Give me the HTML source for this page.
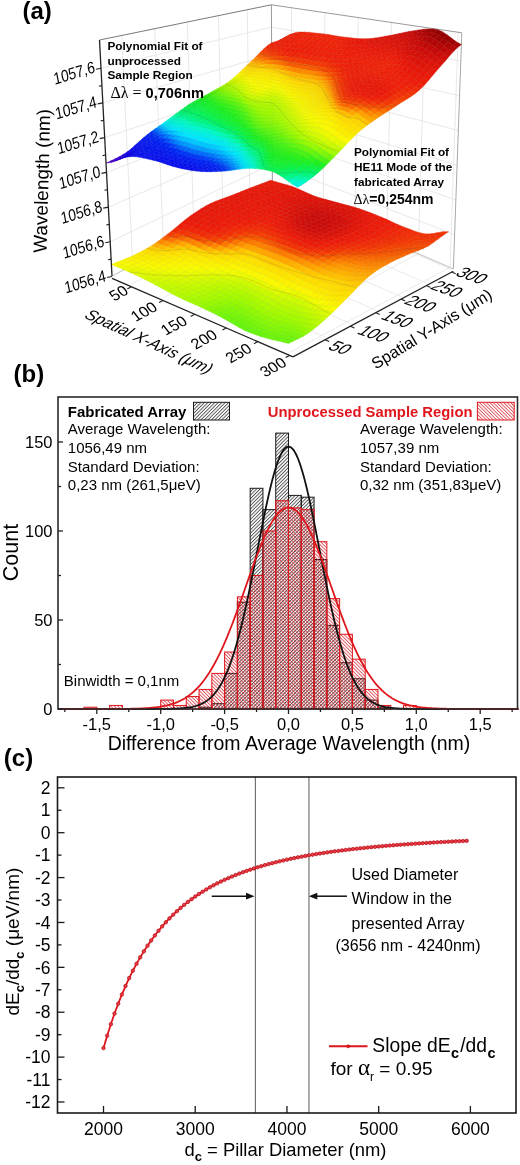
<!DOCTYPE html>
<html><head><meta charset="utf-8"><title>Figure</title>
<style>html,body{margin:0;padding:0;background:#fff;}svg{display:block;}</style></head>
<body><svg width="520" height="1165" viewBox="0 0 520 1165" font-family='"Liberation Sans", Arial, sans-serif' fill="#000">
<defs>
<pattern id="hk" patternUnits="userSpaceOnUse" width="2.45" height="2.45" patternTransform="rotate(45)">
<line x1="0.5" y1="0" x2="0.5" y2="2.45" stroke="#262626" stroke-width="0.75"/></pattern>
<pattern id="hr" patternUnits="userSpaceOnUse" width="2.45" height="2.45" patternTransform="rotate(-45)">
<line x1="0.5" y1="0" x2="0.5" y2="2.45" stroke="#d82832" stroke-width="0.75"/></pattern>
</defs>
<text x="22.5" y="18.8" font-size="24" font-weight="bold">(a)</text>
<text x="13.5" y="382.1" font-size="24" font-weight="bold">(b)</text>
<text x="3.8" y="765.6" font-size="24" font-weight="bold">(c)</text>
<g id="pa"><line x1="112.0" y1="276.5" x2="272.4" y2="191.2" stroke="#e0e0e0" stroke-width="0.75"/><line x1="272.4" y1="191.2" x2="453.4" y2="269.3" stroke="#e0e0e0" stroke-width="0.75"/><line x1="110.2" y1="241.8" x2="272.3" y2="163.8" stroke="#e0e0e0" stroke-width="0.75"/><line x1="272.3" y1="163.8" x2="454.6" y2="234.6" stroke="#e0e0e0" stroke-width="0.75"/><line x1="108.3" y1="207.1" x2="272.1" y2="136.5" stroke="#e0e0e0" stroke-width="0.75"/><line x1="272.1" y1="136.5" x2="455.9" y2="199.9" stroke="#e0e0e0" stroke-width="0.75"/><line x1="106.5" y1="172.4" x2="272.0" y2="109.1" stroke="#e0e0e0" stroke-width="0.75"/><line x1="272.0" y1="109.1" x2="457.1" y2="165.2" stroke="#e0e0e0" stroke-width="0.75"/><line x1="104.7" y1="137.6" x2="271.8" y2="81.8" stroke="#e0e0e0" stroke-width="0.75"/><line x1="271.8" y1="81.8" x2="458.3" y2="130.4" stroke="#e0e0e0" stroke-width="0.75"/><line x1="102.8" y1="102.9" x2="271.7" y2="54.4" stroke="#e0e0e0" stroke-width="0.75"/><line x1="271.7" y1="54.4" x2="459.6" y2="95.7" stroke="#e0e0e0" stroke-width="0.75"/><line x1="101.0" y1="68.2" x2="271.5" y2="27.1" stroke="#e0e0e0" stroke-width="0.75"/><line x1="271.5" y1="27.1" x2="460.8" y2="61.0" stroke="#e0e0e0" stroke-width="0.75"/><line x1="132.7" y1="265.0" x2="121.7" y2="35.5" stroke="#e0e0e0" stroke-width="0.75"/><line x1="163.5" y1="248.7" x2="154.7" y2="28.7" stroke="#e0e0e0" stroke-width="0.75"/><line x1="194.0" y1="232.5" x2="187.3" y2="22.0" stroke="#e0e0e0" stroke-width="0.75"/><line x1="223.0" y1="217.0" x2="218.5" y2="15.6" stroke="#e0e0e0" stroke-width="0.75"/><line x1="249.9" y1="202.7" x2="247.3" y2="9.7" stroke="#e0e0e0" stroke-width="0.75"/><line x1="291.6" y1="199.1" x2="291.6" y2="7.8" stroke="#e0e0e0" stroke-width="0.75"/><line x1="144.1" y1="259.0" x2="325.1" y2="337.0" stroke="#e4e4e4" stroke-width="0.8"/><line x1="131.2" y1="284.3" x2="291.6" y2="199.1" stroke="#e4e4e4" stroke-width="0.8"/><line x1="323.3" y1="212.7" x2="324.9" y2="12.7" stroke="#e0e0e0" stroke-width="0.75"/><line x1="169.4" y1="245.5" x2="350.4" y2="323.5" stroke="#e4e4e4" stroke-width="0.8"/><line x1="162.9" y1="297.9" x2="323.3" y2="212.7" stroke="#e4e4e4" stroke-width="0.8"/><line x1="354.9" y1="226.4" x2="358.2" y2="17.6" stroke="#e0e0e0" stroke-width="0.75"/><line x1="194.8" y1="232.0" x2="375.8" y2="310.0" stroke="#e4e4e4" stroke-width="0.8"/><line x1="194.5" y1="311.6" x2="354.9" y2="226.4" stroke="#e4e4e4" stroke-width="0.8"/><line x1="386.6" y1="240.0" x2="391.5" y2="22.5" stroke="#e0e0e0" stroke-width="0.75"/><line x1="220.1" y1="218.6" x2="401.1" y2="296.6" stroke="#e4e4e4" stroke-width="0.8"/><line x1="226.2" y1="325.2" x2="386.6" y2="240.0" stroke="#e4e4e4" stroke-width="0.8"/><line x1="418.3" y1="253.7" x2="424.9" y2="27.4" stroke="#e0e0e0" stroke-width="0.75"/><line x1="245.5" y1="205.1" x2="426.5" y2="283.1" stroke="#e4e4e4" stroke-width="0.8"/><line x1="257.9" y1="338.9" x2="418.3" y2="253.7" stroke="#e4e4e4" stroke-width="0.8"/><line x1="450.0" y1="267.3" x2="458.2" y2="32.3" stroke="#e0e0e0" stroke-width="0.75"/><line x1="270.8" y1="191.7" x2="451.8" y2="269.7" stroke="#e4e4e4" stroke-width="0.8"/><line x1="289.6" y1="352.5" x2="450.0" y2="267.3" stroke="#e4e4e4" stroke-width="0.8"/><line x1="272.4" y1="190.8" x2="271.4" y2="4.8" stroke="#9a9a9a" stroke-width="1.0"/><line x1="99.5" y1="40.0" x2="271.4" y2="4.8" stroke="#7a7a7a" stroke-width="1.0"/><line x1="271.4" y1="4.8" x2="461.8" y2="32.8" stroke="#9a9a9a" stroke-width="1.0"/><line x1="453.4" y1="268.8" x2="461.8" y2="32.8" stroke="#a8a8a8" stroke-width="1.0"/><line x1="112.0" y1="276.0" x2="272.4" y2="190.8" stroke="#bbbbbb" stroke-width="0.8"/><line x1="272.4" y1="190.8" x2="453.4" y2="268.8" stroke="#bbbbbb" stroke-width="0.8"/><g stroke-width="0.45" stroke-linejoin="round"><path d="M265.7 182.2L271.3 184.1L276.3 181.9L270.7 180.2Z" fill="#ea1a0a" stroke="#da1809"/><path d="M260.7 184.1L266.3 186.0L271.3 184.1L265.7 182.2Z" fill="#e91a0a" stroke="#d91809"/><path d="M271.3 184.1L276.8 185.6L281.8 183.5L276.3 181.9Z" fill="#ea1a0a" stroke="#d91809"/><path d="M255.8 185.9L261.3 187.8L266.3 186.0L260.7 184.1Z" fill="#e91a0a" stroke="#d91809"/><path d="M266.3 186.0L271.8 187.6L276.8 185.6L271.3 184.1Z" fill="#e91a0a" stroke="#d91809"/><path d="M276.8 185.6L282.3 187.2L287.3 185.0L281.8 183.5Z" fill="#e91a0a" stroke="#d91809"/><path d="M250.8 187.8L256.3 189.7L261.3 187.8L255.8 185.9Z" fill="#e9190a" stroke="#d91809"/><path d="M261.3 187.8L266.8 189.5L271.8 187.6L266.3 186.0Z" fill="#e9190a" stroke="#d91809"/><path d="M271.8 187.6L277.3 189.2L282.3 187.2L276.8 185.6Z" fill="#e9190a" stroke="#d81809"/><path d="M282.3 187.2L287.9 189.0L292.9 186.8L287.3 185.0Z" fill="#e8190a" stroke="#d81809"/><path d="M245.8 189.8L251.3 191.7L256.3 189.7L250.8 187.8Z" fill="#e9190a" stroke="#d81809"/><path d="M256.3 189.7L261.8 191.4L266.8 189.5L261.3 187.8Z" fill="#e9190a" stroke="#d81809"/><path d="M266.8 189.5L272.3 191.1L277.3 189.2L271.8 187.6Z" fill="#e8190a" stroke="#d81709"/><path d="M277.3 189.2L282.9 191.1L287.9 189.0L282.3 187.2Z" fill="#e8190a" stroke="#d81709"/><path d="M287.9 189.0L293.4 191.3L298.4 189.0L292.9 186.8Z" fill="#e8190a" stroke="#d71709"/><path d="M240.8 191.8L246.3 193.7L251.3 191.7L245.8 189.8Z" fill="#e9190a" stroke="#d81809"/><path d="M251.3 191.7L256.8 193.4L261.8 191.4L256.3 189.7Z" fill="#e8190a" stroke="#d81809"/><path d="M261.8 191.4L267.4 193.1L272.3 191.1L266.8 189.5Z" fill="#e8190a" stroke="#d81709"/><path d="M272.3 191.1L277.9 193.1L282.9 191.1L277.3 189.2Z" fill="#e7190a" stroke="#d71709"/><path d="M282.9 191.1L288.4 193.4L293.4 191.3L287.9 189.0Z" fill="#e7190a" stroke="#d71709"/><path d="M293.4 191.3L298.9 193.8L303.9 191.5L298.4 189.0Z" fill="#e6180a" stroke="#d61709"/><path d="M235.8 193.8L241.3 195.7L246.3 193.7L240.8 191.8Z" fill="#e8190a" stroke="#d81709"/><path d="M246.3 193.7L251.8 195.4L256.8 193.4L251.3 191.7Z" fill="#e8190a" stroke="#d81809"/><path d="M256.8 193.4L262.4 195.1L267.4 193.1L261.8 191.4Z" fill="#e8190a" stroke="#d81709"/><path d="M267.4 193.1L272.9 195.1L277.9 193.1L272.3 191.1Z" fill="#e7190a" stroke="#d71709"/><path d="M277.9 193.1L283.4 195.4L288.4 193.4L282.9 191.1Z" fill="#e6180a" stroke="#d61709"/><path d="M288.4 193.4L294.0 195.9L298.9 193.8L293.4 191.3Z" fill="#e5180a" stroke="#d51609"/><path d="M298.9 193.8L304.5 196.3L309.5 194.0L303.9 191.5Z" fill="#e4170a" stroke="#d41609"/><path d="M230.8 195.8L236.3 197.7L241.3 195.7L235.8 193.8Z" fill="#e8190a" stroke="#d81709"/><path d="M241.3 195.7L246.8 197.4L251.8 195.4L246.3 193.7Z" fill="#e8190a" stroke="#d81709"/><path d="M251.8 195.4L257.4 197.2L262.4 195.1L256.8 193.4Z" fill="#e8190a" stroke="#d81709"/><path d="M262.4 195.1L267.9 197.1L272.9 195.1L267.4 193.1Z" fill="#e7190a" stroke="#d71709"/><path d="M272.9 195.1L278.4 197.4L283.4 195.4L277.9 193.1Z" fill="#e6180a" stroke="#d61709"/><path d="M283.4 195.4L289.0 198.0L294.0 195.9L288.4 193.4Z" fill="#e5180a" stroke="#d51609"/><path d="M294.0 195.9L299.5 198.5L304.5 196.3L298.9 193.8Z" fill="#e3170a" stroke="#d31509"/><path d="M304.5 196.3L310.0 198.6L315.0 196.3L309.5 194.0Z" fill="#e2160a" stroke="#d31509"/><path d="M225.8 197.6L231.3 199.6L236.3 197.7L230.8 195.8Z" fill="#e8190a" stroke="#d81709"/><path d="M236.3 197.7L241.8 199.4L246.8 197.4L241.3 195.7Z" fill="#e8190a" stroke="#d81709"/><path d="M246.8 197.4L252.4 199.2L257.4 197.2L251.8 195.4Z" fill="#e8190a" stroke="#d81709"/><path d="M257.4 197.2L262.9 199.1L267.9 197.1L262.4 195.1Z" fill="#e8190a" stroke="#d81709"/><path d="M267.9 197.1L273.4 199.5L278.4 197.4L272.9 195.1Z" fill="#e7180a" stroke="#d61709"/><path d="M278.4 197.4L284.0 200.1L289.0 198.0L283.4 195.4Z" fill="#e5170a" stroke="#d51609"/><path d="M289.0 198.0L294.5 200.6L299.5 198.5L294.0 195.9Z" fill="#e2160a" stroke="#d31509"/><path d="M299.5 198.5L305.0 200.8L310.0 198.6L304.5 196.3Z" fill="#e0150a" stroke="#d11409"/><path d="M310.0 198.6L315.6 200.4L320.5 198.1L315.0 196.3Z" fill="#e1150a" stroke="#d11409"/><path d="M220.7 199.4L226.3 201.3L231.3 199.6L225.8 197.6Z" fill="#e8190a" stroke="#d81709"/><path d="M231.3 199.6L236.8 201.3L241.8 199.4L236.3 197.7Z" fill="#e8190a" stroke="#d81709"/><path d="M241.8 199.4L247.4 201.1L252.4 199.2L246.8 197.4Z" fill="#e8190a" stroke="#d81709"/><path d="M252.4 199.2L257.9 201.1L262.9 199.1L257.4 197.2Z" fill="#e8190a" stroke="#d81709"/><path d="M262.9 199.1L268.4 201.5L273.4 199.5L267.9 197.1Z" fill="#e7190a" stroke="#d71709"/><path d="M273.4 199.5L279.0 202.1L284.0 200.1L278.4 197.4Z" fill="#e5180a" stroke="#d51609"/><path d="M284.0 200.1L289.5 202.7L294.5 200.6L289.0 198.0Z" fill="#e2160a" stroke="#d21509"/><path d="M294.5 200.6L300.0 203.0L305.0 200.8L299.5 198.5Z" fill="#df150a" stroke="#d01309"/><path d="M305.0 200.8L310.6 202.7L315.6 200.4L310.0 198.6Z" fill="#de140a" stroke="#cf1309"/><path d="M315.6 200.4L321.1 202.0L326.1 199.6L320.5 198.1Z" fill="#df150a" stroke="#cf1309"/><path d="M215.7 201.2L221.3 203.1L226.3 201.3L220.7 199.4Z" fill="#e8190a" stroke="#d81709"/><path d="M226.3 201.3L231.8 203.0L236.8 201.3L231.3 199.6Z" fill="#e8190a" stroke="#d81709"/><path d="M236.8 201.3L242.4 203.0L247.4 201.1L241.8 199.4Z" fill="#e8190a" stroke="#d71709"/><path d="M247.4 201.1L252.9 203.1L257.9 201.1L252.4 199.2Z" fill="#e8190a" stroke="#d81709"/><path d="M257.9 201.1L263.4 203.5L268.4 201.5L262.9 199.1Z" fill="#e8190a" stroke="#d81709"/><path d="M268.4 201.5L274.0 204.1L279.0 202.1L273.4 199.5Z" fill="#e6180a" stroke="#d61709"/><path d="M279.0 202.1L284.5 204.7L289.5 202.7L284.0 200.1Z" fill="#e3170a" stroke="#d31509"/><path d="M289.5 202.7L295.0 205.1L300.0 203.0L294.5 200.6Z" fill="#df150a" stroke="#d01309"/><path d="M300.0 203.0L305.6 205.0L310.6 202.7L305.0 200.8Z" fill="#dc130a" stroke="#cd1209"/><path d="M310.6 202.7L316.1 204.4L321.1 202.0L315.6 200.4Z" fill="#dc130a" stroke="#cd1209"/><path d="M321.1 202.0L326.6 203.6L331.6 201.1L326.1 199.6Z" fill="#de140a" stroke="#ce1309"/><path d="M210.7 203.4L216.3 205.3L221.3 203.1L215.7 201.2Z" fill="#e8190a" stroke="#d81709"/><path d="M221.3 203.1L226.8 204.9L231.8 203.0L226.3 201.3Z" fill="#e9190a" stroke="#d81809"/><path d="M231.8 203.0L237.3 204.8L242.4 203.0L236.8 201.3Z" fill="#e8190a" stroke="#d81709"/><path d="M242.4 203.0L247.9 205.0L252.9 203.1L247.4 201.1Z" fill="#e8190a" stroke="#d81709"/><path d="M252.9 203.1L258.4 205.4L263.4 203.5L257.9 201.1Z" fill="#e9190a" stroke="#d81809"/><path d="M263.4 203.5L269.0 206.1L274.0 204.1L268.4 201.5Z" fill="#e8190a" stroke="#d81709"/><path d="M274.0 204.1L279.5 206.7L284.5 204.7L279.0 202.1Z" fill="#e5170a" stroke="#d51609"/><path d="M284.5 204.7L290.1 207.1L295.0 205.1L289.5 202.7Z" fill="#e0150a" stroke="#d01409"/><path d="M295.0 205.1L300.6 207.1L305.6 205.0L300.0 203.0Z" fill="#dc130a" stroke="#cc1209"/><path d="M305.6 205.0L311.1 206.7L316.1 204.4L310.6 202.7Z" fill="#da120a" stroke="#cb1109"/><path d="M316.1 204.4L321.6 206.0L326.6 203.6L321.1 202.0Z" fill="#db130a" stroke="#cb1109"/><path d="M326.6 203.6L332.2 205.1L337.2 202.6L331.6 201.1Z" fill="#dd140a" stroke="#ce1309"/><path d="M205.7 206.0L211.3 208.0L216.3 205.3L210.7 203.4Z" fill="#e8190a" stroke="#d71709"/><path d="M216.3 205.3L221.8 207.1L226.8 204.9L221.3 203.1Z" fill="#e91a0a" stroke="#d91809"/><path d="M226.8 204.9L232.3 206.6L237.3 204.8L231.8 203.0Z" fill="#e9190a" stroke="#d81809"/><path d="M237.3 204.8L242.9 206.7L247.9 205.0L242.4 203.0Z" fill="#e8190a" stroke="#d81709"/><path d="M247.9 205.0L253.4 207.3L258.4 205.4L252.9 203.1Z" fill="#e91a0a" stroke="#d91809"/><path d="M258.4 205.4L264.0 208.0L269.0 206.1L263.4 203.5Z" fill="#e91a0a" stroke="#d91809"/><path d="M269.0 206.1L274.5 208.7L279.5 206.7L274.0 204.1Z" fill="#e7190a" stroke="#d71709"/><path d="M279.5 206.7L285.1 209.1L290.1 207.1L284.5 204.7Z" fill="#e2160a" stroke="#d21509"/><path d="M290.1 207.1L295.6 209.2L300.6 207.1L295.0 205.1Z" fill="#dc130a" stroke="#cd1209"/><path d="M300.6 207.1L306.1 208.9L311.1 206.7L305.6 205.0Z" fill="#d8120a" stroke="#c91009"/><path d="M311.1 206.7L316.7 208.4L321.6 206.0L316.1 204.4Z" fill="#d8110a" stroke="#c91009"/><path d="M321.6 206.0L327.2 207.6L332.2 205.1L326.6 203.6Z" fill="#d9120a" stroke="#ca1109"/><path d="M332.2 205.1L337.7 206.7L342.7 204.1L337.2 202.6Z" fill="#de140a" stroke="#ce1309"/><path d="M200.7 209.0L206.3 210.9L211.3 208.0L205.7 206.0Z" fill="#e7190a" stroke="#d71709"/><path d="M211.3 208.0L216.8 209.7L221.8 207.1L216.3 205.3Z" fill="#e9190a" stroke="#d81809"/><path d="M221.8 207.1L227.3 208.9L232.3 206.6L226.8 204.9Z" fill="#e91a0a" stroke="#d91809"/><path d="M232.3 206.6L237.9 208.6L242.9 206.7L237.3 204.8Z" fill="#e9190a" stroke="#d81809"/><path d="M242.9 206.7L248.4 209.1L253.4 207.3L247.9 205.0Z" fill="#e91a0a" stroke="#d91809"/><path d="M253.4 207.3L259.0 209.9L264.0 208.0L258.4 205.4Z" fill="#ea1a0a" stroke="#da1809"/><path d="M264.0 208.0L269.5 210.6L274.5 208.7L269.0 206.1Z" fill="#e91a0a" stroke="#d91809"/><path d="M274.5 208.7L280.1 211.1L285.1 209.1L279.5 206.7Z" fill="#e5180a" stroke="#d51609"/><path d="M285.1 209.1L290.6 211.2L295.6 209.2L290.1 207.1Z" fill="#de140a" stroke="#cf1309"/><path d="M295.6 209.2L301.1 211.1L306.1 208.9L300.6 207.1Z" fill="#d8110a" stroke="#c91009"/><path d="M306.1 208.9L311.7 210.7L316.7 208.4L311.1 206.7Z" fill="#d6100a" stroke="#c70f09"/><path d="M316.7 208.4L322.2 210.1L327.2 207.6L321.6 206.0Z" fill="#d6100a" stroke="#c70f09"/><path d="M327.2 207.6L332.7 209.2L337.7 206.7L332.2 205.1Z" fill="#d9120a" stroke="#ca1109"/><path d="M337.7 206.7L343.3 208.1L348.3 205.6L342.7 204.1Z" fill="#de140a" stroke="#cf1309"/><path d="M195.8 212.2L201.3 214.1L206.3 210.9L200.7 209.0Z" fill="#e8190a" stroke="#d71709"/><path d="M206.3 210.9L211.8 212.6L216.8 209.7L211.3 208.0Z" fill="#e9190a" stroke="#d81809"/><path d="M216.8 209.7L222.3 211.5L227.3 208.9L221.8 207.1Z" fill="#ea1a0a" stroke="#d91809"/><path d="M227.3 208.9L232.9 210.8L237.9 208.6L232.3 206.6Z" fill="#e91a0a" stroke="#d91809"/><path d="M237.9 208.6L243.4 211.0L248.4 209.1L242.9 206.7Z" fill="#e91a0a" stroke="#d91809"/><path d="M248.4 209.1L254.0 211.7L259.0 209.9L253.4 207.3Z" fill="#eb1a0a" stroke="#da1909"/><path d="M259.0 209.9L264.5 212.5L269.5 210.6L264.0 208.0Z" fill="#eb1b0a" stroke="#db1909"/><path d="M269.5 210.6L275.1 213.0L280.1 211.1L274.5 208.7Z" fill="#e8190a" stroke="#d81709"/><path d="M280.1 211.1L285.6 213.1L290.6 211.2L285.1 209.1Z" fill="#e1160a" stroke="#d11409"/><path d="M290.6 211.2L296.1 213.1L301.1 211.1L295.6 209.2Z" fill="#da120a" stroke="#ca1109"/><path d="M301.1 211.1L306.7 212.8L311.7 210.7L306.1 208.9Z" fill="#d5100a" stroke="#c60f09"/><path d="M311.7 210.7L317.2 212.4L322.2 210.1L316.7 208.4Z" fill="#d40f0a" stroke="#c50e09"/><path d="M322.2 210.1L327.7 211.7L332.7 209.2L327.2 207.6Z" fill="#d5100a" stroke="#c60f09"/><path d="M332.7 209.2L338.3 210.8L343.3 208.1L337.7 206.7Z" fill="#da120a" stroke="#cb1109"/><path d="M343.3 208.1L348.8 209.7L353.8 207.1L348.3 205.6Z" fill="#df150a" stroke="#d01309"/><path d="M190.8 215.6L196.3 217.5L201.3 214.1L195.8 212.2Z" fill="#e8190a" stroke="#d81709"/><path d="M201.3 214.1L206.8 215.8L211.8 212.6L206.3 210.9Z" fill="#e9190a" stroke="#d91809"/><path d="M211.8 212.6L217.3 214.4L222.3 211.5L216.8 209.7Z" fill="#ea1a0a" stroke="#d91809"/><path d="M222.3 211.5L227.9 213.5L232.9 210.8L227.3 208.9Z" fill="#ea1a0a" stroke="#da1809"/><path d="M232.9 210.8L238.4 213.2L243.4 211.0L237.9 208.6Z" fill="#ea1a0a" stroke="#da1809"/><path d="M243.4 211.0L249.0 213.5L254.0 211.7L248.4 209.1Z" fill="#eb1a0a" stroke="#da1909"/><path d="M254.0 211.7L259.5 214.3L264.5 212.5L259.0 209.9Z" fill="#eb1b0a" stroke="#db1909"/><path d="M264.5 212.5L270.1 214.9L275.1 213.0L269.5 210.6Z" fill="#eb1b0a" stroke="#db1909"/><path d="M275.1 213.0L280.6 215.1L285.6 213.1L280.1 211.1Z" fill="#e6180a" stroke="#d51609"/><path d="M285.6 213.1L291.1 215.0L296.1 213.1L290.6 211.2Z" fill="#dd140a" stroke="#cd1209"/><path d="M296.1 213.1L301.7 214.8L306.7 212.8L301.1 211.1Z" fill="#d5100a" stroke="#c60f09"/><path d="M306.7 212.8L312.2 214.6L317.2 212.4L311.7 210.7Z" fill="#d20e0a" stroke="#c30d09"/><path d="M317.2 212.4L322.7 214.1L327.7 211.7L322.2 210.1Z" fill="#d20e0a" stroke="#c30d09"/><path d="M327.7 211.7L333.3 213.4L338.3 210.8L332.7 209.2Z" fill="#d5100a" stroke="#c60f09"/><path d="M338.3 210.8L343.8 212.4L348.8 209.7L343.3 208.1Z" fill="#db130a" stroke="#cb1109"/><path d="M348.8 209.7L354.4 211.4L359.4 208.8L353.8 207.1Z" fill="#e1160a" stroke="#d11409"/><path d="M185.9 219.3L191.4 221.2L196.3 217.5L190.8 215.6Z" fill="#ea1a0a" stroke="#d91809"/><path d="M196.3 217.5L201.9 219.3L206.8 215.8L201.3 214.1Z" fill="#e91a0a" stroke="#d91809"/><path d="M206.8 215.8L212.4 217.6L217.3 214.4L211.8 212.6Z" fill="#ea1a0a" stroke="#da1809"/><path d="M217.3 214.4L222.9 216.4L227.9 213.5L222.3 211.5Z" fill="#eb1a0a" stroke="#da1909"/><path d="M227.9 213.5L233.4 215.8L238.4 213.2L232.9 210.8Z" fill="#eb1b0a" stroke="#da1909"/><path d="M238.4 213.2L244.0 215.8L249.0 213.5L243.4 211.0Z" fill="#eb1b0a" stroke="#db1909"/><path d="M249.0 213.5L254.5 216.1L259.5 214.3L254.0 211.7Z" fill="#ec1b0a" stroke="#db1909"/><path d="M259.5 214.3L265.1 216.7L270.1 214.9L264.5 212.5Z" fill="#ec1b0a" stroke="#dc1909"/><path d="M270.1 214.9L275.6 217.0L280.6 215.1L275.1 213.0Z" fill="#ea1a0a" stroke="#da1809"/><path d="M280.6 215.1L286.1 217.0L291.1 215.0L285.6 213.1Z" fill="#e1160a" stroke="#d11409"/><path d="M291.1 215.0L296.7 216.8L301.7 214.8L296.1 213.1Z" fill="#d8110a" stroke="#c91009"/><path d="M301.7 214.8L307.2 216.6L312.2 214.6L306.7 212.8Z" fill="#d20e0a" stroke="#c30d09"/><path d="M312.2 214.6L317.8 216.3L322.7 214.1L317.2 212.4Z" fill="#d00d0a" stroke="#c10c09"/><path d="M322.7 214.1L328.3 215.8L333.3 213.4L327.7 211.7Z" fill="#d10e0a" stroke="#c30d09"/><path d="M333.3 213.4L338.8 215.0L343.8 212.4L338.3 210.8Z" fill="#d6100a" stroke="#c70f09"/><path d="M343.8 212.4L349.4 214.2L354.4 211.4L348.8 209.7Z" fill="#dd140a" stroke="#cd1209"/><path d="M354.4 211.4L359.9 213.4L364.9 210.7L359.4 208.8Z" fill="#e3170a" stroke="#d31509"/><path d="M180.9 223.3L186.4 225.3L191.4 221.2L185.9 219.3Z" fill="#ec1b0a" stroke="#db1909"/><path d="M191.4 221.2L196.9 223.0L201.9 219.3L196.3 217.5Z" fill="#eb1a0a" stroke="#da1909"/><path d="M201.9 219.3L207.4 221.1L212.4 217.6L206.8 215.8Z" fill="#eb1a0a" stroke="#da1909"/><path d="M212.4 217.6L217.9 219.6L222.9 216.4L217.3 214.4Z" fill="#eb1b0a" stroke="#db1909"/><path d="M222.9 216.4L228.4 218.8L233.4 215.8L227.9 213.5Z" fill="#eb1b0a" stroke="#db1909"/><path d="M233.4 215.8L239.0 218.4L244.0 215.8L238.4 213.2Z" fill="#ec1b0a" stroke="#db1909"/><path d="M244.0 215.8L249.5 218.4L254.5 216.1L249.0 213.5Z" fill="#ec1b0a" stroke="#dc1909"/><path d="M254.5 216.1L260.1 218.6L265.1 216.7L259.5 214.3Z" fill="#ed1b0a" stroke="#dc1909"/><path d="M265.1 216.7L270.6 218.8L275.6 217.0L270.1 214.9Z" fill="#ec1b0a" stroke="#dc1909"/><path d="M275.6 217.0L281.1 218.9L286.1 217.0L280.6 215.1Z" fill="#e7190a" stroke="#d71709"/><path d="M286.1 217.0L291.7 218.8L296.7 216.8L291.1 215.0Z" fill="#dc130a" stroke="#cc1209"/><path d="M296.7 216.8L302.2 218.6L307.2 216.6L301.7 214.8Z" fill="#d30f0a" stroke="#c40e09"/><path d="M307.2 216.6L312.8 218.4L317.8 216.3L312.2 214.6Z" fill="#cf0d0a" stroke="#c00c09"/><path d="M317.8 216.3L323.3 218.0L328.3 215.8L322.7 214.1Z" fill="#cf0d0a" stroke="#c00c09"/><path d="M328.3 215.8L333.8 217.5L338.8 215.0L333.3 213.4Z" fill="#d20e0a" stroke="#c30d09"/><path d="M338.8 215.0L344.4 216.9L349.4 214.2L343.8 212.4Z" fill="#d8110a" stroke="#c91009"/><path d="M349.4 214.2L354.9 216.2L359.9 213.4L354.4 211.4Z" fill="#df150a" stroke="#d01309"/><path d="M359.9 213.4L365.5 215.5L370.5 212.8L364.9 210.7Z" fill="#e6180a" stroke="#d61609"/><path d="M176.0 227.4L181.5 229.4L186.4 225.3L180.9 223.3Z" fill="#ee1e0a" stroke="#de1c09"/><path d="M186.4 225.3L192.0 227.1L196.9 223.0L191.4 221.2Z" fill="#ed1b0a" stroke="#dc1909"/><path d="M196.9 223.0L202.4 224.9L207.4 221.1L201.9 219.3Z" fill="#eb1b0a" stroke="#db1909"/><path d="M207.4 221.1L212.9 223.1L217.9 219.6L212.4 217.6Z" fill="#eb1b0a" stroke="#db1909"/><path d="M217.9 219.6L223.4 222.0L228.4 218.8L222.9 216.4Z" fill="#ec1b0a" stroke="#db1909"/><path d="M228.4 218.8L234.0 221.3L239.0 218.4L233.4 215.8Z" fill="#ec1b0a" stroke="#dc1909"/><path d="M239.0 218.4L244.5 221.0L249.5 218.4L244.0 215.8Z" fill="#ed1b0a" stroke="#dc1909"/><path d="M249.5 218.4L255.1 220.8L260.1 218.6L254.5 216.1Z" fill="#ed1c0a" stroke="#dd1a09"/><path d="M260.1 218.6L265.6 220.7L270.6 218.8L265.1 216.7Z" fill="#ed1c0a" stroke="#dd1a09"/><path d="M270.6 218.8L276.1 220.8L281.1 218.9L275.6 217.0Z" fill="#eb1b0a" stroke="#db1909"/><path d="M281.1 218.9L286.7 220.8L291.7 218.8L286.1 217.0Z" fill="#e2160a" stroke="#d21409"/><path d="M291.7 218.8L297.2 220.6L302.2 218.6L296.7 216.8Z" fill="#d6110a" stroke="#c70f09"/><path d="M302.2 218.6L307.8 220.4L312.8 218.4L307.2 216.6Z" fill="#cf0d0a" stroke="#c10c09"/><path d="M312.8 218.4L318.3 220.1L323.3 218.0L317.8 216.3Z" fill="#cd0c0a" stroke="#bf0b09"/><path d="M323.3 218.0L328.8 219.7L333.8 217.5L328.3 215.8Z" fill="#cf0d0a" stroke="#c00c09"/><path d="M333.8 217.5L339.4 219.4L344.4 216.9L338.8 215.0Z" fill="#d30f0a" stroke="#c50e09"/><path d="M344.4 216.9L349.9 219.0L354.9 216.2L349.4 214.2Z" fill="#db130a" stroke="#cc1109"/><path d="M354.9 216.2L360.5 218.4L365.5 215.5L359.9 213.4Z" fill="#e3160a" stroke="#d31509"/><path d="M365.5 215.5L371.0 217.7L376.0 214.9L370.5 212.8Z" fill="#e91a0a" stroke="#d91809"/><path d="M171.1 231.4L176.6 233.4L181.5 229.4L176.0 227.4Z" fill="#f12c07" stroke="#e02906"/><path d="M181.5 229.4L187.0 231.3L192.0 227.1L186.4 225.3Z" fill="#ef2209" stroke="#de1f08"/><path d="M192.0 227.1L197.5 229.0L202.4 224.9L196.9 223.0Z" fill="#ed1c0a" stroke="#dc1a09"/><path d="M202.4 224.9L208.0 226.9L212.9 223.1L207.4 221.1Z" fill="#ec1b0a" stroke="#dc1909"/><path d="M212.9 223.1L218.5 225.4L223.4 222.0L217.9 219.6Z" fill="#ec1b0a" stroke="#dc1909"/><path d="M223.4 222.0L229.0 224.5L234.0 221.3L228.4 218.8Z" fill="#ed1b0a" stroke="#dc1a09"/><path d="M234.0 221.3L239.5 223.9L244.5 221.0L239.0 218.4Z" fill="#ed1c0a" stroke="#dd1a09"/><path d="M244.5 221.0L250.1 223.4L255.1 220.8L249.5 218.4Z" fill="#ee1c0a" stroke="#dd1a09"/><path d="M255.1 220.8L260.6 223.0L265.6 220.7L260.1 218.6Z" fill="#ee1e0a" stroke="#de1b09"/><path d="M265.6 220.7L271.1 222.7L276.1 220.8L270.6 218.8Z" fill="#ed1c0a" stroke="#dd1a09"/><path d="M276.1 220.8L281.7 222.6L286.7 220.8L281.1 218.9Z" fill="#e9190a" stroke="#d81809"/><path d="M286.7 220.8L292.2 222.6L297.2 220.6L291.7 218.8Z" fill="#dc130a" stroke="#cc1209"/><path d="M297.2 220.6L302.8 222.4L307.8 220.4L302.2 218.6Z" fill="#d20e0a" stroke="#c30d09"/><path d="M307.8 220.4L313.3 222.1L318.3 220.1L312.8 218.4Z" fill="#cc0c0a" stroke="#be0b09"/><path d="M318.3 220.1L323.8 221.8L328.8 219.7L323.3 218.0Z" fill="#cc0c0a" stroke="#be0b09"/><path d="M328.8 219.7L334.4 221.7L339.4 219.4L333.8 217.5Z" fill="#d00e0a" stroke="#c20d09"/><path d="M339.4 219.4L344.9 221.5L349.9 219.0L344.4 216.9Z" fill="#d7110a" stroke="#c80f09"/><path d="M349.9 219.0L355.5 221.2L360.5 218.4L354.9 216.2Z" fill="#df150a" stroke="#cf1309"/><path d="M360.5 218.4L366.0 220.6L371.0 217.7L365.5 215.5Z" fill="#e6180a" stroke="#d61709"/><path d="M371.0 217.7L376.6 220.0L381.6 217.2L376.0 214.9Z" fill="#eb1b0a" stroke="#db1909"/><path d="M166.1 235.2L171.6 237.2L176.6 233.4L171.1 231.4Z" fill="#f43c04" stroke="#e33803"/><path d="M176.6 233.4L182.1 235.3L187.0 231.3L181.5 229.4Z" fill="#f23206" stroke="#e12e05"/><path d="M187.0 231.3L192.6 233.2L197.5 229.0L192.0 227.1Z" fill="#f02508" stroke="#df2208"/><path d="M197.5 229.0L203.0 231.0L208.0 226.9L202.4 224.9Z" fill="#ee1c0a" stroke="#dd1a09"/><path d="M208.0 226.9L213.5 229.2L218.5 225.4L212.9 223.1Z" fill="#ed1c0a" stroke="#dc1a09"/><path d="M218.5 225.4L224.0 228.0L229.0 224.5L223.4 222.0Z" fill="#ee1c0a" stroke="#dd1a09"/><path d="M229.0 224.5L234.5 227.1L239.5 223.9L234.0 221.3Z" fill="#ee1e0a" stroke="#de1b09"/><path d="M239.5 223.9L245.1 226.4L250.1 223.4L244.5 221.0Z" fill="#ef2009" stroke="#de1e09"/><path d="M250.1 223.4L255.6 225.6L260.6 223.0L255.1 220.8Z" fill="#ef2209" stroke="#de1f08"/><path d="M260.6 223.0L266.1 225.0L271.1 222.7L265.6 220.7Z" fill="#ef2009" stroke="#de1d09"/><path d="M271.1 222.7L276.7 224.6L281.7 222.6L276.1 220.8Z" fill="#ec1b0a" stroke="#dc1909"/><path d="M281.7 222.6L287.2 224.5L292.2 222.6L286.7 220.8Z" fill="#e3170a" stroke="#d31509"/><path d="M292.2 222.6L297.8 224.4L302.8 222.4L297.2 220.6Z" fill="#d6110a" stroke="#c70f09"/><path d="M302.8 222.4L308.3 224.1L313.3 222.1L307.8 220.4Z" fill="#ce0d0a" stroke="#c00c09"/><path d="M313.3 222.1L318.9 223.8L323.8 221.8L318.3 220.1Z" fill="#ca0b09" stroke="#bb0b09"/><path d="M323.8 221.8L329.4 223.7L334.4 221.7L328.8 219.7Z" fill="#ce0c0a" stroke="#c00c09"/><path d="M334.4 221.7L339.9 223.8L344.9 221.5L339.4 219.4Z" fill="#d30f0a" stroke="#c40e09"/><path d="M344.9 221.5L350.5 223.8L355.5 221.2L349.9 219.0Z" fill="#db130a" stroke="#cc1209"/><path d="M355.5 221.2L361.0 223.5L366.0 220.6L360.5 218.4Z" fill="#e3170a" stroke="#d41509"/><path d="M366.0 220.6L371.5 223.0L376.6 220.0L371.0 217.7Z" fill="#eb1a0a" stroke="#da1909"/><path d="M376.6 220.0L382.1 222.5L387.1 219.6L381.6 217.2Z" fill="#ed1b0a" stroke="#dc1909"/><path d="M161.2 239.0L166.7 241.0L171.6 237.2L166.1 235.2Z" fill="#fa5f00" stroke="#e85800"/><path d="M171.6 237.2L177.2 239.2L182.1 235.3L176.6 233.4Z" fill="#f84f00" stroke="#e74a00"/><path d="M182.1 235.3L187.6 237.3L192.6 233.2L187.0 231.3Z" fill="#f33805" stroke="#e23504"/><path d="M192.6 233.2L198.1 235.3L203.0 231.0L197.5 229.0Z" fill="#f02708" stroke="#df2407"/><path d="M203.0 231.0L208.6 233.4L213.5 229.2L208.0 226.9Z" fill="#ef1f09" stroke="#de1d09"/><path d="M213.5 229.2L219.1 231.8L224.0 228.0L218.5 225.4Z" fill="#ee1e0a" stroke="#de1c09"/><path d="M224.0 228.0L229.6 230.6L234.5 227.1L229.0 224.5Z" fill="#ef2109" stroke="#de1f08"/><path d="M234.5 227.1L240.1 229.5L245.1 226.4L239.5 223.9Z" fill="#f02508" stroke="#df2208"/><path d="M245.1 226.4L250.6 228.6L255.6 225.6L250.1 223.4Z" fill="#f02608" stroke="#df2407"/><path d="M255.6 225.6L261.1 227.7L266.1 225.0L260.6 223.0Z" fill="#f02508" stroke="#df2308"/><path d="M266.1 225.0L271.7 227.0L276.7 224.6L271.1 222.7Z" fill="#ef1f09" stroke="#de1d09"/><path d="M276.7 224.6L282.2 226.5L287.2 224.5L281.7 222.6Z" fill="#eb1b0a" stroke="#db1909"/><path d="M287.2 224.5L292.8 226.3L297.8 224.4L292.2 222.6Z" fill="#dd140a" stroke="#ce1209"/><path d="M297.8 224.4L303.3 226.1L308.3 224.1L302.8 222.4Z" fill="#d20f0a" stroke="#c40e09"/><path d="M308.3 224.1L313.9 225.8L318.9 223.8L313.3 222.1Z" fill="#ca0b0a" stroke="#bc0b09"/><path d="M318.9 223.8L324.4 225.7L329.4 223.7L323.8 221.8Z" fill="#cc0c0a" stroke="#be0b09"/><path d="M329.4 223.7L334.9 225.8L339.9 223.8L334.4 221.7Z" fill="#d10e0a" stroke="#c20d09"/><path d="M339.9 223.8L345.5 226.0L350.5 223.8L344.9 221.5Z" fill="#d8110a" stroke="#c91009"/><path d="M350.5 223.8L356.0 226.2L361.0 223.5L355.5 221.2Z" fill="#e1160a" stroke="#d11409"/><path d="M361.0 223.5L366.5 225.9L371.5 223.0L366.0 220.6Z" fill="#e8190a" stroke="#d81809"/><path d="M371.5 223.0L377.1 225.5L382.1 222.5L376.6 220.0Z" fill="#ec1b0a" stroke="#dc1909"/><path d="M382.1 222.5L387.6 225.0L392.6 222.2L387.1 219.6Z" fill="#ee1c0a" stroke="#dd1a09"/><path d="M156.3 242.6L161.8 244.7L166.7 241.0L161.2 239.0Z" fill="#fe8700" stroke="#ec7e00"/><path d="M166.7 241.0L172.2 243.0L177.2 239.2L171.6 237.2Z" fill="#fb7300" stroke="#ea6b00"/><path d="M177.2 239.2L182.7 241.2L187.6 237.3L182.1 235.3Z" fill="#fa6700" stroke="#e96000"/><path d="M187.6 237.3L193.1 239.4L198.1 235.3L192.6 233.2Z" fill="#f54003" stroke="#e43b03"/><path d="M198.1 235.3L203.6 237.7L208.6 233.4L203.0 231.0Z" fill="#f12b07" stroke="#e02807"/><path d="M208.6 233.4L214.1 236.0L219.1 231.8L213.5 229.2Z" fill="#f02508" stroke="#df2208"/><path d="M219.1 231.8L224.6 234.4L229.6 230.6L224.0 228.0Z" fill="#f02608" stroke="#df2308"/><path d="M229.6 230.6L235.1 233.0L240.1 229.5L234.5 227.1Z" fill="#f12a07" stroke="#e02707"/><path d="M240.1 229.5L245.6 231.8L250.6 228.6L245.1 226.4Z" fill="#f12c07" stroke="#e02906"/><path d="M250.6 228.6L256.2 230.6L261.1 227.7L255.6 225.6Z" fill="#f12c07" stroke="#e02906"/><path d="M261.1 227.7L266.7 229.7L271.7 227.0L266.1 225.0Z" fill="#f02708" stroke="#df2407"/><path d="M271.7 227.0L277.2 228.9L282.2 226.5L276.7 224.6Z" fill="#ee1c0a" stroke="#dd1a09"/><path d="M282.2 226.5L287.8 228.4L292.8 226.3L287.2 224.5Z" fill="#e6180a" stroke="#d61609"/><path d="M292.8 226.3L298.3 228.0L303.3 226.1L297.8 224.4Z" fill="#d8110a" stroke="#c91009"/><path d="M303.3 226.1L308.9 227.8L313.9 225.8L308.3 224.1Z" fill="#cf0d0a" stroke="#c10c09"/><path d="M313.9 225.8L319.4 227.7L324.4 225.7L318.9 223.8Z" fill="#cb0c0a" stroke="#bc0b09"/><path d="M324.4 225.7L329.9 227.8L334.9 225.8L329.4 223.7Z" fill="#cf0d0a" stroke="#c10c09"/><path d="M334.9 225.8L340.5 228.1L345.5 226.0L339.9 223.8Z" fill="#d5100a" stroke="#c60f09"/><path d="M345.5 226.0L351.0 228.4L356.0 226.2L350.5 223.8Z" fill="#de140a" stroke="#ce1309"/><path d="M356.0 226.2L361.5 228.6L366.5 225.9L361.0 223.5Z" fill="#e6180a" stroke="#d61709"/><path d="M366.5 225.9L372.1 228.5L377.1 225.5L371.5 223.0Z" fill="#ec1b0a" stroke="#db1909"/><path d="M377.1 225.5L382.6 228.1L387.6 225.0L382.1 222.5Z" fill="#ee1c0a" stroke="#dd1a09"/><path d="M387.6 225.0L393.2 227.6L398.2 224.7L392.6 222.2Z" fill="#ef2009" stroke="#de1e09"/><path d="M151.3 245.9L156.8 248.0L161.8 244.7L156.3 242.6Z" fill="#ffab00" stroke="#ed9f00"/><path d="M161.8 244.7L167.3 246.7L172.2 243.0L166.7 241.0Z" fill="#ff9700" stroke="#ed8d00"/><path d="M172.2 243.0L177.7 245.0L182.7 241.2L177.2 239.2Z" fill="#fe8f00" stroke="#ec8500"/><path d="M182.7 241.2L188.2 243.3L193.1 239.4L187.6 237.3Z" fill="#fc7900" stroke="#ea7100"/><path d="M193.1 239.4L198.7 241.8L203.6 237.7L198.1 235.3Z" fill="#f64602" stroke="#e54102"/><path d="M203.6 237.7L209.2 240.3L214.1 236.0L208.6 233.4Z" fill="#f23206" stroke="#e12e05"/><path d="M214.1 236.0L219.7 238.6L224.6 234.4L219.1 231.8Z" fill="#f12d07" stroke="#e02a06"/><path d="M224.6 234.4L230.2 236.9L235.1 233.0L229.6 230.6Z" fill="#f23006" stroke="#e12d06"/><path d="M235.1 233.0L240.7 235.3L245.6 231.8L240.1 229.5Z" fill="#f23306" stroke="#e13005"/><path d="M245.6 231.8L251.2 233.9L256.2 230.6L250.6 228.6Z" fill="#f23306" stroke="#e12f05"/><path d="M256.2 230.6L261.7 232.6L266.7 229.7L261.1 227.7Z" fill="#f22f06" stroke="#e12c06"/><path d="M266.7 229.7L272.2 231.6L277.2 228.9L271.7 227.0Z" fill="#f02608" stroke="#df2308"/><path d="M277.2 228.9L282.8 230.7L287.8 228.4L282.2 226.5Z" fill="#ec1b0a" stroke="#dc1909"/><path d="M287.8 228.4L293.3 230.1L298.3 228.0L292.8 226.3Z" fill="#e0150a" stroke="#d11409"/><path d="M298.3 228.0L303.9 229.8L308.9 227.8L303.3 226.1Z" fill="#d5100a" stroke="#c60f09"/><path d="M308.9 227.8L314.4 229.7L319.4 227.7L313.9 225.8Z" fill="#cd0c0a" stroke="#bf0b09"/><path d="M319.4 227.7L324.9 229.8L329.9 227.8L324.4 225.7Z" fill="#cf0d0a" stroke="#c00c09"/><path d="M329.9 227.8L335.5 230.1L340.5 228.1L334.9 225.8Z" fill="#d40f0a" stroke="#c50e09"/><path d="M340.5 228.1L346.0 230.5L351.0 228.4L345.5 226.0Z" fill="#db130a" stroke="#cc1209"/><path d="M351.0 228.4L356.6 230.9L361.5 228.6L356.0 226.2Z" fill="#e5180a" stroke="#d51609"/><path d="M361.5 228.6L367.1 231.2L372.1 228.5L366.5 225.9Z" fill="#eb1b0a" stroke="#db1909"/><path d="M372.1 228.5L377.6 231.2L382.6 228.1L377.1 225.5Z" fill="#ed1c0a" stroke="#dd1a09"/><path d="M382.6 228.1L388.2 230.8L393.2 227.6L387.6 225.0Z" fill="#ef1f09" stroke="#de1d09"/><path d="M393.2 227.6L398.7 229.9L403.7 227.0L398.2 224.7Z" fill="#f02408" stroke="#df2108"/><path d="M146.3 248.8L151.9 251.0L156.8 248.0L151.3 245.9Z" fill="#ffcc00" stroke="#edbe00"/><path d="M156.8 248.0L162.3 250.1L167.3 246.7L161.8 244.7Z" fill="#ffb800" stroke="#edab00"/><path d="M167.3 246.7L172.8 248.7L177.7 245.0L172.2 243.0Z" fill="#ffac00" stroke="#eda000"/><path d="M177.7 245.0L183.3 247.2L188.2 243.3L182.7 241.2Z" fill="#ffa700" stroke="#ed9c00"/><path d="M188.2 243.3L193.7 245.8L198.7 241.8L193.1 239.4Z" fill="#fd8300" stroke="#eb7a00"/><path d="M198.7 241.8L204.2 244.4L209.2 240.3L203.6 237.7Z" fill="#f95600" stroke="#e75000"/><path d="M209.2 240.3L214.7 242.9L219.7 238.6L214.1 236.0Z" fill="#f54003" stroke="#e43c03"/><path d="M219.7 238.6L225.2 241.1L230.2 236.9L224.6 234.4Z" fill="#f43b04" stroke="#e33604"/><path d="M230.2 236.9L235.7 239.2L240.7 235.3L235.1 233.0Z" fill="#f54103" stroke="#e43c03"/><path d="M240.7 235.3L246.2 237.4L251.2 233.9L245.6 231.8Z" fill="#f54203" stroke="#e43d03"/><path d="M251.2 233.9L256.7 235.9L261.7 232.6L256.2 230.6Z" fill="#f43a04" stroke="#e33604"/><path d="M261.7 232.6L267.2 234.6L272.2 231.6L266.7 229.7Z" fill="#f23006" stroke="#e12d06"/><path d="M272.2 231.6L277.8 233.5L282.8 230.7L277.2 228.9Z" fill="#ef2209" stroke="#de1f08"/><path d="M282.8 230.7L288.3 232.5L293.3 230.1L287.8 228.4Z" fill="#ea1a0a" stroke="#da1809"/><path d="M293.3 230.1L298.9 231.9L303.9 229.8L298.3 228.0Z" fill="#dc130a" stroke="#cd1209"/><path d="M303.9 229.8L309.4 231.7L314.4 229.7L308.9 227.8Z" fill="#d20e0a" stroke="#c30d09"/><path d="M314.4 229.7L319.9 231.9L324.9 229.8L319.4 227.7Z" fill="#cf0d0a" stroke="#c10c09"/><path d="M324.9 229.8L330.5 232.1L335.5 230.1L329.9 227.8Z" fill="#d40f0a" stroke="#c50e09"/><path d="M335.5 230.1L341.0 232.4L346.0 230.5L340.5 228.1Z" fill="#da120a" stroke="#ca1109"/><path d="M346.0 230.5L351.6 232.9L356.6 230.9L351.0 228.4Z" fill="#e3170a" stroke="#d31509"/><path d="M356.6 230.9L362.1 233.5L367.1 231.2L361.5 228.6Z" fill="#eb1b0a" stroke="#db1909"/><path d="M367.1 231.2L372.6 234.0L377.6 231.2L372.1 228.5Z" fill="#ed1c0a" stroke="#dd1a09"/><path d="M377.6 231.2L383.1 233.9L388.2 230.8L382.6 228.1Z" fill="#ef2009" stroke="#de1e09"/><path d="M388.2 230.8L393.7 233.1L398.7 229.9L393.2 227.6Z" fill="#f02508" stroke="#df2208"/><path d="M398.7 229.9L404.2 232.1L409.3 229.1L403.7 227.0Z" fill="#f02808" stroke="#df2507"/><path d="M141.4 251.5L146.9 253.7L151.9 251.0L146.3 248.8Z" fill="#fede00" stroke="#eccf00"/><path d="M151.9 251.0L157.4 253.1L162.3 250.1L156.8 248.0Z" fill="#ffd500" stroke="#edc600"/><path d="M162.3 250.1L167.9 252.1L172.8 248.7L167.3 246.7Z" fill="#ffc900" stroke="#edbb00"/><path d="M172.8 248.7L178.3 250.9L183.3 247.2L177.7 245.0Z" fill="#ffc600" stroke="#edb800"/><path d="M183.3 247.2L188.8 249.7L193.7 245.8L188.2 243.3Z" fill="#ffb800" stroke="#edab00"/><path d="M193.7 245.8L199.3 248.4L204.2 244.4L198.7 241.8Z" fill="#ff9100" stroke="#ed8700"/><path d="M204.2 244.4L209.8 247.1L214.7 242.9L209.2 240.3Z" fill="#fb6e00" stroke="#e96700"/><path d="M214.7 242.9L220.3 245.4L225.2 241.1L219.7 238.6Z" fill="#f95800" stroke="#e75200"/><path d="M225.2 241.1L230.7 243.4L235.7 239.2L230.2 236.9Z" fill="#f95800" stroke="#e75200"/><path d="M235.7 239.2L241.2 241.3L246.2 237.4L240.7 235.3Z" fill="#f95800" stroke="#e75200"/><path d="M246.2 237.4L251.7 239.5L256.7 235.9L251.2 233.9Z" fill="#f85000" stroke="#e74a00"/><path d="M256.7 235.9L262.3 237.9L267.2 234.6L261.7 232.6Z" fill="#f54003" stroke="#e43b03"/><path d="M267.2 234.6L272.8 236.5L277.8 233.5L272.2 231.6Z" fill="#f22e06" stroke="#e12b06"/><path d="M277.8 233.5L283.3 235.2L288.3 232.5L282.8 230.7Z" fill="#ee1c0a" stroke="#dd1a09"/><path d="M288.3 232.5L293.9 234.3L298.9 231.9L293.3 230.1Z" fill="#e6180a" stroke="#d61609"/><path d="M298.9 231.9L304.4 233.8L309.4 231.7L303.9 229.8Z" fill="#d9120a" stroke="#ca1109"/><path d="M309.4 231.7L314.9 233.8L319.9 231.9L314.4 229.7Z" fill="#d20e0a" stroke="#c30d09"/><path d="M319.9 231.9L325.5 234.1L330.5 232.1L324.9 229.8Z" fill="#d5100a" stroke="#c60f09"/><path d="M330.5 232.1L336.0 234.4L341.0 232.4L335.5 230.1Z" fill="#da120a" stroke="#ca1109"/><path d="M341.0 232.4L346.6 234.9L351.6 232.9L346.0 230.5Z" fill="#e2160a" stroke="#d21509"/><path d="M351.6 232.9L357.1 235.5L362.1 233.5L356.6 230.9Z" fill="#eb1a0a" stroke="#da1909"/><path d="M362.1 233.5L367.6 236.3L372.6 234.0L367.1 231.2Z" fill="#ed1c0a" stroke="#dd1a09"/><path d="M372.6 234.0L378.1 236.7L383.1 233.9L377.6 231.2Z" fill="#ef2109" stroke="#de1e08"/><path d="M383.1 233.9L388.7 236.3L393.7 233.1L388.2 230.8Z" fill="#f02608" stroke="#df2308"/><path d="M393.7 233.1L399.2 235.4L404.2 232.1L398.7 229.9Z" fill="#f12907" stroke="#e02707"/><path d="M404.2 232.1L409.8 234.2L414.8 231.2L409.3 229.1Z" fill="#f12c07" stroke="#e02906"/><path d="M136.4 254.0L141.9 256.2L146.9 253.7L141.4 251.5Z" fill="#fde600" stroke="#ebd600"/><path d="M146.9 253.7L152.4 255.8L157.4 253.1L151.9 251.0Z" fill="#fde100" stroke="#ecd100"/><path d="M157.4 253.1L162.9 255.2L167.9 252.1L162.3 250.1Z" fill="#fedc00" stroke="#eccc00"/><path d="M167.9 252.1L173.4 254.4L178.3 250.9L172.8 248.7Z" fill="#feda00" stroke="#ecca00"/><path d="M178.3 250.9L183.9 253.4L188.8 249.7L183.3 247.2Z" fill="#fed900" stroke="#edc900"/><path d="M188.8 249.7L194.3 252.3L199.3 248.4L193.7 245.8Z" fill="#ffc500" stroke="#edb700"/><path d="M199.3 248.4L204.8 251.1L209.8 247.1L204.2 244.4Z" fill="#ffa400" stroke="#ed9800"/><path d="M209.8 247.1L215.3 249.6L220.3 245.4L214.7 242.9Z" fill="#fe8900" stroke="#ec7f00"/><path d="M220.3 245.4L225.8 247.8L230.7 243.4L225.2 241.1Z" fill="#fc7900" stroke="#ea7100"/><path d="M230.7 243.4L236.3 245.7L241.2 241.3L235.7 239.2Z" fill="#fc7500" stroke="#ea6d00"/><path d="M241.2 241.3L246.8 243.5L251.7 239.5L246.2 237.4Z" fill="#fb6c00" stroke="#e96500"/><path d="M251.7 239.5L257.3 241.5L262.3 237.9L256.7 235.9Z" fill="#f95a00" stroke="#e85400"/><path d="M262.3 237.9L267.8 239.8L272.8 236.5L267.2 234.6Z" fill="#f54003" stroke="#e43c03"/><path d="M272.8 236.5L278.3 238.3L283.3 235.2L277.8 233.5Z" fill="#f12b07" stroke="#e02807"/><path d="M283.3 235.2L288.9 237.0L293.9 234.3L288.3 232.5Z" fill="#ed1b0a" stroke="#dc1909"/><path d="M293.9 234.3L299.4 236.2L304.4 233.8L298.9 231.9Z" fill="#e3170a" stroke="#d31509"/><path d="M304.4 233.8L309.9 235.9L314.9 233.8L309.4 231.7Z" fill="#d8120a" stroke="#c91009"/><path d="M314.9 233.8L320.5 236.1L325.5 234.1L319.9 231.9Z" fill="#d6110a" stroke="#c70f09"/><path d="M325.5 234.1L331.0 236.5L336.0 234.4L330.5 232.1Z" fill="#db130a" stroke="#cc1209"/><path d="M336.0 234.4L341.6 236.9L346.6 234.9L341.0 232.4Z" fill="#e2160a" stroke="#d21409"/><path d="M346.6 234.9L352.1 237.5L357.1 235.5L351.6 232.9Z" fill="#eb1a0a" stroke="#da1909"/><path d="M357.1 235.5L362.6 238.3L367.6 236.3L362.1 233.5Z" fill="#ed1c0a" stroke="#dd1a09"/><path d="M367.6 236.3L373.2 239.0L378.1 236.7L372.6 234.0Z" fill="#ef2109" stroke="#de1f08"/><path d="M378.1 236.7L383.7 239.2L388.7 236.3L383.1 233.9Z" fill="#f02708" stroke="#df2407"/><path d="M388.7 236.3L394.2 238.6L399.2 235.4L393.7 233.1Z" fill="#f12b07" stroke="#e02807"/><path d="M399.2 235.4L404.8 237.5L409.8 234.2L404.2 232.1Z" fill="#f12e07" stroke="#e12b06"/><path d="M409.8 234.2L415.4 235.9L420.4 232.9L414.8 231.2Z" fill="#f22f06" stroke="#e12c06"/><path d="M131.4 256.4L136.9 258.6L141.9 256.2L136.4 254.0Z" fill="#fcec00" stroke="#eadc00"/><path d="M141.9 256.2L147.4 258.4L152.4 255.8L146.9 253.7Z" fill="#fce900" stroke="#ebd800"/><path d="M152.4 255.8L157.9 258.0L162.9 255.2L157.4 253.1Z" fill="#fde500" stroke="#ebd500"/><path d="M162.9 255.2L168.4 257.5L173.4 254.4L167.9 252.1Z" fill="#fde300" stroke="#ebd300"/><path d="M173.4 254.4L178.9 256.9L183.9 253.4L178.3 250.9Z" fill="#fde200" stroke="#ebd300"/><path d="M183.9 253.4L189.4 256.1L194.3 252.3L188.8 249.7Z" fill="#fedf00" stroke="#ecd000"/><path d="M194.3 252.3L199.9 255.0L204.8 251.1L199.3 248.4Z" fill="#ffd400" stroke="#edc500"/><path d="M204.8 251.1L210.4 253.7L215.3 249.6L209.8 247.1Z" fill="#ffb700" stroke="#edaa00"/><path d="M215.3 249.6L220.8 252.0L225.8 247.8L220.3 245.4Z" fill="#ffa300" stroke="#ed9800"/><path d="M225.8 247.8L231.3 250.1L236.3 245.7L230.7 243.4Z" fill="#ff9800" stroke="#ed8e00"/><path d="M236.3 245.7L241.8 247.8L246.8 243.5L241.2 241.3Z" fill="#fe8e00" stroke="#ec8400"/><path d="M246.8 243.5L252.3 245.5L257.3 241.5L251.7 239.5Z" fill="#fc7a00" stroke="#eb7200"/><path d="M257.3 241.5L262.8 243.4L267.8 239.8L262.3 237.9Z" fill="#f95e00" stroke="#e85700"/><path d="M267.8 239.8L273.3 241.6L278.3 238.3L272.8 236.5Z" fill="#f43c04" stroke="#e33704"/><path d="M278.3 238.3L283.9 240.1L288.9 237.0L283.3 235.2Z" fill="#f02608" stroke="#df2307"/><path d="M288.9 237.0L294.4 239.0L299.4 236.2L293.9 234.3Z" fill="#ec1b0a" stroke="#db1909"/><path d="M299.4 236.2L304.9 238.4L309.9 235.9L304.4 233.8Z" fill="#e1160a" stroke="#d21409"/><path d="M309.9 235.9L315.5 238.2L320.5 236.1L314.9 233.8Z" fill="#db130a" stroke="#cb1109"/><path d="M320.5 236.1L326.0 238.5L331.0 236.5L325.5 234.1Z" fill="#dd140a" stroke="#ce1309"/><path d="M331.0 236.5L336.6 238.9L341.6 236.9L336.0 234.4Z" fill="#e3170a" stroke="#d31509"/><path d="M341.6 236.9L347.1 239.5L352.1 237.5L346.6 234.9Z" fill="#eb1a0a" stroke="#da1909"/><path d="M352.1 237.5L357.6 240.2L362.6 238.3L357.1 235.5Z" fill="#ed1c0a" stroke="#dd1a09"/><path d="M362.6 238.3L368.2 241.0L373.2 239.0L367.6 236.3Z" fill="#ef2209" stroke="#de2008"/><path d="M373.2 239.0L378.7 241.5L383.7 239.2L378.1 236.7Z" fill="#f02908" stroke="#e02607"/><path d="M383.7 239.2L389.2 241.5L394.2 238.6L388.7 236.3Z" fill="#f12d07" stroke="#e02a06"/><path d="M394.2 238.6L399.8 240.8L404.8 237.5L399.2 235.4Z" fill="#f23006" stroke="#e12d06"/><path d="M404.8 237.5L410.3 239.3L415.4 235.9L409.8 234.2Z" fill="#f23206" stroke="#e12e05"/><path d="M415.4 235.9L420.9 237.0L425.9 234.0L420.4 232.9Z" fill="#f23106" stroke="#e12e06"/><path d="M126.4 258.5L131.9 260.8L136.9 258.6L131.4 256.4Z" fill="#fbf000" stroke="#eae000"/><path d="M136.9 258.6L142.5 260.8L147.4 258.4L141.9 256.2Z" fill="#fbef00" stroke="#eade00"/><path d="M147.4 258.4L153.0 260.6L157.9 258.0L152.4 255.8Z" fill="#fcec00" stroke="#eadb00"/><path d="M157.9 258.0L163.5 260.4L168.4 257.5L162.9 255.2Z" fill="#fce900" stroke="#ebd900"/><path d="M168.4 257.5L174.0 260.1L178.9 256.9L173.4 254.4Z" fill="#fcea00" stroke="#ebd900"/><path d="M178.9 256.9L184.5 259.6L189.4 256.1L183.9 253.4Z" fill="#fce900" stroke="#ebd900"/><path d="M189.4 256.1L194.9 258.8L199.9 255.0L194.3 252.3Z" fill="#fde400" stroke="#ebd400"/><path d="M199.9 255.0L205.4 257.6L210.4 253.7L204.8 251.1Z" fill="#feda00" stroke="#eccb00"/><path d="M210.4 253.7L215.9 256.1L220.8 252.0L215.3 249.6Z" fill="#ffcc00" stroke="#edbd00"/><path d="M220.8 252.0L226.4 254.4L231.3 250.1L225.8 247.8Z" fill="#ffbb00" stroke="#edae00"/><path d="M231.3 250.1L236.9 252.4L241.8 247.8L236.3 245.7Z" fill="#ffaf00" stroke="#eda300"/><path d="M241.8 247.8L247.3 250.0L252.3 245.5L246.8 243.5Z" fill="#ff9f00" stroke="#ed9400"/><path d="M252.3 245.5L257.8 247.5L262.8 243.4L257.3 241.5Z" fill="#fd8100" stroke="#eb7800"/><path d="M262.8 243.4L268.3 245.2L273.3 241.6L267.8 239.8Z" fill="#f95c00" stroke="#e85500"/><path d="M273.3 241.6L278.9 243.4L283.9 240.1L278.3 238.3Z" fill="#f33505" stroke="#e23105"/><path d="M283.9 240.1L289.4 242.0L294.4 239.0L288.9 237.0Z" fill="#ef2209" stroke="#de2008"/><path d="M294.4 239.0L299.9 241.1L304.9 238.4L299.4 236.2Z" fill="#eb1b0a" stroke="#db1909"/><path d="M304.9 238.4L310.5 240.6L315.5 238.2L309.9 235.9Z" fill="#e2160a" stroke="#d31509"/><path d="M315.5 238.2L321.0 240.6L326.0 238.5L320.5 236.1Z" fill="#e1160a" stroke="#d11409"/><path d="M326.0 238.5L331.6 240.9L336.6 238.9L331.0 236.5Z" fill="#e6180a" stroke="#d61609"/><path d="M336.6 238.9L342.1 241.5L347.1 239.5L341.6 236.9Z" fill="#eb1b0a" stroke="#db1909"/><path d="M347.1 239.5L352.7 242.2L357.6 240.2L352.1 237.5Z" fill="#ee1c0a" stroke="#dd1a09"/><path d="M357.6 240.2L363.2 243.0L368.2 241.0L362.6 238.3Z" fill="#ef2409" stroke="#df2108"/><path d="M368.2 241.0L373.7 243.5L378.7 241.5L373.2 239.0Z" fill="#f12a07" stroke="#e02707"/><path d="M378.7 241.5L384.2 243.8L389.2 241.5L383.7 239.2Z" fill="#f22f06" stroke="#e12c06"/><path d="M389.2 241.5L394.8 243.7L399.8 240.8L394.2 238.6Z" fill="#f23306" stroke="#e12f05"/><path d="M399.8 240.8L405.3 242.6L410.3 239.3L404.8 237.5Z" fill="#f33505" stroke="#e23105"/><path d="M410.3 239.3L415.9 240.4L420.9 237.0L415.4 235.9Z" fill="#f33405" stroke="#e23105"/><path d="M420.9 237.0L426.5 236.9L431.6 233.8L425.9 234.0Z" fill="#f23206" stroke="#e12f05"/><path d="M121.4 260.5L126.9 262.7L131.9 260.8L126.4 258.5Z" fill="#fbf400" stroke="#e9e300"/><path d="M131.9 260.8L137.5 263.0L142.5 260.8L136.9 258.6Z" fill="#fbf300" stroke="#e9e200"/><path d="M142.5 260.8L148.0 263.1L153.0 260.6L147.4 258.4Z" fill="#fbf100" stroke="#eae000"/><path d="M153.0 260.6L158.5 263.0L163.5 260.4L157.9 258.0Z" fill="#fbef00" stroke="#eade00"/><path d="M163.5 260.4L169.0 262.9L174.0 260.1L168.4 257.5Z" fill="#fbef00" stroke="#eade00"/><path d="M174.0 260.1L179.5 262.8L184.5 259.6L178.9 256.9Z" fill="#fbef00" stroke="#eadf00"/><path d="M184.5 259.6L190.0 262.3L194.9 258.8L189.4 256.1Z" fill="#fcee00" stroke="#eadd00"/><path d="M194.9 258.8L200.5 261.5L205.4 257.6L199.9 255.0Z" fill="#fce800" stroke="#ebd800"/><path d="M205.4 257.6L211.0 260.1L215.9 256.1L210.4 253.7Z" fill="#fde000" stroke="#ecd100"/><path d="M215.9 256.1L221.4 258.5L226.4 254.4L220.8 252.0Z" fill="#feda00" stroke="#ecca00"/><path d="M226.4 254.4L231.9 256.7L236.9 252.4L231.3 250.1Z" fill="#ffd000" stroke="#edc100"/><path d="M236.9 252.4L242.4 254.5L247.3 250.0L241.8 247.8Z" fill="#ffc100" stroke="#edb400"/><path d="M247.3 250.0L252.9 251.9L257.8 247.5L252.3 245.5Z" fill="#ffa700" stroke="#ed9b00"/><path d="M257.8 247.5L263.4 249.3L268.3 245.2L262.8 243.4Z" fill="#fd8200" stroke="#eb7800"/><path d="M268.3 245.2L273.9 247.0L278.9 243.4L273.3 241.6Z" fill="#f95700" stroke="#e75100"/><path d="M278.9 243.4L284.4 245.4L289.4 242.0L283.9 240.1Z" fill="#f23206" stroke="#e12f05"/><path d="M289.4 242.0L294.9 244.2L299.9 241.1L294.4 239.0Z" fill="#ef2109" stroke="#de1e08"/><path d="M299.9 241.1L305.5 243.4L310.5 240.6L304.9 238.4Z" fill="#eb1b0a" stroke="#db1909"/><path d="M310.5 240.6L316.0 243.0L321.0 240.6L315.5 238.2Z" fill="#e7180a" stroke="#d71709"/><path d="M321.0 240.6L326.6 243.0L331.6 240.9L326.0 238.5Z" fill="#e9190a" stroke="#d81809"/><path d="M331.6 240.9L337.1 243.5L342.1 241.5L336.6 238.9Z" fill="#ec1b0a" stroke="#dc1909"/><path d="M342.1 241.5L347.7 244.3L352.7 242.2L347.1 239.5Z" fill="#ee1e0a" stroke="#de1c09"/><path d="M352.7 242.2L358.2 245.0L363.2 243.0L357.6 240.2Z" fill="#f02608" stroke="#df2308"/><path d="M363.2 243.0L368.7 245.4L373.7 243.5L368.2 241.0Z" fill="#f12c07" stroke="#e02906"/><path d="M373.7 243.5L379.2 245.8L384.2 243.8L378.7 241.5Z" fill="#f23106" stroke="#e12e06"/><path d="M384.2 243.8L389.8 246.0L394.8 243.7L389.2 241.5Z" fill="#f33505" stroke="#e23105"/><path d="M394.8 243.7L400.3 245.5L405.3 242.6L399.8 240.8Z" fill="#f43904" stroke="#e33504"/><path d="M405.3 242.6L410.9 243.8L415.9 240.4L410.3 239.3Z" fill="#f43a04" stroke="#e33604"/><path d="M415.9 240.4L421.5 240.4L426.5 236.9L420.9 237.0Z" fill="#f33505" stroke="#e23205"/><path d="M426.5 236.9L432.2 236.0L437.2 232.8L431.6 233.8Z" fill="#f23206" stroke="#e12e05"/><path d="M116.4 262.4L121.9 264.7L126.9 262.7L121.4 260.5Z" fill="#faf700" stroke="#e9e600"/><path d="M126.9 262.7L132.5 265.0L137.5 263.0L131.9 260.8Z" fill="#faf700" stroke="#e9e600"/><path d="M137.5 263.0L143.0 265.3L148.0 263.1L142.5 260.8Z" fill="#fbf600" stroke="#e9e500"/><path d="M148.0 263.1L153.5 265.5L158.5 263.0L153.0 260.6Z" fill="#fbf400" stroke="#e9e300"/><path d="M158.5 263.0L164.0 265.6L169.0 262.9L163.5 260.4Z" fill="#fbf300" stroke="#e9e200"/><path d="M169.0 262.9L174.5 265.7L179.5 262.8L174.0 260.1Z" fill="#fbf400" stroke="#e9e300"/><path d="M179.5 262.8L185.0 265.6L190.0 262.3L184.5 259.6Z" fill="#fbf400" stroke="#e9e300"/><path d="M190.0 262.3L195.5 265.0L200.5 261.5L194.9 258.8Z" fill="#fbf100" stroke="#eae000"/><path d="M200.5 261.5L206.0 264.0L211.0 260.1L205.4 257.6Z" fill="#fcec00" stroke="#eadb00"/><path d="M211.0 260.1L216.5 262.6L221.4 258.5L215.9 256.1Z" fill="#fde600" stroke="#ebd600"/><path d="M221.4 258.5L227.0 260.9L231.9 256.7L226.4 254.4Z" fill="#fde000" stroke="#ecd100"/><path d="M231.9 256.7L237.4 258.9L242.4 254.5L236.9 252.4Z" fill="#feda00" stroke="#eccb00"/><path d="M242.4 254.5L247.9 256.6L252.9 251.9L247.3 250.0Z" fill="#ffcc00" stroke="#edbe00"/><path d="M252.9 251.9L258.4 253.8L263.4 249.3L257.8 247.5Z" fill="#ffa900" stroke="#ed9d00"/><path d="M263.4 249.3L268.9 251.2L273.9 247.0L268.3 245.2Z" fill="#fd7e00" stroke="#eb7500"/><path d="M273.9 247.0L279.4 249.0L284.4 245.4L278.9 243.4Z" fill="#f85200" stroke="#e74c00"/><path d="M284.4 245.4L290.0 247.5L294.9 244.2L289.4 242.0Z" fill="#f23106" stroke="#e12d06"/><path d="M294.9 244.2L300.5 246.4L305.5 243.4L299.9 241.1Z" fill="#ef2109" stroke="#de1e08"/><path d="M305.5 243.4L311.0 245.8L316.0 243.0L310.5 240.6Z" fill="#ec1b0a" stroke="#dc1909"/><path d="M316.0 243.0L321.6 245.5L326.6 243.0L321.0 240.6Z" fill="#ec1b0a" stroke="#db1909"/><path d="M326.6 243.0L332.1 245.7L337.1 243.5L331.6 240.9Z" fill="#ed1c0a" stroke="#dd1a09"/><path d="M337.1 243.5L342.7 246.3L347.7 244.3L342.1 241.5Z" fill="#ef2209" stroke="#de1f08"/><path d="M347.7 244.3L353.2 247.0L358.2 245.0L352.7 242.2Z" fill="#f02808" stroke="#e02607"/><path d="M358.2 245.0L363.7 247.4L368.7 245.4L363.2 243.0Z" fill="#f22e06" stroke="#e12b06"/><path d="M368.7 245.4L374.3 247.7L379.2 245.8L373.7 243.5Z" fill="#f23306" stroke="#e12f05"/><path d="M379.2 245.8L384.8 248.0L389.8 246.0L384.2 243.8Z" fill="#f33805" stroke="#e23404"/><path d="M389.8 246.0L395.3 247.9L400.3 245.5L394.8 243.7Z" fill="#f53f03" stroke="#e43a03"/><path d="M400.3 245.5L405.9 246.8L410.9 243.8L405.3 242.6Z" fill="#f54203" stroke="#e43d03"/><path d="M410.9 243.8L416.5 243.9L421.5 240.4L415.9 240.4Z" fill="#f53e03" stroke="#e33a03"/><path d="M421.5 240.4L427.1 239.6L432.2 236.0L426.5 236.9Z" fill="#f33505" stroke="#e23205"/><path d="M432.2 236.0L437.8 235.0L442.9 231.7L437.2 232.8Z" fill="#f23206" stroke="#e12e05"/><path d="M111.4 264.5L116.9 266.8L121.9 264.7L116.4 262.4Z" fill="#f9fa00" stroke="#e8e800"/><path d="M121.9 264.7L127.4 266.9L132.5 265.0L126.9 262.7Z" fill="#fafa00" stroke="#e9e800"/><path d="M132.5 265.0L138.0 267.3L143.0 265.3L137.5 263.0Z" fill="#faf900" stroke="#e9e800"/><path d="M143.0 265.3L148.5 267.7L153.5 265.5L148.0 263.1Z" fill="#faf800" stroke="#e9e700"/><path d="M153.5 265.5L159.1 268.1L164.0 265.6L158.5 263.0Z" fill="#faf700" stroke="#e9e600"/><path d="M164.0 265.6L169.6 268.4L174.5 265.7L169.0 262.9Z" fill="#faf700" stroke="#e9e600"/><path d="M174.5 265.7L180.1 268.5L185.0 265.6L179.5 262.8Z" fill="#faf800" stroke="#e9e700"/><path d="M185.0 265.6L190.6 268.3L195.5 265.0L190.0 262.3Z" fill="#faf700" stroke="#e9e600"/><path d="M195.5 265.0L201.1 267.6L206.0 264.0L200.5 261.5Z" fill="#fbf400" stroke="#e9e300"/><path d="M206.0 264.0L211.6 266.6L216.5 262.6L211.0 260.1Z" fill="#fbf000" stroke="#eadf00"/><path d="M216.5 262.6L222.0 265.0L227.0 260.9L221.4 258.5Z" fill="#fceb00" stroke="#eadb00"/><path d="M227.0 260.9L232.5 263.2L237.4 258.9L231.9 256.7Z" fill="#fde600" stroke="#ebd500"/><path d="M237.4 258.9L243.0 261.0L247.9 256.6L242.4 254.5Z" fill="#fde000" stroke="#ecd000"/><path d="M247.9 256.6L253.5 258.5L258.4 253.8L252.9 251.9Z" fill="#ffd000" stroke="#edc100"/><path d="M258.4 253.8L263.9 255.7L268.9 251.2L263.4 249.3Z" fill="#ffa700" stroke="#ed9b00"/><path d="M268.9 251.2L274.4 253.2L279.4 249.0L273.9 247.0Z" fill="#fc7b00" stroke="#eb7200"/><path d="M279.4 249.0L285.0 251.2L290.0 247.5L284.4 245.4Z" fill="#f84f00" stroke="#e64a00"/><path d="M290.0 247.5L295.5 249.8L300.5 246.4L294.9 244.2Z" fill="#f23106" stroke="#e12d06"/><path d="M300.5 246.4L306.0 248.8L311.0 245.8L305.5 243.4Z" fill="#ef2309" stroke="#df2108"/><path d="M311.0 245.8L316.6 248.2L321.6 245.5L316.0 243.0Z" fill="#ee1c0a" stroke="#dd1a09"/><path d="M321.6 245.5L327.1 248.1L332.1 245.7L326.6 243.0Z" fill="#ee1e0a" stroke="#de1c09"/><path d="M332.1 245.7L337.7 248.5L342.7 246.3L337.1 243.5Z" fill="#f02608" stroke="#df2308"/><path d="M342.7 246.3L348.2 249.0L353.2 247.0L347.7 244.3Z" fill="#f12c07" stroke="#e02906"/><path d="M353.2 247.0L358.7 249.5L363.7 247.4L358.2 245.0Z" fill="#f23106" stroke="#e12e05"/><path d="M363.7 247.4L369.3 249.7L374.3 247.7L368.7 245.4Z" fill="#f33505" stroke="#e23205"/><path d="M374.3 247.7L379.8 249.8L384.8 248.0L379.2 245.8Z" fill="#f43c04" stroke="#e33804"/><path d="M384.8 248.0L390.3 249.8L395.3 247.9L389.8 246.0Z" fill="#f64302" stroke="#e43f02"/><path d="M395.3 247.9L400.9 249.1L405.9 246.8L400.3 245.5Z" fill="#f64802" stroke="#e54302"/><path d="M405.9 246.8L411.5 247.0L416.5 243.9L410.9 243.8Z" fill="#f64602" stroke="#e54102"/><path d="M416.5 243.9L422.1 243.2L427.1 239.6L421.5 240.4Z" fill="#f43e04" stroke="#e33903"/><path d="M427.1 239.6L432.8 238.7L437.8 235.0L432.2 236.0Z" fill="#f33505" stroke="#e23105"/><path d="M437.8 235.0L443.5 235.0L448.5 231.7L442.9 231.7Z" fill="#f23306" stroke="#e13005"/><path d="M116.9 266.8L122.4 269.1L127.4 266.9L121.9 264.7Z" fill="#f2fa00" stroke="#e1e800"/><path d="M127.4 266.9L133.0 269.3L138.0 267.3L132.5 265.0Z" fill="#f4fa00" stroke="#e3e800"/><path d="M138.0 267.3L143.5 269.7L148.5 267.7L143.0 265.3Z" fill="#f6fa00" stroke="#e5e800"/><path d="M148.5 267.7L154.1 270.4L159.1 268.1L153.5 265.5Z" fill="#f9fa00" stroke="#e7e800"/><path d="M159.1 268.1L164.6 270.9L169.6 268.4L164.0 265.6Z" fill="#f9fa00" stroke="#e7e800"/><path d="M169.6 268.4L175.1 271.2L180.1 268.5L174.5 265.7Z" fill="#f7fa00" stroke="#e6e800"/><path d="M180.1 268.5L185.6 271.3L190.6 268.3L185.0 265.6Z" fill="#f7fa00" stroke="#e6e800"/><path d="M190.6 268.3L196.1 270.9L201.1 267.6L195.5 265.0Z" fill="#fafa00" stroke="#e8e800"/><path d="M201.1 267.6L206.6 270.2L211.6 266.6L206.0 264.0Z" fill="#faf700" stroke="#e9e600"/><path d="M211.6 266.6L217.1 269.0L222.0 265.0L216.5 262.6Z" fill="#fbf400" stroke="#e9e300"/><path d="M222.0 265.0L227.6 267.4L232.5 263.2L227.0 260.9Z" fill="#fbef00" stroke="#eadf00"/><path d="M232.5 263.2L238.0 265.3L243.0 261.0L237.4 258.9Z" fill="#fcea00" stroke="#ead900"/><path d="M243.0 261.0L248.5 263.0L253.5 258.5L247.9 256.6Z" fill="#fde200" stroke="#ebd200"/><path d="M253.5 258.5L259.0 260.4L263.9 255.7L258.4 253.8Z" fill="#ffce00" stroke="#edc000"/><path d="M263.9 255.7L269.5 257.7L274.4 253.2L268.9 251.2Z" fill="#ffa400" stroke="#ed9800"/><path d="M274.4 253.2L280.0 255.3L285.0 251.2L279.4 249.0Z" fill="#fc7900" stroke="#ea7100"/><path d="M285.0 251.2L290.5 253.4L295.5 249.8L290.0 247.5Z" fill="#f85000" stroke="#e74a00"/><path d="M295.5 249.8L301.0 252.1L306.0 248.8L300.5 246.4Z" fill="#f23306" stroke="#e12f05"/><path d="M306.0 248.8L311.6 251.3L316.6 248.2L311.0 245.8Z" fill="#f02908" stroke="#e02607"/><path d="M316.6 248.2L322.1 250.9L327.1 248.1L321.6 245.5Z" fill="#f02608" stroke="#df2308"/><path d="M327.1 248.1L332.7 250.9L337.7 248.5L332.1 245.7Z" fill="#f12b07" stroke="#e02807"/><path d="M337.7 248.5L343.2 251.2L348.2 249.0L342.7 246.3Z" fill="#f23106" stroke="#e12e05"/><path d="M348.2 249.0L353.7 251.5L358.7 249.5L353.2 247.0Z" fill="#f33505" stroke="#e23205"/><path d="M358.7 249.5L364.3 251.7L369.3 249.7L363.7 247.4Z" fill="#f43c04" stroke="#e33704"/><path d="M369.3 249.7L374.8 251.8L379.8 249.8L374.3 247.7Z" fill="#f54203" stroke="#e43d03"/><path d="M379.8 249.8L385.4 251.6L390.3 249.8L384.8 248.0Z" fill="#f64802" stroke="#e54301"/><path d="M390.3 249.8L395.9 251.1L400.9 249.1L395.3 247.9Z" fill="#f74c01" stroke="#e64701"/><path d="M400.9 249.1L406.5 249.3L411.5 247.0L405.9 246.8Z" fill="#f74d01" stroke="#e64701"/><path d="M411.5 247.0L417.1 246.3L422.1 243.2L416.5 243.9Z" fill="#f64702" stroke="#e54202"/><path d="M422.1 243.2L427.7 242.4L432.8 238.7L427.1 239.6Z" fill="#f43c04" stroke="#e33804"/><path d="M432.8 238.7L438.4 238.8L443.5 235.0L437.8 235.0Z" fill="#f33505" stroke="#e23105"/><path d="M122.4 269.1L128.0 271.4L133.0 269.3L127.4 266.9Z" fill="#ecfa00" stroke="#dce800"/><path d="M133.0 269.3L138.5 271.7L143.5 269.7L138.0 267.3Z" fill="#eefa00" stroke="#dde800"/><path d="M143.5 269.7L149.1 272.4L154.1 270.4L148.5 267.7Z" fill="#f0fa00" stroke="#e0e800"/><path d="M154.1 270.4L159.6 273.2L164.6 270.9L159.1 268.1Z" fill="#f1fa00" stroke="#e0e800"/><path d="M164.6 270.9L170.1 273.8L175.1 271.2L169.6 268.4Z" fill="#f1fa00" stroke="#e0e800"/><path d="M175.1 271.2L180.7 274.0L185.6 271.3L180.1 268.5Z" fill="#f0fa00" stroke="#dfe800"/><path d="M185.6 271.3L191.2 274.0L196.1 270.9L190.6 268.3Z" fill="#f0fa00" stroke="#dfe800"/><path d="M196.1 270.9L201.7 273.6L206.6 270.2L201.1 267.6Z" fill="#f3fa00" stroke="#e2e800"/><path d="M206.6 270.2L212.1 272.8L217.1 269.0L211.6 266.6Z" fill="#f8fa00" stroke="#e6e800"/><path d="M217.1 269.0L222.6 271.4L227.6 267.4L222.0 265.0Z" fill="#faf800" stroke="#e9e600"/><path d="M227.6 267.4L233.1 269.5L238.0 265.3L232.5 263.2Z" fill="#fbf300" stroke="#e9e200"/><path d="M238.0 265.3L243.5 267.3L248.5 263.0L243.0 261.0Z" fill="#fcec00" stroke="#eadc00"/><path d="M248.5 263.0L254.0 264.9L259.0 260.4L253.5 258.5Z" fill="#fde200" stroke="#ebd200"/><path d="M259.0 260.4L264.5 262.5L269.5 257.7L263.9 255.7Z" fill="#ffcc00" stroke="#edbe00"/><path d="M269.5 257.7L275.0 260.0L280.0 255.3L274.4 253.2Z" fill="#ffa300" stroke="#ed9800"/><path d="M280.0 255.3L285.5 257.6L290.5 253.4L285.0 251.2Z" fill="#fc7b00" stroke="#eb7300"/><path d="M290.5 253.4L296.1 255.8L301.0 252.1L295.5 249.8Z" fill="#f85500" stroke="#e74f00"/><path d="M301.0 252.1L306.6 254.6L311.6 251.3L306.0 248.8Z" fill="#f33805" stroke="#e23404"/><path d="M311.6 251.3L317.1 253.9L322.1 250.9L316.6 248.2Z" fill="#f23106" stroke="#e12d06"/><path d="M322.1 250.9L327.7 253.7L332.7 250.9L327.1 248.1Z" fill="#f23106" stroke="#e12e06"/><path d="M332.7 250.9L338.2 253.7L343.2 251.2L337.7 248.5Z" fill="#f33805" stroke="#e23404"/><path d="M343.2 251.2L348.8 253.7L353.7 251.5L348.2 249.0Z" fill="#f54003" stroke="#e43b03"/><path d="M353.7 251.5L359.3 253.7L364.3 251.7L358.7 249.5Z" fill="#f64402" stroke="#e53f02"/><path d="M364.3 251.7L369.8 253.8L374.8 251.8L369.3 249.7Z" fill="#f74901" stroke="#e54301"/><path d="M374.8 251.8L380.4 253.6L385.4 251.6L379.8 249.8Z" fill="#f74c01" stroke="#e64701"/><path d="M385.4 251.6L390.9 252.9L395.9 251.1L390.3 249.8Z" fill="#f85100" stroke="#e74b00"/><path d="M395.9 251.1L401.5 251.3L406.5 249.3L400.9 249.1Z" fill="#f85200" stroke="#e74c00"/><path d="M406.5 249.3L412.1 248.7L417.1 246.3L411.5 247.0Z" fill="#f84e00" stroke="#e64900"/><path d="M417.1 246.3L422.7 245.6L427.7 242.4L422.1 243.2Z" fill="#f64502" stroke="#e54002"/><path d="M427.7 242.4L433.3 242.6L438.4 238.8L432.8 238.7Z" fill="#f43b04" stroke="#e33704"/><path d="M128.0 271.4L133.5 273.9L138.5 271.7L133.0 269.3Z" fill="#e6fa00" stroke="#d6e800"/><path d="M138.5 271.7L144.1 274.4L149.1 272.4L143.5 269.7Z" fill="#e8fa00" stroke="#d8e800"/><path d="M149.1 272.4L154.6 275.2L159.6 273.2L154.1 270.4Z" fill="#eafa00" stroke="#dae800"/><path d="M159.6 273.2L165.2 276.1L170.1 273.8L164.6 270.9Z" fill="#e9fa00" stroke="#d9e800"/><path d="M170.1 273.8L175.7 276.6L180.7 274.0L175.1 271.2Z" fill="#e8fa00" stroke="#d8e800"/><path d="M180.7 274.0L186.2 276.8L191.2 274.0L185.6 271.3Z" fill="#e9fa00" stroke="#d9e800"/><path d="M191.2 274.0L196.7 276.7L201.7 273.6L196.1 270.9Z" fill="#e8fa00" stroke="#d8e800"/><path d="M201.7 273.6L207.2 276.2L212.1 272.8L206.6 270.2Z" fill="#e9fa00" stroke="#d9e800"/><path d="M212.1 272.8L217.7 275.2L222.6 271.4L217.1 269.0Z" fill="#effa00" stroke="#dee800"/><path d="M222.6 271.4L228.1 273.6L233.1 269.5L227.6 267.4Z" fill="#f7fa00" stroke="#e6e800"/><path d="M233.1 269.5L238.6 271.6L243.5 267.3L238.0 265.3Z" fill="#fbf500" stroke="#e9e400"/><path d="M243.5 267.3L249.1 269.3L254.0 264.9L248.5 263.0Z" fill="#fced00" stroke="#eadc00"/><path d="M254.0 264.9L259.6 267.0L264.5 262.5L259.0 260.4Z" fill="#fde100" stroke="#ecd100"/><path d="M264.5 262.5L270.0 264.7L275.0 260.0L269.5 257.7Z" fill="#ffcb00" stroke="#edbd00"/><path d="M275.0 260.0L280.6 262.3L285.5 257.6L280.0 255.3Z" fill="#ffa500" stroke="#ed9a00"/><path d="M285.5 257.6L291.1 260.0L296.1 255.8L290.5 253.4Z" fill="#fd8000" stroke="#eb7700"/><path d="M296.1 255.8L301.6 258.3L306.6 254.6L301.0 252.1Z" fill="#f95c00" stroke="#e85600"/><path d="M306.6 254.6L312.1 257.2L317.1 253.9L311.6 251.3Z" fill="#f64702" stroke="#e54202"/><path d="M317.1 253.9L322.7 256.7L327.7 253.7L322.1 250.9Z" fill="#f53f03" stroke="#e43b03"/><path d="M327.7 253.7L333.2 256.5L338.2 253.7L332.7 250.9Z" fill="#f64502" stroke="#e54102"/><path d="M338.2 253.7L343.8 256.2L348.8 253.7L343.2 251.2Z" fill="#f74d01" stroke="#e64800"/><path d="M348.8 253.7L354.3 255.9L359.3 253.7L353.7 251.5Z" fill="#f84e00" stroke="#e64900"/><path d="M359.3 253.7L364.8 255.8L369.8 253.8L364.3 251.7Z" fill="#f85100" stroke="#e74b00"/><path d="M369.8 253.8L375.4 255.6L380.4 253.6L374.8 251.8Z" fill="#f85300" stroke="#e74d00"/><path d="M380.4 253.6L385.9 254.8L390.9 252.9L385.4 251.6Z" fill="#f95600" stroke="#e75000"/><path d="M390.9 252.9L396.5 253.1L401.5 251.3L395.9 251.1Z" fill="#f95600" stroke="#e75000"/><path d="M401.5 251.3L407.1 250.7L412.1 248.7L406.5 249.3Z" fill="#f85400" stroke="#e74e00"/><path d="M412.1 248.7L417.7 248.1L422.7 245.6L417.1 246.3Z" fill="#f84e00" stroke="#e64800"/><path d="M422.7 245.6L428.3 245.9L433.3 242.6L427.7 242.4Z" fill="#f64502" stroke="#e54002"/><path d="M133.5 273.9L139.1 276.5L144.1 274.4L138.5 271.7Z" fill="#e0fa00" stroke="#d1e800"/><path d="M144.1 274.4L149.6 277.1L154.6 275.2L149.1 272.4Z" fill="#e2fa00" stroke="#d2e800"/><path d="M154.6 275.2L160.2 278.1L165.2 276.1L159.6 273.2Z" fill="#e2fa00" stroke="#d2e800"/><path d="M165.2 276.1L170.7 278.9L175.7 276.6L170.1 273.8Z" fill="#e0fa00" stroke="#d1e800"/><path d="M175.7 276.6L181.2 279.4L186.2 276.8L180.7 274.0Z" fill="#e1fa00" stroke="#d1e800"/><path d="M186.2 276.8L191.7 279.6L196.7 276.7L191.2 274.0Z" fill="#e0fa00" stroke="#d0e800"/><path d="M196.7 276.7L202.2 279.4L207.2 276.2L201.7 273.6Z" fill="#dffa00" stroke="#cfe800"/><path d="M207.2 276.2L212.7 278.7L217.7 275.2L212.1 272.8Z" fill="#e0fa00" stroke="#d0e800"/><path d="M217.7 275.2L223.2 277.5L228.1 273.6L222.6 271.4Z" fill="#e6fa00" stroke="#d6e800"/><path d="M228.1 273.6L233.7 275.7L238.6 271.6L233.1 269.5Z" fill="#f0fa00" stroke="#dfe800"/><path d="M238.6 271.6L244.1 273.6L249.1 269.3L243.5 267.3Z" fill="#faf700" stroke="#e9e500"/><path d="M249.1 269.3L254.6 271.4L259.6 267.0L254.0 264.9Z" fill="#fced00" stroke="#eadc00"/><path d="M259.6 267.0L265.1 269.3L270.0 264.7L264.5 262.5Z" fill="#fde100" stroke="#ecd100"/><path d="M270.0 264.7L275.6 267.1L280.6 262.3L275.0 260.0Z" fill="#ffcc00" stroke="#edbe00"/><path d="M280.6 262.3L286.1 264.7L291.1 260.0L285.5 257.6Z" fill="#ffa800" stroke="#ed9d00"/><path d="M291.1 260.0L296.6 262.5L301.6 258.3L296.1 255.8Z" fill="#fd8600" stroke="#ec7d00"/><path d="M301.6 258.3L307.1 260.9L312.1 257.2L306.6 254.6Z" fill="#fa6800" stroke="#e96100"/><path d="M312.1 257.2L317.7 260.1L322.7 256.7L317.1 253.9Z" fill="#f95900" stroke="#e75300"/><path d="M322.7 256.7L328.2 259.5L333.2 256.5L327.7 253.7Z" fill="#f95600" stroke="#e75000"/><path d="M333.2 256.5L338.8 258.9L343.8 256.2L338.2 253.7Z" fill="#f95e00" stroke="#e85700"/><path d="M343.8 256.2L349.3 258.4L354.3 255.9L348.8 253.7Z" fill="#f95d00" stroke="#e85700"/><path d="M354.3 255.9L359.8 258.0L364.8 255.8L359.3 253.7Z" fill="#f95c00" stroke="#e85500"/><path d="M364.8 255.8L370.4 257.6L375.4 255.6L369.8 253.8Z" fill="#f95c00" stroke="#e85500"/><path d="M375.4 255.6L380.9 256.8L385.9 254.8L380.4 253.6Z" fill="#f95c00" stroke="#e85500"/><path d="M385.9 254.8L391.5 255.0L396.5 253.1L390.9 252.9Z" fill="#f95b00" stroke="#e85500"/><path d="M396.5 253.1L402.1 252.5L407.1 250.7L401.5 251.3Z" fill="#f95800" stroke="#e75200"/><path d="M407.1 250.7L412.7 250.1L417.7 248.1L412.1 248.7Z" fill="#f85400" stroke="#e74e00"/><path d="M417.7 248.1L423.3 248.4L428.3 245.9L422.7 245.6Z" fill="#f74d01" stroke="#e64801"/><path d="M139.1 276.5L144.6 279.3L149.6 277.1L144.1 274.4Z" fill="#dafa00" stroke="#cbe800"/><path d="M149.6 277.1L155.2 280.0L160.2 278.1L154.6 275.2Z" fill="#dbfa00" stroke="#cce800"/><path d="M160.2 278.1L165.7 280.9L170.7 278.9L165.2 276.1Z" fill="#d9fa00" stroke="#cae800"/><path d="M170.7 278.9L176.2 281.8L181.2 279.4L175.7 276.6Z" fill="#d8fa00" stroke="#c9e800"/><path d="M181.2 279.4L186.8 282.3L191.7 279.6L186.2 276.8Z" fill="#d8fa00" stroke="#c9e800"/><path d="M191.7 279.6L197.3 282.4L202.2 279.4L196.7 276.7Z" fill="#d6fa00" stroke="#c7e800"/><path d="M202.2 279.4L207.8 282.0L212.7 278.7L207.2 276.2Z" fill="#d4fa00" stroke="#c5e800"/><path d="M212.7 278.7L218.2 281.0L223.2 277.5L217.7 275.2Z" fill="#d6fa00" stroke="#c7e800"/><path d="M223.2 277.5L228.7 279.6L233.7 275.7L228.1 273.6Z" fill="#ddfa00" stroke="#cee800"/><path d="M233.7 275.7L239.2 277.8L244.1 273.6L238.6 271.6Z" fill="#ecfa00" stroke="#dbe800"/><path d="M244.1 273.6L249.7 275.8L254.6 271.4L249.1 269.3Z" fill="#faf700" stroke="#e9e600"/><path d="M254.6 271.4L260.1 273.7L265.1 269.3L259.6 267.0Z" fill="#fced00" stroke="#eadc00"/><path d="M265.1 269.3L270.6 271.7L275.6 267.1L270.0 264.7Z" fill="#fde100" stroke="#ecd100"/><path d="M275.6 267.1L281.1 269.5L286.1 264.7L280.6 262.3Z" fill="#ffce00" stroke="#edc000"/><path d="M286.1 264.7L291.6 267.2L296.6 262.5L291.1 260.0Z" fill="#ffad00" stroke="#eda100"/><path d="M296.6 262.5L302.2 265.2L307.1 260.9L301.6 258.3Z" fill="#fe8f00" stroke="#ec8500"/><path d="M307.1 260.9L312.7 263.8L317.7 260.1L312.1 257.2Z" fill="#fc7800" stroke="#ea6f00"/><path d="M317.7 260.1L323.2 262.8L328.2 259.5L322.7 256.7Z" fill="#fb6d00" stroke="#e96500"/><path d="M328.2 259.5L333.8 261.9L338.8 258.9L333.2 256.5Z" fill="#fb6e00" stroke="#e96600"/><path d="M338.8 258.9L344.3 261.2L349.3 258.4L343.8 256.2Z" fill="#fb6f00" stroke="#e96700"/><path d="M349.3 258.4L354.8 260.5L359.8 258.0L354.3 255.9Z" fill="#fa6900" stroke="#e96100"/><path d="M359.8 258.0L365.4 259.8L370.4 257.6L364.8 255.8Z" fill="#fa6600" stroke="#e95f00"/><path d="M370.4 257.6L375.9 258.8L380.9 256.8L375.4 255.6Z" fill="#fa6400" stroke="#e85d00"/><path d="M380.9 256.8L386.5 257.1L391.5 255.0L385.9 254.8Z" fill="#fa6100" stroke="#e85b00"/><path d="M391.5 255.0L397.1 254.5L402.1 252.5L396.5 253.1Z" fill="#f95d00" stroke="#e85700"/><path d="M402.1 252.5L407.7 252.0L412.7 250.1L407.1 250.7Z" fill="#f95900" stroke="#e75300"/><path d="M412.7 250.1L418.3 250.4L423.3 248.4L417.7 248.1Z" fill="#f85400" stroke="#e74e00"/><path d="M144.6 279.3L150.2 282.1L155.2 280.0L149.6 277.1Z" fill="#d3fa00" stroke="#c4e800"/><path d="M155.2 280.0L160.7 282.9L165.7 280.9L160.2 278.1Z" fill="#d2fa00" stroke="#c3e800"/><path d="M165.7 280.9L171.2 283.8L176.2 281.8L170.7 278.9Z" fill="#d0fa00" stroke="#c2e800"/><path d="M176.2 281.8L181.8 284.7L186.8 282.3L181.2 279.4Z" fill="#d0fa00" stroke="#c1e800"/><path d="M186.8 282.3L192.3 285.1L197.3 282.4L191.7 279.6Z" fill="#cefa00" stroke="#c0e800"/><path d="M197.3 282.4L202.8 285.0L207.8 282.0L202.2 279.4Z" fill="#ccfa00" stroke="#bde800"/><path d="M207.8 282.0L213.3 284.4L218.2 281.0L212.7 278.7Z" fill="#cbfa00" stroke="#bce800"/><path d="M218.2 281.0L223.8 283.2L228.7 279.6L223.2 277.5Z" fill="#cdfa00" stroke="#bee800"/><path d="M228.7 279.6L234.2 281.7L239.2 277.8L233.7 275.7Z" fill="#d6fa00" stroke="#c7e800"/><path d="M239.2 277.8L244.7 280.0L249.7 275.8L244.1 273.6Z" fill="#e9fa00" stroke="#d9e800"/><path d="M249.7 275.8L255.2 278.1L260.1 273.7L254.6 271.4Z" fill="#faf800" stroke="#e9e600"/><path d="M260.1 273.7L265.7 276.1L270.6 271.7L265.1 269.3Z" fill="#fced00" stroke="#eadc00"/><path d="M270.6 271.7L276.2 274.1L281.1 269.5L275.6 267.1Z" fill="#fde100" stroke="#ecd100"/><path d="M281.1 269.5L286.7 272.0L291.6 267.2L286.1 264.7Z" fill="#ffd200" stroke="#edc300"/><path d="M291.6 267.2L297.2 269.9L302.2 265.2L296.6 262.5Z" fill="#ffb400" stroke="#eda700"/><path d="M302.2 265.2L307.7 268.0L312.7 263.8L307.1 260.9Z" fill="#ff9a00" stroke="#ed8f00"/><path d="M312.7 263.8L318.2 266.5L323.2 262.8L317.7 260.1Z" fill="#fe8700" stroke="#ec7e00"/><path d="M323.2 262.8L328.8 265.3L333.8 261.9L328.2 259.5Z" fill="#fd8000" stroke="#eb7700"/><path d="M333.8 261.9L339.3 264.1L344.3 261.2L338.8 258.9Z" fill="#fd8000" stroke="#eb7700"/><path d="M344.3 261.2L349.8 263.2L354.8 260.5L349.3 258.4Z" fill="#fc7900" stroke="#ea7000"/><path d="M354.8 260.5L360.4 262.2L365.4 259.8L359.8 258.0Z" fill="#fb7200" stroke="#ea6a00"/><path d="M365.4 259.8L370.9 261.0L375.9 258.8L370.4 257.6Z" fill="#fb6d00" stroke="#e96500"/><path d="M375.9 258.8L381.5 259.1L386.5 257.1L380.9 256.8Z" fill="#fa6800" stroke="#e96100"/><path d="M386.5 257.1L392.1 256.6L397.1 254.5L391.5 255.0Z" fill="#fa6300" stroke="#e85c00"/><path d="M397.1 254.5L402.7 254.0L407.7 252.0L402.1 252.5Z" fill="#f95e00" stroke="#e85700"/><path d="M407.7 252.0L413.3 252.3L418.3 250.4L412.7 250.1Z" fill="#f95a00" stroke="#e85400"/><path d="M150.2 282.1L155.7 285.0L160.7 282.9L155.2 280.0Z" fill="#ccfa00" stroke="#bde800"/><path d="M160.7 282.9L166.3 285.8L171.2 283.8L165.7 280.9Z" fill="#cafa00" stroke="#bce800"/><path d="M171.2 283.8L176.8 286.8L181.8 284.7L176.2 281.8Z" fill="#cafa00" stroke="#bce800"/><path d="M181.8 284.7L187.3 287.6L192.3 285.1L186.8 282.3Z" fill="#c9fa00" stroke="#bbe800"/><path d="M192.3 285.1L197.8 287.8L202.8 285.0L197.3 282.4Z" fill="#c7fa00" stroke="#b9e800"/><path d="M202.8 285.0L208.3 287.5L213.3 284.4L207.8 282.0Z" fill="#c5fa00" stroke="#b7e800"/><path d="M213.3 284.4L218.8 286.6L223.8 283.2L218.2 281.0Z" fill="#c4fa00" stroke="#b6e800"/><path d="M223.8 283.2L229.3 285.4L234.2 281.7L228.7 279.6Z" fill="#c8fa00" stroke="#bae800"/><path d="M234.2 281.7L239.8 284.0L244.7 280.0L239.2 277.8Z" fill="#d2fa00" stroke="#c3e800"/><path d="M244.7 280.0L250.2 282.4L255.2 278.1L249.7 275.8Z" fill="#e7fa00" stroke="#d7e800"/><path d="M255.2 278.1L260.7 280.6L265.7 276.1L260.1 273.7Z" fill="#faf800" stroke="#e9e600"/><path d="M265.7 276.1L271.2 278.6L276.2 274.1L270.6 271.7Z" fill="#fced00" stroke="#eadc00"/><path d="M276.2 274.1L281.7 276.7L286.7 272.0L281.1 269.5Z" fill="#fde200" stroke="#ebd200"/><path d="M286.7 272.0L292.2 274.8L297.2 269.9L291.6 267.2Z" fill="#ffd600" stroke="#edc700"/><path d="M297.2 269.9L302.7 272.8L307.7 268.0L302.2 265.2Z" fill="#ffbb00" stroke="#edae00"/><path d="M307.7 268.0L313.2 270.8L318.2 266.5L312.7 263.8Z" fill="#ffa400" stroke="#ed9800"/><path d="M318.2 266.5L323.8 269.0L328.8 265.3L323.2 262.8Z" fill="#ff9700" stroke="#ed8c00"/><path d="M328.8 265.3L334.3 267.5L339.3 264.1L333.8 261.9Z" fill="#fe9100" stroke="#ed8700"/><path d="M339.3 264.1L344.8 266.2L349.8 263.2L344.3 261.2Z" fill="#fe8b00" stroke="#ec8100"/><path d="M349.8 263.2L355.4 264.9L360.4 262.2L354.8 260.5Z" fill="#fd8000" stroke="#eb7700"/><path d="M360.4 262.2L365.9 263.5L370.9 261.0L365.4 259.8Z" fill="#fc7800" stroke="#ea6f00"/><path d="M370.9 261.0L376.5 261.3L381.5 259.1L375.9 258.8Z" fill="#fb7000" stroke="#ea6800"/><path d="M381.5 259.1L387.1 258.7L392.1 256.6L386.5 257.1Z" fill="#fb6a00" stroke="#e96200"/><path d="M392.1 256.6L397.7 256.1L402.7 254.0L397.1 254.5Z" fill="#fa6300" stroke="#e85c00"/><path d="M402.7 254.0L408.3 254.3L413.3 252.3L407.7 252.0Z" fill="#fa5f00" stroke="#e85900"/><path d="M155.7 285.0L161.3 288.0L166.3 285.8L160.7 282.9Z" fill="#c6fa00" stroke="#b8e800"/><path d="M166.3 285.8L171.8 288.8L176.8 286.8L171.2 283.8Z" fill="#c5fa00" stroke="#b7e800"/><path d="M176.8 286.8L182.3 289.7L187.3 287.6L181.8 284.7Z" fill="#c5fa00" stroke="#b7e800"/><path d="M187.3 287.6L192.9 290.3L197.8 287.8L192.3 285.1Z" fill="#c3fa00" stroke="#b5e800"/><path d="M197.8 287.8L203.4 290.3L208.3 287.5L202.8 285.0Z" fill="#c0fa00" stroke="#b2e800"/><path d="M208.3 287.5L213.9 289.8L218.8 286.6L213.3 284.4Z" fill="#bdfa00" stroke="#b0e800"/><path d="M218.8 286.6L224.3 288.8L229.3 285.4L223.8 283.2Z" fill="#befa00" stroke="#b1e800"/><path d="M229.3 285.4L234.8 287.7L239.8 284.0L234.2 281.7Z" fill="#c3fa00" stroke="#b6e800"/><path d="M239.8 284.0L245.3 286.4L250.2 282.4L244.7 280.0Z" fill="#cefa00" stroke="#bfe800"/><path d="M250.2 282.4L255.8 284.9L260.7 280.6L255.2 278.1Z" fill="#e5fa00" stroke="#d5e800"/><path d="M260.7 280.6L266.2 283.1L271.2 278.6L265.7 276.1Z" fill="#faf700" stroke="#e9e600"/><path d="M271.2 278.6L276.7 281.2L281.7 276.7L276.2 274.1Z" fill="#fced00" stroke="#eadd00"/><path d="M281.7 276.7L287.2 279.5L292.2 274.8L286.7 272.0Z" fill="#fde400" stroke="#ebd400"/><path d="M292.2 274.8L297.7 277.7L302.7 272.8L297.2 269.9Z" fill="#fed900" stroke="#edc900"/><path d="M302.7 272.8L308.2 275.6L313.2 270.8L307.7 268.0Z" fill="#ffc200" stroke="#edb500"/><path d="M313.2 270.8L318.8 273.3L323.8 269.0L318.2 266.5Z" fill="#ffad00" stroke="#eda100"/><path d="M323.8 269.0L329.3 271.2L334.3 267.5L328.8 265.3Z" fill="#ffa200" stroke="#ed9600"/><path d="M334.3 267.5L339.8 269.5L344.8 266.2L339.3 264.1Z" fill="#ff9b00" stroke="#ed9000"/><path d="M344.8 266.2L350.4 267.9L355.4 264.9L349.8 263.2Z" fill="#fe9100" stroke="#ed8600"/><path d="M355.4 264.9L360.9 266.2L365.9 263.5L360.4 262.2Z" fill="#fd8400" stroke="#ec7b00"/><path d="M365.9 263.5L371.5 263.8L376.5 261.3L370.9 261.0Z" fill="#fc7a00" stroke="#eb7200"/><path d="M376.5 261.3L382.1 261.0L387.1 258.7L381.5 259.1Z" fill="#fb7100" stroke="#ea6900"/><path d="M387.1 258.7L392.7 258.3L397.7 256.1L392.1 256.6Z" fill="#fb6a00" stroke="#e96300"/><path d="M397.7 256.1L403.3 256.5L408.3 254.3L402.7 254.0Z" fill="#fa6500" stroke="#e95e00"/><path d="M161.3 288.0L166.8 291.0L171.8 288.8L166.3 285.8Z" fill="#c0fa00" stroke="#b3e800"/><path d="M171.8 288.8L177.3 291.8L182.3 289.7L176.8 286.8Z" fill="#c0fa00" stroke="#b2e800"/><path d="M182.3 289.7L187.9 292.5L192.9 290.3L187.3 287.6Z" fill="#bffa00" stroke="#b1e800"/><path d="M192.9 290.3L198.4 292.8L203.4 290.3L197.8 287.8Z" fill="#bcfa00" stroke="#afe800"/><path d="M203.4 290.3L208.9 292.7L213.9 289.8L208.3 287.5Z" fill="#b8fa00" stroke="#ace800"/><path d="M213.9 289.8L219.4 292.0L224.3 288.8L218.8 286.6Z" fill="#b7fa00" stroke="#aae800"/><path d="M224.3 288.8L229.9 291.2L234.8 287.7L229.3 285.4Z" fill="#b9fa00" stroke="#ace800"/><path d="M234.8 287.7L240.3 290.2L245.3 286.4L239.8 284.0Z" fill="#bffa00" stroke="#b2e800"/><path d="M245.3 286.4L250.8 288.9L255.8 284.9L250.2 282.4Z" fill="#ccfa00" stroke="#bde800"/><path d="M255.8 284.9L261.3 287.4L266.2 283.1L260.7 280.6Z" fill="#e5fa00" stroke="#d5e800"/><path d="M266.2 283.1L271.8 285.7L276.7 281.2L271.2 278.6Z" fill="#faf800" stroke="#e9e600"/><path d="M276.7 281.2L282.3 284.0L287.2 279.5L281.7 276.7Z" fill="#fbef00" stroke="#eade00"/><path d="M287.2 279.5L292.8 282.4L297.7 277.7L292.2 274.8Z" fill="#fde600" stroke="#ebd600"/><path d="M297.7 277.7L303.3 280.5L308.2 275.6L302.7 272.8Z" fill="#fedb00" stroke="#eccc00"/><path d="M308.2 275.6L313.8 278.1L318.8 273.3L313.2 270.8Z" fill="#ffc900" stroke="#edbb00"/><path d="M318.8 273.3L324.3 275.5L329.3 271.2L323.8 269.0Z" fill="#ffb500" stroke="#eda900"/><path d="M329.3 271.2L334.8 273.2L339.8 269.5L334.3 267.5Z" fill="#ffaa00" stroke="#ed9e00"/><path d="M339.8 269.5L345.4 271.1L350.4 267.9L344.8 266.2Z" fill="#ffa000" stroke="#ed9500"/><path d="M350.4 267.9L355.9 269.1L360.9 266.2L355.4 264.9Z" fill="#ff9300" stroke="#ed8900"/><path d="M360.9 266.2L366.5 266.6L371.5 263.8L365.9 263.5Z" fill="#fd8600" stroke="#ec7c00"/><path d="M371.5 263.8L377.1 263.5L382.1 261.0L376.5 261.3Z" fill="#fc7a00" stroke="#eb7100"/><path d="M382.1 261.0L387.7 260.6L392.7 258.3L387.1 258.7Z" fill="#fb7100" stroke="#ea6900"/><path d="M392.7 258.3L398.3 258.7L403.3 256.5L397.7 256.1Z" fill="#fb6c00" stroke="#e96400"/><path d="M166.8 291.0L172.4 294.0L177.3 291.8L171.8 288.8Z" fill="#bbfa00" stroke="#aee800"/><path d="M177.3 291.8L182.9 294.6L187.9 292.5L182.3 289.7Z" fill="#bafa00" stroke="#ade800"/><path d="M187.9 292.5L193.4 295.0L198.4 292.8L192.9 290.3Z" fill="#b8fa00" stroke="#abe800"/><path d="M198.4 292.8L203.9 295.2L208.9 292.7L203.4 290.3Z" fill="#b5fa00" stroke="#a8e800"/><path d="M208.9 292.7L214.4 295.0L219.4 292.0L213.9 289.8Z" fill="#b1fa00" stroke="#a5e800"/><path d="M219.4 292.0L224.9 294.4L229.9 291.2L224.3 288.8Z" fill="#b0fa00" stroke="#a4e800"/><path d="M229.9 291.2L235.4 293.7L240.3 290.2L234.8 287.7Z" fill="#b4fa00" stroke="#a7e800"/><path d="M240.3 290.2L245.9 292.7L250.8 288.9L245.3 286.4Z" fill="#bdfa00" stroke="#afe800"/><path d="M250.8 288.9L256.3 291.5L261.3 287.4L255.8 284.9Z" fill="#cbfa00" stroke="#bde800"/><path d="M261.3 287.4L266.8 290.1L271.8 285.7L266.2 283.1Z" fill="#e6fa00" stroke="#d6e800"/><path d="M271.8 285.7L277.3 288.5L282.3 284.0L276.7 281.2Z" fill="#faf900" stroke="#e9e800"/><path d="M282.3 284.0L287.8 287.0L292.8 282.4L287.2 279.5Z" fill="#fbf100" stroke="#eae000"/><path d="M292.8 282.4L298.3 285.3L303.3 280.5L297.7 277.7Z" fill="#fce800" stroke="#ebd800"/><path d="M303.3 280.5L308.8 283.1L313.8 278.1L308.2 275.6Z" fill="#fedd00" stroke="#ecce00"/><path d="M313.8 278.1L319.3 280.3L324.3 275.5L318.8 273.3Z" fill="#ffce00" stroke="#edbf00"/><path d="M324.3 275.5L329.8 277.5L334.8 273.2L329.3 271.2Z" fill="#ffbc00" stroke="#edaf00"/><path d="M334.8 273.2L340.4 274.8L345.4 271.1L339.8 269.5Z" fill="#ffb000" stroke="#eda300"/><path d="M345.4 271.1L350.9 272.4L355.9 269.1L350.4 267.9Z" fill="#ffa200" stroke="#ed9700"/><path d="M355.9 269.1L361.5 269.5L366.5 266.6L360.9 266.2Z" fill="#ff9300" stroke="#ed8900"/><path d="M366.5 266.6L372.1 266.3L377.1 263.5L371.5 263.8Z" fill="#fd8500" stroke="#ec7b00"/><path d="M377.1 263.5L382.7 263.2L387.7 260.6L382.1 261.0Z" fill="#fc7900" stroke="#ea7100"/><path d="M387.7 260.6L393.3 261.0L398.3 258.7L392.7 258.3Z" fill="#fb7300" stroke="#ea6b00"/><path d="M172.4 294.0L177.9 296.8L182.9 294.6L177.3 291.8Z" fill="#b6fa00" stroke="#a9e800"/><path d="M182.9 294.6L188.4 297.2L193.4 295.0L187.9 292.5Z" fill="#b4fa00" stroke="#a8e800"/><path d="M193.4 295.0L198.9 297.4L203.9 295.2L198.4 292.8Z" fill="#b1fa00" stroke="#a5e800"/><path d="M203.9 295.2L209.4 297.6L214.4 295.0L208.9 292.7Z" fill="#adfa00" stroke="#a1e800"/><path d="M214.4 295.0L219.9 297.4L224.9 294.4L219.4 292.0Z" fill="#aafa00" stroke="#9ee800"/><path d="M224.9 294.4L230.4 297.0L235.4 293.7L229.9 291.2Z" fill="#abfa00" stroke="#9fe800"/><path d="M235.4 293.7L240.9 296.3L245.9 292.7L240.3 290.2Z" fill="#b0fa00" stroke="#a3e800"/><path d="M245.9 292.7L251.4 295.3L256.3 291.5L250.8 288.9Z" fill="#bbfa00" stroke="#aee800"/><path d="M256.3 291.5L261.9 294.2L266.8 290.1L261.3 287.4Z" fill="#ccfa00" stroke="#bde800"/><path d="M266.8 290.1L272.4 292.9L277.3 288.5L271.8 285.7Z" fill="#e4fa00" stroke="#d4e800"/><path d="M277.3 288.5L282.8 291.6L287.8 287.0L282.3 284.0Z" fill="#f6fa00" stroke="#e5e800"/><path d="M287.8 287.0L293.3 289.9L298.3 285.3L292.8 282.4Z" fill="#fbf400" stroke="#e9e300"/><path d="M298.3 285.3L303.8 287.9L308.8 283.1L303.3 280.5Z" fill="#fce900" stroke="#ebd900"/><path d="M308.8 283.1L314.3 285.3L319.3 280.3L313.8 278.1Z" fill="#fede00" stroke="#eccf00"/><path d="M319.3 280.3L324.9 282.3L329.8 277.5L324.3 275.5Z" fill="#ffd200" stroke="#edc300"/><path d="M329.8 277.5L335.4 279.1L340.4 274.8L334.8 273.2Z" fill="#ffc000" stroke="#edb300"/><path d="M340.4 274.8L345.9 276.1L350.9 272.4L345.4 271.1Z" fill="#ffb100" stroke="#eda500"/><path d="M350.9 272.4L356.5 272.8L361.5 269.5L355.9 269.1Z" fill="#ffa100" stroke="#ed9500"/><path d="M361.5 269.5L367.1 269.3L372.1 266.3L366.5 266.6Z" fill="#fe9100" stroke="#ed8700"/><path d="M372.1 266.3L377.7 266.0L382.7 263.2L377.1 263.5Z" fill="#fd8300" stroke="#eb7a00"/><path d="M382.7 263.2L388.3 263.7L393.3 261.0L387.7 260.6Z" fill="#fc7b00" stroke="#eb7200"/><path d="M177.9 296.8L183.4 299.4L188.4 297.2L182.9 294.6Z" fill="#b0fa00" stroke="#a4e800"/><path d="M188.4 297.2L193.9 299.6L198.9 297.4L193.4 295.0Z" fill="#aefa00" stroke="#a2e800"/><path d="M198.9 297.4L204.5 299.8L209.4 297.6L203.9 295.2Z" fill="#aafa00" stroke="#9ee800"/><path d="M209.4 297.6L215.0 300.0L219.9 297.4L214.4 295.0Z" fill="#a6fa00" stroke="#9ae800"/><path d="M219.9 297.4L225.5 300.0L230.4 297.0L224.9 294.4Z" fill="#a4fa00" stroke="#98e800"/><path d="M230.4 297.0L235.9 299.6L240.9 296.3L235.4 293.7Z" fill="#a6fa00" stroke="#9ae800"/><path d="M240.9 296.3L246.4 298.9L251.4 295.3L245.9 292.7Z" fill="#adfa00" stroke="#a1e800"/><path d="M251.4 295.3L256.9 298.0L261.9 294.2L256.3 291.5Z" fill="#bcfa00" stroke="#aee800"/><path d="M261.9 294.2L267.4 297.1L272.4 292.9L266.8 290.1Z" fill="#cbfa00" stroke="#bde800"/><path d="M272.4 292.9L277.9 296.0L282.8 291.6L277.3 288.5Z" fill="#defa00" stroke="#cee800"/><path d="M282.8 291.6L288.4 294.5L293.3 289.9L287.8 287.0Z" fill="#effa00" stroke="#dee800"/><path d="M293.3 289.9L298.9 292.5L303.8 287.9L298.3 285.3Z" fill="#fbf500" stroke="#e9e400"/><path d="M303.8 287.9L309.4 290.1L314.3 285.3L308.8 283.1Z" fill="#fcea00" stroke="#ebd900"/><path d="M314.3 285.3L319.9 287.3L324.9 282.3L319.3 280.3Z" fill="#fedf00" stroke="#eccf00"/><path d="M324.9 282.3L330.4 284.0L335.4 279.1L329.8 277.5Z" fill="#ffd400" stroke="#edc500"/><path d="M335.4 279.1L340.9 280.4L345.9 276.1L340.4 274.8Z" fill="#ffc200" stroke="#edb400"/><path d="M345.9 276.1L351.5 276.6L356.5 272.8L350.9 272.4Z" fill="#ffb000" stroke="#eda300"/><path d="M356.5 272.8L362.1 272.6L367.1 269.3L361.5 269.5Z" fill="#ff9e00" stroke="#ed9200"/><path d="M367.1 269.3L372.6 269.1L377.7 266.0L372.1 266.3Z" fill="#fe8f00" stroke="#ec8500"/><path d="M377.7 266.0L383.2 266.5L388.3 263.7L382.7 263.2Z" fill="#fd8400" stroke="#eb7b00"/><path d="M183.4 299.4L189.0 301.9L193.9 299.6L188.4 297.2Z" fill="#aafa00" stroke="#9ee800"/><path d="M193.9 299.6L199.5 302.0L204.5 299.8L198.9 297.4Z" fill="#a8fa00" stroke="#9ce800"/><path d="M204.5 299.8L210.0 302.3L215.0 300.0L209.4 297.6Z" fill="#a3fa00" stroke="#97e800"/><path d="M215.0 300.0L220.5 302.6L225.5 300.0L219.9 297.4Z" fill="#9efa00" stroke="#93e800"/><path d="M225.5 300.0L231.0 302.6L235.9 299.6L230.4 297.0Z" fill="#9dfa01" stroke="#92e801"/><path d="M235.9 299.6L241.5 302.3L246.4 298.9L240.9 296.3Z" fill="#a2fa00" stroke="#96e800"/><path d="M246.4 298.9L252.0 301.7L256.9 298.0L251.4 295.3Z" fill="#adfa00" stroke="#a0e800"/><path d="M256.9 298.0L262.4 301.0L267.4 297.1L261.9 294.2Z" fill="#bcfa00" stroke="#afe800"/><path d="M267.4 297.1L272.9 300.2L277.9 296.0L272.4 292.9Z" fill="#c9fa00" stroke="#bbe800"/><path d="M277.9 296.0L283.4 299.0L288.4 294.5L282.8 291.6Z" fill="#d6fa00" stroke="#c7e800"/><path d="M288.4 294.5L293.9 297.1L298.9 292.5L293.3 289.9Z" fill="#e9fa00" stroke="#d9e800"/><path d="M298.9 292.5L304.4 294.8L309.4 290.1L303.8 287.9Z" fill="#fbf600" stroke="#e9e400"/><path d="M309.4 290.1L314.9 292.1L319.9 287.3L314.3 285.3Z" fill="#fce900" stroke="#ebd900"/><path d="M319.9 287.3L325.4 289.0L330.4 284.0L324.9 282.3Z" fill="#fedf00" stroke="#eccf00"/><path d="M330.4 284.0L335.9 285.3L340.9 280.4L335.4 279.1Z" fill="#ffd400" stroke="#edc500"/><path d="M340.9 280.4L346.5 280.9L351.5 276.6L345.9 276.1Z" fill="#ffc000" stroke="#edb300"/><path d="M351.5 276.6L357.0 276.4L362.1 272.6L356.5 272.8Z" fill="#ffac00" stroke="#eda000"/><path d="M362.1 272.6L367.6 272.5L372.6 269.1L367.1 269.3Z" fill="#ff9b00" stroke="#ed9000"/><path d="M372.6 269.1L378.2 269.6L383.2 266.5L377.7 266.0Z" fill="#fe8f00" stroke="#ec8500"/><path d="M189.0 301.9L194.5 304.3L199.5 302.0L193.9 299.6Z" fill="#a4fa00" stroke="#99e800"/><path d="M199.5 302.0L205.0 304.4L210.0 302.3L204.5 299.8Z" fill="#a0fa00" stroke="#95e800"/><path d="M210.0 302.3L215.5 304.9L220.5 302.6L215.0 300.0Z" fill="#99f902" stroke="#8fe801"/><path d="M220.5 302.6L226.0 305.3L231.0 302.6L225.5 300.0Z" fill="#96f902" stroke="#8be802"/><path d="M231.0 302.6L236.5 305.4L241.5 302.3L235.9 299.6Z" fill="#97f902" stroke="#8ce802"/><path d="M241.5 302.3L247.0 305.1L252.0 301.7L246.4 298.9Z" fill="#a0fa00" stroke="#95e800"/><path d="M252.0 301.7L257.5 304.7L262.4 301.0L256.9 298.0Z" fill="#adfa00" stroke="#a1e800"/><path d="M262.4 301.0L268.0 304.1L272.9 300.2L267.4 297.1Z" fill="#bbfa00" stroke="#aee800"/><path d="M272.9 300.2L278.5 303.2L283.4 299.0L277.9 296.0Z" fill="#c5fa00" stroke="#b7e800"/><path d="M283.4 299.0L288.9 301.6L293.9 297.1L288.4 294.5Z" fill="#d0fa00" stroke="#c1e800"/><path d="M293.9 297.1L299.4 299.4L304.4 294.8L298.9 292.5Z" fill="#e8fa00" stroke="#d7e800"/><path d="M304.4 294.8L309.9 296.8L314.9 292.1L309.4 290.1Z" fill="#fbf500" stroke="#e9e400"/><path d="M314.9 292.1L320.4 293.8L325.4 289.0L319.9 287.3Z" fill="#fce800" stroke="#ebd800"/><path d="M325.4 289.0L330.9 290.3L335.9 285.3L330.4 284.0Z" fill="#fede00" stroke="#eccf00"/><path d="M335.9 285.3L341.5 285.8L346.5 280.9L340.9 280.4Z" fill="#ffd200" stroke="#edc400"/><path d="M346.5 280.9L352.0 280.9L357.0 276.4L351.5 276.6Z" fill="#ffbc00" stroke="#edaf00"/><path d="M357.0 276.4L362.6 276.3L367.6 272.5L362.1 272.6Z" fill="#ffa700" stroke="#ed9c00"/><path d="M367.6 272.5L373.2 273.0L378.2 269.6L372.6 269.1Z" fill="#ff9a00" stroke="#ed8f00"/><path d="M194.5 304.3L200.0 306.8L205.0 304.4L199.5 302.0Z" fill="#9dfa01" stroke="#92e801"/><path d="M205.0 304.4L210.5 307.1L215.5 304.9L210.0 302.3Z" fill="#96f902" stroke="#8be802"/><path d="M215.5 304.9L221.0 307.6L226.0 305.3L220.5 302.6Z" fill="#90f904" stroke="#86e703"/><path d="M226.0 305.3L231.6 308.0L236.5 305.4L231.0 302.6Z" fill="#8ef904" stroke="#84e704"/><path d="M236.5 305.4L242.0 308.2L247.0 305.1L241.5 302.3Z" fill="#92f903" stroke="#88e803"/><path d="M247.0 305.1L252.5 308.1L257.5 304.7L252.0 301.7Z" fill="#a0fa00" stroke="#95e800"/><path d="M257.5 304.7L263.0 307.9L268.0 304.1L262.4 301.0Z" fill="#adfa00" stroke="#a1e800"/><path d="M268.0 304.1L273.5 307.2L278.5 303.2L272.9 300.2Z" fill="#b8fa00" stroke="#abe800"/><path d="M278.5 303.2L284.0 305.9L288.9 301.6L283.4 299.0Z" fill="#c1fa00" stroke="#b3e800"/><path d="M288.9 301.6L294.5 303.9L299.4 299.4L293.9 297.1Z" fill="#ccfa00" stroke="#bee800"/><path d="M299.4 299.4L305.0 301.4L309.9 296.8L304.4 294.8Z" fill="#e9fa00" stroke="#d9e800"/><path d="M309.9 296.8L315.4 298.5L320.4 293.8L314.9 292.1Z" fill="#fbf300" stroke="#e9e200"/><path d="M320.4 293.8L326.0 295.2L330.9 290.3L325.4 289.0Z" fill="#fce700" stroke="#ebd700"/><path d="M330.9 290.3L336.5 290.9L341.5 285.8L335.9 285.3Z" fill="#fedd00" stroke="#eccd00"/><path d="M341.5 285.8L347.0 285.8L352.0 280.9L346.5 280.9Z" fill="#ffce00" stroke="#edc000"/><path d="M352.0 280.9L357.6 280.8L362.6 276.3L357.0 276.4Z" fill="#ffb800" stroke="#edab00"/><path d="M362.6 276.3L368.2 276.9L373.2 273.0L367.6 272.5Z" fill="#ffa600" stroke="#ed9a00"/><path d="M200.0 306.8L205.5 309.4L210.5 307.1L205.0 304.4Z" fill="#92f903" stroke="#88e803"/><path d="M210.5 307.1L216.1 309.7L221.0 307.6L215.5 304.9Z" fill="#8cf805" stroke="#82e704"/><path d="M221.0 307.6L226.6 310.3L231.6 308.0L226.0 305.3Z" fill="#88f806" stroke="#7ee705"/><path d="M231.6 308.0L237.1 310.9L242.0 308.2L236.5 305.4Z" fill="#89f805" stroke="#7fe705"/><path d="M242.0 308.2L247.6 311.3L252.5 308.1L247.0 305.1Z" fill="#91f904" stroke="#87e703"/><path d="M252.5 308.1L258.1 311.4L263.0 307.9L257.5 304.7Z" fill="#a0fa00" stroke="#95e800"/><path d="M263.0 307.9L268.6 311.0L273.5 307.2L268.0 304.1Z" fill="#abfa00" stroke="#9fe800"/><path d="M273.5 307.2L279.0 309.9L284.0 305.9L278.5 303.2Z" fill="#b4fa00" stroke="#a8e800"/><path d="M284.0 305.9L289.5 308.2L294.5 303.9L288.9 301.6Z" fill="#befa00" stroke="#b0e800"/><path d="M294.5 303.9L300.0 305.9L305.0 301.4L299.4 299.4Z" fill="#ccfa00" stroke="#bee800"/><path d="M305.0 301.4L310.5 303.1L315.4 298.5L309.9 296.8Z" fill="#eefa00" stroke="#dde800"/><path d="M315.4 298.5L321.0 299.9L326.0 295.2L320.4 293.8Z" fill="#fbf100" stroke="#eae000"/><path d="M326.0 295.2L331.5 295.9L336.5 290.9L330.9 290.3Z" fill="#fde500" stroke="#ebd500"/><path d="M336.5 290.9L342.0 291.0L347.0 285.8L341.5 285.8Z" fill="#feda00" stroke="#eccb00"/><path d="M347.0 285.8L352.6 285.9L357.6 280.8L352.0 280.9Z" fill="#ffca00" stroke="#edbc00"/><path d="M357.6 280.8L363.2 281.4L368.2 276.9L362.6 276.3Z" fill="#ffb500" stroke="#eda800"/><path d="M205.5 309.4L211.1 312.1L216.1 309.7L210.5 307.1Z" fill="#88f805" stroke="#7fe705"/><path d="M216.1 309.7L221.6 312.5L226.6 310.3L221.0 307.6Z" fill="#83f807" stroke="#7ae606"/><path d="M226.6 310.3L232.1 313.2L237.1 310.9L231.6 308.0Z" fill="#81f807" stroke="#78e607"/><path d="M237.1 310.9L242.6 314.0L247.6 311.3L242.0 308.2Z" fill="#85f806" stroke="#7ce706"/><path d="M247.6 311.3L253.1 314.6L258.1 311.4L252.5 308.1Z" fill="#91f904" stroke="#87e703"/><path d="M258.1 311.4L263.6 314.5L268.6 311.0L263.0 307.9Z" fill="#a0fa00" stroke="#95e800"/><path d="M268.6 311.0L274.1 313.8L279.0 309.9L273.5 307.2Z" fill="#a9fa00" stroke="#9de800"/><path d="M279.0 309.9L284.6 312.2L289.5 308.2L284.0 305.9Z" fill="#b1fa00" stroke="#a5e800"/><path d="M289.5 308.2L295.0 310.2L300.0 305.9L294.5 303.9Z" fill="#bcfa00" stroke="#afe800"/><path d="M300.0 305.9L305.5 307.7L310.5 303.1L305.0 301.4Z" fill="#d0fa00" stroke="#c2e800"/><path d="M310.5 303.1L316.0 304.6L321.0 299.9L315.4 298.5Z" fill="#f4fa00" stroke="#e3e800"/><path d="M321.0 299.9L326.5 300.6L331.5 295.9L326.0 295.2Z" fill="#fbef00" stroke="#eade00"/><path d="M331.5 295.9L337.0 296.0L342.0 291.0L336.5 290.9Z" fill="#fde300" stroke="#ebd300"/><path d="M342.0 291.0L347.6 291.1L352.6 285.9L347.0 285.8Z" fill="#fed800" stroke="#edc900"/><path d="M352.6 285.9L358.1 286.6L363.2 281.4L357.6 280.8Z" fill="#ffc700" stroke="#edb900"/><path d="M211.1 312.1L216.6 314.8L221.6 312.5L216.1 309.7Z" fill="#7ff708" stroke="#76e607"/><path d="M221.6 312.5L227.1 315.4L232.1 313.2L226.6 310.3Z" fill="#7cf708" stroke="#73e608"/><path d="M232.1 313.2L237.6 316.3L242.6 314.0L237.1 310.9Z" fill="#7df708" stroke="#74e608"/><path d="M242.6 314.0L248.2 317.3L253.1 314.6L247.6 311.3Z" fill="#84f806" stroke="#7be606"/><path d="M253.1 314.6L258.7 317.8L263.6 314.5L258.1 311.4Z" fill="#91f904" stroke="#87e703"/><path d="M263.6 314.5L269.1 317.3L274.1 313.8L268.6 311.0Z" fill="#9efa00" stroke="#93e800"/><path d="M274.1 313.8L279.6 316.1L284.6 312.2L279.0 309.9Z" fill="#a7fa00" stroke="#9be800"/><path d="M284.6 312.2L290.1 314.3L295.0 310.2L289.5 308.2Z" fill="#affa00" stroke="#a3e800"/><path d="M295.0 310.2L300.5 312.0L305.5 307.7L300.0 305.9Z" fill="#befa00" stroke="#b1e800"/><path d="M305.5 307.7L311.0 309.1L316.0 304.6L310.5 303.1Z" fill="#d7fa00" stroke="#c8e800"/><path d="M316.0 304.6L321.5 305.4L326.5 300.6L321.0 299.9Z" fill="#fafa00" stroke="#e9e800"/><path d="M326.5 300.6L332.0 300.9L337.0 296.0L331.5 295.9Z" fill="#fcec00" stroke="#eadb00"/><path d="M337.0 296.0L342.6 296.2L347.6 291.1L342.0 291.0Z" fill="#fde000" stroke="#ecd100"/><path d="M347.6 291.1L353.1 291.9L358.1 286.6L352.6 285.9Z" fill="#ffd700" stroke="#edc800"/><path d="M216.6 314.8L222.1 317.7L227.1 315.4L221.6 312.5Z" fill="#77f709" stroke="#6fe609"/><path d="M227.1 315.4L232.7 318.5L237.6 316.3L232.1 313.2Z" fill="#76f70a" stroke="#6ee509"/><path d="M237.6 316.3L243.2 319.6L248.2 317.3L242.6 314.0Z" fill="#7af709" stroke="#71e608"/><path d="M248.2 317.3L253.7 320.5L258.7 317.8L253.1 314.6Z" fill="#84f807" stroke="#7ae606"/><path d="M258.7 317.8L264.2 320.6L269.1 317.3L263.6 314.5Z" fill="#91f904" stroke="#86e703"/><path d="M269.1 317.3L274.7 319.7L279.6 316.1L274.1 313.8Z" fill="#9cfa01" stroke="#91e801"/><path d="M279.6 316.1L285.1 318.2L290.1 314.3L284.6 312.2Z" fill="#a5fa00" stroke="#99e800"/><path d="M290.1 314.3L295.6 316.1L300.5 312.0L295.0 310.2Z" fill="#affa00" stroke="#a3e800"/><path d="M300.5 312.0L306.1 313.5L311.0 309.1L305.5 307.7Z" fill="#c2fa00" stroke="#b4e800"/><path d="M311.0 309.1L316.6 310.0L321.5 305.4L316.0 304.6Z" fill="#dffa00" stroke="#d0e800"/><path d="M321.5 305.4L327.1 305.7L332.0 300.9L326.5 300.6Z" fill="#fbf600" stroke="#e9e500"/><path d="M332.0 300.9L337.6 301.2L342.6 296.2L337.0 296.0Z" fill="#fce800" stroke="#ebd800"/><path d="M342.6 296.2L348.1 297.0L353.1 291.9L347.6 291.1Z" fill="#fedf00" stroke="#ecd000"/><path d="M222.1 317.7L227.7 320.8L232.7 318.5L227.1 315.4Z" fill="#70f60b" stroke="#68e50a"/><path d="M232.7 318.5L238.2 321.8L243.2 319.6L237.6 316.3Z" fill="#72f60b" stroke="#6ae50a"/><path d="M243.2 319.6L248.7 322.8L253.7 320.5L248.2 317.3Z" fill="#79f709" stroke="#70e608"/><path d="M253.7 320.5L259.2 323.4L264.2 320.6L258.7 317.8Z" fill="#84f806" stroke="#7be606"/><path d="M264.2 320.6L269.7 323.0L274.7 319.7L269.1 317.3Z" fill="#90f904" stroke="#86e703"/><path d="M274.7 319.7L280.2 321.8L285.1 318.2L279.6 316.1Z" fill="#9afa01" stroke="#8fe801"/><path d="M285.1 318.2L290.6 320.0L295.6 316.1L290.1 314.3Z" fill="#a3fa00" stroke="#98e800"/><path d="M295.6 316.1L301.1 317.6L306.1 313.5L300.5 312.0Z" fill="#b2fa00" stroke="#a5e800"/><path d="M306.1 313.5L311.6 314.4L316.6 310.0L311.0 309.1Z" fill="#c7fa00" stroke="#b9e800"/><path d="M316.6 310.0L322.1 310.4L327.1 305.7L321.5 305.4Z" fill="#e9fa00" stroke="#d9e800"/><path d="M327.1 305.7L332.6 306.1L337.6 301.2L332.0 300.9Z" fill="#fbf200" stroke="#e9e100"/><path d="M337.6 301.2L343.1 302.0L348.1 297.0L342.6 296.2Z" fill="#fde700" stroke="#ebd600"/><path d="M227.7 320.8L233.2 324.1L238.2 321.8L232.7 318.5Z" fill="#6bf60c" stroke="#63e50b"/><path d="M238.2 321.8L243.7 325.0L248.7 322.8L243.2 319.6Z" fill="#6ff60b" stroke="#68e50a"/><path d="M248.7 322.8L254.2 325.7L259.2 323.4L253.7 320.5Z" fill="#79f709" stroke="#70e608"/><path d="M259.2 323.4L264.7 325.8L269.7 323.0L264.2 320.6Z" fill="#85f806" stroke="#7be706"/><path d="M269.7 323.0L275.2 325.1L280.2 321.8L274.7 319.7Z" fill="#8ff904" stroke="#85e704"/><path d="M280.2 321.8L285.7 323.7L290.6 320.0L285.1 318.2Z" fill="#97f902" stroke="#8de802"/><path d="M290.6 320.0L296.1 321.6L301.1 317.6L295.6 316.1Z" fill="#a4fa00" stroke="#99e800"/><path d="M301.1 317.6L306.6 318.7L311.6 314.4L306.1 313.5Z" fill="#b6fa00" stroke="#aae800"/><path d="M311.6 314.4L317.1 314.9L322.1 310.4L316.6 310.0Z" fill="#cdfa00" stroke="#bfe800"/><path d="M322.1 310.4L327.6 310.9L332.6 306.1L327.1 305.7Z" fill="#f3fa00" stroke="#e2e800"/><path d="M332.6 306.1L338.1 307.0L343.1 302.0L337.6 301.2Z" fill="#fbf000" stroke="#eadf00"/><path d="M233.2 324.1L238.8 327.3L243.7 325.0L238.2 321.8Z" fill="#67f60d" stroke="#60e40c"/><path d="M243.7 325.0L249.3 327.9L254.2 325.7L248.7 322.8Z" fill="#6ff60b" stroke="#67e50b"/><path d="M254.2 325.7L259.8 328.1L264.7 325.8L259.2 323.4Z" fill="#7af709" stroke="#71e608"/><path d="M264.7 325.8L270.2 327.9L275.2 325.1L269.7 323.0Z" fill="#85f806" stroke="#7ce706"/><path d="M275.2 325.1L280.7 327.0L285.7 323.7L280.2 321.8Z" fill="#8df904" stroke="#83e704"/><path d="M285.7 323.7L291.2 325.3L296.1 321.6L290.6 320.0Z" fill="#96f902" stroke="#8ce802"/><path d="M296.1 321.6L301.7 322.7L306.6 318.7L301.1 317.6Z" fill="#a7fa00" stroke="#9ce800"/><path d="M306.6 318.7L312.1 319.3L317.1 314.9L311.6 314.4Z" fill="#bdfa00" stroke="#afe800"/><path d="M317.1 314.9L322.6 315.5L327.6 310.9L322.1 310.4Z" fill="#d8fa00" stroke="#c9e800"/><path d="M327.6 310.9L333.1 311.9L338.1 307.0L332.6 306.1Z" fill="#fafa00" stroke="#e9e800"/><path d="M238.8 327.3L244.3 330.2L249.3 327.9L243.7 325.0Z" fill="#66f60d" stroke="#5fe40c"/><path d="M249.3 327.9L254.8 330.3L259.8 328.1L254.2 325.7Z" fill="#70f60b" stroke="#68e50a"/><path d="M259.8 328.1L265.3 330.2L270.2 327.9L264.7 325.8Z" fill="#7bf708" stroke="#73e608"/><path d="M270.2 327.9L275.8 329.7L280.7 327.0L275.2 325.1Z" fill="#84f807" stroke="#7be606"/><path d="M280.7 327.0L286.2 328.6L291.2 325.3L285.7 323.7Z" fill="#8bf805" stroke="#81e705"/><path d="M291.2 325.3L296.7 326.5L301.7 322.7L296.1 321.6Z" fill="#98f902" stroke="#8ee802"/><path d="M301.7 322.7L307.2 323.4L312.1 319.3L306.6 318.7Z" fill="#adfa00" stroke="#a1e800"/><path d="M312.1 319.3L317.7 319.9L322.6 315.5L317.1 314.9Z" fill="#c3fa00" stroke="#b5e800"/><path d="M322.6 315.5L328.2 316.6L333.1 311.9L327.6 310.9Z" fill="#e0fa00" stroke="#d0e800"/><path d="M244.3 330.2L249.8 332.6L254.8 330.3L249.3 327.9Z" fill="#66f60d" stroke="#5fe40c"/><path d="M254.8 330.3L260.3 332.3L265.3 330.2L259.8 328.1Z" fill="#71f60b" stroke="#69e50a"/><path d="M265.3 330.2L270.8 332.0L275.8 329.7L270.2 327.9Z" fill="#7cf708" stroke="#73e608"/><path d="M275.8 329.7L281.3 331.4L286.2 328.6L280.7 327.0Z" fill="#82f807" stroke="#79e606"/><path d="M286.2 328.6L291.7 329.9L296.7 326.5L291.2 325.3Z" fill="#8af805" stroke="#81e705"/><path d="M296.7 326.5L302.2 327.3L307.2 323.4L301.7 322.7Z" fill="#9efa00" stroke="#93e800"/><path d="M307.2 323.4L312.7 324.2L317.7 319.9L312.1 319.3Z" fill="#b3fa00" stroke="#a6e800"/><path d="M317.7 319.9L323.2 321.0L328.2 316.6L322.6 315.5Z" fill="#c8fa00" stroke="#bae800"/><path d="M249.8 332.6L255.3 334.6L260.3 332.3L254.8 330.3Z" fill="#67f60d" stroke="#60e40c"/><path d="M260.3 332.3L265.8 334.2L270.8 332.0L265.3 330.2Z" fill="#73f70a" stroke="#6be50a"/><path d="M270.8 332.0L276.3 333.7L281.3 331.4L275.8 329.7Z" fill="#7bf709" stroke="#72e608"/><path d="M281.3 331.4L286.8 332.7L291.7 329.9L286.2 328.6Z" fill="#80f807" stroke="#77e607"/><path d="M291.7 329.9L297.2 330.8L302.2 327.3L296.7 326.5Z" fill="#8df904" stroke="#83e704"/><path d="M302.2 327.3L307.7 328.2L312.7 324.2L307.2 323.4Z" fill="#a4fa00" stroke="#98e800"/><path d="M312.7 324.2L318.2 325.4L323.2 321.0L317.7 319.9Z" fill="#b9fa00" stroke="#ace800"/><path d="M255.3 334.6L260.8 336.4L265.8 334.2L260.3 332.3Z" fill="#69f60d" stroke="#62e50c"/><path d="M265.8 334.2L271.3 335.9L276.3 333.7L270.8 332.0Z" fill="#73f70a" stroke="#6be50a"/><path d="M276.3 333.7L281.8 335.1L286.8 332.7L281.3 331.4Z" fill="#79f709" stroke="#70e608"/><path d="M286.8 332.7L292.3 333.7L297.2 330.8L291.7 329.9Z" fill="#80f807" stroke="#77e607"/><path d="M297.2 330.8L302.8 331.7L307.7 328.2L302.2 327.3Z" fill="#93f903" stroke="#88e803"/><path d="M307.7 328.2L313.2 329.5L318.2 325.4L312.7 324.2Z" fill="#a9fa00" stroke="#9de800"/><path d="M260.8 336.4L266.3 338.1L271.3 335.9L265.8 334.2Z" fill="#6af60c" stroke="#63e50b"/><path d="M271.3 335.9L276.8 337.3L281.8 335.1L276.3 333.7Z" fill="#72f60b" stroke="#6ae50a"/><path d="M281.8 335.1L287.3 336.2L292.3 333.7L286.8 332.7Z" fill="#78f709" stroke="#6fe609"/><path d="M292.3 333.7L297.8 334.7L302.8 331.7L297.2 330.8Z" fill="#83f807" stroke="#7ae606"/><path d="M302.8 331.7L308.3 333.1L313.2 329.5L307.7 328.2Z" fill="#99f902" stroke="#8ee801"/><path d="M266.3 338.1L271.9 339.6L276.8 337.3L271.3 335.9Z" fill="#6bf60c" stroke="#63e50b"/><path d="M276.8 337.3L282.3 338.4L287.3 336.2L281.8 335.1Z" fill="#72f60b" stroke="#6ae50a"/><path d="M287.3 336.2L292.8 337.2L297.8 334.7L292.3 333.7Z" fill="#78f709" stroke="#70e609"/><path d="M297.8 334.7L303.3 336.2L308.3 333.1L302.8 331.7Z" fill="#88f805" stroke="#7fe705"/><path d="M271.9 339.6L277.4 340.8L282.3 338.4L276.8 337.3Z" fill="#6bf60c" stroke="#63e50b"/><path d="M282.3 338.4L287.8 339.5L292.8 337.2L287.3 336.2Z" fill="#71f60b" stroke="#69e50a"/><path d="M292.8 337.2L298.3 338.7L303.3 336.2L297.8 334.7Z" fill="#7bf709" stroke="#72e608"/><path d="M277.4 340.8L282.9 342.0L287.8 339.5L282.3 338.4Z" fill="#6bf60c" stroke="#63e50b"/><path d="M287.8 339.5L293.4 341.1L298.3 338.7L292.8 337.2Z" fill="#70f60b" stroke="#69e50a"/><path d="M282.9 342.0L288.4 343.5L293.4 341.1L287.8 339.5Z" fill="#6af60d" stroke="#62e50c"/></g><g fill="none" stroke="#3a3a3a" stroke-opacity="0.2" stroke-width="0.7"><polyline points="330.7,314.2 327.8,312.7 327.8,312.7 325.1,311.3 322.7,309.9 320.6,308.7 320.2,308.5 317.7,307.0 315.1,305.4 312.2,303.8 311.8,303.5 309.3,302.0 306.2,300.3 302.9,298.6 299.4,297.0 295.6,295.6 291.5,294.3 287.0,293.1 284.7,292.5 282.3,292.0 277.6,290.9 273.1,289.7 268.9,288.2 265.2,286.5 261.6,284.7 257.9,283.0 254.2,281.4 250.3,279.9 247.0,278.9 246.3,278.7 242.2,277.5 238.1,276.5 233.7,275.7 228.9,275.2 226.9,275.1 223.6,275.0 218.0,275.0 217.0,274.9 212.2,274.9 208.2,274.8 206.0,274.9 200.9,275.1 199.2,275.2 194.0,275.4 191.9,275.6 187.7,275.8 184.3,275.9 180.7,275.8 177.7,275.6 173.3,275.4 170.7,275.3 166.7,275.2 163.1,275.2 160.4,275.1 155.2,274.9 153.9,274.8 148.4,274.3 146.3,274.0 142.1,273.5 138.1,273.0 136.1,272.7 130.1,272.1 129.3,272.0"/><polyline points="356.9,287.8 353.4,287.1 350.3,286.3 348.7,285.8 347.4,285.5 344.6,284.6 341.6,283.8 338.4,282.8 334.9,281.9 331.1,280.9 327.2,280.0 323.1,279.1 319.0,278.1 314.8,277.1 310.7,275.9 306.4,274.7 306.4,274.7 302.1,273.4 297.8,272.1 293.4,270.8 289.2,269.5 285.1,268.3 281.1,266.9 278.6,266.1 277.2,265.5 273.3,264.1 269.5,262.7 265.9,261.2 262.3,259.6 260.0,258.6 258.9,258.1 255.3,256.7 251.7,255.4 248.0,254.5 247.7,254.4 243.2,253.8 238.0,253.7 235.2,253.8 232.5,253.9 226.9,254.0 225.3,254.0 221.4,253.9 215.9,253.8 215.3,253.8 210.5,253.5 205.6,252.8 203.3,252.4 200.7,252.0 195.9,251.1 191.2,250.1 188.8,249.7 186.3,249.3 180.5,249.3 179.3,249.4 173.8,250.1 172.1,250.2 167.3,250.6 163.9,250.6 161.5,250.6 156.2,250.2 152.1,249.5 151.6,249.4 147.3,248.3"/><polyline points="424.1,248.0 419.7,248.0 416.2,248.0 413.1,248.2 409.6,248.6 405.0,249.2 400.3,249.9 398.3,250.2 394.3,250.7 389.1,251.4 388.7,251.5 383.6,252.2 379.5,252.6 377.9,252.8 371.8,253.3 371.2,253.3 365.7,253.6 363.1,253.7 359.6,253.9 355.2,254.0 353.1,254.0 348.1,254.0 346.2,254.1 340.6,254.3 339.6,254.4 334.0,255.1 331.8,255.4 328.2,255.8 323.8,256.0 321.3,256.0 317.4,255.9 312.7,255.6 311.6,255.4 306.3,254.8 301.6,253.8 298.9,253.1 297.3,252.7 293.2,251.4 289.2,250.1 285.4,248.7 281.8,247.2 278.5,245.7 275.2,244.1 274.5,243.7 272.1,242.5 268.9,240.9 265.6,239.5 261.8,238.2 257.5,237.3 254.9,237.0 252.7,236.8 247.2,236.7 244.8,236.9 240.8,237.3 237.5,237.8 233.7,238.5 230.8,239.2 226.3,240.1 224.1,240.6 219.6,241.1 215.9,241.2 213.9,241.2 208.5,240.8 205.3,240.6 203.3,240.4 198.6,239.5 194.4,238.4 190.3,237.2 186.0,236.4 185.1,236.4 180.9,236.2 175.3,236.5 174.8,236.5 169.7,236.7 164.8,236.2"/></g><g stroke-width="0.45" stroke-linejoin="round"><path d="M267.4 45.7L272.1 44.5L276.3 41.5L271.6 42.7Z" fill="#ef2309" stroke="#df2108"/><path d="M263.2 49.4L267.9 48.3L272.1 44.5L267.4 45.7Z" fill="#f12a07" stroke="#e02707"/><path d="M272.1 44.5L276.8 42.3L281.0 39.4L276.3 41.5Z" fill="#ef2209" stroke="#de1f08"/><path d="M259.0 53.6L263.7 52.5L267.9 48.3L263.2 49.4Z" fill="#f43d04" stroke="#e33803"/><path d="M267.9 48.3L272.6 46.1L276.8 42.3L272.1 44.5Z" fill="#f02408" stroke="#df2108"/><path d="M276.8 42.3L281.5 39.7L285.7 36.8L281.0 39.4Z" fill="#ef2209" stroke="#de2008"/><path d="M254.8 57.9L259.5 56.8L263.7 52.5L259.0 53.6Z" fill="#fa5f00" stroke="#e85900"/><path d="M263.7 52.5L268.4 50.3L272.6 46.1L267.9 48.3Z" fill="#f22e06" stroke="#e12b06"/><path d="M272.6 46.1L277.3 43.5L281.5 39.7L276.8 42.3Z" fill="#ef2209" stroke="#de1f08"/><path d="M281.5 39.7L286.2 37.3L290.4 34.3L285.7 36.8Z" fill="#ef2109" stroke="#de1f08"/><path d="M250.6 62.0L255.3 60.9L259.5 56.8L254.8 57.9Z" fill="#fe8f00" stroke="#ed8500"/><path d="M259.5 56.8L264.2 54.7L268.4 50.3L263.7 52.5Z" fill="#f64802" stroke="#e54301"/><path d="M268.4 50.3L273.1 47.7L277.3 43.5L272.6 46.1Z" fill="#f02508" stroke="#df2208"/><path d="M277.3 43.5L282.0 41.1L286.2 37.3L281.5 39.7Z" fill="#ef2209" stroke="#de2008"/><path d="M286.2 37.3L290.9 35.7L295.2 32.8L290.4 34.3Z" fill="#ef2109" stroke="#de1f08"/><path d="M246.4 65.9L251.1 64.8L255.3 60.9L250.6 62.0Z" fill="#ffb700" stroke="#edab00"/><path d="M290.9 35.7L295.7 35.1L299.9 32.1L295.2 32.8Z" fill="#ef2209" stroke="#de2008"/><path d="M255.3 60.9L260.0 58.8L264.2 54.7L259.5 56.8Z" fill="#fb7200" stroke="#ea6a00"/><path d="M264.2 54.7L268.9 52.1L273.1 47.7L268.4 50.3Z" fill="#f33405" stroke="#e23005"/><path d="M273.1 47.7L277.8 45.4L282.0 41.1L277.3 43.5Z" fill="#ef2209" stroke="#de1f08"/><path d="M282.0 41.1L286.7 39.5L290.9 35.7L286.2 37.3Z" fill="#ef2109" stroke="#de1f08"/><path d="M242.2 69.9L246.9 68.9L251.1 64.8L246.4 65.9Z" fill="#ffd700" stroke="#edc800"/><path d="M251.1 64.8L255.8 62.7L260.0 58.8L255.3 60.9Z" fill="#ffa200" stroke="#ed9700"/><path d="M295.7 35.1L300.4 35.1L304.6 32.1L299.9 32.1Z" fill="#ef2309" stroke="#df2108"/><path d="M260.0 58.8L264.7 56.2L268.9 52.1L264.2 54.7Z" fill="#f85200" stroke="#e74c00"/><path d="M268.9 52.1L273.6 49.7L277.8 45.4L273.1 47.7Z" fill="#f02708" stroke="#df2407"/><path d="M277.8 45.4L282.5 43.8L286.7 39.5L282.0 41.1Z" fill="#ef2109" stroke="#de1f08"/><path d="M286.7 39.5L291.5 38.9L295.7 35.1L290.9 35.7Z" fill="#ef2109" stroke="#de1f08"/><path d="M238.1 73.9L242.8 72.8L246.9 68.9L242.2 69.9Z" fill="#fde600" stroke="#ebd600"/><path d="M246.9 68.9L251.6 66.8L255.8 62.7L251.1 64.8Z" fill="#ffc900" stroke="#edbb00"/><path d="M255.8 62.7L260.5 60.2L264.7 56.2L260.0 58.8Z" fill="#fd8000" stroke="#eb7700"/><path d="M282.5 43.8L287.2 43.2L291.5 38.9L286.7 39.5Z" fill="#ef2009" stroke="#de1e09"/><path d="M291.5 38.9L296.2 38.9L300.4 35.1L295.7 35.1Z" fill="#ef2309" stroke="#df2008"/><path d="M300.4 35.1L305.2 35.4L309.4 32.4L304.6 32.1Z" fill="#ef2409" stroke="#df2108"/><path d="M264.7 56.2L269.4 53.9L273.6 49.7L268.9 52.1Z" fill="#f43a04" stroke="#e33604"/><path d="M273.6 49.7L278.3 48.2L282.5 43.8L277.8 45.4Z" fill="#ef2209" stroke="#de2008"/><path d="M233.9 77.6L238.6 76.6L242.8 72.8L238.1 73.9Z" fill="#fbf600" stroke="#e9e500"/><path d="M242.8 72.8L247.4 70.8L251.6 66.8L246.9 68.9Z" fill="#fede00" stroke="#ecce00"/><path d="M251.6 66.8L256.3 64.3L260.5 60.2L255.8 62.7Z" fill="#ffaf00" stroke="#eda300"/><path d="M260.5 60.2L265.2 57.9L269.4 53.9L264.7 56.2Z" fill="#f95d00" stroke="#e85700"/><path d="M287.2 43.2L292.0 43.2L296.2 38.9L291.5 38.9Z" fill="#ef2009" stroke="#de1e09"/><path d="M296.2 38.9L300.9 39.2L305.2 35.4L300.4 35.1Z" fill="#f02408" stroke="#df2108"/><path d="M305.2 35.4L309.9 35.9L314.1 32.9L309.4 32.4Z" fill="#f02408" stroke="#df2108"/><path d="M269.4 53.9L274.1 52.4L278.3 48.2L273.6 49.7Z" fill="#f12c07" stroke="#e02906"/><path d="M278.3 48.2L283.0 47.6L287.2 43.2L282.5 43.8Z" fill="#ef2009" stroke="#de1e09"/><path d="M229.7 81.0L234.4 80.0L238.6 76.6L233.9 77.6Z" fill="#e4fa00" stroke="#d4e800"/><path d="M238.6 76.6L243.3 74.6L247.4 70.8L242.8 72.8Z" fill="#fced00" stroke="#eadc00"/><path d="M247.4 70.8L252.1 68.3L256.3 64.3L251.6 66.8Z" fill="#ffd400" stroke="#edc600"/><path d="M256.3 64.3L261.0 62.0L265.2 57.9L260.5 60.2Z" fill="#fe8f00" stroke="#ed8500"/><path d="M265.2 57.9L269.9 56.4L274.1 52.4L269.4 53.9Z" fill="#f64502" stroke="#e54002"/><path d="M274.1 52.4L278.8 51.8L283.0 47.6L278.3 48.2Z" fill="#f02508" stroke="#df2308"/><path d="M283.0 47.6L287.8 47.6L292.0 43.2L287.2 43.2Z" fill="#ee1e0a" stroke="#de1c09"/><path d="M292.0 43.2L296.7 43.5L300.9 39.2L296.2 38.9Z" fill="#ef2209" stroke="#de1f08"/><path d="M300.9 39.2L305.7 39.7L309.9 35.9L305.2 35.4Z" fill="#ef2409" stroke="#df2108"/><path d="M309.9 35.9L314.6 36.4L318.9 33.4L314.1 32.9Z" fill="#f02408" stroke="#df2208"/><path d="M225.6 83.9L230.3 82.9L234.4 80.0L229.7 81.0Z" fill="#c9fa00" stroke="#bbe800"/><path d="M269.9 56.4L274.6 55.8L278.8 51.8L274.1 52.4Z" fill="#f33805" stroke="#e23404"/><path d="M305.7 39.7L310.4 40.2L314.6 36.4L309.9 35.9Z" fill="#ef2409" stroke="#df2108"/><path d="M314.6 36.4L319.4 36.9L323.6 33.9L318.9 33.4Z" fill="#f02508" stroke="#df2208"/><path d="M234.4 80.0L239.1 78.0L243.3 74.6L238.6 76.6Z" fill="#f8fa00" stroke="#e6e800"/><path d="M243.3 74.6L248.0 72.1L252.1 68.3L247.4 70.8Z" fill="#fde300" stroke="#ebd300"/><path d="M252.1 68.3L256.8 66.0L261.0 62.0L256.3 64.3Z" fill="#ffbd00" stroke="#edaf00"/><path d="M261.0 62.0L265.7 60.5L269.9 56.4L265.2 57.9Z" fill="#fb7000" stroke="#ea6800"/><path d="M278.8 51.8L283.6 51.8L287.8 47.6L283.0 47.6Z" fill="#ef2109" stroke="#de1f08"/><path d="M287.8 47.6L292.5 48.0L296.7 43.5L292.0 43.2Z" fill="#ee1e0a" stroke="#de1c09"/><path d="M296.7 43.5L301.5 44.1L305.7 39.7L300.9 39.2Z" fill="#ef2309" stroke="#df2008"/><path d="M221.4 86.5L226.1 85.5L230.3 82.9L225.6 83.9Z" fill="#b3fa00" stroke="#a6e800"/><path d="M230.3 82.9L234.9 81.0L239.1 78.0L234.4 80.0Z" fill="#dbfa00" stroke="#cce800"/><path d="M274.6 55.8L279.4 55.9L283.6 51.8L278.8 51.8Z" fill="#f23006" stroke="#e12c06"/><path d="M319.4 36.9L324.1 37.7L328.3 34.6L323.6 33.9Z" fill="#f02508" stroke="#df2308"/><path d="M239.1 78.0L243.8 75.6L248.0 72.1L243.3 74.6Z" fill="#fbf000" stroke="#eadf00"/><path d="M248.0 72.1L252.7 69.9L256.8 66.0L252.1 68.3Z" fill="#feda00" stroke="#ecca00"/><path d="M256.8 66.0L261.5 64.6L265.7 60.5L261.0 62.0Z" fill="#ffa400" stroke="#ed9800"/><path d="M265.7 60.5L270.5 60.0L274.6 55.8L269.9 56.4Z" fill="#f95b00" stroke="#e85500"/><path d="M283.6 51.8L288.3 52.2L292.5 48.0L287.8 47.6Z" fill="#ee1e0a" stroke="#de1c09"/><path d="M292.5 48.0L297.3 48.5L301.5 44.1L296.7 43.5Z" fill="#ef1f09" stroke="#de1d09"/><path d="M301.5 44.1L306.2 44.6L310.4 40.2L305.7 39.7Z" fill="#ef2209" stroke="#de2008"/><path d="M310.4 40.2L315.2 40.8L319.4 36.9L314.6 36.4Z" fill="#f02408" stroke="#df2208"/><path d="M217.2 88.8L221.9 87.8L226.1 85.5L221.4 86.5Z" fill="#9dfa01" stroke="#92e801"/><path d="M226.1 85.5L230.8 83.5L234.9 81.0L230.3 82.9Z" fill="#c4fa00" stroke="#b6e800"/><path d="M234.9 81.0L239.6 78.5L243.8 75.6L239.1 78.0Z" fill="#f3fa00" stroke="#e2e800"/><path d="M261.5 64.6L266.3 64.1L270.5 60.0L265.7 60.5Z" fill="#fe9000" stroke="#ed8600"/><path d="M270.5 60.0L275.2 60.0L279.4 55.9L274.6 55.8Z" fill="#f84f00" stroke="#e64900"/><path d="M279.4 55.9L284.1 56.3L288.3 52.2L283.6 51.8Z" fill="#f12a07" stroke="#e02707"/><path d="M297.3 48.5L302.0 49.1L306.2 44.6L301.5 44.1Z" fill="#ef2009" stroke="#de1e09"/><path d="M306.2 44.6L311.0 45.2L315.2 40.8L310.4 40.2Z" fill="#ef2209" stroke="#de1f08"/><path d="M315.2 40.8L319.9 41.5L324.1 37.7L319.4 36.9Z" fill="#f02508" stroke="#df2208"/><path d="M324.1 37.7L328.9 38.5L333.1 35.4L328.3 34.6Z" fill="#f02508" stroke="#df2208"/><path d="M243.8 75.6L248.5 73.4L252.7 69.9L248.0 72.1Z" fill="#fde600" stroke="#ebd600"/><path d="M252.7 69.9L257.4 68.5L261.5 64.6L256.8 66.0Z" fill="#ffce00" stroke="#edbf00"/><path d="M288.3 52.2L293.1 52.7L297.3 48.5L292.5 48.0Z" fill="#ee1e0a" stroke="#de1c09"/><path d="M213.1 91.1L217.7 90.1L221.9 87.8L217.2 88.8Z" fill="#7ff708" stroke="#76e607"/><path d="M221.9 87.8L226.6 85.9L230.8 83.5L226.1 85.5Z" fill="#affa00" stroke="#a3e800"/><path d="M230.8 83.5L235.4 81.1L239.6 78.5L234.9 81.0Z" fill="#d9fa00" stroke="#cae800"/><path d="M239.6 78.5L244.3 76.3L248.5 73.4L243.8 75.6Z" fill="#fbf200" stroke="#e9e100"/><path d="M266.3 64.1L271.0 64.2L275.2 60.0L270.5 60.0Z" fill="#fd8200" stroke="#eb7900"/><path d="M275.2 60.0L279.9 60.5L284.1 56.3L279.4 55.9Z" fill="#f64602" stroke="#e54102"/><path d="M284.1 56.3L288.9 56.8L293.1 52.7L288.3 52.2Z" fill="#f02508" stroke="#df2308"/><path d="M311.0 45.2L315.7 45.9L319.9 41.5L315.2 40.8Z" fill="#ef2209" stroke="#de2008"/><path d="M319.9 41.5L324.6 42.4L328.9 38.5L324.1 37.7Z" fill="#f02508" stroke="#df2308"/><path d="M328.9 38.5L333.6 39.3L337.8 36.2L333.1 35.4Z" fill="#f02408" stroke="#df2208"/><path d="M248.5 73.4L253.2 71.9L257.4 68.5L252.7 69.9Z" fill="#fedf00" stroke="#ecd000"/><path d="M257.4 68.5L262.1 68.0L266.3 64.1L261.5 64.6Z" fill="#ffc000" stroke="#edb200"/><path d="M293.1 52.7L297.8 53.3L302.0 49.1L297.3 48.5Z" fill="#ef1f09" stroke="#de1d09"/><path d="M302.0 49.1L306.8 49.6L311.0 45.2L306.2 44.6Z" fill="#ef1f09" stroke="#de1d09"/><path d="M208.9 93.4L213.6 92.4L217.7 90.1L213.1 91.1Z" fill="#62f50e" stroke="#5be40d"/><path d="M217.7 90.1L222.4 88.1L226.6 85.9L221.9 87.8Z" fill="#99f902" stroke="#8ee802"/><path d="M226.6 85.9L231.3 83.5L235.4 81.1L230.8 83.5Z" fill="#c3fa00" stroke="#b6e800"/><path d="M235.4 81.1L240.1 78.9L244.3 76.3L239.6 78.5Z" fill="#f1fa00" stroke="#e0e800"/><path d="M244.3 76.3L249.0 74.9L253.2 71.9L248.5 73.4Z" fill="#fcea00" stroke="#eada00"/><path d="M253.2 71.9L257.9 71.5L262.1 68.0L257.4 68.5Z" fill="#fedb00" stroke="#eccb00"/><path d="M262.1 68.0L266.8 68.1L271.0 64.2L266.3 64.1Z" fill="#ffb500" stroke="#eda900"/><path d="M271.0 64.2L275.8 64.6L279.9 60.5L275.2 60.0Z" fill="#fc7900" stroke="#ea7000"/><path d="M279.9 60.5L284.7 61.1L288.9 56.8L284.1 56.3Z" fill="#f53e03" stroke="#e43a03"/><path d="M288.9 56.8L293.6 57.4L297.8 53.3L293.1 52.7Z" fill="#f02508" stroke="#df2208"/><path d="M297.8 53.3L302.6 53.9L306.8 49.6L302.0 49.1Z" fill="#ef2009" stroke="#de1e09"/><path d="M306.8 49.6L311.5 50.4L315.7 45.9L311.0 45.2Z" fill="#ef1f09" stroke="#de1d09"/><path d="M315.7 45.9L320.4 46.8L324.6 42.4L319.9 41.5Z" fill="#ef2309" stroke="#df2008"/><path d="M324.6 42.4L329.4 43.2L333.6 39.3L328.9 38.5Z" fill="#f02508" stroke="#df2208"/><path d="M333.6 39.3L338.3 39.9L342.5 36.9L337.8 36.2Z" fill="#ef2309" stroke="#df2008"/><path d="M204.7 95.7L209.4 94.8L213.6 92.4L208.9 93.4Z" fill="#46f315" stroke="#42e213"/><path d="M249.0 74.9L253.8 74.5L257.9 71.5L253.2 71.9Z" fill="#fde600" stroke="#ebd600"/><path d="M284.7 61.1L289.4 61.7L293.6 57.4L288.9 56.8Z" fill="#f43904" stroke="#e33504"/><path d="M293.6 57.4L298.4 58.1L302.6 53.9L297.8 53.3Z" fill="#f02608" stroke="#df2407"/><path d="M329.4 43.2L334.1 43.9L338.3 39.9L333.6 39.3Z" fill="#f02508" stroke="#df2208"/><path d="M338.3 39.9L343.1 40.5L347.3 37.4L342.5 36.9Z" fill="#ef1f09" stroke="#de1d09"/><path d="M213.6 92.4L218.3 90.5L222.4 88.1L217.7 90.1Z" fill="#7bf708" stroke="#73e608"/><path d="M222.4 88.1L227.1 85.8L231.3 83.5L226.6 85.9Z" fill="#affa00" stroke="#a3e800"/><path d="M231.3 83.5L236.0 81.3L240.1 78.9L235.4 81.1Z" fill="#d9fa00" stroke="#cae800"/><path d="M240.1 78.9L244.9 77.6L249.0 74.9L244.3 76.3Z" fill="#fbf500" stroke="#e9e400"/><path d="M257.9 71.5L262.7 71.6L266.8 68.1L262.1 68.0Z" fill="#fed900" stroke="#edc900"/><path d="M266.8 68.1L271.6 68.5L275.8 64.6L271.0 64.2Z" fill="#ffaf00" stroke="#eda200"/><path d="M275.8 64.6L280.5 65.2L284.7 61.1L279.9 60.5Z" fill="#fb7000" stroke="#ea6800"/><path d="M302.6 53.9L307.3 54.7L311.5 50.4L306.8 49.6Z" fill="#ef1f09" stroke="#de1d09"/><path d="M311.5 50.4L316.2 51.3L320.4 46.8L315.7 45.9Z" fill="#ef2009" stroke="#de1d09"/><path d="M320.4 46.8L325.2 47.6L329.4 43.2L324.6 42.4Z" fill="#ef2309" stroke="#df2108"/><path d="M200.6 98.0L205.3 97.0L209.4 94.8L204.7 95.7Z" fill="#30f11a" stroke="#2ce018"/><path d="M209.4 94.8L214.1 92.8L218.3 90.5L213.6 92.4Z" fill="#5df50f" stroke="#57e40e"/><path d="M253.8 74.5L258.5 74.6L262.7 71.6L257.9 71.5Z" fill="#fde400" stroke="#ebd400"/><path d="M298.4 58.1L303.1 58.9L307.3 54.7L302.6 53.9Z" fill="#f02708" stroke="#df2407"/><path d="M343.1 40.5L347.8 41.1L352.0 38.0L347.3 37.4Z" fill="#ee1c0a" stroke="#dd1a09"/><path d="M218.3 90.5L222.9 88.1L227.1 85.8L222.4 88.1Z" fill="#9afa01" stroke="#8fe801"/><path d="M227.1 85.8L231.8 83.6L236.0 81.3L231.3 83.5Z" fill="#c4fa00" stroke="#b6e800"/><path d="M236.0 81.3L240.7 79.9L244.9 77.6L240.1 78.9Z" fill="#eefa00" stroke="#dde800"/><path d="M244.9 77.6L249.6 77.1L253.8 74.5L249.0 74.9Z" fill="#fbef00" stroke="#eade00"/><path d="M262.7 71.6L267.4 72.1L271.6 68.5L266.8 68.1Z" fill="#ffd600" stroke="#edc700"/><path d="M271.6 68.5L276.3 69.2L280.5 65.2L275.8 64.6Z" fill="#ffa900" stroke="#ed9d00"/><path d="M280.5 65.2L285.3 65.9L289.4 61.7L284.7 61.1Z" fill="#fa6500" stroke="#e95e00"/><path d="M289.4 61.7L294.2 62.3L298.4 58.1L293.6 57.4Z" fill="#f33805" stroke="#e23404"/><path d="M307.3 54.7L312.1 55.6L316.2 51.3L311.5 50.4Z" fill="#ef1f09" stroke="#de1d09"/><path d="M316.2 51.3L321.0 52.2L325.2 47.6L320.4 46.8Z" fill="#ef2109" stroke="#de1e08"/><path d="M325.2 47.6L329.9 48.3L334.1 43.9L329.4 43.2Z" fill="#ef2309" stroke="#df2108"/><path d="M334.1 43.9L338.9 44.4L343.1 40.5L338.3 39.9Z" fill="#ef2309" stroke="#df2008"/><path d="M196.4 100.2L201.1 99.3L205.3 97.0L200.6 98.0Z" fill="#1ef01f" stroke="#1cdf1c"/><path d="M205.3 97.0L209.9 95.1L214.1 92.8L209.4 94.8Z" fill="#42f316" stroke="#3de214"/><path d="M214.1 92.8L218.8 90.5L222.9 88.1L218.3 90.5Z" fill="#7cf708" stroke="#73e608"/><path d="M240.7 79.9L245.4 79.5L249.6 77.1L244.9 77.6Z" fill="#faf800" stroke="#e9e700"/><path d="M249.6 77.1L254.3 77.3L258.5 74.6L253.8 74.5Z" fill="#fced00" stroke="#eadc00"/><path d="M258.5 74.6L263.3 75.1L267.4 72.1L262.7 71.6Z" fill="#fde300" stroke="#ebd400"/><path d="M276.3 69.2L281.1 69.9L285.3 65.9L280.5 65.2Z" fill="#ffa100" stroke="#ed9600"/><path d="M285.3 65.9L290.0 66.6L294.2 62.3L289.4 61.7Z" fill="#f95b00" stroke="#e85400"/><path d="M294.2 62.3L298.9 63.2L303.1 58.9L298.4 58.1Z" fill="#f43904" stroke="#e33504"/><path d="M303.1 58.9L307.9 59.8L312.1 55.6L307.3 54.7Z" fill="#f02608" stroke="#df2308"/><path d="M321.0 52.2L325.7 52.9L329.9 48.3L325.2 47.6Z" fill="#ef2109" stroke="#de1f08"/><path d="M329.9 48.3L334.7 48.9L338.9 44.4L334.1 43.9Z" fill="#ef2309" stroke="#df2008"/><path d="M338.9 44.4L343.6 45.0L347.8 41.1L343.1 40.5Z" fill="#ef2009" stroke="#de1e09"/><path d="M347.8 41.1L352.6 41.6L356.8 38.5L352.0 38.0Z" fill="#eb1b0a" stroke="#db1909"/><path d="M222.9 88.1L227.6 86.0L231.8 83.6L227.1 85.8Z" fill="#b0fa00" stroke="#a4e800"/><path d="M231.8 83.6L236.5 82.2L240.7 79.9L236.0 81.3Z" fill="#d7fa00" stroke="#c8e800"/><path d="M267.4 72.1L272.2 72.8L276.3 69.2L271.6 68.5Z" fill="#ffd500" stroke="#edc600"/><path d="M312.1 55.6L316.8 56.5L321.0 52.2L316.2 51.3Z" fill="#ef2009" stroke="#de1e09"/><path d="M192.2 102.6L196.9 101.7L201.1 99.3L196.4 100.2Z" fill="#18f12d" stroke="#16e02a"/><path d="M201.1 99.3L205.8 97.4L209.9 95.1L205.3 97.0Z" fill="#2cf11b" stroke="#29e019"/><path d="M209.9 95.1L214.6 92.8L218.8 90.5L214.1 92.8Z" fill="#5ef50f" stroke="#57e40e"/><path d="M218.8 90.5L223.5 88.3L227.6 86.0L222.9 88.1Z" fill="#9bfa01" stroke="#90e801"/><path d="M245.4 79.5L250.2 79.7L254.3 77.3L249.6 77.1Z" fill="#fbf500" stroke="#e9e300"/><path d="M254.3 77.3L259.1 77.8L263.3 75.1L258.5 74.6Z" fill="#fcec00" stroke="#eadb00"/><path d="M263.3 75.1L268.0 75.8L272.2 72.8L267.4 72.1Z" fill="#fde300" stroke="#ebd300"/><path d="M290.0 66.6L294.8 67.5L298.9 63.2L294.2 62.3Z" fill="#f95900" stroke="#e75300"/><path d="M298.9 63.2L303.7 64.2L307.9 59.8L303.1 58.9Z" fill="#f43a04" stroke="#e33604"/><path d="M307.9 59.8L312.6 60.7L316.8 56.5L312.1 55.6Z" fill="#f02708" stroke="#df2407"/><path d="M334.7 48.9L339.4 49.5L343.6 45.0L338.9 44.4Z" fill="#ef2209" stroke="#de1f08"/><path d="M343.6 45.0L348.4 45.5L352.6 41.6L347.8 41.1Z" fill="#ee1d0a" stroke="#dd1b09"/><path d="M352.6 41.6L357.3 41.9L361.5 38.8L356.8 38.5Z" fill="#e91a0a" stroke="#d91809"/><path d="M227.6 86.0L232.3 84.6L236.5 82.2L231.8 83.6Z" fill="#c2fa00" stroke="#b5e800"/><path d="M236.5 82.2L241.2 81.8L245.4 79.5L240.7 79.9Z" fill="#e7fa00" stroke="#d7e800"/><path d="M272.2 72.8L276.9 73.4L281.1 69.9L276.3 69.2Z" fill="#ffd000" stroke="#edc100"/><path d="M281.1 69.9L285.8 70.6L290.0 66.6L285.3 65.9Z" fill="#ff9500" stroke="#ed8b00"/><path d="M316.8 56.5L321.5 57.2L325.7 52.9L321.0 52.2Z" fill="#ef2209" stroke="#de1f08"/><path d="M325.7 52.9L330.5 53.5L334.7 48.9L329.9 48.3Z" fill="#ef2109" stroke="#de1f08"/><path d="M196.9 101.7L201.6 99.8L205.8 97.4L201.1 99.3Z" fill="#1cf022" stroke="#1adf20"/><path d="M205.8 97.4L210.4 95.1L214.6 92.8L209.9 95.1Z" fill="#42f316" stroke="#3ee214"/><path d="M214.6 92.8L219.3 90.6L223.5 88.3L218.8 90.5Z" fill="#7df708" stroke="#74e608"/><path d="M223.5 88.3L228.2 87.0L232.3 84.6L227.6 86.0Z" fill="#aefa00" stroke="#a2e800"/><path d="M241.2 81.8L246.0 82.0L250.2 79.7L245.4 79.5Z" fill="#f3fa00" stroke="#e2e800"/><path d="M250.2 79.7L254.9 80.2L259.1 77.8L254.3 77.3Z" fill="#fbf300" stroke="#e9e200"/><path d="M259.1 77.8L263.8 78.5L268.0 75.8L263.3 75.1Z" fill="#fceb00" stroke="#eadb00"/><path d="M268.0 75.8L272.8 76.5L276.9 73.4L272.2 72.8Z" fill="#fde200" stroke="#ebd200"/><path d="M285.8 70.6L290.6 71.5L294.8 67.5L290.0 66.6Z" fill="#fe8a00" stroke="#ec8100"/><path d="M294.8 67.5L299.5 68.4L303.7 64.2L298.9 63.2Z" fill="#f95b00" stroke="#e85400"/><path d="M303.7 64.2L308.4 65.1L312.6 60.7L307.9 59.8Z" fill="#f43a04" stroke="#e33604"/><path d="M312.6 60.7L317.4 61.5L321.5 57.2L316.8 56.5Z" fill="#f02908" stroke="#e02607"/><path d="M330.5 53.5L335.2 54.1L339.4 49.5L334.7 48.9Z" fill="#ef2109" stroke="#de1f08"/><path d="M339.4 49.5L344.2 50.0L348.4 45.5L343.6 45.0Z" fill="#ef2009" stroke="#de1e09"/><path d="M348.4 45.5L353.1 45.8L357.3 41.9L352.6 41.6Z" fill="#ec1b0a" stroke="#dc1909"/><path d="M357.3 41.9L362.1 41.9L366.2 38.8L361.5 38.8Z" fill="#e7180a" stroke="#d61709"/><path d="M188.1 105.1L192.8 104.2L196.9 101.7L192.2 102.6Z" fill="#12f23b" stroke="#10e137"/><path d="M232.3 84.6L237.1 84.2L241.2 81.8L236.5 82.2Z" fill="#d0fa00" stroke="#c2e800"/><path d="M276.9 73.4L281.7 74.2L285.8 70.6L281.1 69.9Z" fill="#ffc700" stroke="#edb900"/><path d="M321.5 57.2L326.3 57.8L330.5 53.5L325.7 52.9Z" fill="#ef2109" stroke="#de1f08"/><path d="M362.1 41.9L366.8 41.6L371.0 38.5L366.2 38.8Z" fill="#e4170a" stroke="#d41609"/><path d="M219.3 90.6L224.0 89.3L228.2 87.0L223.5 88.3Z" fill="#98f902" stroke="#8ee802"/><path d="M228.2 87.0L232.9 86.6L237.1 84.2L232.3 84.6Z" fill="#bcfa00" stroke="#afe800"/><path d="M263.8 78.5L268.6 79.2L272.8 76.5L268.0 75.8Z" fill="#fceb00" stroke="#eadb00"/><path d="M272.8 76.5L277.5 77.3L281.7 74.2L276.9 73.4Z" fill="#fedf00" stroke="#eccf00"/><path d="M308.4 65.1L313.2 65.8L317.4 61.5L312.6 60.7Z" fill="#f43b04" stroke="#e33704"/><path d="M317.4 61.5L322.1 62.1L326.3 57.8L321.5 57.2Z" fill="#f02908" stroke="#e02607"/><path d="M353.1 45.8L357.9 45.8L362.1 41.9L357.3 41.9Z" fill="#ea1a0a" stroke="#da1809"/><path d="M184.0 107.9L188.6 107.0L192.8 104.2L188.1 105.1Z" fill="#0bf349" stroke="#0be244"/><path d="M192.8 104.2L197.5 102.3L201.6 99.8L196.9 101.7Z" fill="#16f131" stroke="#14e02e"/><path d="M201.6 99.8L206.3 97.5L210.4 95.1L205.8 97.4Z" fill="#2bf11b" stroke="#28e019"/><path d="M210.4 95.1L215.1 93.0L219.3 90.6L214.6 92.8Z" fill="#5ff50f" stroke="#59e40e"/><path d="M237.1 84.2L241.8 84.4L246.0 82.0L241.2 81.8Z" fill="#ddfa00" stroke="#cee800"/><path d="M246.0 82.0L250.8 82.5L254.9 80.2L250.2 79.7Z" fill="#fafa00" stroke="#e9e800"/><path d="M254.9 80.2L259.7 80.9L263.8 78.5L259.1 77.8Z" fill="#fbf100" stroke="#eae000"/><path d="M281.7 74.2L286.4 75.1L290.6 71.5L285.8 70.6Z" fill="#ffbc00" stroke="#edaf00"/><path d="M290.6 71.5L295.3 72.5L299.5 68.4L294.8 67.5Z" fill="#fd8700" stroke="#ec7d00"/><path d="M299.5 68.4L304.3 69.4L308.4 65.1L303.7 64.2Z" fill="#f95d00" stroke="#e85600"/><path d="M326.3 57.8L331.0 58.4L335.2 54.1L330.5 53.5Z" fill="#ef2109" stroke="#de1e08"/><path d="M335.2 54.1L340.0 54.6L344.2 50.0L339.4 49.5Z" fill="#ef2009" stroke="#de1e09"/><path d="M344.2 50.0L348.9 50.3L353.1 45.8L348.4 45.5Z" fill="#ee1e0a" stroke="#de1c09"/><path d="M232.9 86.6L237.7 86.8L241.8 84.4L237.1 84.2Z" fill="#c7fa00" stroke="#b9e800"/><path d="M277.5 77.3L282.3 78.2L286.4 75.1L281.7 74.2Z" fill="#fedb00" stroke="#eccc00"/><path d="M322.1 62.1L326.9 62.7L331.0 58.4L326.3 57.8Z" fill="#f02708" stroke="#df2407"/><path d="M357.9 45.8L362.6 45.6L366.8 41.6L362.1 41.9Z" fill="#e8190a" stroke="#d81709"/><path d="M366.8 41.6L371.6 41.0L375.8 37.9L371.0 38.5Z" fill="#e1160a" stroke="#d21409"/><path d="M179.8 110.9L184.5 109.9L188.6 107.0L184.0 107.9Z" fill="#04f45b" stroke="#04e354"/><path d="M188.6 107.0L193.3 105.1L197.5 102.3L192.8 104.2Z" fill="#0ff240" stroke="#0ee13c"/><path d="M215.1 93.0L219.8 91.6L224.0 89.3L219.3 90.6Z" fill="#7bf709" stroke="#72e608"/><path d="M224.0 89.3L228.8 88.9L232.9 86.6L228.2 87.0Z" fill="#a8fa00" stroke="#9de800"/><path d="M259.7 80.9L264.4 81.6L268.6 79.2L263.8 78.5Z" fill="#fbf100" stroke="#eae000"/><path d="M268.6 79.2L273.4 79.9L277.5 77.3L272.8 76.5Z" fill="#fceb00" stroke="#eada00"/><path d="M304.3 69.4L309.0 70.2L313.2 65.8L308.4 65.1Z" fill="#f95d00" stroke="#e85600"/><path d="M313.2 65.8L317.9 66.5L322.1 62.1L317.4 61.5Z" fill="#f43b04" stroke="#e33704"/><path d="M348.9 50.3L353.7 50.3L357.9 45.8L353.1 45.8Z" fill="#ee1c0a" stroke="#dd1a09"/><path d="M197.5 102.3L202.1 100.0L206.3 97.5L201.6 99.8Z" fill="#1cf023" stroke="#1ae021"/><path d="M206.3 97.5L211.0 95.3L215.1 93.0L210.4 95.1Z" fill="#43f315" stroke="#3ee214"/><path d="M241.8 84.4L246.6 84.9L250.8 82.5L246.0 82.0Z" fill="#eafa00" stroke="#d9e800"/><path d="M250.8 82.5L255.5 83.2L259.7 80.9L254.9 80.2Z" fill="#faf700" stroke="#e9e600"/><path d="M286.4 75.1L291.2 76.2L295.3 72.5L290.6 71.5Z" fill="#ffb300" stroke="#eda700"/><path d="M295.3 72.5L300.1 73.5L304.3 69.4L299.5 68.4Z" fill="#fe8800" stroke="#ec7e00"/><path d="M331.0 58.4L335.8 58.9L340.0 54.6L335.2 54.1Z" fill="#ef2009" stroke="#de1e09"/><path d="M340.0 54.6L344.7 54.9L348.9 50.3L344.2 50.0Z" fill="#ef1f09" stroke="#de1d09"/><path d="M184.5 109.9L189.2 108.1L193.3 105.1L188.6 107.0Z" fill="#09f44f" stroke="#08e24a"/><path d="M228.8 88.9L233.5 89.1L237.7 86.8L232.9 86.6Z" fill="#b3fa00" stroke="#a6e800"/><path d="M237.7 86.8L242.4 87.3L246.6 84.9L241.8 84.4Z" fill="#d4fa00" stroke="#c5e800"/><path d="M273.4 79.9L278.1 80.9L282.3 78.2L277.5 77.3Z" fill="#fce900" stroke="#ebd800"/><path d="M282.3 78.2L287.0 79.3L291.2 76.2L286.4 75.1Z" fill="#ffd700" stroke="#edc800"/><path d="M317.9 66.5L322.7 67.2L326.9 62.7L322.1 62.1Z" fill="#f33805" stroke="#e23404"/><path d="M326.9 62.7L331.6 63.2L335.8 58.9L331.0 58.4Z" fill="#f02408" stroke="#df2108"/><path d="M353.7 50.3L358.5 50.0L362.6 45.6L357.9 45.8Z" fill="#ec1b0a" stroke="#dc1909"/><path d="M362.6 45.6L367.4 45.0L371.6 41.0L366.8 41.6Z" fill="#e6180a" stroke="#d61609"/><path d="M371.6 41.0L376.4 40.3L380.5 37.2L375.8 37.9Z" fill="#df150a" stroke="#cf1309"/><path d="M175.7 113.9L180.4 113.0L184.5 109.9L179.8 110.9Z" fill="#00f674" stroke="#00e56c"/><path d="M193.3 105.1L198.0 102.8L202.1 100.0L197.5 102.3Z" fill="#15f133" stroke="#14e12f"/><path d="M211.0 95.3L215.7 94.0L219.8 91.6L215.1 93.0Z" fill="#5df510" stroke="#56e40e"/><path d="M219.8 91.6L224.6 91.3L228.8 88.9L224.0 89.3Z" fill="#90f904" stroke="#86e703"/><path d="M255.5 83.2L260.3 83.9L264.4 81.6L259.7 80.9Z" fill="#fbf500" stroke="#e9e400"/><path d="M264.4 81.6L269.2 82.4L273.4 79.9L268.6 79.2Z" fill="#fbf200" stroke="#eae100"/><path d="M300.1 73.5L304.9 74.3L309.0 70.2L304.3 69.4Z" fill="#fe8a00" stroke="#ec8000"/><path d="M309.0 70.2L313.8 70.9L317.9 66.5L313.2 65.8Z" fill="#f95c00" stroke="#e85500"/><path d="M344.7 54.9L349.5 54.9L353.7 50.3L348.9 50.3Z" fill="#ee1e0a" stroke="#de1c09"/><path d="M202.1 100.0L206.8 97.9L211.0 95.3L206.3 97.5Z" fill="#2bf11b" stroke="#28e019"/><path d="M246.6 84.9L251.4 85.6L255.5 83.2L250.8 82.5Z" fill="#f1fa00" stroke="#e0e800"/><path d="M291.2 76.2L295.9 77.2L300.1 73.5L295.3 72.5Z" fill="#ffaf00" stroke="#eda300"/><path d="M335.8 58.9L340.6 59.3L344.7 54.9L340.0 54.6Z" fill="#ef2009" stroke="#de1e09"/><path d="M180.4 113.0L185.1 111.1L189.2 108.1L184.5 109.9Z" fill="#01f562" stroke="#01e45b"/><path d="M189.2 108.1L193.8 105.8L198.0 102.8L193.3 105.1Z" fill="#0ef343" stroke="#0de23e"/><path d="M198.0 102.8L202.7 100.7L206.8 97.9L202.1 100.0Z" fill="#1bf025" stroke="#19e022"/><path d="M224.6 91.3L229.3 91.4L233.5 89.1L228.8 88.9Z" fill="#9ffa00" stroke="#94e800"/><path d="M233.5 89.1L238.3 89.7L242.4 87.3L237.7 86.8Z" fill="#bdfa00" stroke="#b0e800"/><path d="M242.4 87.3L247.2 88.0L251.4 85.6L246.6 84.9Z" fill="#e3fa00" stroke="#d3e800"/><path d="M269.2 82.4L274.0 83.4L278.1 80.9L273.4 79.9Z" fill="#fbf200" stroke="#eae100"/><path d="M278.1 80.9L282.9 82.0L287.0 79.3L282.3 78.2Z" fill="#fde500" stroke="#ebd500"/><path d="M287.0 79.3L291.8 80.3L295.9 77.2L291.2 76.2Z" fill="#ffd200" stroke="#edc300"/><path d="M313.8 70.9L318.5 71.6L322.7 67.2L317.9 66.5Z" fill="#f95800" stroke="#e75200"/><path d="M322.7 67.2L327.4 67.7L331.6 63.2L326.9 62.7Z" fill="#f23306" stroke="#e12f05"/><path d="M331.6 63.2L336.4 63.6L340.6 59.3L335.8 58.9Z" fill="#ef2209" stroke="#de2008"/><path d="M349.5 54.9L354.3 54.7L358.5 50.0L353.7 50.3Z" fill="#ee1d0a" stroke="#de1b09"/><path d="M358.5 50.0L363.2 49.5L367.4 45.0L362.6 45.6Z" fill="#ea1a0a" stroke="#da1809"/><path d="M367.4 45.0L372.2 44.2L376.4 40.3L371.6 41.0Z" fill="#e3170a" stroke="#d31509"/><path d="M376.4 40.3L381.2 39.4L385.3 36.3L380.5 37.2Z" fill="#dd140a" stroke="#cd1209"/><path d="M171.6 117.0L176.3 116.1L180.4 113.0L175.7 113.9Z" fill="#00f899" stroke="#00e68e"/><path d="M206.8 97.9L211.5 96.6L215.7 94.0L211.0 95.3Z" fill="#40f316" stroke="#3be215"/><path d="M215.7 94.0L220.4 93.7L224.6 91.3L219.8 91.6Z" fill="#73f70a" stroke="#6be50a"/><path d="M251.4 85.6L256.1 86.3L260.3 83.9L255.5 83.2Z" fill="#f9fa00" stroke="#e7e800"/><path d="M260.3 83.9L265.0 84.7L269.2 82.4L264.4 81.6Z" fill="#fbf500" stroke="#e9e400"/><path d="M295.9 77.2L300.7 78.0L304.9 74.3L300.1 73.5Z" fill="#ffae00" stroke="#eda200"/><path d="M304.9 74.3L309.6 75.0L313.8 70.9L309.0 70.2Z" fill="#fe8a00" stroke="#ec8000"/><path d="M340.6 59.3L345.3 59.4L349.5 54.9L344.7 54.9Z" fill="#ef1f09" stroke="#de1d09"/><path d="M247.2 88.0L252.0 88.8L256.1 86.3L251.4 85.6Z" fill="#edfa00" stroke="#dce800"/><path d="M291.8 80.3L296.5 81.2L300.7 78.0L295.9 77.2Z" fill="#ffcd00" stroke="#edbe00"/><path d="M336.4 63.6L341.1 63.7L345.3 59.4L340.6 59.3Z" fill="#ef2109" stroke="#de1e08"/><path d="M167.5 120.0L172.2 119.1L176.3 116.1L171.6 117.0Z" fill="#00fac2" stroke="#00e8b4"/><path d="M176.3 116.1L180.9 114.2L185.1 111.1L180.4 113.0Z" fill="#00f67f" stroke="#00e576"/><path d="M185.1 111.1L189.7 108.8L193.8 105.8L189.2 108.1Z" fill="#08f452" stroke="#07e34d"/><path d="M193.8 105.8L198.5 103.7L202.7 100.7L198.0 102.8Z" fill="#14f235" stroke="#13e131"/><path d="M202.7 100.7L207.4 99.4L211.5 96.6L206.8 97.9Z" fill="#26f11c" stroke="#23e01a"/><path d="M220.4 93.7L225.2 93.9L229.3 91.4L224.6 91.3Z" fill="#84f807" stroke="#7ae606"/><path d="M229.3 91.4L234.1 92.0L238.3 89.7L233.5 89.1Z" fill="#a8fa00" stroke="#9ce800"/><path d="M238.3 89.7L243.0 90.4L247.2 88.0L242.4 87.3Z" fill="#ccfa00" stroke="#bee800"/><path d="M265.0 84.7L269.8 85.7L274.0 83.4L269.2 82.4Z" fill="#faf700" stroke="#e9e600"/><path d="M274.0 83.4L278.7 84.5L282.9 82.0L278.1 80.9Z" fill="#fbf000" stroke="#eae000"/><path d="M282.9 82.0L287.6 83.1L291.8 80.3L287.0 79.3Z" fill="#fde100" stroke="#ecd100"/><path d="M309.6 75.0L314.4 75.7L318.5 71.6L313.8 70.9Z" fill="#fd8500" stroke="#ec7c00"/><path d="M318.5 71.6L323.3 72.1L327.4 67.7L322.7 67.2Z" fill="#f84f00" stroke="#e64900"/><path d="M327.4 67.7L332.2 68.1L336.4 63.6L331.6 63.2Z" fill="#f12d07" stroke="#e02a06"/><path d="M345.3 59.4L350.1 59.1L354.3 54.7L349.5 54.9Z" fill="#ef1f09" stroke="#de1d09"/><path d="M354.3 54.7L359.0 54.1L363.2 49.5L358.5 50.0Z" fill="#ee1c0a" stroke="#dd1a09"/><path d="M363.2 49.5L368.0 48.8L372.2 44.2L367.4 45.0Z" fill="#e8190a" stroke="#d81709"/><path d="M372.2 44.2L377.0 43.4L381.2 39.4L376.4 40.3Z" fill="#e1160a" stroke="#d11409"/><path d="M381.2 39.4L385.9 38.6L390.1 35.5L385.3 36.3Z" fill="#db130a" stroke="#cb1109"/><path d="M211.5 96.6L216.3 96.3L220.4 93.7L215.7 94.0Z" fill="#54f412" stroke="#4ee310"/><path d="M256.1 86.3L260.9 87.1L265.0 84.7L260.3 83.9Z" fill="#faf900" stroke="#e9e700"/><path d="M300.7 78.0L305.4 78.8L309.6 75.0L304.9 74.3Z" fill="#ffaf00" stroke="#eda200"/><path d="M341.1 63.7L345.9 63.5L350.1 59.1L345.3 59.4Z" fill="#ef1f09" stroke="#de1d09"/><path d="M385.9 38.6L390.7 37.7L394.9 34.5L390.1 35.5Z" fill="#d9120a" stroke="#c91009"/><path d="M172.2 119.1L176.8 117.3L180.9 114.2L176.3 116.1Z" fill="#00f8a6" stroke="#00e79a"/><path d="M198.5 103.7L203.2 102.4L207.4 99.4L202.7 100.7Z" fill="#19f129" stroke="#18e026"/><path d="M243.0 90.4L247.8 91.1L252.0 88.8L247.2 88.0Z" fill="#dffa00" stroke="#cfe800"/><path d="M252.0 88.8L256.7 89.6L260.9 87.1L256.1 86.3Z" fill="#f4fa00" stroke="#e3e800"/><path d="M287.6 83.1L292.4 83.9L296.5 81.2L291.8 80.3Z" fill="#fedd00" stroke="#ecce00"/><path d="M296.5 81.2L301.3 81.9L305.4 78.8L300.7 78.0Z" fill="#ffcb00" stroke="#edbd00"/><path d="M332.2 68.1L337.0 68.2L341.1 63.7L336.4 63.6Z" fill="#f02708" stroke="#df2407"/><path d="M163.4 123.0L168.0 122.1L172.2 119.1L167.5 120.0Z" fill="#00f2dd" stroke="#00e1ce"/><path d="M180.9 114.2L185.6 111.9L189.7 108.8L185.1 111.1Z" fill="#00f567" stroke="#00e460"/><path d="M189.7 108.8L194.4 106.7L198.5 103.7L193.8 105.8Z" fill="#0df346" stroke="#0ce241"/><path d="M207.4 99.4L212.1 99.1L216.3 96.3L211.5 96.6Z" fill="#36f219" stroke="#32e117"/><path d="M216.3 96.3L221.0 96.4L225.2 93.9L220.4 93.7Z" fill="#65f50e" stroke="#5ee40d"/><path d="M225.2 93.9L230.0 94.4L234.1 92.0L229.3 91.4Z" fill="#8ff904" stroke="#85e704"/><path d="M234.1 92.0L238.9 92.7L243.0 90.4L238.3 89.7Z" fill="#b3fa00" stroke="#a7e800"/><path d="M260.9 87.1L265.7 88.2L269.8 85.7L265.0 84.7Z" fill="#fafa00" stroke="#e9e800"/><path d="M269.8 85.7L274.6 86.8L278.7 84.5L274.0 83.4Z" fill="#faf800" stroke="#e9e600"/><path d="M278.7 84.5L283.5 85.5L287.6 83.1L282.9 82.0Z" fill="#fced00" stroke="#eadc00"/><path d="M305.4 78.8L310.2 79.5L314.4 75.7L309.6 75.0Z" fill="#ffad00" stroke="#eda100"/><path d="M314.4 75.7L319.1 76.3L323.3 72.1L318.5 71.6Z" fill="#fc7d00" stroke="#eb7400"/><path d="M323.3 72.1L328.0 72.5L332.2 68.1L327.4 67.7Z" fill="#f64402" stroke="#e53f02"/><path d="M350.1 59.1L354.9 58.6L359.0 54.1L354.3 54.7Z" fill="#ee1f0a" stroke="#de1c09"/><path d="M359.0 54.1L363.8 53.4L368.0 48.8L363.2 49.5Z" fill="#ec1b0a" stroke="#dc1909"/><path d="M368.0 48.8L372.8 47.9L377.0 43.4L372.2 44.2Z" fill="#e6180a" stroke="#d61609"/><path d="M377.0 43.4L381.8 42.6L385.9 38.6L381.2 39.4Z" fill="#df150a" stroke="#cf1309"/><path d="M256.7 89.6L261.5 90.6L265.7 88.2L260.9 87.1Z" fill="#f6fa00" stroke="#e4e800"/><path d="M301.3 81.9L306.1 82.7L310.2 79.5L305.4 78.8Z" fill="#ffca00" stroke="#edbc00"/><path d="M337.0 68.2L341.7 68.0L345.9 63.5L341.1 63.7Z" fill="#ef2309" stroke="#df2008"/><path d="M345.9 63.5L350.7 63.0L354.9 58.6L350.1 59.1Z" fill="#ef1f09" stroke="#de1d09"/><path d="M381.8 42.6L386.6 41.7L390.7 37.7L385.9 38.6Z" fill="#dd140a" stroke="#cd1209"/><path d="M390.7 37.7L395.5 36.6L399.7 33.5L394.9 34.5Z" fill="#d6100a" stroke="#c70f09"/><path d="M159.2 125.9L163.9 125.0L168.0 122.1L163.4 123.0Z" fill="#00e7fc" stroke="#00d7ea"/><path d="M168.0 122.1L172.7 120.2L176.8 117.3L172.2 119.1Z" fill="#00f9cc" stroke="#00e7bd"/><path d="M176.8 117.3L181.5 115.0L185.6 111.9L180.9 114.2Z" fill="#00f786" stroke="#00e57d"/><path d="M194.4 106.7L199.1 105.5L203.2 102.4L198.5 103.7Z" fill="#12f23a" stroke="#11e136"/><path d="M203.2 102.4L208.0 102.0L212.1 99.1L207.4 99.4Z" fill="#1df01f" stroke="#1bdf1d"/><path d="M238.9 92.7L243.7 93.5L247.8 91.1L243.0 90.4Z" fill="#c4fa00" stroke="#b7e800"/><path d="M247.8 91.1L252.6 92.0L256.7 89.6L252.0 88.8Z" fill="#eafa00" stroke="#d9e800"/><path d="M283.5 85.5L288.2 86.4L292.4 83.9L287.6 83.1Z" fill="#fce800" stroke="#ebd800"/><path d="M292.4 83.9L297.2 84.7L301.3 81.9L296.5 81.2Z" fill="#fedb00" stroke="#eccb00"/><path d="M328.0 72.5L332.8 72.6L337.0 68.2L332.2 68.1Z" fill="#f43904" stroke="#e33504"/><path d="M185.6 111.9L190.3 109.9L194.4 106.7L189.7 108.8Z" fill="#06f456" stroke="#06e350"/><path d="M212.1 99.1L216.9 99.3L221.0 96.4L216.3 96.3Z" fill="#46f315" stroke="#41e213"/><path d="M221.0 96.4L225.8 97.0L230.0 94.4L225.2 93.9Z" fill="#73f70a" stroke="#6be50a"/><path d="M230.0 94.4L234.7 95.2L238.9 92.7L234.1 92.0Z" fill="#9bfa01" stroke="#90e801"/><path d="M265.7 88.2L270.4 89.3L274.6 86.8L269.8 85.7Z" fill="#f5fa00" stroke="#e4e800"/><path d="M274.6 86.8L279.3 87.9L283.5 85.5L278.7 84.5Z" fill="#faf600" stroke="#e9e500"/><path d="M310.2 79.5L315.0 80.1L319.1 76.3L314.4 75.7Z" fill="#ffa800" stroke="#ed9c00"/><path d="M319.1 76.3L323.9 76.7L328.0 72.5L323.3 72.1Z" fill="#fb6e00" stroke="#e96600"/><path d="M354.9 58.6L359.6 57.9L363.8 53.4L359.0 54.1Z" fill="#ee1e0a" stroke="#de1c09"/><path d="M363.8 53.4L368.6 52.6L372.8 47.9L368.0 48.8Z" fill="#eb1a0a" stroke="#da1909"/><path d="M372.8 47.9L377.6 47.1L381.8 42.6L377.0 43.4Z" fill="#e3170a" stroke="#d31509"/><path d="M163.9 125.0L168.6 123.2L172.7 120.2L168.0 122.1Z" fill="#00f0e4" stroke="#00dfd4"/><path d="M181.5 115.0L186.2 112.9L190.3 109.9L185.6 111.9Z" fill="#00f56c" stroke="#00e464"/><path d="M208.0 102.0L212.8 102.2L216.9 99.3L212.1 99.1Z" fill="#28f11c" stroke="#26e01a"/><path d="M252.6 92.0L257.4 93.0L261.5 90.6L256.7 89.6Z" fill="#ecfa00" stroke="#dbe800"/><path d="M261.5 90.6L266.3 91.8L270.4 89.3L265.7 88.2Z" fill="#effa00" stroke="#dfe800"/><path d="M297.2 84.7L301.9 85.4L306.1 82.7L301.3 81.9Z" fill="#fed900" stroke="#ecca00"/><path d="M306.1 82.7L310.8 83.3L315.0 80.1L310.2 79.5Z" fill="#ffc700" stroke="#edb900"/><path d="M332.8 72.6L337.6 72.5L341.7 68.0L337.0 68.2Z" fill="#f12e07" stroke="#e12b06"/><path d="M341.7 68.0L346.5 67.5L350.7 63.0L345.9 63.5Z" fill="#ef2009" stroke="#de1e09"/><path d="M350.7 63.0L355.5 62.3L359.6 57.9L354.9 58.6Z" fill="#ef2009" stroke="#de1d09"/><path d="M377.6 47.1L382.4 46.2L386.6 41.7L381.8 42.6Z" fill="#e1160a" stroke="#d21409"/><path d="M386.6 41.7L391.3 40.6L395.5 36.6L390.7 37.7Z" fill="#db130a" stroke="#cb1109"/><path d="M395.5 36.6L400.3 35.5L404.5 32.4L399.7 33.5Z" fill="#d20f0a" stroke="#c40e09"/><path d="M155.1 128.8L159.8 128.0L163.9 125.0L159.2 125.9Z" fill="#00adff" stroke="#00a1ed"/><path d="M172.7 120.2L177.4 118.0L181.5 115.0L176.8 117.3Z" fill="#00f9ad" stroke="#00e7a1"/><path d="M190.3 109.9L195.0 108.6L199.1 105.5L194.4 106.7Z" fill="#0bf34a" stroke="#0ae245"/><path d="M199.1 105.5L203.9 105.1L208.0 102.0L203.2 102.4Z" fill="#16f130" stroke="#15e02d"/><path d="M216.9 99.3L221.7 99.8L225.8 97.0L221.0 96.4Z" fill="#54f412" stroke="#4ee310"/><path d="M234.7 95.2L239.5 95.9L243.7 93.5L238.9 92.7Z" fill="#a8fa00" stroke="#9ce800"/><path d="M243.7 93.5L248.4 94.3L252.6 92.0L247.8 91.1Z" fill="#d8fa00" stroke="#c9e800"/><path d="M279.3 87.9L284.1 88.8L288.2 86.4L283.5 85.5Z" fill="#fbf300" stroke="#e9e200"/><path d="M288.2 86.4L293.0 87.2L297.2 84.7L292.4 83.9Z" fill="#fde400" stroke="#ebd400"/><path d="M323.9 76.7L328.6 76.9L332.8 72.6L328.0 72.5Z" fill="#f95b00" stroke="#e85400"/><path d="M225.8 97.0L230.6 97.8L234.7 95.2L230.0 94.4Z" fill="#7cf708" stroke="#74e608"/><path d="M270.4 89.3L275.2 90.4L279.3 87.9L274.6 86.8Z" fill="#f2fa00" stroke="#e1e800"/><path d="M315.0 80.1L319.7 80.5L323.9 76.7L319.1 76.3Z" fill="#ff9e00" stroke="#ed9300"/><path d="M359.6 57.9L364.4 57.1L368.6 52.6L363.8 53.4Z" fill="#ee1d0a" stroke="#dd1b09"/><path d="M368.6 52.6L373.4 51.8L377.6 47.1L372.8 47.9Z" fill="#e9190a" stroke="#d81809"/><path d="M159.8 128.0L164.5 126.2L168.6 123.2L163.9 125.0Z" fill="#00deff" stroke="#00cfed"/><path d="M168.6 123.2L173.2 121.0L177.4 118.0L172.7 120.2Z" fill="#00f7d0" stroke="#00e6c1"/><path d="M177.4 118.0L182.0 116.0L186.2 112.9L181.5 115.0Z" fill="#00f78c" stroke="#00e682"/><path d="M186.2 112.9L190.9 111.7L195.0 108.6L190.3 109.9Z" fill="#04f45b" stroke="#03e355"/><path d="M203.9 105.1L208.6 105.3L212.8 102.2L208.0 102.0Z" fill="#19f129" stroke="#18e026"/><path d="M212.8 102.2L217.5 102.8L221.7 99.8L216.9 99.3Z" fill="#36f219" stroke="#32e117"/><path d="M221.7 99.8L226.5 100.6L230.6 97.8L225.8 97.0Z" fill="#5ff50f" stroke="#58e40e"/><path d="M248.4 94.3L253.2 95.4L257.4 93.0L252.6 92.0Z" fill="#dffa00" stroke="#cfe800"/><path d="M257.4 93.0L262.1 94.2L266.3 91.8L261.5 90.6Z" fill="#eafa00" stroke="#dae800"/><path d="M266.3 91.8L271.1 92.9L275.2 90.4L270.4 89.3Z" fill="#e7fa00" stroke="#d6e800"/><path d="M293.0 87.2L297.8 87.9L301.9 85.4L297.2 84.7Z" fill="#fde200" stroke="#ebd200"/><path d="M301.9 85.4L306.7 86.0L310.8 83.3L306.1 82.7Z" fill="#fed800" stroke="#edc900"/><path d="M310.8 83.3L315.6 83.7L319.7 80.5L315.0 80.1Z" fill="#ffc100" stroke="#edb300"/><path d="M328.6 76.9L333.4 76.7L337.6 72.5L332.8 72.6Z" fill="#f64602" stroke="#e54102"/><path d="M337.6 72.5L342.3 72.0L346.5 67.5L341.7 68.0Z" fill="#f02508" stroke="#df2308"/><path d="M346.5 67.5L351.3 66.8L355.5 62.3L350.7 63.0Z" fill="#ef2009" stroke="#de1d09"/><path d="M355.5 62.3L360.2 61.5L364.4 57.1L359.6 57.9Z" fill="#ef2009" stroke="#de1e09"/><path d="M373.4 51.8L378.2 50.9L382.4 46.2L377.6 47.1Z" fill="#e7190a" stroke="#d71709"/><path d="M382.4 46.2L387.2 45.1L391.3 40.6L386.6 41.7Z" fill="#e0150a" stroke="#d01409"/><path d="M391.3 40.6L396.2 39.5L400.3 35.5L395.5 36.6Z" fill="#d8110a" stroke="#c91009"/><path d="M400.3 35.5L405.1 34.5L409.3 31.4L404.5 32.4Z" fill="#cf0d0a" stroke="#c00c09"/><path d="M151.0 131.8L155.7 131.0L159.8 128.0L155.1 128.8Z" fill="#006bfc" stroke="#0064ea"/><path d="M195.0 108.6L199.7 108.2L203.9 105.1L199.1 105.5Z" fill="#0ff341" stroke="#0ee23d"/><path d="M230.6 97.8L235.4 98.5L239.5 95.9L234.7 95.2Z" fill="#87f806" stroke="#7ee705"/><path d="M239.5 95.9L244.3 96.8L248.4 94.3L243.7 93.5Z" fill="#b9fa00" stroke="#ace800"/><path d="M275.2 90.4L280.0 91.3L284.1 88.8L279.3 87.9Z" fill="#f5fa00" stroke="#e4e800"/><path d="M284.1 88.8L288.9 89.6L293.0 87.2L288.2 86.4Z" fill="#fcee00" stroke="#eadd00"/><path d="M319.7 80.5L324.5 80.7L328.6 76.9L323.9 76.7Z" fill="#fe8c00" stroke="#ec8200"/><path d="M364.4 57.1L369.2 56.3L373.4 51.8L368.6 52.6Z" fill="#ed1c0a" stroke="#dd1a09"/><path d="M271.1 92.9L275.8 93.8L280.0 91.3L275.2 90.4Z" fill="#e4fa00" stroke="#d4e800"/><path d="M315.6 83.7L320.3 83.9L324.5 80.7L319.7 80.5Z" fill="#ffb400" stroke="#eda800"/><path d="M146.9 134.9L151.6 134.1L155.7 131.0L151.0 131.8Z" fill="#002ff6" stroke="#002ce4"/><path d="M164.5 126.2L169.1 124.0L173.2 121.0L168.6 123.2Z" fill="#00eee8" stroke="#00ded8"/><path d="M173.2 121.0L177.9 119.0L182.0 116.0L177.4 118.0Z" fill="#00f9b4" stroke="#00e8a7"/><path d="M182.0 116.0L186.7 114.7L190.9 111.7L186.2 112.9Z" fill="#00f674" stroke="#00e56c"/><path d="M190.9 111.7L195.6 111.3L199.7 108.2L195.0 108.6Z" fill="#08f452" stroke="#07e34c"/><path d="M208.6 105.3L213.4 105.9L217.5 102.8L212.8 102.2Z" fill="#1df020" stroke="#1bdf1e"/><path d="M217.5 102.8L222.3 103.5L226.5 100.6L221.7 99.8Z" fill="#41f316" stroke="#3de214"/><path d="M226.5 100.6L231.2 101.4L235.4 98.5L230.6 97.8Z" fill="#68f60d" stroke="#61e40c"/><path d="M244.3 96.8L249.1 97.9L253.2 95.4L248.4 94.3Z" fill="#c8fa00" stroke="#bae800"/><path d="M253.2 95.4L258.0 96.6L262.1 94.2L257.4 93.0Z" fill="#ddfa00" stroke="#cde800"/><path d="M262.1 94.2L266.9 95.3L271.1 92.9L266.3 91.8Z" fill="#dffa00" stroke="#d0e800"/><path d="M288.9 89.6L293.6 90.3L297.8 87.9L293.0 87.2Z" fill="#fcea00" stroke="#eada00"/><path d="M297.8 87.9L302.5 88.5L306.7 86.0L301.9 85.4Z" fill="#fde000" stroke="#ecd100"/><path d="M306.7 86.0L311.4 86.4L315.6 83.7L310.8 83.3Z" fill="#ffd600" stroke="#edc700"/><path d="M324.5 80.7L329.3 80.5L333.4 76.7L328.6 76.9Z" fill="#fb7100" stroke="#ea6900"/><path d="M333.4 76.7L338.2 76.3L342.3 72.0L337.6 72.5Z" fill="#f33405" stroke="#e23105"/><path d="M342.3 72.0L347.1 71.4L351.3 66.8L346.5 67.5Z" fill="#ef2109" stroke="#de1f08"/><path d="M351.3 66.8L356.1 66.1L360.2 61.5L355.5 62.3Z" fill="#ef2009" stroke="#de1e09"/><path d="M360.2 61.5L365.0 60.7L369.2 56.3L364.4 57.1Z" fill="#ef1f09" stroke="#de1d09"/><path d="M369.2 56.3L374.0 55.4L378.2 50.9L373.4 51.8Z" fill="#ec1b0a" stroke="#db1909"/><path d="M378.2 50.9L383.0 49.9L387.2 45.1L382.4 46.2Z" fill="#e5180a" stroke="#d51609"/><path d="M387.2 45.1L392.0 44.1L396.2 39.5L391.3 40.6Z" fill="#de140a" stroke="#ce1309"/><path d="M396.2 39.5L401.0 38.6L405.1 34.5L400.3 35.5Z" fill="#d40f0a" stroke="#c50e09"/><path d="M405.1 34.5L409.9 33.8L414.1 30.7L409.3 31.4Z" fill="#c80b09" stroke="#ba0a08"/><path d="M155.7 131.0L160.4 129.2L164.5 126.2L159.8 128.0Z" fill="#00a0ff" stroke="#0095ed"/><path d="M199.7 108.2L204.5 108.4L208.6 105.3L203.9 105.1Z" fill="#12f23a" stroke="#11e136"/><path d="M235.4 98.5L240.2 99.4L244.3 96.8L239.5 95.9Z" fill="#98f902" stroke="#8de802"/><path d="M280.0 91.3L284.7 92.1L288.9 89.6L284.1 88.8Z" fill="#faf800" stroke="#e9e600"/><path d="M320.3 83.9L325.1 83.7L329.3 80.5L324.5 80.7Z" fill="#ff9f00" stroke="#ed9400"/><path d="M365.0 60.7L369.8 59.8L374.0 55.4L369.2 56.3Z" fill="#ee1e0a" stroke="#de1c09"/><path d="M409.9 33.8L414.7 33.1L418.9 30.0L414.1 30.7Z" fill="#be0908" stroke="#b10807"/><path d="M177.9 119.0L182.6 117.8L186.7 114.7L182.0 116.0Z" fill="#00f897" stroke="#00e68c"/><path d="M222.3 103.5L227.1 104.3L231.2 101.4L226.5 100.6Z" fill="#4bf314" stroke="#45e212"/><path d="M266.9 95.3L271.7 96.2L275.8 93.8L271.1 92.9Z" fill="#d7fa00" stroke="#c8e800"/><path d="M275.8 93.8L280.6 94.6L284.7 92.1L280.0 91.3Z" fill="#e9fa00" stroke="#d9e800"/><path d="M311.4 86.4L316.2 86.6L320.3 83.9L315.6 83.7Z" fill="#ffd200" stroke="#edc300"/><path d="M151.6 134.1L156.3 132.4L160.4 129.2L155.7 131.0Z" fill="#005dfa" stroke="#0056e9"/><path d="M169.1 124.0L173.8 122.1L177.9 119.0L173.2 121.0Z" fill="#00f6d4" stroke="#00e5c5"/><path d="M195.6 111.3L200.4 111.5L204.5 108.4L199.7 108.2Z" fill="#0bf34b" stroke="#0ae245"/><path d="M213.4 105.9L218.2 106.6L222.3 103.5L217.5 102.8Z" fill="#26f11c" stroke="#23e01a"/><path d="M142.9 138.3L147.5 137.6L151.6 134.1L146.9 134.9Z" fill="#0420f3" stroke="#031ee2"/><path d="M160.4 129.2L165.0 127.1L169.1 124.0L164.5 126.2Z" fill="#00d7ff" stroke="#00c8ed"/><path d="M186.7 114.7L191.5 114.4L195.6 111.3L190.9 111.7Z" fill="#00f565" stroke="#00e45e"/><path d="M204.5 108.4L209.3 109.0L213.4 105.9L208.6 105.3Z" fill="#15f133" stroke="#14e12f"/><path d="M231.2 101.4L236.0 102.2L240.2 99.4L235.4 98.5Z" fill="#72f60b" stroke="#6ae50a"/><path d="M240.2 99.4L244.9 100.5L249.1 97.9L244.3 96.8Z" fill="#a9fa00" stroke="#9de800"/><path d="M249.1 97.9L253.9 99.1L258.0 96.6L253.2 95.4Z" fill="#ccfa00" stroke="#bde800"/><path d="M258.0 96.6L262.8 97.7L266.9 95.3L262.1 94.2Z" fill="#d7fa00" stroke="#c8e800"/><path d="M284.7 92.1L289.5 92.8L293.6 90.3L288.9 89.6Z" fill="#fbf300" stroke="#e9e200"/><path d="M293.6 90.3L298.4 90.9L302.5 88.5L297.8 87.9Z" fill="#fce700" stroke="#ebd700"/><path d="M302.5 88.5L307.3 88.9L311.4 86.4L306.7 86.0Z" fill="#fedf00" stroke="#eccf00"/><path d="M329.3 80.5L334.0 80.1L338.2 76.3L333.4 76.7Z" fill="#f85000" stroke="#e74b00"/><path d="M338.2 76.3L343.0 75.7L347.1 71.4L342.3 72.0Z" fill="#f02808" stroke="#df2507"/><path d="M347.1 71.4L351.9 70.6L356.1 66.1L351.3 66.8Z" fill="#ef2009" stroke="#de1e09"/><path d="M356.1 66.1L360.9 65.3L365.0 60.7L360.2 61.5Z" fill="#ef2109" stroke="#de1f08"/><path d="M374.0 55.4L378.8 54.4L383.0 49.9L378.2 50.9Z" fill="#eb1a0a" stroke="#da1809"/><path d="M383.0 49.9L387.8 48.8L392.0 44.1L387.2 45.1Z" fill="#e3170a" stroke="#d41509"/><path d="M392.0 44.1L396.8 43.1L401.0 38.6L396.2 39.5Z" fill="#da120a" stroke="#cb1109"/><path d="M401.0 38.6L405.8 37.8L409.9 33.8L405.1 34.5Z" fill="#d00e0a" stroke="#c20d09"/><path d="M280.6 94.6L285.4 95.3L289.5 92.8L284.7 92.1Z" fill="#f4fa00" stroke="#e3e800"/><path d="M316.2 86.6L321.0 86.5L325.1 83.7L320.3 83.9Z" fill="#ffc200" stroke="#edb400"/><path d="M325.1 83.7L329.9 83.3L334.0 80.1L329.3 80.5Z" fill="#fd7f00" stroke="#eb7600"/><path d="M360.9 65.3L365.7 64.5L369.8 59.8L365.0 60.7Z" fill="#ef2109" stroke="#de1f08"/><path d="M369.8 59.8L374.6 58.8L378.8 54.4L374.0 55.4Z" fill="#ee1d0a" stroke="#de1b09"/><path d="M405.8 37.8L410.6 37.2L414.7 33.1L409.9 33.8Z" fill="#cb0c0a" stroke="#bd0b09"/><path d="M414.7 33.1L419.5 32.5L423.7 29.3L418.9 30.0Z" fill="#b40706" stroke="#a80705"/><path d="M156.3 132.4L160.9 130.3L165.0 127.1L160.4 129.2Z" fill="#0097ff" stroke="#008ded"/><path d="M173.8 122.1L178.5 120.9L182.6 117.8L177.9 119.0Z" fill="#00fac0" stroke="#00e8b3"/><path d="M182.6 117.8L187.4 117.5L191.5 114.4L186.7 114.7Z" fill="#00f783" stroke="#00e57a"/><path d="M200.4 111.5L205.2 112.1L209.3 109.0L204.5 108.4Z" fill="#0ef344" stroke="#0de23f"/><path d="M218.2 106.6L223.0 107.4L227.1 104.3L222.3 103.5Z" fill="#2ff11a" stroke="#2ce018"/><path d="M227.1 104.3L231.9 105.2L236.0 102.2L231.2 101.4Z" fill="#53f412" stroke="#4ee310"/><path d="M236.0 102.2L240.8 103.3L244.9 100.5L240.2 99.4Z" fill="#81f807" stroke="#78e607"/><path d="M262.8 97.7L267.5 98.7L271.7 96.2L266.9 95.3Z" fill="#cefa00" stroke="#bfe800"/><path d="M271.7 96.2L276.5 97.0L280.6 94.6L275.8 93.8Z" fill="#d7fa00" stroke="#c8e800"/><path d="M307.3 88.9L312.1 89.1L316.2 86.6L311.4 86.4Z" fill="#fedc00" stroke="#eccd00"/><path d="M138.8 141.9L143.5 141.2L147.5 137.6L142.9 138.3Z" fill="#061af1" stroke="#0618e0"/><path d="M147.5 137.6L152.2 135.9L156.3 132.4L151.6 134.1Z" fill="#0127f5" stroke="#0024e4"/><path d="M165.0 127.1L169.7 125.2L173.8 122.1L169.1 124.0Z" fill="#00eded" stroke="#00dcdc"/><path d="M191.5 114.4L196.3 114.6L200.4 111.5L195.6 111.3Z" fill="#03f45d" stroke="#03e356"/><path d="M209.3 109.0L214.1 109.7L218.2 106.6L213.4 105.9Z" fill="#18f12b" stroke="#17e028"/><path d="M244.9 100.5L249.7 101.7L253.9 99.1L249.1 97.9Z" fill="#b4fa00" stroke="#a7e800"/><path d="M253.9 99.1L258.6 100.2L262.8 97.7L258.0 96.6Z" fill="#c8fa00" stroke="#bae800"/><path d="M289.5 92.8L294.3 93.4L298.4 90.9L293.6 90.3Z" fill="#fbef00" stroke="#eade00"/><path d="M298.4 90.9L303.2 91.3L307.3 88.9L302.5 88.5Z" fill="#fde500" stroke="#ebd500"/><path d="M334.0 80.1L338.8 79.5L343.0 75.7L338.2 76.3Z" fill="#f43904" stroke="#e23504"/><path d="M343.0 75.7L347.8 75.0L351.9 70.6L347.1 71.4Z" fill="#ef2209" stroke="#de1f08"/><path d="M351.9 70.6L356.7 69.9L360.9 65.3L356.1 66.1Z" fill="#ef2009" stroke="#de1e09"/><path d="M378.8 54.4L383.6 53.3L387.8 48.8L383.0 49.9Z" fill="#e91a0a" stroke="#d91809"/><path d="M387.8 48.8L392.6 47.8L396.8 43.1L392.0 44.1Z" fill="#e1160a" stroke="#d11409"/><path d="M396.8 43.1L401.6 42.4L405.8 37.8L401.0 38.6Z" fill="#d6110a" stroke="#c70f09"/><path d="M231.9 105.2L236.7 106.3L240.8 103.3L236.0 102.2Z" fill="#5df50f" stroke="#57e40e"/><path d="M276.5 97.0L281.2 97.8L285.4 95.3L280.6 94.6Z" fill="#defa00" stroke="#cee800"/><path d="M285.4 95.3L290.1 95.9L294.3 93.4L289.5 92.8Z" fill="#faf700" stroke="#e9e600"/><path d="M312.1 89.1L316.9 89.0L321.0 86.5L316.2 86.6Z" fill="#ffd800" stroke="#edc800"/><path d="M321.0 86.5L325.8 86.1L329.9 83.3L325.1 83.7Z" fill="#ffa900" stroke="#ed9d00"/><path d="M329.9 83.3L334.7 82.8L338.8 79.5L334.0 80.1Z" fill="#f95700" stroke="#e75100"/><path d="M356.7 69.9L361.5 69.1L365.7 64.5L360.9 65.3Z" fill="#ef2109" stroke="#de1f08"/><path d="M365.7 64.5L370.5 63.5L374.6 58.8L369.8 59.8Z" fill="#ef2109" stroke="#de1f08"/><path d="M374.6 58.8L379.4 57.8L383.6 53.3L378.8 54.4Z" fill="#ee1c0a" stroke="#dd1a09"/><path d="M401.6 42.4L406.4 41.7L410.6 37.2L405.8 37.8Z" fill="#d20f0a" stroke="#c30e09"/><path d="M410.6 37.2L415.4 36.5L419.5 32.5L414.7 33.1Z" fill="#c20a08" stroke="#b40908"/><path d="M419.5 32.5L424.3 32.0L428.5 28.9L423.7 29.3Z" fill="#ab0504" stroke="#9f0504"/><path d="M160.9 130.3L165.6 128.5L169.7 125.2L165.0 127.1Z" fill="#00ceff" stroke="#00c0ed"/><path d="M187.4 117.5L192.1 117.8L196.3 114.6L191.5 114.4Z" fill="#00f676" stroke="#00e56e"/><path d="M205.2 112.1L209.9 112.9L214.1 109.7L209.3 109.0Z" fill="#11f23d" stroke="#10e139"/><path d="M134.7 145.6L139.4 144.9L143.5 141.2L138.8 141.9Z" fill="#0814ef" stroke="#0813df"/><path d="M143.5 141.2L148.1 139.6L152.2 135.9L147.5 137.6Z" fill="#041ef2" stroke="#041ce1"/><path d="M152.2 135.9L156.8 133.8L160.9 130.3L156.3 132.4Z" fill="#0053f9" stroke="#004de8"/><path d="M169.7 125.2L174.4 124.1L178.5 120.9L173.8 122.1Z" fill="#00f3db" stroke="#00e2cc"/><path d="M178.5 120.9L183.3 120.6L187.4 117.5L182.6 117.8Z" fill="#00f9aa" stroke="#00e79f"/><path d="M196.3 114.6L201.0 115.2L205.2 112.1L200.4 111.5Z" fill="#06f456" stroke="#05e350"/><path d="M214.1 109.7L218.8 110.5L223.0 107.4L218.2 106.6Z" fill="#1cf023" stroke="#1ae021"/><path d="M223.0 107.4L227.8 108.3L231.9 105.2L227.1 104.3Z" fill="#38f218" stroke="#34e116"/><path d="M240.8 103.3L245.6 104.6L249.7 101.7L244.9 100.5Z" fill="#94f903" stroke="#89e803"/><path d="M258.6 100.2L263.4 101.2L267.5 98.7L262.8 97.7Z" fill="#c4fa00" stroke="#b6e800"/><path d="M267.5 98.7L272.3 99.5L276.5 97.0L271.7 96.2Z" fill="#c9fa00" stroke="#bae800"/><path d="M303.2 91.3L307.9 91.5L312.1 89.1L307.3 88.9Z" fill="#fde300" stroke="#ebd300"/><path d="M249.7 101.7L254.5 102.9L258.6 100.2L253.9 99.1Z" fill="#b7fa00" stroke="#aae800"/><path d="M294.3 93.4L299.0 93.8L303.2 91.3L298.4 90.9Z" fill="#fcec00" stroke="#eadb00"/><path d="M338.8 79.5L343.6 78.8L347.8 75.0L343.0 75.7Z" fill="#f12a07" stroke="#e02707"/><path d="M347.8 75.0L352.5 74.2L356.7 69.9L351.9 70.6Z" fill="#ef2009" stroke="#de1e09"/><path d="M383.6 53.3L388.4 52.4L392.6 47.8L387.8 48.8Z" fill="#e7190a" stroke="#d71709"/><path d="M392.6 47.8L397.4 47.1L401.6 42.4L396.8 43.1Z" fill="#de140a" stroke="#ce1309"/><path d="M165.6 128.5L170.3 127.3L174.4 124.1L169.7 125.2Z" fill="#00e9f6" stroke="#00d9e4"/><path d="M192.1 117.8L196.9 118.4L201.0 115.2L196.3 114.6Z" fill="#00f56d" stroke="#00e465"/><path d="M209.9 112.9L214.7 113.7L218.8 110.5L214.1 109.7Z" fill="#14f236" stroke="#12e132"/><path d="M227.8 108.3L232.5 109.4L236.7 106.3L231.9 105.2Z" fill="#40f316" stroke="#3ce215"/><path d="M236.7 106.3L241.5 107.5L245.6 104.6L240.8 103.3Z" fill="#6bf60c" stroke="#64e50b"/><path d="M272.3 99.5L277.1 100.2L281.2 97.8L276.5 97.0Z" fill="#ccfa00" stroke="#bee800"/><path d="M281.2 97.8L286.0 98.4L290.1 95.9L285.4 95.3Z" fill="#e9fa00" stroke="#d9e800"/><path d="M290.1 95.9L294.9 96.4L299.0 93.8L294.3 93.4Z" fill="#fbf300" stroke="#e9e200"/><path d="M307.9 91.5L312.7 91.4L316.9 89.0L312.1 89.1Z" fill="#fde000" stroke="#ecd000"/><path d="M316.9 89.0L321.6 88.6L325.8 86.1L321.0 86.5Z" fill="#ffca00" stroke="#edbc00"/><path d="M325.8 86.1L330.5 85.6L334.7 82.8L329.9 83.3Z" fill="#fd8400" stroke="#eb7b00"/><path d="M334.7 82.8L339.5 82.1L343.6 78.8L338.8 79.5Z" fill="#f43b04" stroke="#e33704"/><path d="M352.5 74.2L357.3 73.4L361.5 69.1L356.7 69.9Z" fill="#ef2009" stroke="#de1e09"/><path d="M361.5 69.1L366.3 68.1L370.5 63.5L365.7 64.5Z" fill="#ef2209" stroke="#de2008"/><path d="M370.5 63.5L375.3 62.5L379.4 57.8L374.6 58.8Z" fill="#ef2109" stroke="#de1e08"/><path d="M379.4 57.8L384.3 56.9L388.4 52.4L383.6 53.3Z" fill="#ed1b0a" stroke="#dc1909"/><path d="M397.4 47.1L402.2 46.5L406.4 41.7L401.6 42.4Z" fill="#d9120a" stroke="#ca1109"/><path d="M406.4 41.7L411.2 41.1L415.4 36.5L410.6 37.2Z" fill="#ce0c0a" stroke="#c00c09"/><path d="M415.4 36.5L420.2 36.1L424.3 32.0L419.5 32.5Z" fill="#b80807" stroke="#ab0706"/><path d="M424.3 32.0L429.1 32.1L433.2 28.9L428.5 28.9Z" fill="#a10303" stroke="#960303"/><path d="M130.7 149.2L135.4 148.5L139.4 144.9L134.7 145.6Z" fill="#0b0fee" stroke="#0a0edd"/><path d="M139.4 144.9L144.1 143.3L148.1 139.6L143.5 141.2Z" fill="#0718f1" stroke="#0617e0"/><path d="M148.1 139.6L152.8 137.5L156.8 133.8L152.2 135.9Z" fill="#0125f4" stroke="#0122e3"/><path d="M156.8 133.8L161.5 132.0L165.6 128.5L160.9 130.3Z" fill="#008dff" stroke="#0083ed"/><path d="M183.3 120.6L188.0 120.9L192.1 117.8L187.4 117.5Z" fill="#00f89b" stroke="#00e690"/><path d="M201.0 115.2L205.8 116.0L209.9 112.9L205.2 112.1Z" fill="#09f450" stroke="#08e34a"/><path d="M174.4 124.1L179.2 123.8L183.3 120.6L178.5 120.9Z" fill="#00f7d0" stroke="#00e6c1"/><path d="M218.8 110.5L223.6 111.4L227.8 108.3L223.0 107.4Z" fill="#20f01e" stroke="#1ddf1c"/><path d="M245.6 104.6L250.4 105.7L254.5 102.9L249.7 101.7Z" fill="#a1fa00" stroke="#96e800"/><path d="M254.5 102.9L259.3 103.8L263.4 101.2L258.6 100.2Z" fill="#b7fa00" stroke="#aae800"/><path d="M263.4 101.2L268.2 102.0L272.3 99.5L267.5 98.7Z" fill="#befa00" stroke="#b1e800"/><path d="M299.0 93.8L303.8 94.0L307.9 91.5L303.2 91.3Z" fill="#fce900" stroke="#ebd900"/><path d="M343.6 78.8L348.4 78.1L352.5 74.2L347.8 75.0Z" fill="#ef2209" stroke="#de2008"/><path d="M388.4 52.4L393.2 51.7L397.4 47.1L392.6 47.8Z" fill="#e5180a" stroke="#d51609"/><path d="M294.9 96.4L299.7 96.6L303.8 94.0L299.0 93.8Z" fill="#fbf000" stroke="#eadf00"/><path d="M196.9 118.4L201.7 119.2L205.8 116.0L201.0 115.2Z" fill="#00f567" stroke="#00e45f"/><path d="M126.6 152.3L131.3 151.6L135.4 148.5L130.7 149.2Z" fill="#0d09ec" stroke="#0d08db"/><path d="M135.4 148.5L140.0 146.8L144.1 143.3L139.4 144.9Z" fill="#0914ef" stroke="#0812df"/><path d="M144.1 143.3L148.7 141.3L152.8 137.5L148.1 139.6Z" fill="#051df2" stroke="#051be1"/><path d="M152.8 137.5L157.4 135.7L161.5 132.0L156.8 133.8Z" fill="#0047f8" stroke="#0042e7"/><path d="M170.3 127.3L175.1 127.2L179.2 123.8L174.4 124.1Z" fill="#00eee8" stroke="#00ded7"/><path d="M188.0 120.9L192.8 121.6L196.9 118.4L192.1 117.8Z" fill="#00f78e" stroke="#00e684"/><path d="M205.8 116.0L210.6 116.8L214.7 113.7L209.9 112.9Z" fill="#0cf349" stroke="#0be244"/><path d="M214.7 113.7L219.5 114.6L223.6 111.4L218.8 110.5Z" fill="#17f12f" stroke="#15e02b"/><path d="M223.6 111.4L228.4 112.5L232.5 109.4L227.8 108.3Z" fill="#27f11c" stroke="#24e01a"/><path d="M232.5 109.4L237.3 110.6L241.5 107.5L236.7 106.3Z" fill="#49f314" stroke="#44e213"/><path d="M241.5 107.5L246.2 108.7L250.4 105.7L245.6 104.6Z" fill="#7cf708" stroke="#74e608"/><path d="M250.4 105.7L255.2 106.7L259.3 103.8L254.5 102.9Z" fill="#a7fa00" stroke="#9ce800"/><path d="M268.2 102.0L273.0 102.7L277.1 100.2L272.3 99.5Z" fill="#bdfa00" stroke="#b0e800"/><path d="M277.1 100.2L281.9 100.8L286.0 98.4L281.2 97.8Z" fill="#d4fa00" stroke="#c5e800"/><path d="M286.0 98.4L290.8 98.8L294.9 96.4L290.1 95.9Z" fill="#f6fa00" stroke="#e5e800"/><path d="M303.8 94.0L308.6 93.9L312.7 91.4L307.9 91.5Z" fill="#fde600" stroke="#ebd600"/><path d="M312.7 91.4L317.5 91.1L321.6 88.6L316.9 89.0Z" fill="#feda00" stroke="#eccb00"/><path d="M321.6 88.6L326.4 88.1L330.5 85.6L325.8 86.1Z" fill="#ffae00" stroke="#eda100"/><path d="M330.5 85.6L335.3 84.9L339.5 82.1L334.7 82.8Z" fill="#f95900" stroke="#e75200"/><path d="M339.5 82.1L344.3 81.4L348.4 78.1L343.6 78.8Z" fill="#f12a07" stroke="#e02707"/><path d="M348.4 78.1L353.2 77.3L357.3 73.4L352.5 74.2Z" fill="#ef2009" stroke="#de1d09"/><path d="M357.3 73.4L362.1 72.5L366.3 68.1L361.5 69.1Z" fill="#ef2109" stroke="#de1f08"/><path d="M366.3 68.1L371.1 67.1L375.3 62.5L370.5 63.5Z" fill="#ef2309" stroke="#df2008"/><path d="M375.3 62.5L380.1 61.6L384.3 56.9L379.4 57.8Z" fill="#ef2009" stroke="#de1e09"/><path d="M384.3 56.9L389.1 56.2L393.2 51.7L388.4 52.4Z" fill="#eb1b0a" stroke="#db1909"/><path d="M393.2 51.7L398.0 51.1L402.2 46.5L397.4 47.1Z" fill="#e1160a" stroke="#d11409"/><path d="M402.2 46.5L407.0 45.9L411.2 41.1L406.4 41.7Z" fill="#d4100a" stroke="#c50e09"/><path d="M411.2 41.1L416.0 40.7L420.2 36.1L415.4 36.5Z" fill="#c60b09" stroke="#b80a08"/><path d="M420.2 36.1L424.9 36.2L429.1 32.1L424.3 32.0Z" fill="#b00605" stroke="#a30605"/><path d="M429.1 32.1L433.9 33.0L438.0 29.8L433.2 28.9Z" fill="#990201" stroke="#8f0201"/><path d="M161.5 132.0L166.2 130.9L170.3 127.3L165.6 128.5Z" fill="#00bdff" stroke="#00b0ed"/><path d="M179.2 123.8L183.9 124.2L188.0 120.9L183.3 120.6Z" fill="#00fac6" stroke="#00e8b8"/><path d="M259.3 103.8L264.1 104.6L268.2 102.0L263.4 101.2Z" fill="#b5fa00" stroke="#a9e800"/><path d="M299.7 96.6L304.5 96.5L308.6 93.9L303.8 94.0Z" fill="#fcec00" stroke="#eadc00"/><path d="M344.3 81.4L349.1 80.6L353.2 77.3L348.4 78.1Z" fill="#ef2209" stroke="#de1f08"/><path d="M389.1 56.2L393.9 55.6L398.0 51.1L393.2 51.7Z" fill="#e91a0a" stroke="#d91809"/><path d="M433.9 33.0L438.6 35.1L442.7 31.9L438.0 29.8Z" fill="#940101" stroke="#8a0101"/><path d="M201.7 119.2L206.5 120.0L210.6 116.8L205.8 116.0Z" fill="#02f560" stroke="#02e459"/><path d="M219.5 114.6L224.3 115.7L228.4 112.5L223.6 111.4Z" fill="#1af128" stroke="#18e026"/><path d="M246.2 108.7L251.0 109.7L255.2 106.7L250.4 105.7Z" fill="#8df904" stroke="#83e704"/><path d="M290.8 98.8L295.6 99.0L299.7 96.6L294.9 96.4Z" fill="#faf700" stroke="#e9e500"/><path d="M122.5 154.9L127.2 154.3L131.3 151.6L126.6 152.3Z" fill="#1504e9" stroke="#1304d8"/><path d="M131.3 151.6L135.9 150.0L140.0 146.8L135.4 148.5Z" fill="#0b0fee" stroke="#0a0edd"/><path d="M140.0 146.8L144.6 144.9L148.7 141.3L144.1 143.3Z" fill="#0718f0" stroke="#0616e0"/><path d="M148.7 141.3L153.4 139.5L157.4 135.7L152.8 137.5Z" fill="#0223f4" stroke="#0220e3"/><path d="M175.1 127.2L179.8 127.5L183.9 124.2L179.2 123.8Z" fill="#00f1e0" stroke="#00e1d0"/><path d="M192.8 121.6L197.6 122.4L201.7 119.2L196.9 118.4Z" fill="#00f786" stroke="#00e57d"/><path d="M157.4 135.7L162.1 134.6L166.2 130.9L161.5 132.0Z" fill="#0078fd" stroke="#0070eb"/><path d="M166.2 130.9L171.0 130.7L175.1 127.2L170.3 127.3Z" fill="#00ddff" stroke="#00cded"/><path d="M183.9 124.2L188.7 124.8L192.8 121.6L188.0 120.9Z" fill="#00f9b9" stroke="#00e8ac"/><path d="M210.6 116.8L215.4 117.8L219.5 114.6L214.7 113.7Z" fill="#0ff342" stroke="#0ee23d"/><path d="M228.4 112.5L233.2 113.8L237.3 110.6L232.5 109.4Z" fill="#2ef11a" stroke="#2be018"/><path d="M237.3 110.6L242.1 111.8L246.2 108.7L241.5 107.5Z" fill="#57f411" stroke="#51e310"/><path d="M255.2 106.7L259.9 107.5L264.1 104.6L259.3 103.8Z" fill="#abfa00" stroke="#9fe800"/><path d="M264.1 104.6L268.9 105.4L273.0 102.7L268.2 102.0Z" fill="#b3fa00" stroke="#a6e800"/><path d="M273.0 102.7L277.8 103.3L281.9 100.8L277.1 100.2Z" fill="#c3fa00" stroke="#b5e800"/><path d="M281.9 100.8L286.7 101.3L290.8 98.8L286.0 98.4Z" fill="#e0fa00" stroke="#d1e800"/><path d="M308.6 93.9L313.4 93.6L317.5 91.1L312.7 91.4Z" fill="#fde200" stroke="#ebd200"/><path d="M317.5 91.1L322.3 90.5L326.4 88.1L321.6 88.6Z" fill="#ffce00" stroke="#edc000"/><path d="M326.4 88.1L331.2 87.4L335.3 84.9L330.5 85.6Z" fill="#fd8600" stroke="#ec7c00"/><path d="M335.3 84.9L340.1 84.2L344.3 81.4L339.5 82.1Z" fill="#f43a04" stroke="#e33604"/><path d="M353.2 77.3L358.0 76.4L362.1 72.5L357.3 73.4Z" fill="#ef2009" stroke="#de1d09"/><path d="M362.1 72.5L367.0 71.5L371.1 67.1L366.3 68.1Z" fill="#ef2209" stroke="#de2008"/><path d="M371.1 67.1L375.9 66.2L380.1 61.6L375.3 62.5Z" fill="#ef2309" stroke="#df2008"/><path d="M380.1 61.6L384.9 60.9L389.1 56.2L384.3 56.9Z" fill="#ef1f09" stroke="#de1d09"/><path d="M398.0 51.1L402.8 50.5L407.0 45.9L402.2 46.5Z" fill="#dc130a" stroke="#cd1209"/><path d="M407.0 45.9L411.8 45.5L416.0 40.7L411.2 41.1Z" fill="#d00d0a" stroke="#c10c09"/><path d="M416.0 40.7L420.8 40.8L424.9 36.2L420.2 36.1Z" fill="#bd0907" stroke="#b00807"/><path d="M424.9 36.2L429.7 37.1L433.9 33.0L429.1 32.1Z" fill="#a80504" stroke="#9c0404"/><path d="M295.6 99.0L300.4 98.9L304.5 96.5L299.7 96.6Z" fill="#fbf200" stroke="#e9e200"/><path d="M304.5 96.5L309.3 96.1L313.4 93.6L308.6 93.9Z" fill="#fce900" stroke="#ebd800"/><path d="M340.1 84.2L344.9 83.5L349.1 80.6L344.3 81.4Z" fill="#f02908" stroke="#e02607"/><path d="M349.1 80.6L353.9 79.7L358.0 76.4L353.2 77.3Z" fill="#ef1f09" stroke="#de1d09"/><path d="M384.9 60.9L389.7 60.4L393.9 55.6L389.1 56.2Z" fill="#ee1e0a" stroke="#de1c09"/><path d="M393.9 55.6L398.7 55.0L402.8 50.5L398.0 51.1Z" fill="#e5180a" stroke="#d51609"/><path d="M429.7 37.1L434.4 39.1L438.6 35.1L433.9 33.0Z" fill="#a20303" stroke="#970303"/><path d="M438.6 35.1L443.3 38.2L447.4 35.0L442.7 31.9Z" fill="#940100" stroke="#890100"/><path d="M127.2 154.3L131.8 152.7L135.9 150.0L131.3 151.6Z" fill="#0d09ec" stroke="#0c09dc"/><path d="M135.9 150.0L140.5 148.0L144.6 144.9L140.0 146.8Z" fill="#0914ef" stroke="#0812de"/><path d="M144.6 144.9L149.3 143.0L153.4 139.5L148.7 141.3Z" fill="#051cf2" stroke="#051ae1"/><path d="M179.8 127.5L184.6 128.2L188.7 124.8L183.9 124.2Z" fill="#00f4d9" stroke="#00e3c9"/><path d="M197.6 122.4L202.4 123.3L206.5 120.0L201.7 119.2Z" fill="#00f681" stroke="#00e578"/><path d="M206.5 120.0L211.3 121.0L215.4 117.8L210.6 116.8Z" fill="#05f459" stroke="#04e353"/><path d="M215.4 117.8L220.2 118.9L224.3 115.7L219.5 114.6Z" fill="#12f23b" stroke="#10e137"/><path d="M224.3 115.7L229.1 117.0L233.2 113.8L228.4 112.5Z" fill="#1cf022" stroke="#1adf20"/><path d="M242.1 111.8L246.9 112.7L251.0 109.7L246.2 108.7Z" fill="#69f60d" stroke="#62e50c"/><path d="M251.0 109.7L255.8 110.5L259.9 107.5L255.2 106.7Z" fill="#9bfa01" stroke="#90e801"/><path d="M259.9 107.5L264.7 108.2L268.9 105.4L264.1 104.6Z" fill="#abfa00" stroke="#9fe800"/><path d="M286.7 101.3L291.4 101.5L295.6 99.0L290.8 98.8Z" fill="#effa00" stroke="#dee800"/><path d="M118.4 157.2L123.1 156.6L127.2 154.3L122.5 154.9Z" fill="#2403e2" stroke="#2103d2"/><path d="M153.4 139.5L158.1 138.4L162.1 134.6L157.4 135.7Z" fill="#0037f6" stroke="#0033e5"/><path d="M162.1 134.6L166.9 134.5L171.0 130.7L166.2 130.9Z" fill="#00a0ff" stroke="#0095ed"/><path d="M171.0 130.7L175.7 131.1L179.8 127.5L175.1 127.2Z" fill="#00e8f9" stroke="#00d8e8"/><path d="M188.7 124.8L193.5 125.7L197.6 122.4L192.8 121.6Z" fill="#00f9af" stroke="#00e7a2"/><path d="M233.2 113.8L238.0 114.9L242.1 111.8L237.3 110.6Z" fill="#37f218" stroke="#33e117"/><path d="M268.9 105.4L273.6 106.0L277.8 103.3L273.0 102.7Z" fill="#b5fa00" stroke="#a8e800"/><path d="M277.8 103.3L282.5 103.8L286.7 101.3L281.9 100.8Z" fill="#cdfa00" stroke="#bfe800"/><path d="M313.4 93.6L318.2 93.0L322.3 90.5L317.5 91.1Z" fill="#fedc00" stroke="#eccd00"/><path d="M322.3 90.5L327.1 89.9L331.2 87.4L326.4 88.1Z" fill="#ffb000" stroke="#eda400"/><path d="M331.2 87.4L336.0 86.8L340.1 84.2L335.3 84.9Z" fill="#f95700" stroke="#e75100"/><path d="M358.0 76.4L362.8 75.4L367.0 71.5L362.1 72.5Z" fill="#ef2009" stroke="#de1e09"/><path d="M367.0 71.5L371.8 70.6L375.9 66.2L371.1 67.1Z" fill="#ef2309" stroke="#df2108"/><path d="M375.9 66.2L380.7 65.6L384.9 60.9L380.1 61.6Z" fill="#ef2309" stroke="#df2108"/><path d="M402.8 50.5L407.6 50.1L411.8 45.5L407.0 45.9Z" fill="#d7110a" stroke="#c80f09"/><path d="M411.8 45.5L416.6 45.6L420.8 40.8L416.0 40.7Z" fill="#cb0c0a" stroke="#bc0b09"/><path d="M420.8 40.8L425.5 41.7L429.7 37.1L424.9 36.2Z" fill="#b60706" stroke="#a90706"/><path d="M211.3 121.0L216.1 122.2L220.2 118.9L215.4 117.8Z" fill="#08f452" stroke="#07e34d"/><path d="M255.8 110.5L260.6 111.2L264.7 108.2L259.9 107.5Z" fill="#a2fa00" stroke="#97e800"/><path d="M291.4 101.5L296.2 101.4L300.4 98.9L295.6 99.0Z" fill="#faf900" stroke="#e9e800"/><path d="M300.4 98.9L305.1 98.6L309.3 96.1L304.5 96.5Z" fill="#fcee00" stroke="#eade00"/><path d="M309.3 96.1L314.1 95.6L318.2 93.0L313.4 93.6Z" fill="#fde400" stroke="#ebd400"/><path d="M336.0 86.8L340.8 86.0L344.9 83.5L340.1 84.2Z" fill="#f43904" stroke="#e33504"/><path d="M344.9 83.5L349.7 82.5L353.9 79.7L349.1 80.6Z" fill="#ef2109" stroke="#de1e08"/><path d="M353.9 79.7L358.7 78.7L362.8 75.4L358.0 76.4Z" fill="#ee1e0a" stroke="#de1c09"/><path d="M380.7 65.6L385.5 65.1L389.7 60.4L384.9 60.9Z" fill="#ef2309" stroke="#df2108"/><path d="M389.7 60.4L394.5 59.8L398.7 55.0L393.9 55.6Z" fill="#ed1c0a" stroke="#dd1a09"/><path d="M398.7 55.0L403.5 54.7L407.6 50.1L402.8 50.5Z" fill="#e0150a" stroke="#d01409"/><path d="M425.5 41.7L430.3 43.8L434.4 39.1L429.7 37.1Z" fill="#b10605" stroke="#a50605"/><path d="M434.4 39.1L439.1 42.3L443.3 38.2L438.6 35.1Z" fill="#a10303" stroke="#960303"/><path d="M443.3 38.2L447.9 41.8L452.0 38.6L447.4 35.0Z" fill="#980101" stroke="#8d0101"/><path d="M140.5 148.0L145.2 146.2L149.3 143.0L144.6 144.9Z" fill="#0718f0" stroke="#0716df"/><path d="M184.6 128.2L189.4 129.1L193.5 125.7L188.7 124.8Z" fill="#00f6d3" stroke="#00e5c5"/><path d="M114.3 159.3L118.9 158.7L123.1 156.6L118.4 157.2Z" fill="#3501da" stroke="#3101cb"/><path d="M131.8 152.7L136.4 150.7L140.5 148.0L135.9 150.0Z" fill="#0b0fee" stroke="#0a0edd"/><path d="M149.3 143.0L154.0 142.0L158.1 138.4L153.4 139.5Z" fill="#0321f3" stroke="#031ee2"/><path d="M123.1 156.6L127.7 155.1L131.8 152.7L127.2 154.3Z" fill="#1404e9" stroke="#1204d9"/><path d="M158.1 138.4L162.8 138.3L166.9 134.5L162.1 134.6Z" fill="#0059fa" stroke="#0053e8"/><path d="M166.9 134.5L171.6 134.9L175.7 131.1L171.0 130.7Z" fill="#00baff" stroke="#00aded"/><path d="M175.7 131.1L180.5 131.8L184.6 128.2L179.8 127.5Z" fill="#00ebf2" stroke="#00dae1"/><path d="M193.5 125.7L198.3 126.6L202.4 123.3L197.6 122.4Z" fill="#00f8a9" stroke="#00e79d"/><path d="M202.4 123.3L207.2 124.3L211.3 121.0L206.5 120.0Z" fill="#00f67a" stroke="#00e571"/><path d="M220.2 118.9L225.0 120.2L229.1 117.0L224.3 115.7Z" fill="#14f234" stroke="#13e131"/><path d="M229.1 117.0L233.9 118.2L238.0 114.9L233.2 113.8Z" fill="#20f01e" stroke="#1ddf1c"/><path d="M238.0 114.9L242.8 115.9L246.9 112.7L242.1 111.8Z" fill="#45f315" stroke="#41e213"/><path d="M246.9 112.7L251.7 113.5L255.8 110.5L251.0 109.7Z" fill="#7df708" stroke="#74e608"/><path d="M264.7 108.2L269.5 108.8L273.6 106.0L268.9 105.4Z" fill="#abfa00" stroke="#9fe800"/><path d="M282.5 103.8L287.3 104.0L291.4 101.5L286.7 101.3Z" fill="#dafa00" stroke="#cbe800"/><path d="M273.6 106.0L278.4 106.4L282.5 103.8L277.8 103.3Z" fill="#bcfa00" stroke="#afe800"/><path d="M318.2 93.0L323.0 92.4L327.1 89.9L322.3 90.5Z" fill="#ffd100" stroke="#edc300"/><path d="M327.1 89.9L331.9 89.2L336.0 86.8L331.2 87.4Z" fill="#fd8600" stroke="#ec7c00"/><path d="M362.8 75.4L367.6 74.6L371.8 70.6L367.0 71.5Z" fill="#ef2109" stroke="#de1f08"/><path d="M371.8 70.6L376.6 70.0L380.7 65.6L375.9 66.2Z" fill="#f02408" stroke="#df2108"/><path d="M407.6 50.1L412.4 50.3L416.6 45.6L411.8 45.5Z" fill="#d20e0a" stroke="#c30d09"/><path d="M416.6 45.6L421.4 46.5L425.5 41.7L420.8 40.8Z" fill="#c30a08" stroke="#b60908"/><path d="M189.4 129.1L194.2 130.1L198.3 126.6L193.5 125.7Z" fill="#00f7d0" stroke="#00e6c2"/><path d="M207.2 124.3L212.0 125.6L216.1 122.2L211.3 121.0Z" fill="#00f672" stroke="#00e56a"/><path d="M216.1 122.2L220.9 123.5L225.0 120.2L220.2 118.9Z" fill="#0bf34b" stroke="#0ae246"/><path d="M233.9 118.2L238.7 119.1L242.8 115.9L238.0 114.9Z" fill="#29f11c" stroke="#26e01a"/><path d="M251.7 113.5L256.5 114.3L260.6 111.2L255.8 110.5Z" fill="#8ff904" stroke="#85e704"/><path d="M260.6 111.2L265.4 111.8L269.5 108.8L264.7 108.2Z" fill="#a3fa00" stroke="#98e800"/><path d="M287.3 104.0L292.1 103.9L296.2 101.4L291.4 101.5Z" fill="#e9fa00" stroke="#d9e800"/><path d="M296.2 101.4L301.0 101.1L305.1 98.6L300.4 98.9Z" fill="#fbf400" stroke="#e9e300"/><path d="M305.1 98.6L309.9 98.1L314.1 95.6L309.3 96.1Z" fill="#fcea00" stroke="#eada00"/><path d="M314.1 95.6L318.9 95.0L323.0 92.4L318.2 93.0Z" fill="#fede00" stroke="#ecce00"/><path d="M331.9 89.2L336.7 88.4L340.8 86.0L336.0 86.8Z" fill="#f95500" stroke="#e74f00"/><path d="M340.8 86.0L345.6 85.1L349.7 82.5L344.9 83.5Z" fill="#f02808" stroke="#df2507"/><path d="M349.7 82.5L354.6 81.6L358.7 78.7L353.9 79.7Z" fill="#ee1e0a" stroke="#de1c09"/><path d="M358.7 78.7L363.5 77.9L367.6 74.6L362.8 75.4Z" fill="#ef1f09" stroke="#de1d09"/><path d="M376.6 70.0L381.4 69.6L385.5 65.1L380.7 65.6Z" fill="#f02408" stroke="#df2208"/><path d="M385.5 65.1L390.3 64.6L394.5 59.8L389.7 60.4Z" fill="#ef2209" stroke="#de2008"/><path d="M394.5 59.8L399.3 59.5L403.5 54.7L398.7 55.0Z" fill="#e91a0a" stroke="#d91809"/><path d="M403.5 54.7L408.3 54.9L412.4 50.3L407.6 50.1Z" fill="#da120a" stroke="#cb1109"/><path d="M421.4 46.5L426.1 48.7L430.3 43.8L425.5 41.7Z" fill="#bf0908" stroke="#b20907"/><path d="M430.3 43.8L435.0 47.0L439.1 42.3L434.4 39.1Z" fill="#b00605" stroke="#a40605"/><path d="M439.1 42.3L443.8 45.9L447.9 41.8L443.3 38.2Z" fill="#a50403" stroke="#9a0403"/><path d="M447.9 41.8L452.6 45.2L456.7 42.1L452.0 38.6Z" fill="#a00302" stroke="#950302"/><path d="M136.4 150.7L141.1 149.0L145.2 146.2L140.5 148.0Z" fill="#0914ef" stroke="#0812df"/><path d="M145.2 146.2L149.9 145.2L154.0 142.0L149.3 143.0Z" fill="#061bf1" stroke="#0519e0"/><path d="M118.9 158.7L123.6 157.2L127.7 155.1L123.1 156.6Z" fill="#2303e2" stroke="#2103d2"/><path d="M110.2 161.2L114.8 160.7L118.9 158.7L114.3 159.3Z" fill="#4400d0" stroke="#3f00c1"/><path d="M127.7 155.1L132.3 153.1L136.4 150.7L131.8 152.7Z" fill="#0d0aec" stroke="#0c09dc"/><path d="M154.0 142.0L158.7 141.9L162.8 138.3L158.1 138.4Z" fill="#0126f5" stroke="#0124e3"/><path d="M162.8 138.3L167.6 138.7L171.6 134.9L166.9 134.5Z" fill="#0078fd" stroke="#0070eb"/><path d="M171.6 134.9L176.4 135.6L180.5 131.8L175.7 131.1Z" fill="#00ceff" stroke="#00bfed"/><path d="M180.5 131.8L185.3 132.7L189.4 129.1L184.6 128.2Z" fill="#00edec" stroke="#00dcdc"/><path d="M198.3 126.6L203.1 127.7L207.2 124.3L202.4 123.3Z" fill="#00f8a5" stroke="#00e799"/><path d="M225.0 120.2L229.8 121.4L233.9 118.2L229.1 117.0Z" fill="#17f12e" stroke="#15e02b"/><path d="M242.8 115.9L247.6 116.7L251.7 113.5L246.9 112.7Z" fill="#5af510" stroke="#54e30f"/><path d="M269.5 108.8L274.3 109.3L278.4 106.4L273.6 106.0Z" fill="#affa00" stroke="#a2e800"/><path d="M278.4 106.4L283.2 106.7L287.3 104.0L282.5 103.8Z" fill="#c8fa00" stroke="#bae800"/><path d="M323.0 92.4L327.8 91.7L331.9 89.2L327.1 89.9Z" fill="#ffb200" stroke="#eda500"/><path d="M367.6 74.6L372.4 74.0L376.6 70.0L371.8 70.6Z" fill="#ef2209" stroke="#de2008"/><path d="M412.4 50.3L417.2 51.2L421.4 46.5L416.6 45.6Z" fill="#cf0d0a" stroke="#c10c09"/><path d="M106.0 163.1L110.7 162.5L114.8 160.7L110.2 161.2Z" fill="#5000c5" stroke="#4b00b7"/><path d="M114.8 160.7L119.5 159.2L123.6 157.2L118.9 158.7Z" fill="#3401da" stroke="#3101cb"/><path d="M123.6 157.2L128.2 155.3L132.3 153.1L127.7 155.1Z" fill="#1205ea" stroke="#1104d9"/><path d="M132.3 153.1L137.0 151.4L141.1 149.0L136.4 150.7Z" fill="#0a10ee" stroke="#0a0fdd"/><path d="M141.1 149.0L145.8 148.0L149.9 145.2L145.2 146.2Z" fill="#0717f0" stroke="#0716df"/><path d="M149.9 145.2L154.6 145.1L158.7 141.9L154.0 142.0Z" fill="#041ef2" stroke="#041ce1"/><path d="M158.7 141.9L163.5 142.3L167.6 138.7L162.8 138.3Z" fill="#0037f7" stroke="#0033e5"/><path d="M167.6 138.7L172.3 139.4L176.4 135.6L171.6 134.9Z" fill="#0094ff" stroke="#008aed"/><path d="M176.4 135.6L181.2 136.5L185.3 132.7L180.5 131.8Z" fill="#00dcff" stroke="#00cded"/><path d="M185.3 132.7L190.1 133.7L194.2 130.1L189.4 129.1Z" fill="#00eee9" stroke="#00ddd9"/><path d="M194.2 130.1L199.0 131.1L203.1 127.7L198.3 126.6Z" fill="#00f8cf" stroke="#00e6c0"/><path d="M203.1 127.7L207.9 129.0L212.0 125.6L207.2 124.3Z" fill="#00f8a0" stroke="#00e795"/><path d="M212.0 125.6L216.8 126.9L220.9 123.5L216.1 122.2Z" fill="#00f56c" stroke="#00e465"/><path d="M220.9 123.5L225.7 124.8L229.8 121.4L225.0 120.2Z" fill="#0ef343" stroke="#0de23e"/><path d="M229.8 121.4L234.6 122.4L238.7 119.1L233.9 118.2Z" fill="#1af128" stroke="#18e025"/><path d="M238.7 119.1L243.5 119.9L247.6 116.7L242.8 115.9Z" fill="#38f218" stroke="#34e116"/><path d="M247.6 116.7L252.4 117.4L256.5 114.3L251.7 113.5Z" fill="#6ff60b" stroke="#68e50a"/><path d="M256.5 114.3L261.3 114.9L265.4 111.8L260.6 111.2Z" fill="#99f902" stroke="#8ee802"/><path d="M265.4 111.8L270.2 112.2L274.3 109.3L269.5 108.8Z" fill="#a5fa00" stroke="#99e800"/><path d="M274.3 109.3L279.1 109.5L283.2 106.7L278.4 106.4Z" fill="#b7fa00" stroke="#abe800"/><path d="M283.2 106.7L288.0 106.6L292.1 103.9L287.3 104.0Z" fill="#d6fa00" stroke="#c7e800"/><path d="M292.1 103.9L296.9 103.6L301.0 101.1L296.2 101.4Z" fill="#f7fa00" stroke="#e6e800"/><path d="M301.0 101.1L305.8 100.5L309.9 98.1L305.1 98.6Z" fill="#fbf000" stroke="#eadf00"/><path d="M309.9 98.1L314.8 97.4L318.9 95.0L314.1 95.6Z" fill="#fde500" stroke="#ebd500"/><path d="M318.9 95.0L323.7 94.3L327.8 91.7L323.0 92.4Z" fill="#ffd400" stroke="#edc500"/><path d="M327.8 91.7L332.6 91.0L336.7 88.4L331.9 89.2Z" fill="#fd8500" stroke="#ec7b00"/><path d="M336.7 88.4L341.5 87.5L345.6 85.1L340.8 86.0Z" fill="#f33705" stroke="#e23304"/><path d="M345.6 85.1L350.4 84.1L354.6 81.6L349.7 82.5Z" fill="#ef2009" stroke="#de1d09"/><path d="M354.6 81.6L359.4 80.7L363.5 77.9L358.7 78.7Z" fill="#ee1d0a" stroke="#de1b09"/><path d="M363.5 77.9L368.3 77.3L372.4 74.0L367.6 74.6Z" fill="#ef1f09" stroke="#de1d09"/><path d="M372.4 74.0L377.2 73.5L381.4 69.6L376.6 70.0Z" fill="#ef2309" stroke="#df2108"/><path d="M381.4 69.6L386.2 69.1L390.3 64.6L385.5 65.1Z" fill="#f02508" stroke="#df2208"/><path d="M390.3 64.6L395.2 64.3L399.3 59.5L394.5 59.8Z" fill="#ef1f09" stroke="#de1d09"/><path d="M399.3 59.5L404.1 59.8L408.3 54.9L403.5 54.7Z" fill="#e4170a" stroke="#d41509"/><path d="M408.3 54.9L413.0 55.9L417.2 51.2L412.4 50.3Z" fill="#d7110a" stroke="#c80f09"/><path d="M417.2 51.2L421.9 53.3L426.1 48.7L421.4 46.5Z" fill="#ce0c0a" stroke="#c00c09"/><path d="M426.1 48.7L430.8 51.8L435.0 47.0L430.3 43.8Z" fill="#c00908" stroke="#b30907"/><path d="M435.0 47.0L439.6 50.6L443.8 45.9L439.1 42.3Z" fill="#b40706" stroke="#a80705"/><path d="M443.8 45.9L448.5 49.3L452.6 45.2L447.9 41.8Z" fill="#ae0605" stroke="#a10504"/><path d="M452.6 45.2L457.3 47.8L461.4 44.6L456.7 42.1Z" fill="#a80504" stroke="#9c0404"/><path d="M323.7 94.3L328.5 93.6L332.6 91.0L327.8 91.7Z" fill="#ffb300" stroke="#eda600"/><path d="M368.3 77.3L373.1 76.9L377.2 73.5L372.4 74.0Z" fill="#ef2009" stroke="#de1e09"/><path d="M413.0 55.9L417.8 58.0L421.9 53.3L417.2 51.2Z" fill="#d5100a" stroke="#c60f09"/><path d="M199.0 131.1L203.8 132.5L207.9 129.0L203.1 127.7Z" fill="#00f8cd" stroke="#00e7bf"/><path d="M225.7 124.8L230.5 125.8L234.6 122.4L229.8 121.4Z" fill="#11f23d" stroke="#10e139"/><path d="M243.5 119.9L248.3 120.7L252.4 117.4L247.6 116.7Z" fill="#4df413" stroke="#48e312"/><path d="M270.2 112.2L275.0 112.4L279.1 109.5L274.3 109.3Z" fill="#aafa00" stroke="#9ee800"/><path d="M279.1 109.5L283.9 109.4L288.0 106.6L283.2 106.7Z" fill="#c4fa00" stroke="#b6e800"/><path d="M128.2 155.3L132.9 153.6L137.0 151.4L132.3 153.1Z" fill="#0d0aed" stroke="#0c0adc"/><path d="M154.6 145.1L159.4 145.5L163.5 142.3L158.7 141.9Z" fill="#0321f3" stroke="#031fe2"/><path d="M163.5 142.3L168.3 143.1L172.3 139.4L167.6 138.7Z" fill="#0050f9" stroke="#004be8"/><path d="M172.3 139.4L177.1 140.4L181.2 136.5L176.4 135.6Z" fill="#00abff" stroke="#009fed"/><path d="M181.2 136.5L186.0 137.5L190.1 133.7L185.3 132.7Z" fill="#00e5ff" stroke="#00d5ed"/><path d="M110.7 162.5L115.3 161.0L119.5 159.2L114.8 160.7Z" fill="#4400d0" stroke="#3f00c2"/><path d="M119.5 159.2L124.1 157.3L128.2 155.3L123.6 157.2Z" fill="#2203e3" stroke="#1f03d3"/><path d="M137.0 151.4L141.7 150.5L145.8 148.0L141.1 149.0Z" fill="#0914ef" stroke="#0813df"/><path d="M145.8 148.0L150.5 147.9L154.6 145.1L149.9 145.2Z" fill="#061af1" stroke="#0618e0"/><path d="M190.1 133.7L194.9 134.8L199.0 131.1L194.2 130.1Z" fill="#00eee9" stroke="#00ddd9"/><path d="M207.9 129.0L212.7 130.4L216.8 126.9L212.0 125.6Z" fill="#00f89c" stroke="#00e691"/><path d="M216.8 126.9L221.6 128.2L225.7 124.8L220.9 123.5Z" fill="#01f562" stroke="#01e45c"/><path d="M234.6 122.4L239.4 123.3L243.5 119.9L238.7 119.1Z" fill="#1ef01f" stroke="#1cdf1d"/><path d="M252.4 117.4L257.2 118.0L261.3 114.9L256.5 114.3Z" fill="#83f807" stroke="#7ae606"/><path d="M261.3 114.9L266.1 115.3L270.2 112.2L265.4 111.8Z" fill="#9cfa01" stroke="#91e801"/><path d="M288.0 106.6L292.8 106.3L296.9 103.6L292.1 103.9Z" fill="#e5fa00" stroke="#d5e800"/><path d="M296.9 103.6L301.7 103.1L305.8 100.5L301.0 101.1Z" fill="#fbf600" stroke="#e9e500"/><path d="M305.8 100.5L310.6 99.9L314.8 97.4L309.9 98.1Z" fill="#fceb00" stroke="#eadb00"/><path d="M314.8 97.4L319.6 96.8L323.7 94.3L318.9 95.0Z" fill="#fedf00" stroke="#ecd000"/><path d="M332.6 91.0L337.4 90.0L341.5 87.5L336.7 88.4Z" fill="#f85300" stroke="#e74d00"/><path d="M341.5 87.5L346.3 86.6L350.4 84.1L345.6 85.1Z" fill="#f02608" stroke="#df2407"/><path d="M350.4 84.1L355.3 83.3L359.4 80.7L354.6 81.6Z" fill="#ee1d0a" stroke="#dd1b09"/><path d="M359.4 80.7L364.2 80.2L368.3 77.3L363.5 77.9Z" fill="#ee1d0a" stroke="#dd1b09"/><path d="M377.2 73.5L382.1 73.1L386.2 69.1L381.4 69.6Z" fill="#f02408" stroke="#df2208"/><path d="M386.2 69.1L391.0 68.9L395.2 64.3L390.3 64.6Z" fill="#ef2309" stroke="#df2108"/><path d="M395.2 64.3L399.9 64.6L404.1 59.8L399.3 59.5Z" fill="#ec1b0a" stroke="#dc1909"/><path d="M404.1 59.8L408.9 60.7L413.0 55.9L408.3 54.9Z" fill="#df150a" stroke="#d01309"/><path d="M421.9 53.3L426.6 56.5L430.8 51.8L426.1 48.7Z" fill="#cf0d0a" stroke="#c00c09"/><path d="M430.8 51.8L435.5 55.4L439.6 50.6L435.0 47.0Z" fill="#c50a09" stroke="#b80a08"/><path d="M439.6 50.6L444.3 54.0L448.5 49.3L443.8 45.9Z" fill="#bd0907" stroke="#b00807"/><path d="M448.5 49.3L453.2 51.8L457.3 47.8L452.6 45.2Z" fill="#b60706" stroke="#aa0706"/><path d="M275.0 112.4L279.8 112.4L283.9 109.4L279.1 109.5Z" fill="#b4fa00" stroke="#a7e800"/><path d="M319.6 96.8L324.4 96.1L328.5 93.6L323.7 94.3Z" fill="#ffd500" stroke="#edc600"/><path d="M328.5 93.6L333.3 92.6L337.4 90.0L332.6 91.0Z" fill="#fd8300" stroke="#eb7a00"/><path d="M364.2 80.2L369.0 79.8L373.1 76.9L368.3 77.3Z" fill="#ee1d0a" stroke="#de1b09"/><path d="M373.1 76.9L377.9 76.5L382.1 73.1L377.2 73.5Z" fill="#ef2209" stroke="#de2008"/><path d="M408.9 60.7L413.6 62.9L417.8 58.0L413.0 55.9Z" fill="#dd140a" stroke="#ce1209"/><path d="M417.8 58.0L422.5 61.2L426.6 56.5L421.9 53.3Z" fill="#d7110a" stroke="#c80f09"/><path d="M159.4 145.5L164.2 146.3L168.3 143.1L163.5 142.3Z" fill="#0125f4" stroke="#0122e3"/><path d="M168.3 143.1L173.1 144.0L177.1 140.4L172.3 139.4Z" fill="#006cfc" stroke="#0064ea"/><path d="M177.1 140.4L181.9 141.4L186.0 137.5L181.2 136.5Z" fill="#00bcff" stroke="#00afed"/><path d="M194.9 134.8L199.7 136.1L203.8 132.5L199.0 131.1Z" fill="#00efe7" stroke="#00ded7"/><path d="M203.8 132.5L208.6 133.9L212.7 130.4L207.9 129.0Z" fill="#00f8ce" stroke="#00e7bf"/><path d="M221.6 128.2L226.4 129.3L230.5 125.8L225.7 124.8Z" fill="#05f459" stroke="#04e353"/><path d="M230.5 125.8L235.3 126.7L239.4 123.3L234.6 122.4Z" fill="#14f235" stroke="#13e132"/><path d="M239.4 123.3L244.1 124.0L248.3 120.7L243.5 119.9Z" fill="#2df11b" stroke="#29e019"/><path d="M248.3 120.7L253.0 121.3L257.2 118.0L252.4 117.4Z" fill="#63f50e" stroke="#5ce40d"/><path d="M266.1 115.3L270.9 115.5L275.0 112.4L270.2 112.2Z" fill="#9ffa00" stroke="#94e800"/><path d="M283.9 109.4L288.7 109.1L292.8 106.3L288.0 106.6Z" fill="#d2fa00" stroke="#c4e800"/><path d="M124.1 157.3L128.8 155.6L132.9 153.6L128.2 155.3Z" fill="#1105ea" stroke="#1004da"/><path d="M115.3 161.0L120.0 159.2L124.1 157.3L119.5 159.2Z" fill="#3301db" stroke="#2f01cc"/><path d="M132.9 153.6L137.6 152.7L141.7 150.5L137.0 151.4Z" fill="#0a10ee" stroke="#0a0fdd"/><path d="M150.5 147.9L155.3 148.3L159.4 145.5L154.6 145.1Z" fill="#061bf1" stroke="#0519e0"/><path d="M141.7 150.5L146.4 150.4L150.5 147.9L145.8 148.0Z" fill="#0717f0" stroke="#0715df"/><path d="M186.0 137.5L190.8 138.6L194.9 134.8L190.1 133.7Z" fill="#00e6fe" stroke="#00d6ec"/><path d="M212.7 130.4L217.5 131.7L221.6 128.2L216.8 126.9Z" fill="#00f795" stroke="#00e68a"/><path d="M257.2 118.0L262.0 118.4L266.1 115.3L261.3 114.9Z" fill="#8ef904" stroke="#84e704"/><path d="M292.8 106.3L297.6 105.8L301.7 103.1L296.9 103.6Z" fill="#f4fa00" stroke="#e3e800"/><path d="M301.7 103.1L306.5 102.5L310.6 99.9L305.8 100.5Z" fill="#fbf100" stroke="#eae000"/><path d="M310.6 99.9L315.4 99.3L319.6 96.8L314.8 97.4Z" fill="#fde700" stroke="#ebd600"/><path d="M337.4 90.0L342.2 89.1L346.3 86.6L341.5 87.5Z" fill="#f33505" stroke="#e23105"/><path d="M346.3 86.6L351.2 85.7L355.3 83.3L350.4 84.1Z" fill="#ee1f0a" stroke="#de1c09"/><path d="M355.3 83.3L360.1 82.7L364.2 80.2L359.4 80.7Z" fill="#ee1c0a" stroke="#dd1a09"/><path d="M382.1 73.1L386.9 72.9L391.0 68.9L386.2 69.1Z" fill="#f02408" stroke="#df2208"/><path d="M391.0 68.9L395.8 69.2L399.9 64.6L395.2 64.3Z" fill="#ef2009" stroke="#de1e09"/><path d="M399.9 64.6L404.7 65.6L408.9 60.7L404.1 59.8Z" fill="#e8190a" stroke="#d71709"/><path d="M426.6 56.5L431.3 60.1L435.5 55.4L430.8 51.8Z" fill="#d20e0a" stroke="#c30d09"/><path d="M435.5 55.4L440.1 58.8L444.3 54.0L439.6 50.6Z" fill="#cd0c0a" stroke="#bf0b09"/><path d="M444.3 54.0L449.0 56.5L453.2 51.8L448.5 49.3Z" fill="#c60b09" stroke="#b80a08"/><path d="M235.3 126.7L240.0 127.5L244.1 124.0L239.4 123.3Z" fill="#19f12a" stroke="#17e027"/><path d="M270.9 115.5L275.7 115.4L279.8 112.4L275.0 112.4Z" fill="#a6fa00" stroke="#9ae800"/><path d="M279.8 112.4L284.6 112.0L288.7 109.1L283.9 109.4Z" fill="#c1fa00" stroke="#b3e800"/><path d="M315.4 99.3L320.3 98.5L324.4 96.1L319.6 96.8Z" fill="#fde000" stroke="#ecd100"/><path d="M324.4 96.1L329.2 95.1L333.3 92.6L328.5 93.6Z" fill="#ffb400" stroke="#eda700"/><path d="M333.3 92.6L338.1 91.7L342.2 89.1L337.4 90.0Z" fill="#f85000" stroke="#e74b00"/><path d="M360.1 82.7L364.9 82.3L369.0 79.8L364.2 80.2Z" fill="#ed1c0a" stroke="#dd1a09"/><path d="M369.0 79.8L373.8 79.4L377.9 76.5L373.1 76.9Z" fill="#ee1e0a" stroke="#de1c09"/><path d="M377.9 76.5L382.7 76.3L386.9 72.9L382.1 73.1Z" fill="#ef2309" stroke="#df2008"/><path d="M404.7 65.6L409.5 67.8L413.6 62.9L408.9 60.7Z" fill="#e5170a" stroke="#d51609"/><path d="M413.6 62.9L418.3 66.1L422.5 61.2L417.8 58.0Z" fill="#de140a" stroke="#ce1309"/><path d="M422.5 61.2L427.2 64.8L431.3 60.1L426.6 56.5Z" fill="#da120a" stroke="#ca1109"/><path d="M164.2 146.3L169.0 147.3L173.1 144.0L168.3 143.1Z" fill="#002ff6" stroke="#002ce5"/><path d="M173.1 144.0L177.8 145.0L181.9 141.4L177.1 140.4Z" fill="#0085fe" stroke="#007bec"/><path d="M190.8 138.6L195.6 140.0L199.7 136.1L194.9 134.8Z" fill="#00e7fd" stroke="#00d7eb"/><path d="M120.0 159.2L124.6 157.5L128.8 155.6L124.1 157.3Z" fill="#2003e3" stroke="#1e03d3"/><path d="M155.3 148.3L160.1 149.1L164.2 146.3L159.4 145.5Z" fill="#051df2" stroke="#051be1"/><path d="M128.8 155.6L133.5 154.7L137.6 152.7L132.9 153.6Z" fill="#0c0bed" stroke="#0c0adc"/><path d="M137.6 152.7L142.3 152.6L146.4 150.4L141.7 150.5Z" fill="#0914ef" stroke="#0812de"/><path d="M146.4 150.4L151.2 150.8L155.3 148.3L150.5 147.9Z" fill="#0718f0" stroke="#0616e0"/><path d="M181.9 141.4L186.7 142.5L190.8 138.6L186.0 137.5Z" fill="#00c3ff" stroke="#00b5ed"/><path d="M199.7 136.1L204.5 137.6L208.6 133.9L203.8 132.5Z" fill="#00efe7" stroke="#00ded7"/><path d="M208.6 133.9L213.4 135.3L217.5 131.7L212.7 130.4Z" fill="#00f9cb" stroke="#00e7bd"/><path d="M217.5 131.7L222.3 132.8L226.4 129.3L221.6 128.2Z" fill="#00f789" stroke="#00e67f"/><path d="M226.4 129.3L231.1 130.2L235.3 126.7L230.5 125.8Z" fill="#08f451" stroke="#07e34c"/><path d="M244.1 124.0L248.9 124.6L253.0 121.3L248.3 120.7Z" fill="#40f316" stroke="#3be215"/><path d="M253.0 121.3L257.8 121.7L262.0 118.4L257.2 118.0Z" fill="#77f709" stroke="#6fe609"/><path d="M262.0 118.4L266.7 118.6L270.9 115.5L266.1 115.3Z" fill="#93f903" stroke="#89e803"/><path d="M288.7 109.1L293.5 108.6L297.6 105.8L292.8 106.3Z" fill="#e2fa00" stroke="#d2e800"/><path d="M297.6 105.8L302.4 105.2L306.5 102.5L301.7 103.1Z" fill="#faf700" stroke="#e9e600"/><path d="M306.5 102.5L311.3 101.8L315.4 99.3L310.6 99.9Z" fill="#fcec00" stroke="#eadc00"/><path d="M342.2 89.1L347.1 88.3L351.2 85.7L346.3 86.6Z" fill="#f02508" stroke="#df2208"/><path d="M351.2 85.7L356.0 85.2L360.1 82.7L355.3 83.3Z" fill="#ee1c0a" stroke="#dd1a09"/><path d="M386.9 72.9L391.7 73.2L395.8 69.2L391.0 68.9Z" fill="#ef2309" stroke="#df2108"/><path d="M395.8 69.2L400.6 70.2L404.7 65.6L399.9 64.6Z" fill="#ee1c0a" stroke="#dd1a09"/><path d="M431.3 60.1L436.0 63.5L440.1 58.8L435.5 55.4Z" fill="#d5100a" stroke="#c60f09"/><path d="M440.1 58.8L444.9 61.4L449.0 56.5L444.3 54.0Z" fill="#d10e0a" stroke="#c30d09"/><path d="M169.0 147.3L173.8 148.3L177.8 145.0L173.1 144.0Z" fill="#0046f8" stroke="#0041e7"/><path d="M186.7 142.5L191.5 143.9L195.6 140.0L190.8 138.6Z" fill="#00c7ff" stroke="#00b9ed"/><path d="M213.4 135.3L218.2 136.4L222.3 132.8L217.5 131.7Z" fill="#00fac3" stroke="#00e8b6"/><path d="M231.1 130.2L235.9 131.0L240.0 127.5L235.3 126.7Z" fill="#0df347" stroke="#0ce242"/><path d="M240.0 127.5L244.8 128.1L248.9 124.6L244.1 124.0Z" fill="#1ff01e" stroke="#1ddf1c"/><path d="M257.8 121.7L262.6 121.9L266.7 118.6L262.0 118.4Z" fill="#83f807" stroke="#7ae606"/><path d="M266.7 118.6L271.5 118.6L275.7 115.4L270.9 115.5Z" fill="#99f902" stroke="#8ee802"/><path d="M275.7 115.4L280.5 115.1L284.6 112.0L279.8 112.4Z" fill="#b0fa00" stroke="#a4e800"/><path d="M284.6 112.0L289.4 111.5L293.5 108.6L288.7 109.1Z" fill="#d0fa00" stroke="#c1e800"/><path d="M311.3 101.8L316.2 101.1L320.3 98.5L315.4 99.3Z" fill="#fce800" stroke="#ebd700"/><path d="M320.3 98.5L325.1 97.6L329.2 95.1L324.4 96.1Z" fill="#ffd600" stroke="#edc700"/><path d="M329.2 95.1L334.0 94.2L338.1 91.7L333.3 92.6Z" fill="#fd8100" stroke="#eb7800"/><path d="M338.1 91.7L343.0 90.9L347.1 88.3L342.2 89.1Z" fill="#f23306" stroke="#e13005"/><path d="M356.0 85.2L360.8 84.8L364.9 82.3L360.1 82.7Z" fill="#ed1b0a" stroke="#dc1909"/><path d="M364.9 82.3L369.7 81.9L373.8 79.4L369.0 79.8Z" fill="#ed1c0a" stroke="#dd1a09"/><path d="M373.8 79.4L378.6 79.2L382.7 76.3L377.9 76.5Z" fill="#ef2009" stroke="#de1e09"/><path d="M382.7 76.3L387.5 76.7L391.7 73.2L386.9 72.9Z" fill="#ef2309" stroke="#df2008"/><path d="M400.6 70.2L405.3 72.4L409.5 67.8L404.7 65.6Z" fill="#ea1a0a" stroke="#da1809"/><path d="M409.5 67.8L414.2 71.0L418.3 66.1L413.6 62.9Z" fill="#e4170a" stroke="#d41509"/><path d="M418.3 66.1L423.0 69.7L427.2 64.8L422.5 61.2Z" fill="#e0150a" stroke="#d11409"/><path d="M427.2 64.8L431.9 68.2L436.0 63.5L431.3 60.1Z" fill="#dd140a" stroke="#ce1209"/><path d="M160.1 149.1L164.9 150.1L169.0 147.3L164.2 146.3Z" fill="#041ff2" stroke="#041de1"/><path d="M124.6 157.5L129.3 156.7L133.5 154.7L128.8 155.6Z" fill="#1005eb" stroke="#0e05da"/><path d="M133.5 154.7L138.2 154.7L142.3 152.6L137.6 152.7Z" fill="#0a10ee" stroke="#0a0fde"/><path d="M142.3 152.6L147.1 153.1L151.2 150.8L146.4 150.4Z" fill="#0816f0" stroke="#0714df"/><path d="M151.2 150.8L156.0 151.6L160.1 149.1L155.3 148.3Z" fill="#0719f1" stroke="#0617e0"/><path d="M177.8 145.0L182.6 146.2L186.7 142.5L181.9 141.4Z" fill="#0094ff" stroke="#0089ed"/><path d="M195.6 140.0L200.4 141.5L204.5 137.6L199.7 136.1Z" fill="#00e7fc" stroke="#00d7ea"/><path d="M204.5 137.6L209.3 139.0L213.4 135.3L208.6 133.9Z" fill="#00efe7" stroke="#00ded7"/><path d="M222.3 132.8L227.0 133.7L231.1 130.2L226.4 129.3Z" fill="#00f67c" stroke="#00e573"/><path d="M248.9 124.6L253.7 125.1L257.8 121.7L253.0 121.3Z" fill="#56f411" stroke="#50e310"/><path d="M293.5 108.6L298.3 108.0L302.4 105.2L297.6 105.8Z" fill="#f1fa00" stroke="#e0e800"/><path d="M302.4 105.2L307.2 104.5L311.3 101.8L306.5 102.5Z" fill="#fbf200" stroke="#e9e100"/><path d="M347.1 88.3L351.9 87.7L356.0 85.2L351.2 85.7Z" fill="#ee1e0a" stroke="#de1c09"/><path d="M391.7 73.2L396.4 74.3L400.6 70.2L395.8 69.2Z" fill="#ef2009" stroke="#de1e09"/><path d="M436.0 63.5L440.7 66.1L444.9 61.4L440.1 58.8Z" fill="#d9120a" stroke="#ca1109"/><path d="M262.6 121.9L267.4 121.8L271.5 118.6L266.7 118.6Z" fill="#8bf805" stroke="#81e705"/><path d="M182.6 146.2L187.4 147.6L191.5 143.9L186.7 142.5Z" fill="#009aff" stroke="#008fed"/><path d="M164.9 150.1L169.7 151.2L173.8 148.3L169.0 147.3Z" fill="#0223f4" stroke="#0221e3"/><path d="M129.3 156.7L134.1 156.6L138.2 154.7L133.5 154.7Z" fill="#0c0bed" stroke="#0b0adc"/><path d="M138.2 154.7L143.0 155.2L147.1 153.1L142.3 152.6Z" fill="#0913ef" stroke="#0812de"/><path d="M147.1 153.1L151.9 153.9L156.0 151.6L151.2 150.8Z" fill="#0816f0" stroke="#0715df"/><path d="M156.0 151.6L160.8 152.7L164.9 150.1L160.1 149.1Z" fill="#0619f1" stroke="#0617e0"/><path d="M173.8 148.3L178.6 149.5L182.6 146.2L177.8 145.0Z" fill="#0059fa" stroke="#0053e8"/><path d="M191.5 143.9L196.3 145.4L200.4 141.5L195.6 140.0Z" fill="#00caff" stroke="#00bbed"/><path d="M209.3 139.0L214.1 140.1L218.2 136.4L213.4 135.3Z" fill="#00f0e4" stroke="#00dfd4"/><path d="M218.2 136.4L223.0 137.3L227.0 133.7L222.3 132.8Z" fill="#00f9b6" stroke="#00e8a9"/><path d="M227.0 133.7L231.8 134.6L235.9 131.0L231.1 130.2Z" fill="#00f56e" stroke="#00e466"/><path d="M235.9 131.0L240.7 131.6L244.8 128.1L240.0 127.5Z" fill="#12f239" stroke="#11e135"/><path d="M244.8 128.1L249.6 128.6L253.7 125.1L248.9 124.6Z" fill="#30f11a" stroke="#2de118"/><path d="M253.7 125.1L258.5 125.3L262.6 121.9L257.8 121.7Z" fill="#6bf60c" stroke="#64e50b"/><path d="M271.5 118.6L276.3 118.2L280.5 115.1L275.7 115.4Z" fill="#a2fa00" stroke="#97e800"/><path d="M280.5 115.1L285.3 114.6L289.4 111.5L284.6 112.0Z" fill="#bdfa00" stroke="#b0e800"/><path d="M289.4 111.5L294.2 110.9L298.3 108.0L293.5 108.6Z" fill="#dffa00" stroke="#d0e800"/><path d="M307.2 104.5L312.0 103.8L316.2 101.1L311.3 101.8Z" fill="#fcee00" stroke="#eadd00"/><path d="M316.2 101.1L321.0 100.2L325.1 97.6L320.3 98.5Z" fill="#fde100" stroke="#ecd200"/><path d="M325.1 97.6L329.9 96.7L334.0 94.2L329.2 95.1Z" fill="#ffb400" stroke="#eda800"/><path d="M334.0 94.2L338.9 93.4L343.0 90.9L338.1 91.7Z" fill="#f84e00" stroke="#e64900"/><path d="M343.0 90.9L347.8 90.3L351.9 87.7L347.1 88.3Z" fill="#f02408" stroke="#df2208"/><path d="M351.9 87.7L356.7 87.4L360.8 84.8L356.0 85.2Z" fill="#ed1b0a" stroke="#dc1a09"/><path d="M360.8 84.8L365.6 84.4L369.7 81.9L364.9 82.3Z" fill="#ec1b0a" stroke="#db1909"/><path d="M369.7 81.9L374.5 81.8L378.6 79.2L373.8 79.4Z" fill="#ee1c0a" stroke="#dd1a09"/><path d="M378.6 79.2L383.4 79.6L387.5 76.7L382.7 76.3Z" fill="#ef2109" stroke="#de1f08"/><path d="M387.5 76.7L392.3 77.7L396.4 74.3L391.7 73.2Z" fill="#ef2209" stroke="#de1f08"/><path d="M396.4 74.3L401.2 76.5L405.3 72.4L400.6 70.2Z" fill="#ee1d0a" stroke="#dd1b09"/><path d="M405.3 72.4L410.0 75.6L414.2 71.0L409.5 67.8Z" fill="#e9190a" stroke="#d81809"/><path d="M414.2 71.0L418.9 74.6L423.0 69.7L418.3 66.1Z" fill="#e5180a" stroke="#d51609"/><path d="M423.0 69.7L427.7 73.1L431.9 68.2L427.2 64.8Z" fill="#e3170a" stroke="#d31509"/><path d="M431.9 68.2L436.6 70.8L440.7 66.1L436.0 63.5Z" fill="#e1160a" stroke="#d11409"/><path d="M200.4 141.5L205.2 142.9L209.3 139.0L204.5 137.6Z" fill="#00e7fd" stroke="#00d7eb"/><path d="M298.3 108.0L303.1 107.4L307.2 104.5L302.4 105.2Z" fill="#faf800" stroke="#e9e700"/><path d="M347.8 90.3L352.6 90.0L356.7 87.4L351.9 87.7Z" fill="#ee1d0a" stroke="#de1b09"/><path d="M392.3 77.7L397.1 80.0L401.2 76.5L396.4 74.3Z" fill="#ef2009" stroke="#de1e09"/><path d="M178.6 149.5L183.3 150.9L187.4 147.6L182.6 146.2Z" fill="#0064fb" stroke="#005de9"/><path d="M223.0 137.3L227.7 138.2L231.8 134.6L227.0 133.7Z" fill="#00f8a7" stroke="#00e79c"/><path d="M249.6 128.6L254.4 128.8L258.5 125.3L253.7 125.1Z" fill="#46f315" stroke="#41e213"/><path d="M258.5 125.3L263.3 125.2L267.4 121.8L262.6 121.9Z" fill="#78f709" stroke="#70e609"/><path d="M267.4 121.8L272.2 121.5L276.3 118.2L271.5 118.6Z" fill="#92f903" stroke="#88e703"/><path d="M303.1 107.4L307.9 106.6L312.0 103.8L307.2 104.5Z" fill="#fbf300" stroke="#e9e200"/><path d="M134.1 156.6L138.8 157.1L143.0 155.2L138.2 154.7Z" fill="#0a10ee" stroke="#0a0fdd"/><path d="M143.0 155.2L147.8 156.0L151.9 153.9L147.1 153.1Z" fill="#0914ef" stroke="#0813df"/><path d="M151.9 153.9L156.7 154.9L160.8 152.7L156.0 151.6Z" fill="#0816f0" stroke="#0714df"/><path d="M160.8 152.7L165.6 153.7L169.7 151.2L164.9 150.1Z" fill="#061bf1" stroke="#0519e0"/><path d="M187.4 147.6L192.2 149.1L196.3 145.4L191.5 143.9Z" fill="#009eff" stroke="#0093ed"/><path d="M205.2 142.9L210.0 144.1L214.1 140.1L209.3 139.0Z" fill="#00e7fc" stroke="#00d7ea"/><path d="M169.7 151.2L174.5 152.4L178.6 149.5L173.8 148.3Z" fill="#0027f5" stroke="#0025e4"/><path d="M196.3 145.4L201.1 146.8L205.2 142.9L200.4 141.5Z" fill="#00c6ff" stroke="#00b8ed"/><path d="M214.1 140.1L218.9 141.1L223.0 137.3L218.2 136.4Z" fill="#00f2de" stroke="#00e1cf"/><path d="M231.8 134.6L236.6 135.3L240.7 131.6L235.9 131.0Z" fill="#03f45d" stroke="#03e356"/><path d="M240.7 131.6L245.5 132.1L249.6 128.6L244.8 128.1Z" fill="#18f12b" stroke="#17e028"/><path d="M276.3 118.2L281.2 117.7L285.3 114.6L280.5 115.1Z" fill="#acfa00" stroke="#a0e800"/><path d="M285.3 114.6L290.1 114.0L294.2 110.9L289.4 111.5Z" fill="#cdfa00" stroke="#bee800"/><path d="M294.2 110.9L299.0 110.3L303.1 107.4L298.3 108.0Z" fill="#effa00" stroke="#dee800"/><path d="M312.0 103.8L316.9 102.9L321.0 100.2L316.2 101.1Z" fill="#fce900" stroke="#ebd800"/><path d="M321.0 100.2L325.8 99.2L329.9 96.7L325.1 97.6Z" fill="#ffd700" stroke="#edc800"/><path d="M329.9 96.7L334.7 95.9L338.9 93.4L334.0 94.2Z" fill="#fd7e00" stroke="#eb7600"/><path d="M338.9 93.4L343.7 92.9L347.8 90.3L343.0 90.9Z" fill="#f23206" stroke="#e12f05"/><path d="M356.7 87.4L361.5 87.0L365.6 84.4L360.8 84.8Z" fill="#ec1b0a" stroke="#db1909"/><path d="M365.6 84.4L370.5 84.3L374.5 81.8L369.7 81.9Z" fill="#ec1b0a" stroke="#db1909"/><path d="M374.5 81.8L379.4 82.2L383.4 79.6L378.6 79.2Z" fill="#ee1e0a" stroke="#de1c09"/><path d="M383.4 79.6L388.2 80.7L392.3 77.7L387.5 76.7Z" fill="#ef2109" stroke="#de1e08"/><path d="M401.2 76.5L405.9 79.8L410.0 75.6L405.3 72.4Z" fill="#ed1b0a" stroke="#dc1909"/><path d="M410.0 75.6L414.7 79.3L418.9 74.6L414.2 71.0Z" fill="#e91a0a" stroke="#d91809"/><path d="M418.9 74.6L423.5 78.1L427.7 73.1L423.0 69.7Z" fill="#e8190a" stroke="#d71709"/><path d="M427.7 73.1L432.4 75.7L436.6 70.8L431.9 68.2Z" fill="#e6180a" stroke="#d61709"/><path d="M254.4 128.8L259.2 128.8L263.3 125.2L258.5 125.3Z" fill="#5cf510" stroke="#56e40f"/><path d="M299.0 110.3L303.8 109.5L307.9 106.6L303.1 107.4Z" fill="#faf900" stroke="#e9e800"/><path d="M343.7 92.9L348.5 92.5L352.6 90.0L347.8 90.3Z" fill="#f02408" stroke="#df2208"/><path d="M352.6 90.0L357.4 89.7L361.5 87.0L356.7 87.4Z" fill="#ed1b0a" stroke="#dc1909"/><path d="M388.2 80.7L393.0 82.9L397.1 80.0L392.3 77.7Z" fill="#ef2009" stroke="#de1e09"/><path d="M397.1 80.0L401.8 83.2L405.9 79.8L401.2 76.5Z" fill="#ee1e0a" stroke="#de1c09"/><path d="M138.8 157.1L143.6 158.0L147.8 156.0L143.0 155.2Z" fill="#0a12ef" stroke="#0911de"/><path d="M147.8 156.0L152.5 157.1L156.7 154.9L151.9 153.9Z" fill="#0914ef" stroke="#0813df"/><path d="M156.7 154.9L161.5 156.0L165.6 153.7L160.8 152.7Z" fill="#0816f0" stroke="#0715df"/><path d="M174.5 152.4L179.3 153.8L183.3 150.9L178.6 149.5Z" fill="#0031f6" stroke="#002de5"/><path d="M183.3 150.9L188.1 152.4L192.2 149.1L187.4 147.6Z" fill="#0069fb" stroke="#0061ea"/><path d="M201.1 146.8L205.9 148.0L210.0 144.1L205.2 142.9Z" fill="#00c6ff" stroke="#00b8ed"/><path d="M218.9 141.1L223.7 142.0L227.7 138.2L223.0 137.3Z" fill="#00f4d9" stroke="#00e3ca"/><path d="M227.7 138.2L232.5 138.9L236.6 135.3L231.8 134.6Z" fill="#00f794" stroke="#00e68a"/><path d="M245.5 132.1L250.3 132.4L254.4 128.8L249.6 128.6Z" fill="#20f01e" stroke="#1edf1b"/><path d="M263.3 125.2L268.1 124.9L272.2 121.5L267.4 121.8Z" fill="#81f807" stroke="#78e607"/><path d="M272.2 121.5L277.0 121.0L281.2 117.7L276.3 118.2Z" fill="#9dfa01" stroke="#92e801"/><path d="M307.9 106.6L312.8 105.7L316.9 102.9L312.0 103.8Z" fill="#fcee00" stroke="#eade00"/><path d="M165.6 153.7L170.4 154.9L174.5 152.4L169.7 151.2Z" fill="#041ef2" stroke="#041be1"/><path d="M192.2 149.1L197.0 150.5L201.1 146.8L196.3 145.4Z" fill="#009dff" stroke="#0092ed"/><path d="M210.0 144.1L214.8 145.0L218.9 141.1L214.1 140.1Z" fill="#00e8f9" stroke="#00d8e8"/><path d="M236.6 135.3L241.4 135.8L245.5 132.1L240.7 131.6Z" fill="#0bf34b" stroke="#0ae246"/><path d="M281.2 117.7L286.0 117.1L290.1 114.0L285.3 114.6Z" fill="#bafa00" stroke="#ade800"/><path d="M290.1 114.0L294.9 113.3L299.0 110.3L294.2 110.9Z" fill="#ddfa00" stroke="#cde800"/><path d="M316.9 102.9L321.7 101.9L325.8 99.2L321.0 100.2Z" fill="#fde200" stroke="#ebd300"/><path d="M325.8 99.2L330.6 98.4L334.7 95.9L329.9 96.7Z" fill="#ffb500" stroke="#eda800"/><path d="M334.7 95.9L339.6 95.4L343.7 92.9L338.9 93.4Z" fill="#f74c01" stroke="#e64701"/><path d="M361.5 87.0L366.4 86.9L370.5 84.3L365.6 84.4Z" fill="#eb1a0a" stroke="#da1909"/><path d="M370.5 84.3L375.3 84.7L379.4 82.2L374.5 81.8Z" fill="#ec1b0a" stroke="#dc1909"/><path d="M379.4 82.2L384.1 83.3L388.2 80.7L383.4 79.6Z" fill="#ee1e0a" stroke="#de1c09"/><path d="M405.9 79.8L410.6 83.4L414.7 79.3L410.0 75.6Z" fill="#ed1b0a" stroke="#dc1909"/><path d="M414.7 79.3L419.4 82.7L423.5 78.1L418.9 74.6Z" fill="#eb1b0a" stroke="#db1909"/><path d="M423.5 78.1L428.3 80.7L432.4 75.7L427.7 73.1Z" fill="#eb1a0a" stroke="#da1809"/><path d="M250.3 132.4L255.1 132.4L259.2 128.8L254.4 128.8Z" fill="#36f219" stroke="#32e117"/><path d="M259.2 128.8L264.0 128.5L268.1 124.9L263.3 125.2Z" fill="#6bf60c" stroke="#63e50b"/><path d="M294.9 113.3L299.7 112.6L303.8 109.5L299.0 110.3Z" fill="#ecfa00" stroke="#dce800"/><path d="M303.8 109.5L308.7 108.6L312.8 105.7L307.9 106.6Z" fill="#fbf400" stroke="#e9e300"/><path d="M339.6 95.4L344.4 95.0L348.5 92.5L343.7 92.9Z" fill="#f23206" stroke="#e12f05"/><path d="M348.5 92.5L353.3 92.2L357.4 89.7L352.6 90.0Z" fill="#ee1e0a" stroke="#de1c09"/><path d="M357.4 89.7L362.3 89.6L366.4 86.9L361.5 87.0Z" fill="#eb1b0a" stroke="#db1909"/><path d="M384.1 83.3L388.9 85.6L393.0 82.9L388.2 80.7Z" fill="#ee1e0a" stroke="#de1c09"/><path d="M393.0 82.9L397.7 86.2L401.8 83.2L397.1 80.0Z" fill="#ef2009" stroke="#de1d09"/><path d="M401.8 83.2L406.5 86.9L410.6 83.4L405.9 79.8Z" fill="#ee1f0a" stroke="#de1c09"/><path d="M143.6 158.0L148.4 159.1L152.5 157.1L147.8 156.0Z" fill="#0912ef" stroke="#0911de"/><path d="M152.5 157.1L157.3 158.2L161.5 156.0L156.7 154.9Z" fill="#0914ef" stroke="#0812de"/><path d="M170.4 154.9L175.2 156.4L179.3 153.8L174.5 152.4Z" fill="#0320f3" stroke="#031ee2"/><path d="M197.0 150.5L201.8 151.8L205.9 148.0L201.1 146.8Z" fill="#009bff" stroke="#0090ed"/><path d="M214.8 145.0L219.6 145.9L223.7 142.0L218.9 141.1Z" fill="#00e9f6" stroke="#00d9e4"/><path d="M161.5 156.0L166.3 157.3L170.4 154.9L165.6 153.7Z" fill="#0717f0" stroke="#0716df"/><path d="M179.3 153.8L184.1 155.4L188.1 152.4L183.3 150.9Z" fill="#0036f6" stroke="#0032e5"/><path d="M188.1 152.4L192.9 153.9L197.0 150.5L192.2 149.1Z" fill="#006afc" stroke="#0062ea"/><path d="M205.9 148.0L210.7 149.0L214.8 145.0L210.0 144.1Z" fill="#00c9ff" stroke="#00bbed"/><path d="M223.7 142.0L228.4 142.7L232.5 138.9L227.7 138.2Z" fill="#00f7d0" stroke="#00e6c1"/><path d="M232.5 138.9L237.3 139.5L241.4 135.8L236.6 135.3Z" fill="#00f67b" stroke="#00e572"/><path d="M241.4 135.8L246.2 136.1L250.3 132.4L245.5 132.1Z" fill="#12f239" stroke="#11e135"/><path d="M268.1 124.9L272.9 124.5L277.0 121.0L272.2 121.5Z" fill="#8af805" stroke="#80e705"/><path d="M277.0 121.0L281.9 120.4L286.0 117.1L281.2 117.7Z" fill="#a8fa00" stroke="#9ce800"/><path d="M312.8 105.7L317.6 104.8L321.7 101.9L316.9 102.9Z" fill="#fcea00" stroke="#ead900"/><path d="M286.0 117.1L290.8 116.5L294.9 113.3L290.1 114.0Z" fill="#c9fa00" stroke="#bbe800"/><path d="M321.7 101.9L326.5 101.1L330.6 98.4L325.8 99.2Z" fill="#fed800" stroke="#edc900"/><path d="M330.6 98.4L335.5 97.9L339.6 95.4L334.7 95.9Z" fill="#fd7d00" stroke="#eb7400"/><path d="M366.4 86.9L371.2 87.4L375.3 84.7L370.5 84.3Z" fill="#ea1a0a" stroke="#da1809"/><path d="M375.3 84.7L380.1 85.8L384.1 83.3L379.4 82.2Z" fill="#ed1b0a" stroke="#dc1909"/><path d="M410.6 83.4L415.3 86.9L419.4 82.7L414.7 79.3Z" fill="#ee1e0a" stroke="#de1b09"/><path d="M419.4 82.7L424.1 85.4L428.3 80.7L423.5 78.1Z" fill="#ee1d0a" stroke="#dd1b09"/><path d="M148.4 159.1L153.2 160.2L157.3 158.2L152.5 157.1Z" fill="#0a12ef" stroke="#0910de"/><path d="M166.3 157.3L171.1 158.8L175.2 156.4L170.4 154.9Z" fill="#0719f1" stroke="#0617e0"/><path d="M192.9 153.9L197.7 155.1L201.8 151.8L197.0 150.5Z" fill="#0068fb" stroke="#0061ea"/><path d="M210.7 149.0L215.5 149.9L219.6 145.9L214.8 145.0Z" fill="#00cdff" stroke="#00beed"/><path d="M237.3 139.5L242.1 139.8L246.2 136.1L241.4 135.8Z" fill="#02f560" stroke="#02e459"/><path d="M246.2 136.1L251.0 136.1L255.1 132.4L250.3 132.4Z" fill="#1af128" stroke="#18e025"/><path d="M255.1 132.4L259.9 132.2L264.0 128.5L259.2 128.8Z" fill="#4cf413" stroke="#46e212"/><path d="M264.0 128.5L268.8 128.1L272.9 124.5L268.1 124.9Z" fill="#76f70a" stroke="#6de509"/><path d="M290.8 116.5L295.6 115.7L299.7 112.6L294.9 113.3Z" fill="#d9fa00" stroke="#cae800"/><path d="M299.7 112.6L304.6 111.6L308.7 108.6L303.8 109.5Z" fill="#fafa00" stroke="#e8e800"/><path d="M308.7 108.6L313.5 107.7L317.6 104.8L312.8 105.7Z" fill="#fbef00" stroke="#eadf00"/><path d="M335.5 97.9L340.3 97.6L344.4 95.0L339.6 95.4Z" fill="#f74c01" stroke="#e64701"/><path d="M344.4 95.0L349.2 94.7L353.3 92.2L348.5 92.5Z" fill="#f02608" stroke="#df2308"/><path d="M353.3 92.2L358.2 92.2L362.3 89.6L357.4 89.7Z" fill="#ed1c0a" stroke="#dc1a09"/><path d="M362.3 89.6L367.1 90.0L371.2 87.4L366.4 86.9Z" fill="#ea1a0a" stroke="#d91809"/><path d="M380.1 85.8L384.8 88.1L388.9 85.6L384.1 83.3Z" fill="#ed1b0a" stroke="#dc1909"/><path d="M388.9 85.6L393.6 88.8L397.7 86.2L393.0 82.9Z" fill="#ef1f09" stroke="#de1d09"/><path d="M397.7 86.2L402.4 89.8L406.5 86.9L401.8 83.2Z" fill="#ef2209" stroke="#de2008"/><path d="M406.5 86.9L411.2 90.3L415.3 86.9L410.6 83.4Z" fill="#ef2309" stroke="#df2108"/><path d="M157.3 158.2L162.1 159.4L166.3 157.3L161.5 156.0Z" fill="#0914ef" stroke="#0812de"/><path d="M175.2 156.4L180.0 158.0L184.1 155.4L179.3 153.8Z" fill="#0321f3" stroke="#031fe2"/><path d="M201.8 151.8L206.6 152.7L210.7 149.0L205.9 148.0Z" fill="#009dff" stroke="#0092ed"/><path d="M219.6 145.9L224.4 146.7L228.4 142.7L223.7 142.0Z" fill="#00ebf0" stroke="#00dbdf"/><path d="M184.1 155.4L188.9 156.9L192.9 153.9L188.1 152.4Z" fill="#0038f7" stroke="#0034e5"/><path d="M228.4 142.7L233.2 143.3L237.3 139.5L232.5 138.9Z" fill="#00f9bc" stroke="#00e8af"/><path d="M272.9 124.5L277.8 123.9L281.9 120.4L277.0 121.0Z" fill="#95f902" stroke="#8be802"/><path d="M281.9 120.4L286.7 119.8L290.8 116.5L286.0 117.1Z" fill="#b6fa00" stroke="#a9e800"/><path d="M317.6 104.8L322.4 104.0L326.5 101.1L321.7 101.9Z" fill="#fde400" stroke="#ebd400"/><path d="M326.5 101.1L331.4 100.6L335.5 97.9L330.6 98.4Z" fill="#ffb700" stroke="#edaa00"/><path d="M371.2 87.4L376.0 88.5L380.1 85.8L375.3 84.7Z" fill="#ea1a0a" stroke="#da1809"/><path d="M415.3 86.9L420.0 89.5L424.1 85.4L419.4 82.7Z" fill="#ef2409" stroke="#df2108"/><path d="M242.1 139.8L246.9 139.9L251.0 136.1L246.2 136.1Z" fill="#0cf348" stroke="#0be243"/><path d="M286.7 119.8L291.5 119.0L295.6 115.7L290.8 116.5Z" fill="#c5fa00" stroke="#b8e800"/><path d="M162.1 159.4L167.0 161.0L171.1 158.8L166.3 157.3Z" fill="#0814ef" stroke="#0813df"/><path d="M206.6 152.7L211.4 153.6L215.5 149.9L210.7 149.0Z" fill="#00a2ff" stroke="#0097ed"/><path d="M153.2 160.2L158.0 161.4L162.1 159.4L157.3 158.2Z" fill="#0a11ef" stroke="#0910de"/><path d="M171.1 158.8L175.9 160.4L180.0 158.0L175.2 156.4Z" fill="#0619f1" stroke="#0618e0"/><path d="M180.0 158.0L184.8 159.5L188.9 156.9L184.1 155.4Z" fill="#0322f3" stroke="#021fe2"/><path d="M188.9 156.9L193.7 158.1L197.7 155.1L192.9 153.9Z" fill="#0037f6" stroke="#0033e5"/><path d="M197.7 155.1L202.5 156.1L206.6 152.7L201.8 151.8Z" fill="#006afc" stroke="#0063ea"/><path d="M215.5 149.9L220.3 150.6L224.4 146.7L219.6 145.9Z" fill="#00d4ff" stroke="#00c5ed"/><path d="M224.4 146.7L229.2 147.2L233.2 143.3L228.4 142.7Z" fill="#00efe5" stroke="#00dfd5"/><path d="M233.2 143.3L238.0 143.6L242.1 139.8L237.3 139.5Z" fill="#00f89e" stroke="#00e793"/><path d="M251.0 136.1L255.8 136.0L259.9 132.2L255.1 132.4Z" fill="#28f11c" stroke="#25e01a"/><path d="M259.9 132.2L264.7 131.8L268.8 128.1L264.0 128.5Z" fill="#5cf510" stroke="#55e40f"/><path d="M268.8 128.1L273.7 127.5L277.8 123.9L272.9 124.5Z" fill="#80f807" stroke="#77e607"/><path d="M295.6 115.7L300.5 114.8L304.6 111.6L299.7 112.6Z" fill="#e9fa00" stroke="#d9e800"/><path d="M304.6 111.6L309.4 110.7L313.5 107.7L308.7 108.6Z" fill="#fbf500" stroke="#e9e400"/><path d="M313.5 107.7L318.3 106.8L322.4 104.0L317.6 104.8Z" fill="#fceb00" stroke="#eadb00"/><path d="M331.4 100.6L336.2 100.3L340.3 97.6L335.5 97.9Z" fill="#fd7f00" stroke="#eb7600"/><path d="M340.3 97.6L345.2 97.3L349.2 94.7L344.4 95.0Z" fill="#f33405" stroke="#e23105"/><path d="M349.2 94.7L354.1 94.7L358.2 92.2L353.3 92.2Z" fill="#ef2009" stroke="#de1e09"/><path d="M358.2 92.2L363.0 92.6L367.1 90.0L362.3 89.6Z" fill="#eb1b0a" stroke="#db1909"/><path d="M367.1 90.0L371.9 91.2L376.0 88.5L371.2 87.4Z" fill="#e91a0a" stroke="#d91809"/><path d="M376.0 88.5L380.7 90.7L384.8 88.1L380.1 85.8Z" fill="#ea1a0a" stroke="#da1809"/><path d="M384.8 88.1L389.5 91.3L393.6 88.8L388.9 85.6Z" fill="#ee1c0a" stroke="#dd1a09"/><path d="M393.6 88.8L398.3 92.4L402.4 89.8L397.7 86.2Z" fill="#ef2409" stroke="#df2108"/><path d="M402.4 89.8L407.1 93.3L411.2 90.3L406.5 86.9Z" fill="#f02808" stroke="#e02607"/><path d="M411.2 90.3L415.9 93.0L420.0 89.5L415.3 86.9Z" fill="#f12b07" stroke="#e02807"/><path d="M277.8 123.9L282.6 123.3L286.7 119.8L281.9 120.4Z" fill="#a3fa00" stroke="#98e800"/><path d="M322.4 104.0L327.3 103.5L331.4 100.6L326.5 101.1Z" fill="#fed900" stroke="#ecca00"/><path d="M371.9 91.2L376.6 93.4L380.7 90.7L376.0 88.5Z" fill="#e91a0a" stroke="#d91809"/><path d="M158.0 161.4L162.8 163.0L167.0 161.0L162.1 159.4Z" fill="#0a11ee" stroke="#0910de"/><path d="M202.5 156.1L207.3 157.0L211.4 153.6L206.6 152.7Z" fill="#006ffc" stroke="#0067ea"/><path d="M238.0 143.6L242.8 143.7L246.9 139.9L242.1 139.8Z" fill="#00f67c" stroke="#00e573"/><path d="M246.9 139.9L251.7 139.7L255.8 136.0L251.0 136.1Z" fill="#15f132" stroke="#14e12f"/><path d="M282.6 123.3L287.4 122.6L291.5 119.0L286.7 119.8Z" fill="#b1fa00" stroke="#a5e800"/><path d="M291.5 119.0L296.3 118.1L300.5 114.8L295.6 115.7Z" fill="#d6fa00" stroke="#c7e800"/><path d="M327.3 103.5L332.1 103.1L336.2 100.3L331.4 100.6Z" fill="#ffb900" stroke="#edac00"/><path d="M167.0 161.0L171.8 162.6L175.9 160.4L171.1 158.8Z" fill="#0814ef" stroke="#0813df"/><path d="M175.9 160.4L180.7 161.9L184.8 159.5L180.0 158.0Z" fill="#061af1" stroke="#0618e0"/><path d="M184.8 159.5L189.6 160.8L193.7 158.1L188.9 156.9Z" fill="#0322f3" stroke="#0220e2"/><path d="M193.7 158.1L198.4 159.1L202.5 156.1L197.7 155.1Z" fill="#0039f7" stroke="#0035e5"/><path d="M211.4 153.6L216.2 154.4L220.3 150.6L215.5 149.9Z" fill="#00a8ff" stroke="#009ced"/><path d="M220.3 150.6L225.1 151.2L229.2 147.2L224.4 146.7Z" fill="#00e1ff" stroke="#00d2ed"/><path d="M229.2 147.2L233.9 147.6L238.0 143.6L233.2 143.3Z" fill="#00f4d7" stroke="#00e3c8"/><path d="M255.8 136.0L260.6 135.6L264.7 131.8L259.9 132.2Z" fill="#3cf217" stroke="#38e115"/><path d="M264.7 131.8L269.5 131.3L273.7 127.5L268.8 128.1Z" fill="#68f60d" stroke="#61e50c"/><path d="M273.7 127.5L278.5 127.0L282.6 123.3L277.8 123.9Z" fill="#8df904" stroke="#83e704"/><path d="M300.5 114.8L305.3 113.8L309.4 110.7L304.6 111.6Z" fill="#f7fa00" stroke="#e6e800"/><path d="M309.4 110.7L314.2 109.8L318.3 106.8L313.5 107.7Z" fill="#fbf000" stroke="#eae000"/><path d="M318.3 106.8L323.2 106.3L327.3 103.5L322.4 104.0Z" fill="#fde500" stroke="#ebd500"/><path d="M336.2 100.3L341.1 100.1L345.2 97.3L340.3 97.6Z" fill="#f84f00" stroke="#e74a00"/><path d="M345.2 97.3L350.0 97.3L354.1 94.7L349.2 94.7Z" fill="#f12907" stroke="#e02707"/><path d="M354.1 94.7L358.9 95.2L363.0 92.6L358.2 92.2Z" fill="#ee1e0a" stroke="#de1c09"/><path d="M363.0 92.6L367.8 93.8L371.9 91.2L367.1 90.0Z" fill="#ea1a0a" stroke="#da1809"/><path d="M380.7 90.7L385.5 94.0L389.5 91.3L384.8 88.1Z" fill="#ec1b0a" stroke="#db1909"/><path d="M389.5 91.3L394.3 95.0L398.3 92.4L393.6 88.8Z" fill="#ef2309" stroke="#df2108"/><path d="M398.3 92.4L403.0 95.9L407.1 93.3L402.4 89.8Z" fill="#f12d07" stroke="#e02a06"/><path d="M407.1 93.3L411.8 95.9L415.9 93.0L411.2 90.3Z" fill="#f23206" stroke="#e12e05"/><path d="M233.9 147.6L238.7 147.7L242.8 143.7L238.0 143.6Z" fill="#00fac5" stroke="#00e8b7"/><path d="M278.5 127.0L283.3 126.3L287.4 122.6L282.6 123.3Z" fill="#9cfa01" stroke="#92e801"/><path d="M323.2 106.3L328.0 106.0L332.1 103.1L327.3 103.5Z" fill="#fedb00" stroke="#eccc00"/><path d="M367.8 93.8L372.6 96.0L376.6 93.4L371.9 91.2Z" fill="#ea1a0a" stroke="#d91809"/><path d="M376.6 93.4L381.4 96.6L385.5 94.0L380.7 90.7Z" fill="#ea1a0a" stroke="#da1809"/><path d="M162.8 163.0L167.7 164.7L171.8 162.6L167.0 161.0Z" fill="#0a11ee" stroke="#0910de"/><path d="M180.7 161.9L185.5 163.2L189.6 160.8L184.8 159.5Z" fill="#061bf1" stroke="#0519e0"/><path d="M198.4 159.1L203.2 160.0L207.3 157.0L202.5 156.1Z" fill="#003ff7" stroke="#003ae6"/><path d="M207.3 157.0L212.1 157.8L216.2 154.4L211.4 153.6Z" fill="#0076fd" stroke="#006eeb"/><path d="M225.1 151.2L229.9 151.5L233.9 147.6L229.2 147.2Z" fill="#00e9f8" stroke="#00d8e6"/><path d="M242.8 143.7L247.6 143.6L251.7 139.7L246.9 139.9Z" fill="#05f459" stroke="#04e353"/><path d="M251.7 139.7L256.5 139.4L260.6 135.6L255.8 136.0Z" fill="#1df021" stroke="#1bdf1e"/><path d="M287.4 122.6L292.2 121.6L296.3 118.1L291.5 119.0Z" fill="#c1fa00" stroke="#b4e800"/><path d="M296.3 118.1L301.2 117.1L305.3 113.8L300.5 114.8Z" fill="#e6fa00" stroke="#d6e800"/><path d="M332.1 103.1L337.0 102.9L341.1 100.1L336.2 100.3Z" fill="#fd8400" stroke="#eb7b00"/><path d="M171.8 162.6L176.6 164.2L180.7 161.9L175.9 160.4Z" fill="#0814ef" stroke="#0813df"/><path d="M189.6 160.8L194.4 161.8L198.4 159.1L193.7 158.1Z" fill="#0222f3" stroke="#0220e2"/><path d="M216.2 154.4L221.0 154.9L225.1 151.2L220.3 150.6Z" fill="#00b4ff" stroke="#00a7ed"/><path d="M260.6 135.6L265.4 135.1L269.5 131.3L264.7 131.8Z" fill="#4cf413" stroke="#47e212"/><path d="M269.5 131.3L274.4 130.8L278.5 127.0L273.7 127.5Z" fill="#75f70a" stroke="#6de509"/><path d="M305.3 113.8L310.1 113.0L314.2 109.8L309.4 110.7Z" fill="#fbf600" stroke="#e9e500"/><path d="M314.2 109.8L319.1 109.3L323.2 106.3L318.3 106.8Z" fill="#fced00" stroke="#eadc00"/><path d="M341.1 100.1L345.9 100.1L350.0 97.3L345.2 97.3Z" fill="#f43a04" stroke="#e33604"/><path d="M350.0 97.3L354.8 97.8L358.9 95.2L354.1 94.7Z" fill="#f02608" stroke="#df2308"/><path d="M358.9 95.2L363.7 96.4L367.8 93.8L363.0 92.6Z" fill="#ee1c0a" stroke="#dd1a09"/><path d="M385.5 94.0L390.2 97.6L394.3 95.0L389.5 91.3Z" fill="#ef2109" stroke="#de1f08"/><path d="M394.3 95.0L399.0 98.4L403.0 95.9L398.3 92.4Z" fill="#f23006" stroke="#e12d06"/><path d="M403.0 95.9L407.8 98.5L411.8 95.9L407.1 93.3Z" fill="#f33805" stroke="#e23404"/><path d="M194.4 161.8L199.1 162.8L203.2 160.0L198.4 159.1Z" fill="#0224f4" stroke="#0221e3"/><path d="M221.0 154.9L225.8 155.3L229.9 151.5L225.1 151.2Z" fill="#00c5ff" stroke="#00b7ed"/><path d="M229.9 151.5L234.7 151.7L238.7 147.7L233.9 147.6Z" fill="#00edeb" stroke="#00dddb"/><path d="M238.7 147.7L243.5 147.6L247.6 143.6L242.8 143.7Z" fill="#00f89d" stroke="#00e692"/><path d="M274.4 130.8L279.2 130.1L283.3 126.3L278.5 127.0Z" fill="#83f807" stroke="#7ae606"/><path d="M283.3 126.3L288.1 125.4L292.2 121.6L287.4 122.6Z" fill="#acfa00" stroke="#a0e800"/><path d="M319.1 109.3L323.9 109.0L328.0 106.0L323.2 106.3Z" fill="#fce700" stroke="#ebd700"/><path d="M328.0 106.0L332.9 105.8L337.0 102.9L332.1 103.1Z" fill="#ffbd00" stroke="#edb000"/><path d="M363.7 96.4L368.5 98.6L372.6 96.0L367.8 93.8Z" fill="#ee1c0a" stroke="#dd1a09"/><path d="M372.6 96.0L377.3 99.2L381.4 96.6L376.6 93.4Z" fill="#ec1b0a" stroke="#dc1909"/><path d="M381.4 96.6L386.1 100.3L390.2 97.6L385.5 94.0Z" fill="#ef1f09" stroke="#de1d09"/><path d="M167.7 164.7L172.5 166.3L176.6 164.2L171.8 162.6Z" fill="#0a10ee" stroke="#090fde"/><path d="M176.6 164.2L181.4 165.5L185.5 163.2L180.7 161.9Z" fill="#0815ef" stroke="#0813df"/><path d="M185.5 163.2L190.3 164.3L194.4 161.8L189.6 160.8Z" fill="#061bf1" stroke="#0519e0"/><path d="M203.2 160.0L208.0 160.8L212.1 157.8L207.3 157.0Z" fill="#0045f8" stroke="#0040e7"/><path d="M212.1 157.8L216.9 158.4L221.0 154.9L216.2 154.4Z" fill="#0083fe" stroke="#0079ec"/><path d="M247.6 143.6L252.4 143.2L256.5 139.4L251.7 139.7Z" fill="#10f23e" stroke="#0fe13a"/><path d="M256.5 139.4L261.3 138.9L265.4 135.1L260.6 135.6Z" fill="#2df11b" stroke="#2ae019"/><path d="M292.2 121.6L297.1 120.7L301.2 117.1L296.3 118.1Z" fill="#d2fa00" stroke="#c3e800"/><path d="M301.2 117.1L306.0 116.3L310.1 113.0L305.3 113.8Z" fill="#f4fa00" stroke="#e3e800"/><path d="M337.0 102.9L341.8 102.9L345.9 100.1L341.1 100.1Z" fill="#f95900" stroke="#e75300"/><path d="M265.4 135.1L270.3 134.6L274.4 130.8L269.5 131.3Z" fill="#5af510" stroke="#54e40f"/><path d="M310.1 113.0L315.0 112.5L319.1 109.3L314.2 109.8Z" fill="#fbf200" stroke="#eae100"/><path d="M345.9 100.1L350.7 100.6L354.8 97.8L350.0 97.3Z" fill="#f23306" stroke="#e12f05"/><path d="M354.8 97.8L359.6 99.0L363.7 96.4L358.9 95.2Z" fill="#f02508" stroke="#df2308"/><path d="M390.2 97.6L394.9 101.0L399.0 98.4L394.3 95.0Z" fill="#f23206" stroke="#e12e05"/><path d="M399.0 98.4L403.7 101.0L407.8 98.5L403.0 95.9Z" fill="#f53e03" stroke="#e33a03"/><path d="M172.5 166.3L177.3 167.6L181.4 165.5L176.6 164.2Z" fill="#0a10ee" stroke="#0a0fdd"/><path d="M190.3 164.3L195.1 165.2L199.1 162.8L194.4 161.8Z" fill="#051cf2" stroke="#051ae1"/><path d="M199.1 162.8L203.9 163.5L208.0 160.8L203.2 160.0Z" fill="#0125f4" stroke="#0123e3"/><path d="M216.9 158.4L221.7 158.7L225.8 155.3L221.0 154.9Z" fill="#0094ff" stroke="#008aed"/><path d="M225.8 155.3L230.6 155.4L234.7 151.7L229.9 151.5Z" fill="#00d6ff" stroke="#00c7ed"/><path d="M234.7 151.7L239.5 151.5L243.5 147.6L238.7 147.7Z" fill="#00f3db" stroke="#00e2cb"/><path d="M243.5 147.6L248.3 147.3L252.4 143.2L247.6 143.6Z" fill="#00f66f" stroke="#00e468"/><path d="M270.3 134.6L275.1 134.0L279.2 130.1L274.4 130.8Z" fill="#69f60d" stroke="#61e50c"/><path d="M279.2 130.1L284.0 129.2L288.1 125.4L283.3 126.3Z" fill="#94f903" stroke="#89e803"/><path d="M288.1 125.4L293.0 124.4L297.1 120.7L292.2 121.6Z" fill="#bcfa00" stroke="#afe800"/><path d="M315.0 112.5L319.8 112.2L323.9 109.0L319.1 109.3Z" fill="#fcef00" stroke="#eade00"/><path d="M323.9 109.0L328.8 108.8L332.9 105.8L328.0 106.0Z" fill="#fede00" stroke="#ecce00"/><path d="M332.9 105.8L337.7 105.8L341.8 102.9L337.0 102.9Z" fill="#fe8f00" stroke="#ec8500"/><path d="M359.6 99.0L364.4 101.2L368.5 98.6L363.7 96.4Z" fill="#f02708" stroke="#df2407"/><path d="M368.5 98.6L373.2 101.8L377.3 99.2L372.6 96.0Z" fill="#ef2109" stroke="#de1e08"/><path d="M377.3 99.2L382.0 102.9L386.1 100.3L381.4 96.6Z" fill="#ef2309" stroke="#df2108"/><path d="M386.1 100.3L390.8 103.7L394.9 101.0L390.2 97.6Z" fill="#f33305" stroke="#e23005"/><path d="M181.4 165.5L186.2 166.6L190.3 164.3L185.5 163.2Z" fill="#0815f0" stroke="#0714df"/><path d="M208.0 160.8L212.8 161.4L216.9 158.4L212.1 157.8Z" fill="#004ff9" stroke="#0049e7"/><path d="M252.4 143.2L257.3 142.8L261.3 138.9L256.5 139.4Z" fill="#17f12e" stroke="#16e02a"/><path d="M261.3 138.9L266.2 138.5L270.3 134.6L265.4 135.1Z" fill="#3df217" stroke="#39e115"/><path d="M297.1 120.7L301.9 119.9L306.0 116.3L301.2 117.1Z" fill="#e2fa00" stroke="#d2e800"/><path d="M306.0 116.3L310.9 115.8L315.0 112.5L310.1 113.0Z" fill="#faf800" stroke="#e9e600"/><path d="M341.8 102.9L346.6 103.5L350.7 100.6L345.9 100.1Z" fill="#f64702" stroke="#e54202"/><path d="M350.7 100.6L355.5 101.8L359.6 99.0L354.8 97.8Z" fill="#f23206" stroke="#e12f05"/><path d="M394.9 101.0L399.6 103.6L403.7 101.0L399.0 98.4Z" fill="#f64402" stroke="#e53f02"/><path d="M221.7 158.7L226.5 158.9L230.6 155.4L225.8 155.3Z" fill="#00a8ff" stroke="#009ced"/><path d="M266.2 138.5L271.0 137.8L275.1 134.0L270.3 134.6Z" fill="#4cf413" stroke="#47e312"/><path d="M310.9 115.8L315.7 115.5L319.8 112.2L315.0 112.5Z" fill="#fbf400" stroke="#e9e300"/><path d="M177.3 167.6L182.1 168.7L186.2 166.6L181.4 165.5Z" fill="#0a10ee" stroke="#090fde"/><path d="M186.2 166.6L191.0 167.5L195.1 165.2L190.3 164.3Z" fill="#0816f0" stroke="#0714df"/><path d="M195.1 165.2L199.8 166.0L203.9 163.5L199.1 162.8Z" fill="#051df2" stroke="#041be1"/><path d="M203.9 163.5L208.7 164.1L212.8 161.4L208.0 160.8Z" fill="#0027f5" stroke="#0024e4"/><path d="M212.8 161.4L217.6 161.8L221.7 158.7L216.9 158.4Z" fill="#0060fb" stroke="#0059e9"/><path d="M230.6 155.4L235.4 155.3L239.5 151.5L234.7 151.7Z" fill="#00e7fb" stroke="#00d7e9"/><path d="M239.5 151.5L244.3 151.2L248.3 147.3L243.5 147.6Z" fill="#00f9bd" stroke="#00e8b0"/><path d="M248.3 147.3L253.2 146.9L257.3 142.8L252.4 143.2Z" fill="#09f34e" stroke="#09e249"/><path d="M275.1 134.0L279.9 133.1L284.0 129.2L279.2 130.1Z" fill="#78f709" stroke="#70e608"/><path d="M284.0 129.2L288.9 128.3L293.0 124.4L288.1 125.4Z" fill="#a6fa00" stroke="#9ae800"/><path d="M293.0 124.4L297.8 123.7L301.9 119.9L297.1 120.7Z" fill="#cdfa00" stroke="#bfe800"/><path d="M319.8 112.2L324.7 112.0L328.8 108.8L323.9 109.0Z" fill="#fcea00" stroke="#eada00"/><path d="M328.8 108.8L333.6 108.9L337.7 105.8L332.9 105.8Z" fill="#ffc600" stroke="#edb800"/><path d="M337.7 105.8L342.5 106.4L346.6 103.5L341.8 102.9Z" fill="#fb6c00" stroke="#e96400"/><path d="M355.5 101.8L360.3 104.0L364.4 101.2L359.6 99.0Z" fill="#f33805" stroke="#e23404"/><path d="M364.4 101.2L369.2 104.5L373.2 101.8L368.5 98.6Z" fill="#f22e06" stroke="#e12b06"/><path d="M373.2 101.8L378.0 105.4L382.0 102.9L377.3 99.2Z" fill="#f22f06" stroke="#e12c06"/><path d="M382.0 102.9L386.8 106.3L390.8 103.7L386.1 100.3Z" fill="#f33805" stroke="#e23404"/><path d="M390.8 103.7L395.6 106.3L399.6 103.6L394.9 101.0Z" fill="#f74b01" stroke="#e64601"/><path d="M257.3 142.8L262.1 142.4L266.2 138.5L261.3 138.9Z" fill="#1ef01f" stroke="#1cdf1d"/><path d="M301.9 119.9L306.8 119.4L310.9 115.8L306.0 116.3Z" fill="#effa00" stroke="#dee800"/><path d="M346.6 103.5L351.5 104.6L355.5 101.8L350.7 100.6Z" fill="#f64502" stroke="#e54102"/><path d="M182.1 168.7L186.9 169.6L191.0 167.5L186.2 166.6Z" fill="#0a11ee" stroke="#0910de"/><path d="M217.6 161.8L222.4 161.9L226.5 158.9L221.7 158.7Z" fill="#0076fd" stroke="#006eeb"/><path d="M226.5 158.9L231.3 158.8L235.4 155.3L230.6 155.4Z" fill="#00beff" stroke="#00b1ed"/><path d="M262.1 142.4L266.9 141.8L271.0 137.8L266.2 138.5Z" fill="#2ff11a" stroke="#2ce018"/><path d="M271.0 137.8L275.8 137.0L279.9 133.1L275.1 134.0Z" fill="#5df510" stroke="#56e40e"/><path d="M306.8 119.4L311.6 119.1L315.7 115.5L310.9 115.8Z" fill="#fafa00" stroke="#e8e800"/><path d="M315.7 115.5L320.6 115.3L324.7 112.0L319.8 112.2Z" fill="#fbf100" stroke="#eae000"/><path d="M351.5 104.6L356.2 106.9L360.3 104.0L355.5 101.8Z" fill="#f74d01" stroke="#e64800"/><path d="M191.0 167.5L195.8 168.3L199.8 166.0L195.1 165.2Z" fill="#0717f0" stroke="#0715df"/><path d="M199.8 166.0L204.6 166.6L208.7 164.1L203.9 163.5Z" fill="#041ff2" stroke="#041ce1"/><path d="M208.7 164.1L213.5 164.5L217.6 161.8L212.8 161.4Z" fill="#0031f6" stroke="#002ee5"/><path d="M235.4 155.3L240.2 155.1L244.3 151.2L239.5 151.5Z" fill="#00eee8" stroke="#00ded8"/><path d="M244.3 151.2L249.1 150.9L253.2 146.9L248.3 147.3Z" fill="#00f78c" stroke="#00e683"/><path d="M253.2 146.9L258.0 146.4L262.1 142.4L257.3 142.8Z" fill="#10f23f" stroke="#0fe13a"/><path d="M279.9 133.1L284.8 132.3L288.9 128.3L284.0 129.2Z" fill="#8af805" stroke="#81e705"/><path d="M288.9 128.3L293.7 127.6L297.8 123.7L293.0 124.4Z" fill="#b6fa00" stroke="#a9e800"/><path d="M297.8 123.7L302.7 123.2L306.8 119.4L301.9 119.9Z" fill="#dcfa00" stroke="#cde800"/><path d="M324.7 112.0L329.5 112.0L333.6 108.9L328.8 108.8Z" fill="#fde200" stroke="#ebd200"/><path d="M333.6 108.9L338.5 109.4L342.5 106.4L337.7 105.8Z" fill="#ffa100" stroke="#ed9500"/><path d="M342.5 106.4L347.4 107.5L351.5 104.6L346.6 103.5Z" fill="#fa6200" stroke="#e85b00"/><path d="M360.3 104.0L365.1 107.2L369.2 104.5L364.4 101.2Z" fill="#f64402" stroke="#e43f02"/><path d="M369.2 104.5L373.9 108.1L378.0 105.4L373.2 101.8Z" fill="#f54003" stroke="#e43c03"/><path d="M378.0 105.4L382.7 108.9L386.8 106.3L382.0 102.9Z" fill="#f64502" stroke="#e54002"/><path d="M386.8 106.3L391.5 108.9L395.6 106.3L390.8 103.7Z" fill="#f85400" stroke="#e74e00"/><path d="M213.5 164.5L218.3 164.7L222.4 161.9L217.6 161.8Z" fill="#0045f8" stroke="#0040e7"/><path d="M258.0 146.4L262.8 145.8L266.9 141.8L262.1 142.4Z" fill="#18f12d" stroke="#16e02a"/><path d="M302.7 123.2L307.5 123.0L311.6 119.1L306.8 119.4Z" fill="#e9fa00" stroke="#d8e800"/><path d="M347.4 107.5L352.2 109.8L356.2 106.9L351.5 104.6Z" fill="#fb6d00" stroke="#e96500"/><path d="M186.9 169.6L191.7 170.4L195.8 168.3L191.0 167.5Z" fill="#0a12ef" stroke="#0910de"/><path d="M204.6 166.6L209.4 167.1L213.5 164.5L208.7 164.1Z" fill="#0321f3" stroke="#031fe2"/><path d="M222.4 161.9L227.2 161.9L231.3 158.8L226.5 158.9Z" fill="#0090ff" stroke="#0086ed"/><path d="M231.3 158.8L236.1 158.5L240.2 155.1L235.4 155.3Z" fill="#00daff" stroke="#00caed"/><path d="M266.9 141.8L271.7 141.0L275.8 137.0L271.0 137.8Z" fill="#40f316" stroke="#3ce214"/><path d="M275.8 137.0L280.7 136.2L284.8 132.3L279.9 133.1Z" fill="#6ef60c" stroke="#66e50b"/><path d="M311.6 119.1L316.5 119.0L320.6 115.3L315.7 115.5Z" fill="#faf700" stroke="#e9e500"/><path d="M320.6 115.3L325.4 115.4L329.5 112.0L324.7 112.0Z" fill="#fced00" stroke="#eadd00"/><path d="M356.2 106.9L361.0 110.1L365.1 107.2L360.3 104.0Z" fill="#fa6100" stroke="#e85a00"/><path d="M195.8 168.3L200.6 168.9L204.6 166.6L199.8 166.0Z" fill="#0718f0" stroke="#0616e0"/><path d="M240.2 155.1L245.0 154.7L249.1 150.9L244.3 151.2Z" fill="#00f7cf" stroke="#00e6c1"/><path d="M249.1 150.9L253.9 150.4L258.0 146.4L253.2 146.9Z" fill="#00f568" stroke="#00e461"/><path d="M284.8 132.3L289.6 131.6L293.7 127.6L288.9 128.3Z" fill="#9ffa00" stroke="#93e800"/><path d="M293.7 127.6L298.6 127.2L302.7 123.2L297.8 123.7Z" fill="#c6fa00" stroke="#b8e800"/><path d="M329.5 112.0L334.4 112.5L338.5 109.4L333.6 108.9Z" fill="#ffd500" stroke="#edc600"/><path d="M338.5 109.4L343.3 110.5L347.4 107.5L342.5 106.4Z" fill="#fe8e00" stroke="#ec8400"/><path d="M365.1 107.2L369.8 110.8L373.9 108.1L369.2 104.5Z" fill="#f95700" stroke="#e75100"/><path d="M373.9 108.1L378.6 111.5L382.7 108.9L378.0 105.4Z" fill="#f95a00" stroke="#e85400"/><path d="M382.7 108.9L387.4 111.5L391.5 108.9L386.8 106.3Z" fill="#fa6000" stroke="#e85900"/><path d="M209.4 167.1L214.2 167.3L218.3 164.7L213.5 164.5Z" fill="#0125f4" stroke="#0122e3"/><path d="M218.3 164.7L223.1 164.7L227.2 161.9L222.4 161.9Z" fill="#005dfa" stroke="#0056e9"/><path d="M253.9 150.4L258.7 149.9L262.8 145.8L258.0 146.4Z" fill="#07f453" stroke="#07e34d"/><path d="M262.8 145.8L267.6 145.0L271.7 141.0L266.9 141.8Z" fill="#23f01d" stroke="#21e01b"/><path d="M298.6 127.2L303.4 127.0L307.5 123.0L302.7 123.2Z" fill="#d4fa00" stroke="#c5e800"/><path d="M307.5 123.0L312.4 122.9L316.5 119.0L311.6 119.1Z" fill="#f3fa00" stroke="#e2e800"/><path d="M343.3 110.5L348.1 112.8L352.2 109.8L347.4 107.5Z" fill="#ff9100" stroke="#ed8700"/><path d="M352.2 109.8L356.9 112.9L361.0 110.1L356.2 106.9Z" fill="#fd8600" stroke="#ec7c00"/><path d="M191.7 170.4L196.5 171.1L200.6 168.9L195.8 168.3Z" fill="#0913ef" stroke="#0811de"/><path d="M200.6 168.9L205.3 169.4L209.4 167.1L204.6 166.6Z" fill="#0619f1" stroke="#0618e0"/><path d="M227.2 161.9L232.0 161.6L236.1 158.5L231.3 158.8Z" fill="#00abff" stroke="#009fed"/><path d="M236.1 158.5L240.9 158.2L245.0 154.7L240.2 155.1Z" fill="#00ebf2" stroke="#00dae1"/><path d="M271.7 141.0L276.6 140.1L280.7 136.2L275.8 137.0Z" fill="#52f412" stroke="#4ce311"/><path d="M280.7 136.2L285.5 135.5L289.6 131.6L284.8 132.3Z" fill="#80f807" stroke="#77e607"/><path d="M316.5 119.0L321.3 119.1L325.4 115.4L320.6 115.3Z" fill="#fbf400" stroke="#e9e300"/><path d="M325.4 115.4L330.3 116.0L334.4 112.5L329.5 112.0Z" fill="#fde700" stroke="#ebd700"/><path d="M361.0 110.1L365.7 113.6L369.8 110.8L365.1 107.2Z" fill="#fc7800" stroke="#ea7000"/><path d="M245.0 154.7L249.8 154.3L253.9 150.4L249.1 150.9Z" fill="#00f8a6" stroke="#00e79b"/><path d="M289.6 131.6L294.5 131.2L298.6 127.2L293.7 127.6Z" fill="#aefa00" stroke="#a2e800"/><path d="M334.4 112.5L339.2 113.7L343.3 110.5L338.5 109.4Z" fill="#ffbf00" stroke="#edb200"/><path d="M369.8 110.8L374.6 114.2L378.6 111.5L373.9 108.1Z" fill="#fc7400" stroke="#ea6c00"/><path d="M378.6 111.5L383.4 114.1L387.4 111.5L382.7 108.9Z" fill="#fb7100" stroke="#ea6a00"/><path d="M196.5 171.1L201.3 171.5L205.3 169.4L200.6 168.9Z" fill="#0914ef" stroke="#0812de"/><path d="M205.3 169.4L210.1 169.6L214.2 167.3L209.4 167.1Z" fill="#051cf2" stroke="#051ae1"/><path d="M214.2 167.3L219.0 167.2L223.1 164.7L218.3 164.7Z" fill="#0030f6" stroke="#002ce5"/><path d="M223.1 164.7L227.9 164.5L232.0 161.6L227.2 161.9Z" fill="#007bfd" stroke="#0072ec"/><path d="M249.8 154.3L254.6 153.7L258.7 149.9L253.9 150.4Z" fill="#00f681" stroke="#00e578"/><path d="M258.7 149.9L263.5 149.1L267.6 145.0L262.8 145.8Z" fill="#12f239" stroke="#11e135"/><path d="M267.6 145.0L272.5 144.2L276.6 140.1L271.7 141.0Z" fill="#37f218" stroke="#33e117"/><path d="M294.5 131.2L299.3 131.1L303.4 127.0L298.6 127.2Z" fill="#bdfa00" stroke="#afe800"/><path d="M303.4 127.0L308.3 127.0L312.4 122.9L307.5 123.0Z" fill="#e0fa00" stroke="#d1e800"/><path d="M312.4 122.9L317.2 123.1L321.3 119.1L316.5 119.0Z" fill="#fafa00" stroke="#e9e800"/><path d="M339.2 113.7L344.0 115.9L348.1 112.8L343.3 110.5Z" fill="#ffb900" stroke="#edac00"/><path d="M348.1 112.8L352.8 115.9L356.9 112.9L352.2 109.8Z" fill="#ffa600" stroke="#ed9a00"/><path d="M356.9 112.9L361.7 116.5L365.7 113.6L361.0 110.1Z" fill="#ffa000" stroke="#ed9500"/><path d="M232.0 161.6L236.8 161.3L240.9 158.2L236.1 158.5Z" fill="#00cbff" stroke="#00bded"/><path d="M240.9 158.2L245.7 157.8L249.8 154.3L245.0 154.7Z" fill="#00f4d9" stroke="#00e3ca"/><path d="M276.6 140.1L281.4 139.5L285.5 135.5L280.7 136.2Z" fill="#62f50e" stroke="#5ce40d"/><path d="M285.5 135.5L290.4 135.2L294.5 131.2L289.6 131.6Z" fill="#92f903" stroke="#88e803"/><path d="M321.3 119.1L326.2 119.7L330.3 116.0L325.4 115.4Z" fill="#fbf100" stroke="#eae000"/><path d="M330.3 116.0L335.1 117.1L339.2 113.7L334.4 112.5Z" fill="#fede00" stroke="#eccf00"/><path d="M365.7 113.6L370.5 117.0L374.6 114.2L369.8 110.8Z" fill="#fe8a00" stroke="#ec8000"/><path d="M374.6 114.2L379.3 116.8L383.4 114.1L378.6 111.5Z" fill="#fe8800" stroke="#ec7e00"/><path d="M201.3 171.5L206.1 171.7L210.1 169.6L205.3 169.4Z" fill="#0815f0" stroke="#0714df"/><path d="M245.7 157.8L250.5 157.2L254.6 153.7L249.8 154.3Z" fill="#00f9b8" stroke="#00e8ab"/><path d="M290.4 135.2L295.2 135.1L299.3 131.1L294.5 131.2Z" fill="#a4fa00" stroke="#98e800"/><path d="M335.1 117.1L339.9 119.4L344.0 115.9L339.2 113.7Z" fill="#fed900" stroke="#ecca00"/><path d="M210.1 169.6L214.9 169.6L219.0 167.2L214.2 167.3Z" fill="#0320f3" stroke="#031ee2"/><path d="M219.0 167.2L223.8 167.0L227.9 164.5L223.1 164.7Z" fill="#0049f8" stroke="#0044e7"/><path d="M227.9 164.5L232.7 164.1L236.8 161.3L232.0 161.6Z" fill="#009dff" stroke="#0092ed"/><path d="M236.8 161.3L241.6 160.9L245.7 157.8L240.9 158.2Z" fill="#00e8f8" stroke="#00d8e7"/><path d="M254.6 153.7L259.4 152.9L263.5 149.1L258.7 149.9Z" fill="#01f561" stroke="#01e45a"/><path d="M263.5 149.1L268.4 148.3L272.5 144.2L267.6 145.0Z" fill="#1df021" stroke="#1bdf1f"/><path d="M272.5 144.2L277.3 143.6L281.4 139.5L276.6 140.1Z" fill="#47f315" stroke="#42e213"/><path d="M281.4 139.5L286.3 139.2L290.4 135.2L285.5 135.5Z" fill="#73f70a" stroke="#6be50a"/><path d="M299.3 131.1L304.1 131.1L308.3 127.0L303.4 127.0Z" fill="#cafa00" stroke="#bce800"/><path d="M308.3 127.0L313.1 127.2L317.2 123.1L312.4 122.9Z" fill="#eafa00" stroke="#dae800"/><path d="M317.2 123.1L322.1 123.7L326.2 119.7L321.3 119.1Z" fill="#faf700" stroke="#e9e600"/><path d="M326.2 119.7L331.0 120.9L335.1 117.1L330.3 116.0Z" fill="#fcec00" stroke="#eadc00"/><path d="M344.0 115.9L348.8 119.1L352.8 115.9L348.1 112.8Z" fill="#ffc200" stroke="#edb400"/><path d="M352.8 115.9L357.6 119.4L361.7 116.5L356.9 112.9Z" fill="#ffc000" stroke="#edb200"/><path d="M361.7 116.5L366.4 119.8L370.5 117.0L365.7 113.6Z" fill="#ffa500" stroke="#ed9900"/><path d="M370.5 117.0L375.2 119.6L379.3 116.8L374.6 114.2Z" fill="#ff9b00" stroke="#ed9000"/><path d="M241.6 160.9L246.4 160.3L250.5 157.2L245.7 157.8Z" fill="#00f2df" stroke="#00e1cf"/><path d="M250.5 157.2L255.4 156.4L259.4 152.9L254.6 153.7Z" fill="#00f78e" stroke="#00e684"/><path d="M286.3 139.2L291.1 139.1L295.2 135.1L290.4 135.2Z" fill="#82f807" stroke="#79e606"/><path d="M295.2 135.1L300.0 135.1L304.1 131.1L299.3 131.1Z" fill="#b1fa00" stroke="#a5e800"/><path d="M331.0 120.9L335.8 123.1L339.9 119.4L335.1 117.1Z" fill="#fce700" stroke="#ebd700"/><path d="M339.9 119.4L344.7 122.5L348.8 119.1L344.0 115.9Z" fill="#fed800" stroke="#edc900"/><path d="M206.1 171.7L210.9 171.7L214.9 169.6L210.1 169.6Z" fill="#0718f1" stroke="#0617e0"/><path d="M214.9 169.6L219.8 169.4L223.8 167.0L219.0 167.2Z" fill="#0126f4" stroke="#0123e3"/><path d="M223.8 167.0L228.6 166.7L232.7 164.1L227.9 164.5Z" fill="#006bfc" stroke="#0063ea"/><path d="M232.7 164.1L237.5 163.8L241.6 160.9L236.8 161.3Z" fill="#00c1ff" stroke="#00b3ed"/><path d="M259.4 152.9L264.3 152.1L268.4 148.3L263.5 149.1Z" fill="#0ff342" stroke="#0ee23d"/><path d="M268.4 148.3L273.2 147.6L277.3 143.6L272.5 144.2Z" fill="#2ef11a" stroke="#2be018"/><path d="M277.3 143.6L282.2 143.3L286.3 139.2L281.4 139.5Z" fill="#55f411" stroke="#4fe310"/><path d="M304.1 131.1L309.0 131.4L313.1 127.2L308.3 127.0Z" fill="#d6fa00" stroke="#c7e800"/><path d="M313.1 127.2L317.9 127.9L322.1 123.7L317.2 123.1Z" fill="#f2fa00" stroke="#e1e800"/><path d="M322.1 123.7L326.9 125.0L331.0 120.9L326.2 119.7Z" fill="#fbf500" stroke="#e9e400"/><path d="M348.8 119.1L353.5 122.6L357.6 119.4L352.8 115.9Z" fill="#ffd300" stroke="#edc400"/><path d="M357.6 119.4L362.3 122.8L366.4 119.8L361.7 116.5Z" fill="#ffc500" stroke="#edb800"/><path d="M366.4 119.8L371.2 122.4L375.2 119.6L370.5 117.0Z" fill="#ffa900" stroke="#ed9d00"/><path d="M237.5 163.8L242.4 163.2L246.4 160.3L241.6 160.9Z" fill="#00e7fd" stroke="#00d6ec"/><path d="M246.4 160.3L251.3 159.6L255.4 156.4L250.5 157.2Z" fill="#00fac2" stroke="#00e8b5"/><path d="M282.2 143.3L287.0 143.2L291.1 139.1L286.3 139.2Z" fill="#62f50e" stroke="#5be40d"/><path d="M326.9 125.0L331.7 127.2L335.8 123.1L331.0 120.9Z" fill="#fbf200" stroke="#eae100"/><path d="M210.9 171.7L215.7 171.6L219.8 169.4L214.9 169.6Z" fill="#051df2" stroke="#041be1"/><path d="M219.8 169.4L224.6 169.1L228.6 166.7L223.8 167.0Z" fill="#003bf7" stroke="#0037e6"/><path d="M228.6 166.7L233.5 166.4L237.5 163.8L232.7 164.1Z" fill="#0092ff" stroke="#0087ed"/><path d="M255.4 156.4L260.2 155.6L264.3 152.1L259.4 152.9Z" fill="#00f567" stroke="#00e460"/><path d="M264.3 152.1L269.1 151.5L273.2 147.6L268.4 148.3Z" fill="#1af127" stroke="#18e025"/><path d="M273.2 147.6L278.1 147.3L282.2 143.3L277.3 143.6Z" fill="#3bf217" stroke="#37e116"/><path d="M291.1 139.1L295.9 139.2L300.0 135.1L295.2 135.1Z" fill="#93f903" stroke="#89e803"/><path d="M300.0 135.1L304.9 135.4L309.0 131.4L304.1 131.1Z" fill="#befa00" stroke="#b1e800"/><path d="M309.0 131.4L313.8 132.1L317.9 127.9L313.1 127.2Z" fill="#e0fa00" stroke="#d1e800"/><path d="M317.9 127.9L322.8 129.2L326.9 125.0L322.1 123.7Z" fill="#f7fa00" stroke="#e6e800"/><path d="M335.8 123.1L340.6 126.3L344.7 122.5L339.9 119.4Z" fill="#fde400" stroke="#ebd400"/><path d="M344.7 122.5L349.4 126.0L353.5 122.6L348.8 119.1Z" fill="#fedb00" stroke="#eccc00"/><path d="M353.5 122.6L358.3 125.9L362.3 122.8L357.6 119.4Z" fill="#fed800" stroke="#edc900"/><path d="M362.3 122.8L367.1 125.3L371.2 122.4L366.4 119.8Z" fill="#ffc000" stroke="#edb300"/><path d="M233.5 166.4L238.3 165.9L242.4 163.2L237.5 163.8Z" fill="#00b9ff" stroke="#00aced"/><path d="M242.4 163.2L247.2 162.5L251.3 159.6L246.4 160.3Z" fill="#00f0e3" stroke="#00dfd3"/><path d="M251.3 159.6L256.1 158.8L260.2 155.6L255.4 156.4Z" fill="#00f795" stroke="#00e68a"/><path d="M260.2 155.6L265.0 155.0L269.1 151.5L264.3 152.1Z" fill="#0df346" stroke="#0ce241"/><path d="M278.1 147.3L282.9 147.3L287.0 143.2L282.2 143.3Z" fill="#45f315" stroke="#40e214"/><path d="M287.0 143.2L291.8 143.3L295.9 139.2L291.1 139.1Z" fill="#6ff60b" stroke="#67e50a"/><path d="M295.9 139.2L300.8 139.5L304.9 135.4L300.0 135.1Z" fill="#a3fa00" stroke="#98e800"/><path d="M304.9 135.4L309.7 136.2L313.8 132.1L309.0 131.4Z" fill="#cafa00" stroke="#bce800"/><path d="M322.8 129.2L327.6 131.5L331.7 127.2L326.9 125.0Z" fill="#faf900" stroke="#e9e800"/><path d="M331.7 127.2L336.5 130.4L340.6 126.3L335.8 123.1Z" fill="#fcee00" stroke="#eade00"/><path d="M340.6 126.3L345.3 129.8L349.4 126.0L344.7 122.5Z" fill="#fde300" stroke="#ebd300"/><path d="M349.4 126.0L354.2 129.3L358.3 125.9L353.5 122.6Z" fill="#fede00" stroke="#eccf00"/><path d="M215.7 171.6L220.5 171.3L224.6 169.1L219.8 169.4Z" fill="#0223f4" stroke="#0221e3"/><path d="M224.6 169.1L229.4 168.8L233.5 166.4L228.6 166.7Z" fill="#005ffb" stroke="#0059e9"/><path d="M269.1 151.5L274.0 151.2L278.1 147.3L273.2 147.6Z" fill="#26f11c" stroke="#23e01a"/><path d="M313.8 132.1L318.7 133.4L322.8 129.2L317.9 127.9Z" fill="#e7fa00" stroke="#d7e800"/><path d="M358.3 125.9L363.0 128.4L367.1 125.3L362.3 122.8Z" fill="#ffd700" stroke="#edc800"/><path d="M229.4 168.8L234.2 168.3L238.3 165.9L233.5 166.4Z" fill="#008aff" stroke="#0080ed"/><path d="M238.3 165.9L243.1 165.2L247.2 162.5L242.4 163.2Z" fill="#00e3ff" stroke="#00d3ed"/><path d="M247.2 162.5L252.0 161.7L256.1 158.8L251.3 159.6Z" fill="#00fac8" stroke="#00e8ba"/><path d="M256.1 158.8L260.9 158.2L265.0 155.0L260.2 155.6Z" fill="#00f56a" stroke="#00e462"/><path d="M274.0 151.2L278.8 151.2L282.9 147.3L278.1 147.3Z" fill="#30f11a" stroke="#2de018"/><path d="M282.9 147.3L287.7 147.4L291.8 143.3L287.0 143.2Z" fill="#4ff413" stroke="#49e311"/><path d="M291.8 143.3L296.7 143.7L300.8 139.5L295.9 139.2Z" fill="#7df708" stroke="#74e607"/><path d="M318.7 133.4L323.5 135.7L327.6 131.5L322.8 129.2Z" fill="#ecfa00" stroke="#dbe800"/><path d="M327.6 131.5L332.3 134.6L336.5 130.4L331.7 127.2Z" fill="#faf700" stroke="#e9e600"/><path d="M336.5 130.4L341.2 133.9L345.3 129.8L340.6 126.3Z" fill="#fced00" stroke="#eadc00"/><path d="M220.5 171.3L225.3 171.0L229.4 168.8L224.6 169.1Z" fill="#0032f6" stroke="#002ee5"/><path d="M265.0 155.0L269.9 154.7L274.0 151.2L269.1 151.5Z" fill="#18f12c" stroke="#16e029"/><path d="M300.8 139.5L305.6 140.3L309.7 136.2L304.9 135.4Z" fill="#aefa00" stroke="#a2e800"/><path d="M309.7 136.2L314.6 137.6L318.7 133.4L313.8 132.1Z" fill="#d3fa00" stroke="#c4e800"/><path d="M345.3 129.8L350.1 133.1L354.2 129.3L349.4 126.0Z" fill="#fde400" stroke="#ebd400"/><path d="M354.2 129.3L359.0 131.8L363.0 128.4L358.3 125.9Z" fill="#fde000" stroke="#ecd000"/><path d="M225.3 171.0L230.1 170.5L234.2 168.3L229.4 168.8Z" fill="#0058fa" stroke="#0052e8"/><path d="M234.2 168.3L239.0 167.6L243.1 165.2L238.3 165.9Z" fill="#00b4ff" stroke="#00a7ed"/><path d="M243.1 165.2L247.9 164.4L252.0 161.7L247.2 162.5Z" fill="#00efe5" stroke="#00dfd5"/><path d="M252.0 161.7L256.9 161.1L260.9 158.2L256.1 158.8Z" fill="#00f898" stroke="#00e68d"/><path d="M260.9 158.2L265.8 157.9L269.9 154.7L265.0 155.0Z" fill="#0cf348" stroke="#0be243"/><path d="M269.9 154.7L274.7 154.7L278.8 151.2L274.0 151.2Z" fill="#1ff01e" stroke="#1cdf1c"/><path d="M278.8 151.2L283.6 151.3L287.7 147.4L282.9 147.3Z" fill="#36f219" stroke="#32e117"/><path d="M287.7 147.4L292.6 147.8L296.7 143.7L291.8 143.3Z" fill="#5af510" stroke="#53e30f"/><path d="M296.7 143.7L301.5 144.5L305.6 140.3L300.8 139.5Z" fill="#8bf805" stroke="#81e705"/><path d="M305.6 140.3L310.5 141.7L314.6 137.6L309.7 136.2Z" fill="#b8fa00" stroke="#abe800"/><path d="M314.6 137.6L319.4 139.9L323.5 135.7L318.7 133.4Z" fill="#d7fa00" stroke="#c8e800"/><path d="M323.5 135.7L328.2 138.9L332.3 134.6L327.6 131.5Z" fill="#effa00" stroke="#dee800"/><path d="M332.3 134.6L337.1 138.2L341.2 133.9L336.5 130.4Z" fill="#fbf600" stroke="#e9e500"/><path d="M341.2 133.9L346.0 137.2L350.1 133.1L345.3 129.8Z" fill="#fced00" stroke="#eadc00"/><path d="M350.1 133.1L354.9 135.7L359.0 131.8L354.2 129.3Z" fill="#fde700" stroke="#ebd600"/><path d="M265.8 157.9L270.6 158.0L274.7 154.7L269.9 154.7Z" fill="#16f130" stroke="#15e02d"/><path d="M274.7 154.7L279.6 154.9L283.6 151.3L278.8 151.2Z" fill="#26f11c" stroke="#24e01a"/><path d="M310.5 141.7L315.3 144.1L319.4 139.9L314.6 137.6Z" fill="#bcfa00" stroke="#afe800"/><path d="M319.4 139.9L324.1 143.1L328.2 138.9L323.5 135.7Z" fill="#d7fa00" stroke="#c7e800"/><path d="M230.1 170.5L235.0 169.8L239.0 167.6L234.2 168.3Z" fill="#0085fe" stroke="#007bec"/><path d="M239.0 167.6L243.9 166.9L247.9 164.4L243.1 165.2Z" fill="#00e0ff" stroke="#00d0ed"/><path d="M247.9 164.4L252.8 163.8L256.9 161.1L252.0 161.7Z" fill="#00f9ca" stroke="#00e8bb"/><path d="M256.9 161.1L261.7 160.9L265.8 157.9L260.9 158.2Z" fill="#00f56b" stroke="#00e463"/><path d="M283.6 151.3L288.5 151.7L292.6 147.8L287.7 147.4Z" fill="#3df217" stroke="#38e115"/><path d="M292.6 147.8L297.4 148.6L301.5 144.5L296.7 143.7Z" fill="#63f50e" stroke="#5ce40d"/><path d="M301.5 144.5L306.3 145.9L310.5 141.7L305.6 140.3Z" fill="#96f902" stroke="#8be802"/><path d="M328.2 138.9L333.0 142.5L337.1 138.2L332.3 134.6Z" fill="#edfa00" stroke="#dde800"/><path d="M337.1 138.2L341.9 141.5L346.0 137.2L341.2 133.9Z" fill="#faf700" stroke="#e9e600"/><path d="M346.0 137.2L350.8 139.8L354.9 135.7L350.1 133.1Z" fill="#fbef00" stroke="#eade00"/><path d="M261.7 160.9L266.6 161.0L270.6 158.0L265.8 157.9Z" fill="#0cf349" stroke="#0be244"/><path d="M270.6 158.0L275.5 158.2L279.6 154.9L274.7 154.7Z" fill="#1cf023" stroke="#1ae021"/><path d="M306.3 145.9L311.2 148.3L315.3 144.1L310.5 141.7Z" fill="#9afa01" stroke="#90e801"/><path d="M235.0 169.8L239.8 169.1L243.9 166.9L239.0 167.6Z" fill="#00b1ff" stroke="#00a5ed"/><path d="M243.9 166.9L248.7 166.3L252.8 163.8L247.9 164.4Z" fill="#00efe7" stroke="#00ded7"/><path d="M252.8 163.8L257.6 163.6L261.7 160.9L256.9 161.1Z" fill="#00f89a" stroke="#00e68f"/><path d="M279.6 154.9L284.4 155.4L288.5 151.7L283.6 151.3Z" fill="#2af11b" stroke="#27e019"/><path d="M288.5 151.7L293.3 152.6L297.4 148.6L292.6 147.8Z" fill="#44f315" stroke="#3fe214"/><path d="M297.4 148.6L302.2 150.1L306.3 145.9L301.5 144.5Z" fill="#6bf60c" stroke="#63e50b"/><path d="M315.3 144.1L320.0 147.3L324.1 143.1L319.4 139.9Z" fill="#b9fa00" stroke="#ace800"/><path d="M324.1 143.1L328.9 146.7L333.0 142.5L328.2 138.9Z" fill="#d1fa00" stroke="#c3e800"/><path d="M333.0 142.5L337.8 145.9L341.9 141.5L337.1 138.2Z" fill="#e6fa00" stroke="#d6e800"/><path d="M341.9 141.5L346.6 144.1L350.8 139.8L346.0 137.2Z" fill="#fafa00" stroke="#e9e800"/><path d="M257.6 163.6L262.5 163.7L266.6 161.0L261.7 160.9Z" fill="#00f56a" stroke="#00e463"/><path d="M266.6 161.0L271.4 161.2L275.5 158.2L270.6 158.0Z" fill="#15f233" stroke="#13e130"/><path d="M275.5 158.2L280.3 158.7L284.4 155.4L279.6 154.9Z" fill="#1ef01f" stroke="#1cdf1c"/><path d="M284.4 155.4L289.2 156.3L293.3 152.6L288.5 151.7Z" fill="#2ef11a" stroke="#2ae019"/><path d="M302.2 150.1L307.1 152.4L311.2 148.3L306.3 145.9Z" fill="#6ef60c" stroke="#66e50b"/><path d="M311.2 148.3L315.9 151.5L320.0 147.3L315.3 144.1Z" fill="#95f903" stroke="#8be802"/><path d="M320.0 147.3L324.8 150.9L328.9 146.7L324.1 143.1Z" fill="#b1fa00" stroke="#a5e800"/><path d="M328.9 146.7L333.7 150.1L337.8 145.9L333.0 142.5Z" fill="#c9fa00" stroke="#bbe800"/><path d="M239.8 169.1L244.6 168.5L248.7 166.3L243.9 166.9Z" fill="#00deff" stroke="#00ceed"/><path d="M248.7 166.3L253.6 166.1L257.6 163.6L252.8 163.8Z" fill="#00f9cb" stroke="#00e7bd"/><path d="M293.3 152.6L298.2 154.0L302.2 150.1L297.4 148.6Z" fill="#49f314" stroke="#43e213"/><path d="M337.8 145.9L342.5 148.5L346.6 144.1L341.9 141.5Z" fill="#dffa00" stroke="#d0e800"/><path d="M253.6 166.1L258.4 166.2L262.5 163.7L257.6 163.6Z" fill="#00f89b" stroke="#00e690"/><path d="M262.5 163.7L267.3 164.0L271.4 161.2L266.6 161.0Z" fill="#0bf34a" stroke="#0ae245"/><path d="M271.4 161.2L276.2 161.7L280.3 158.7L275.5 158.2Z" fill="#19f12a" stroke="#17e027"/><path d="M280.3 158.7L285.2 159.6L289.2 156.3L284.4 155.4Z" fill="#1ef01e" stroke="#1cdf1c"/><path d="M298.2 154.0L303.0 156.4L307.1 152.4L302.2 150.1Z" fill="#49f314" stroke="#44e213"/><path d="M307.1 152.4L311.8 155.6L315.9 151.5L311.2 148.3Z" fill="#68f60d" stroke="#61e40c"/><path d="M315.9 151.5L320.7 155.1L324.8 150.9L320.0 147.3Z" fill="#88f805" stroke="#7fe705"/><path d="M244.6 168.5L249.5 168.3L253.6 166.1L248.7 166.3Z" fill="#00eee8" stroke="#00ded8"/><path d="M289.2 156.3L294.1 157.7L298.2 154.0L293.3 152.6Z" fill="#31f11a" stroke="#2de118"/><path d="M324.8 150.9L329.6 154.2L333.7 150.1L328.9 146.7Z" fill="#a8fa00" stroke="#9ce800"/><path d="M333.7 150.1L338.4 152.7L342.5 148.5L337.8 145.9Z" fill="#c1fa00" stroke="#b3e800"/><path d="M249.5 168.3L254.3 168.5L258.4 166.2L253.6 166.1Z" fill="#00f8cd" stroke="#00e7be"/><path d="M258.4 166.2L263.3 166.5L267.3 164.0L262.5 163.7Z" fill="#00f56b" stroke="#00e464"/><path d="M267.3 164.0L272.2 164.6L276.2 161.7L271.4 161.2Z" fill="#13f238" stroke="#11e135"/><path d="M276.2 161.7L281.1 162.7L285.2 159.6L280.3 158.7Z" fill="#1af128" stroke="#18e025"/><path d="M285.2 159.6L290.0 161.1L294.1 157.7L289.2 156.3Z" fill="#1ef01e" stroke="#1cdf1c"/><path d="M294.1 157.7L298.9 160.1L303.0 156.4L298.2 154.0Z" fill="#30f11a" stroke="#2ce018"/><path d="M303.0 156.4L307.7 159.6L311.8 155.6L307.1 152.4Z" fill="#42f316" stroke="#3ee214"/><path d="M311.8 155.6L316.6 159.2L320.7 155.1L315.9 151.5Z" fill="#5af510" stroke="#53e30f"/><path d="M320.7 155.1L325.5 158.4L329.6 154.2L324.8 150.9Z" fill="#7af709" stroke="#72e608"/><path d="M329.6 154.2L334.3 156.9L338.4 152.7L333.7 150.1Z" fill="#a0fa00" stroke="#95e800"/><path d="M290.0 161.1L294.8 163.4L298.9 160.1L294.1 157.7Z" fill="#1df021" stroke="#1bdf1f"/><path d="M298.9 160.1L303.7 163.3L307.7 159.6L303.0 156.4Z" fill="#26f11c" stroke="#23e01a"/><path d="M254.3 168.5L259.2 168.8L263.3 166.5L258.4 166.2Z" fill="#00f89d" stroke="#00e792"/><path d="M263.3 166.5L268.1 167.1L272.2 164.6L267.3 164.0Z" fill="#09f34e" stroke="#09e248"/><path d="M272.2 164.6L277.0 165.6L281.1 162.7L276.2 161.7Z" fill="#15f133" stroke="#14e12f"/><path d="M281.1 162.7L285.9 164.2L290.0 161.1L285.2 159.6Z" fill="#19f12b" stroke="#17e028"/><path d="M307.7 159.6L312.5 163.2L316.6 159.2L311.8 155.6Z" fill="#31f11a" stroke="#2ee118"/><path d="M316.6 159.2L321.4 162.6L325.5 158.4L320.7 155.1Z" fill="#4af314" stroke="#45e212"/><path d="M325.5 158.4L330.2 161.1L334.3 156.9L329.6 154.2Z" fill="#6ff60b" stroke="#68e50a"/><path d="M285.9 164.2L290.7 166.6L294.8 163.4L290.0 161.1Z" fill="#16f131" stroke="#14e02e"/><path d="M294.8 163.4L299.6 166.7L303.7 163.3L298.9 160.1Z" fill="#18f12b" stroke="#17e028"/><path d="M259.2 168.8L264.0 169.5L268.1 167.1L263.3 166.5Z" fill="#00f66f" stroke="#00e467"/><path d="M268.1 167.1L272.9 168.2L277.0 165.6L272.2 164.6Z" fill="#0ff342" stroke="#0ee23d"/><path d="M277.0 165.6L281.8 167.1L285.9 164.2L281.1 162.7Z" fill="#14f235" stroke="#13e132"/><path d="M303.7 163.3L308.4 166.8L312.5 163.2L307.7 159.6Z" fill="#19f129" stroke="#18e026"/><path d="M312.5 163.2L317.3 166.5L321.4 162.6L316.6 159.2Z" fill="#1ef01e" stroke="#1cdf1c"/><path d="M321.4 162.6L326.1 165.2L330.2 161.1L325.5 158.4Z" fill="#3ff316" stroke="#3ae215"/><path d="M281.8 167.1L286.7 169.5L290.7 166.6L285.9 164.2Z" fill="#10f23f" stroke="#0fe13b"/><path d="M290.7 166.6L295.5 169.8L299.6 166.7L294.8 163.4Z" fill="#10f240" stroke="#0fe13b"/><path d="M299.6 166.7L304.3 170.2L308.4 166.8L303.7 163.3Z" fill="#10f240" stroke="#0fe13b"/><path d="M308.4 166.8L313.2 170.2L317.3 166.5L312.5 163.2Z" fill="#11f23d" stroke="#10e138"/><path d="M264.0 169.5L268.9 170.5L272.9 168.2L268.1 167.1Z" fill="#05f458" stroke="#05e352"/><path d="M272.9 168.2L277.8 169.7L281.8 167.1L277.0 165.6Z" fill="#0ff342" stroke="#0ee23d"/><path d="M317.3 166.5L322.0 169.2L326.1 165.2L321.4 162.6Z" fill="#19f129" stroke="#17e026"/><path d="M277.8 169.7L282.6 172.1L286.7 169.5L281.8 167.1Z" fill="#0bf34b" stroke="#0ae246"/><path d="M286.7 169.5L291.4 172.7L295.5 169.8L290.7 166.6Z" fill="#08f452" stroke="#07e34c"/><path d="M295.5 169.8L300.3 173.3L304.3 170.2L299.6 166.7Z" fill="#06f456" stroke="#05e350"/><path d="M304.3 170.2L309.1 173.5L313.2 170.2L308.4 166.8Z" fill="#06f457" stroke="#05e351"/><path d="M268.9 170.5L273.7 172.1L277.8 169.7L272.9 168.2Z" fill="#07f453" stroke="#07e34d"/><path d="M313.2 170.2L318.0 172.8L322.0 169.2L317.3 166.5Z" fill="#0af34c" stroke="#0ae246"/><path d="M273.7 172.1L278.5 174.5L282.6 172.1L277.8 169.7Z" fill="#04f45a" stroke="#04e354"/><path d="M282.6 172.1L287.4 175.4L291.4 172.7L286.7 169.5Z" fill="#01f561" stroke="#01e45a"/><path d="M291.4 172.7L296.2 176.3L300.3 173.3L295.5 169.8Z" fill="#00f66f" stroke="#00e467"/><path d="M300.3 173.3L305.0 176.7L309.1 173.5L304.3 170.2Z" fill="#00f672" stroke="#00e46a"/><path d="M309.1 173.5L313.9 176.2L318.0 172.8L313.2 170.2Z" fill="#00f56b" stroke="#00e463"/><path d="M278.5 174.5L283.3 177.7L287.4 175.4L282.6 172.1Z" fill="#00f672" stroke="#00e56a"/><path d="M287.4 175.4L292.2 178.9L296.2 176.3L291.4 172.7Z" fill="#00f786" stroke="#00e57d"/><path d="M296.2 176.3L301.0 179.6L305.0 176.7L300.3 173.3Z" fill="#00f792" stroke="#00e688"/><path d="M305.0 176.7L309.8 179.3L313.9 176.2L309.1 173.5Z" fill="#00f78b" stroke="#00e681"/><path d="M283.3 177.7L288.1 181.2L292.2 178.9L287.4 175.4Z" fill="#00f89a" stroke="#00e68f"/><path d="M292.2 178.9L296.9 182.2L301.0 179.6L296.2 176.3Z" fill="#00f9b3" stroke="#00e8a6"/><path d="M301.0 179.6L305.8 182.3L309.8 179.3L305.0 176.7Z" fill="#00f9ad" stroke="#00e7a0"/><path d="M288.1 181.2L292.9 184.6L296.9 182.2L292.2 178.9Z" fill="#00fac9" stroke="#00e8bb"/><path d="M296.9 182.2L301.7 184.9L305.8 182.3L301.0 179.6Z" fill="#00f8ce" stroke="#00e7bf"/><path d="M292.9 184.6L297.7 187.2L301.7 184.9L296.9 182.2Z" fill="#00f2df" stroke="#00e1d0"/></g><g fill="none" stroke="#3a3a3a" stroke-opacity="0.2" stroke-width="0.7"><polyline points="267.8,170.3 266.5,169.3 264.7,167.4 264.6,167.2 263.7,165.1 263.6,164.7 263.0,162.8 262.9,162.3 262.4,160.4 262.2,160.0 261.7,158.1 261.6,157.7 261.0,156.0 260.8,155.5 260.1,154.0 259.7,153.4 259.0,152.1 258.1,151.0 257.4,150.4 255.3,149.0 254.5,148.6 253.0,147.7 250.7,146.4 250.0,145.9 248.8,144.6 246.9,143.0 246.8,142.9 245.0,141.0 243.4,139.8 242.8,139.2 240.6,137.3 239.0,136.2 238.2,135.5 235.7,133.6 232.9,132.0 232.6,131.9 230.0,130.3 226.9,128.9 223.6,127.3 220.5,125.7 220.4,125.6 217.3,123.9 213.9,122.3 210.6,120.7 207.4,119.3 205.6,118.6 204.3,118.0 201.1,116.6 198.0,115.4 195.0,114.3 194.2,114.0 192.4,113.2 190.0,112.3 189.1,112.1 188.1,111.8 187.0,111.5 186.8,111.5 185.8,111.2 185.7,111.2 184.8,110.9 184.3,110.7 183.4,110.5 181.2,109.9 181.2,109.9"/><polyline points="317.6,173.1 312.1,172.3 308.4,172.0 305.3,171.9 301.0,171.8 297.5,171.8 294.3,171.9 288.6,172.6 288.2,172.7 283.0,173.3 278.7,173.4 276.0,173.2"/><polyline points="339.6,151.5 335.0,150.1 332.3,149.1 330.1,148.3 325.1,146.3 320.3,144.3 315.8,142.3 311.9,140.2 308.7,138.2 305.9,136.3 304.7,135.5 303.3,134.4 301.0,132.6 299.9,131.8 298.8,130.8 296.7,129.0 296.2,128.6 294.8,127.3 293.5,126.0 293.1,125.6 291.6,124.0 291.3,123.7 290.1,122.4 289.4,121.7 288.7,120.9 287.6,119.6 287.3,119.3 285.9,117.7 285.8,117.6 284.6,116.1 284.1,115.6 283.3,114.5 282.5,113.5 282.0,112.9 280.9,111.4 280.8,111.1 279.4,109.3 279.1,109.0 277.8,107.5 276.7,106.3 276.0,105.7 273.8,104.0 271.7,103.0 271.0,102.7 268.2,102.5 266.5,102.4 261.5,102.4 257.4,101.7 253.4,100.8 249.8,99.5 246.9,98.0 246.8,97.9 244.4,96.1 242.6,94.3 242.4,94.2 240.6,92.4 239.4,91.3 238.7,90.6 236.6,88.9 235.8,88.4 234.4,87.6 232.2,86.6 231.7,86.3 230.3,85.8 229.4,85.4 229.1,85.3 228.6,85.1 228.5,85.1 228.4,85.0 228.4,85.0 228.2,84.9 228.1,84.9 227.5,84.6 227.3,84.6 225.6,83.9"/><polyline points="367.7,124.9 363.9,122.7 360.6,119.6 355.1,117.8 352.4,117.7 348.3,117.1 343.4,115.4 339.7,113.4 336.7,111.5 335.4,110.2 334.5,109.5 332.9,107.5 332.7,107.3 331.6,105.6 331.2,105.0 330.6,103.7 330.1,102.8 329.7,101.8 329.2,100.8 328.9,100.0 328.4,99.1 328.1,98.6 327.6,97.7 327.3,97.2 326.8,96.4 326.6,96.0 326.1,95.2 325.9,94.8 325.3,93.7 325.2,93.4 324.4,92.2 324.3,91.9 323.5,90.7 323.5,90.5 322.6,89.2 322.6,89.2 321.5,87.9 321.2,87.6 320.2,86.6 319.2,85.7 318.5,85.1 316.2,83.9 314.2,83.0 313.4,82.7 310.1,81.7 306.5,80.9 302.7,80.1 298.9,79.4 295.3,78.4 291.8,77.2 288.6,75.8 287.9,75.5 285.4,74.3 282.3,72.8 279.2,71.5 275.9,70.4 272.4,69.4 271.7,69.3 268.8,68.7 265.2,68.0 261.9,67.5 258.9,67.1 257.1,66.8 256.5,66.7 254.7,66.5 254.1,66.4 253.2,66.3 251.8,66.0 251.6,66.0 249.7,65.7 247.5,65.2 247.2,65.1"/><polyline points="399.5,103.7 394.5,104.9 389.5,106.3 387.9,106.6 384.3,107.2 378.5,107.3 377.9,107.3 371.2,107.0 370.5,106.9 364.0,105.7 362.6,105.5 357.7,104.8 352.3,104.2 352.1,104.2 347.6,103.5 345.2,102.7 344.3,102.4 342.4,100.8 341.8,100.1 341.0,99.1 340.3,98.0 340.0,97.4 339.5,96.1 339.2,95.6 338.9,94.4 338.7,93.8 338.5,92.8 338.3,92.2 338.1,91.4 338.0,90.7 337.8,90.0 337.6,89.3 337.4,88.6 337.2,87.8 337.1,87.2 336.9,86.2 336.7,85.7 336.5,84.5 336.3,84.1 336.0,82.7 335.7,82.2 335.2,80.8 334.8,80.0 334.2,78.7 333.1,77.3 332.7,76.6 330.8,74.7 329.9,74.0 328.6,72.8 325.9,71.2 322.9,69.8 322.4,69.6 319.8,68.3 316.3,67.3 312.5,66.5 308.6,65.9 304.6,65.2 300.5,64.5 296.3,64.0 292.3,63.3 288.8,62.3 285.5,61.2 282.0,60.2 278.6,59.1 276.9,58.7 275.4,58.2 272.4,57.3 269.7,56.6 268.4,56.4 267.6,56.0 266.0,55.6 265.8,55.6 264.7,55.2 264.1,55.0 263.4,54.6 261.7,54.1 261.6,54.0 259.7,52.9"/></g><line x1="112.0" y1="276.0" x2="99.5" y2="40.0" stroke="#222" stroke-width="1.3"/><line x1="112.0" y1="276.5" x2="107.0" y2="277.5" stroke="#222" stroke-width="1.1"/><line x1="111.1" y1="259.1" x2="108.1" y2="259.7" stroke="#222" stroke-width="1.1"/><line x1="110.2" y1="241.8" x2="105.2" y2="242.8" stroke="#222" stroke-width="1.1"/><line x1="109.3" y1="224.4" x2="106.3" y2="225.0" stroke="#222" stroke-width="1.1"/><line x1="108.3" y1="207.1" x2="103.3" y2="208.1" stroke="#222" stroke-width="1.1"/><line x1="107.4" y1="189.7" x2="104.4" y2="190.3" stroke="#222" stroke-width="1.1"/><line x1="106.5" y1="172.4" x2="101.5" y2="173.4" stroke="#222" stroke-width="1.1"/><line x1="105.6" y1="155.0" x2="102.6" y2="155.6" stroke="#222" stroke-width="1.1"/><line x1="104.7" y1="137.6" x2="99.7" y2="138.6" stroke="#222" stroke-width="1.1"/><line x1="103.8" y1="120.3" x2="100.8" y2="120.9" stroke="#222" stroke-width="1.1"/><line x1="102.8" y1="102.9" x2="97.8" y2="103.9" stroke="#222" stroke-width="1.1"/><line x1="101.9" y1="85.6" x2="98.9" y2="86.2" stroke="#222" stroke-width="1.1"/><line x1="101.0" y1="68.2" x2="96.0" y2="69.2" stroke="#222" stroke-width="1.1"/><text transform="translate(106.7,281.0) rotate(-17) skewX(-6) scale(0.85,1)" text-anchor="end" font-size="16.5">1056,4</text><text transform="translate(104.9,246.2) rotate(-17) skewX(-6) scale(0.85,1)" text-anchor="end" font-size="16.5">1056,6</text><text transform="translate(103.0,211.4) rotate(-17) skewX(-6) scale(0.85,1)" text-anchor="end" font-size="16.5">1056,8</text><text transform="translate(101.2,176.6) rotate(-17) skewX(-6) scale(0.85,1)" text-anchor="end" font-size="16.5">1057,0</text><text transform="translate(99.4,141.8) rotate(-17) skewX(-6) scale(0.85,1)" text-anchor="end" font-size="16.5">1057,2</text><text transform="translate(97.5,107.0) rotate(-17) skewX(-6) scale(0.85,1)" text-anchor="end" font-size="16.5">1057,4</text><text transform="translate(95.7,72.2) rotate(-17) skewX(-6) scale(0.85,1)" text-anchor="end" font-size="16.5">1057,6</text><text transform="translate(48.5,181) rotate(-88.5)" text-anchor="middle" font-size="19">Wavelength (nm)</text><line x1="112.1" y1="278.4" x2="293.0" y2="356.9" stroke="#222" stroke-width="1.3"/><line x1="131.3" y1="286.7" x2="127.3" y2="288.9" stroke="#222" stroke-width="1.1"/><line x1="163.0" y1="300.4" x2="159.0" y2="302.6" stroke="#222" stroke-width="1.1"/><line x1="194.6" y1="314.2" x2="190.6" y2="316.4" stroke="#222" stroke-width="1.1"/><line x1="226.3" y1="327.9" x2="222.3" y2="330.1" stroke="#222" stroke-width="1.1"/><line x1="257.9" y1="341.6" x2="253.9" y2="343.8" stroke="#222" stroke-width="1.1"/><line x1="289.6" y1="355.4" x2="285.6" y2="357.6" stroke="#222" stroke-width="1.1"/><text transform="translate(118.5,293) rotate(-28) skewX(10)" text-anchor="middle" dominant-baseline="central" font-size="15.5">50</text><text transform="translate(143.8,311.5) rotate(-28) skewX(10)" text-anchor="middle" dominant-baseline="central" font-size="15.5">100</text><text transform="translate(173.8,325.4) rotate(-28) skewX(10)" text-anchor="middle" dominant-baseline="central" font-size="15.5">150</text><text transform="translate(203.8,339.2) rotate(-28) skewX(10)" text-anchor="middle" dominant-baseline="central" font-size="15.5">200</text><text transform="translate(238.4,353) rotate(-28) skewX(10)" text-anchor="middle" dominant-baseline="central" font-size="15.5">250</text><text transform="translate(273,367) rotate(-28) skewX(10)" text-anchor="middle" dominant-baseline="central" font-size="15.5">300</text><text transform="translate(149.5,341) rotate(24.5) skewX(-14)" text-anchor="middle" dominant-baseline="central" font-size="16" font-style="italic">Spatial X-Axis (&#956;m)</text><line x1="293.0" y1="356.9" x2="453.3" y2="271.2" stroke="#222" stroke-width="1.3"/><line x1="325.1" y1="339.7" x2="329.1" y2="341.5" stroke="#222" stroke-width="1.1"/><line x1="350.4" y1="326.2" x2="354.4" y2="328.0" stroke="#222" stroke-width="1.1"/><line x1="375.7" y1="312.6" x2="379.7" y2="314.4" stroke="#222" stroke-width="1.1"/><line x1="401.1" y1="299.1" x2="405.1" y2="300.9" stroke="#222" stroke-width="1.1"/><line x1="426.4" y1="285.6" x2="430.4" y2="287.4" stroke="#222" stroke-width="1.1"/><line x1="451.7" y1="272.0" x2="455.7" y2="273.8" stroke="#222" stroke-width="1.1"/><text transform="translate(340.4,347.7) rotate(20) skewX(-30)" text-anchor="middle" dominant-baseline="central" font-size="16.5">50</text><text transform="translate(373.8,333.8) rotate(20) skewX(-30)" text-anchor="middle" dominant-baseline="central" font-size="16.5">100</text><text transform="translate(397.7,319.2) rotate(20) skewX(-30)" text-anchor="middle" dominant-baseline="central" font-size="16.5">150</text><text transform="translate(420.8,303.8) rotate(20) skewX(-30)" text-anchor="middle" dominant-baseline="central" font-size="16.5">200</text><text transform="translate(447,289) rotate(20) skewX(-30)" text-anchor="middle" dominant-baseline="central" font-size="16.5">250</text><text transform="translate(472,275.5) rotate(20) skewX(-30)" text-anchor="middle" dominant-baseline="central" font-size="16.5">300</text><text transform="translate(431.5,328.5) rotate(-31.5)" text-anchor="middle" dominant-baseline="central" font-size="16.3">Spatial Y-Axis (&#956;m)</text><g font-weight="bold" font-size="11.8"><text x="107.5" y="50.2">Polynomial Fit of</text><text x="107.5" y="64.5">unprocessed</text><text x="107.5" y="79.3">Sample Region</text><text x="354" y="156">Polynomial Fit of</text><text x="354" y="171">HE11 Mode of the</text><text x="354" y="185.6">fabricated Array</text></g><text x="110.5" y="97.5" font-size="14.6"><tspan font-family="Liberation Serif, serif" font-size="16">&#916;&#955; = </tspan><tspan font-weight="bold">0,706nm</tspan></text><text x="353.5" y="203.7" font-size="14" font-weight="bold"><tspan font-family="Liberation Serif, serif" font-weight="normal">&#916;&#955;</tspan>=0,254nm</text></g>
<g id="pb">
<rect x="199.04" y="707.22" width="12.78" height="1.78" fill="url(#hk)" stroke="#1a1a1a" stroke-width="1"/>
<rect x="211.82" y="703.66" width="12.78" height="5.34" fill="url(#hk)" stroke="#1a1a1a" stroke-width="1"/>
<rect x="224.60" y="673.40" width="12.78" height="35.60" fill="url(#hk)" stroke="#1a1a1a" stroke-width="1"/>
<rect x="237.38" y="602.20" width="12.78" height="106.80" fill="url(#hk)" stroke="#1a1a1a" stroke-width="1"/>
<rect x="250.16" y="488.28" width="12.78" height="220.72" fill="url(#hk)" stroke="#1a1a1a" stroke-width="1"/>
<rect x="262.94" y="509.64" width="12.78" height="199.36" fill="url(#hk)" stroke="#1a1a1a" stroke-width="1"/>
<rect x="275.72" y="433.10" width="12.78" height="275.90" fill="url(#hk)" stroke="#1a1a1a" stroke-width="1"/>
<rect x="288.50" y="495.40" width="12.78" height="213.60" fill="url(#hk)" stroke="#1a1a1a" stroke-width="1"/>
<rect x="301.28" y="497.18" width="12.78" height="211.82" fill="url(#hk)" stroke="#1a1a1a" stroke-width="1"/>
<rect x="314.06" y="559.48" width="12.78" height="149.52" fill="url(#hk)" stroke="#1a1a1a" stroke-width="1"/>
<rect x="326.84" y="625.34" width="12.78" height="83.66" fill="url(#hk)" stroke="#1a1a1a" stroke-width="1"/>
<rect x="339.62" y="662.72" width="12.78" height="46.28" fill="url(#hk)" stroke="#1a1a1a" stroke-width="1"/>
<rect x="352.40" y="678.74" width="12.78" height="30.26" fill="url(#hk)" stroke="#1a1a1a" stroke-width="1"/>
<rect x="365.18" y="700.10" width="12.78" height="8.90" fill="url(#hk)" stroke="#1a1a1a" stroke-width="1"/>
<rect x="377.96" y="707.22" width="12.78" height="1.78" fill="url(#hk)" stroke="#1a1a1a" stroke-width="1"/>
<rect x="84.02" y="707.22" width="12.78" height="1.78" fill="url(#hr)" stroke="#e0161d" stroke-width="1"/>
<rect x="109.58" y="705.44" width="12.78" height="3.56" fill="url(#hr)" stroke="#e0161d" stroke-width="1"/>
<rect x="160.70" y="700.10" width="12.78" height="8.90" fill="url(#hr)" stroke="#e0161d" stroke-width="1"/>
<rect x="173.48" y="705.44" width="12.78" height="3.56" fill="url(#hr)" stroke="#e0161d" stroke-width="1"/>
<rect x="186.26" y="696.54" width="12.78" height="12.46" fill="url(#hr)" stroke="#e0161d" stroke-width="1"/>
<rect x="199.04" y="689.42" width="12.78" height="19.58" fill="url(#hr)" stroke="#e0161d" stroke-width="1"/>
<rect x="211.82" y="673.40" width="12.78" height="35.60" fill="url(#hr)" stroke="#e0161d" stroke-width="1"/>
<rect x="224.60" y="652.04" width="12.78" height="56.96" fill="url(#hr)" stroke="#e0161d" stroke-width="1"/>
<rect x="237.38" y="596.86" width="12.78" height="112.14" fill="url(#hr)" stroke="#e0161d" stroke-width="1"/>
<rect x="250.16" y="575.50" width="12.78" height="133.50" fill="url(#hr)" stroke="#e0161d" stroke-width="1"/>
<rect x="262.94" y="531.00" width="12.78" height="178.00" fill="url(#hr)" stroke="#e0161d" stroke-width="1"/>
<rect x="275.72" y="500.74" width="12.78" height="208.26" fill="url(#hr)" stroke="#e0161d" stroke-width="1"/>
<rect x="288.50" y="507.86" width="12.78" height="201.14" fill="url(#hr)" stroke="#e0161d" stroke-width="1"/>
<rect x="301.28" y="509.64" width="12.78" height="199.36" fill="url(#hr)" stroke="#e0161d" stroke-width="1"/>
<rect x="314.06" y="541.68" width="12.78" height="167.32" fill="url(#hr)" stroke="#e0161d" stroke-width="1"/>
<rect x="326.84" y="598.64" width="12.78" height="110.36" fill="url(#hr)" stroke="#e0161d" stroke-width="1"/>
<rect x="339.62" y="634.24" width="12.78" height="74.76" fill="url(#hr)" stroke="#e0161d" stroke-width="1"/>
<rect x="352.40" y="659.16" width="12.78" height="49.84" fill="url(#hr)" stroke="#e0161d" stroke-width="1"/>
<rect x="365.18" y="689.42" width="12.78" height="19.58" fill="url(#hr)" stroke="#e0161d" stroke-width="1"/>
<rect x="377.96" y="705.44" width="12.78" height="3.56" fill="url(#hr)" stroke="#e0161d" stroke-width="1"/>
<rect x="403.52" y="705.44" width="12.78" height="3.56" fill="url(#hr)" stroke="#e0161d" stroke-width="1"/>
<polyline points="58.46,709.00 59.74,709.00 61.02,709.00 62.29,709.00 63.57,709.00 64.85,709.00 66.13,709.00 67.41,709.00 68.68,709.00 69.96,709.00 71.24,709.00 72.52,709.00 73.80,709.00 75.07,709.00 76.35,709.00 77.63,709.00 78.91,709.00 80.19,709.00 81.46,709.00 82.74,709.00 84.02,709.00 85.30,709.00 86.58,709.00 87.85,709.00 89.13,709.00 90.41,709.00 91.69,709.00 92.97,709.00 94.24,709.00 95.52,709.00 96.80,709.00 98.08,709.00 99.36,709.00 100.63,709.00 101.91,709.00 103.19,709.00 104.47,709.00 105.75,709.00 107.02,709.00 108.30,709.00 109.58,709.00 110.86,709.00 112.14,709.00 113.41,709.00 114.69,709.00 115.97,709.00 117.25,709.00 118.53,709.00 119.80,709.00 121.08,709.00 122.36,709.00 123.64,709.00 124.92,709.00 126.19,709.00 127.47,709.00 128.75,709.00 130.03,709.00 131.31,709.00 132.58,709.00 133.86,709.00 135.14,709.00 136.42,709.00 137.70,709.00 138.97,709.00 140.25,709.00 141.53,709.00 142.81,709.00 144.09,708.99 145.36,708.99 146.64,708.99 147.92,708.99 149.20,708.99 150.48,708.99 151.75,708.98 153.03,708.98 154.31,708.98 155.59,708.97 156.87,708.97 158.14,708.96 159.42,708.95 160.70,708.94 161.98,708.93 163.26,708.92 164.53,708.91 165.81,708.89 167.09,708.87 168.37,708.85 169.65,708.83 170.92,708.80 172.20,708.76 173.48,708.72 174.76,708.68 176.04,708.63 177.31,708.57 178.59,708.50 179.87,708.42 181.15,708.33 182.43,708.23 183.70,708.12 184.98,707.99 186.26,707.84 187.54,707.67 188.82,707.48 190.09,707.27 191.37,707.03 192.65,706.76 193.93,706.46 195.21,706.12 196.48,705.75 197.76,705.33 199.04,704.86 200.32,704.34 201.60,703.77 202.87,703.14 204.15,702.44 205.43,701.67 206.71,700.82 207.99,699.89 209.26,698.88 210.54,697.77 211.82,696.55 213.10,695.23 214.38,693.80 215.65,692.25 216.93,690.56 218.21,688.75 219.49,686.79 220.77,684.68 222.04,682.42 223.32,680.00 224.60,677.41 225.88,674.65 227.16,671.71 228.43,668.58 229.71,665.27 230.99,661.77 232.27,658.07 233.55,654.18 234.82,650.09 236.10,645.80 237.38,641.31 238.66,636.63 239.94,631.75 241.21,626.68 242.49,621.44 243.77,616.01 245.05,610.42 246.33,604.66 247.60,598.76 248.88,592.72 250.16,586.55 251.44,580.28 252.72,573.91 253.99,567.47 255.27,560.98 256.55,554.45 257.83,547.90 259.11,541.36 260.38,534.85 261.66,528.39 262.94,522.01 264.22,515.73 265.50,509.58 266.77,503.58 268.05,497.76 269.33,492.14 270.61,486.75 271.89,481.61 273.16,476.75 274.44,472.18 275.72,467.93 277.00,464.02 278.28,460.47 279.55,457.29 280.83,454.51 282.11,452.12 283.39,450.16 284.67,448.62 285.94,447.52 287.22,446.85 288.50,446.63 289.78,446.85 291.06,447.52 292.33,448.62 293.61,450.16 294.89,452.12 296.17,454.51 297.45,457.29 298.72,460.47 300.00,464.02 301.28,467.93 302.56,472.18 303.84,476.75 305.11,481.61 306.39,486.75 307.67,492.14 308.95,497.76 310.23,503.58 311.50,509.58 312.78,515.73 314.06,522.01 315.34,528.39 316.62,534.85 317.89,541.36 319.17,547.90 320.45,554.45 321.73,560.98 323.01,567.47 324.28,573.91 325.56,580.28 326.84,586.55 328.12,592.72 329.40,598.76 330.67,604.66 331.95,610.42 333.23,616.01 334.51,621.44 335.79,626.68 337.06,631.75 338.34,636.63 339.62,641.31 340.90,645.80 342.18,650.09 343.45,654.18 344.73,658.07 346.01,661.77 347.29,665.27 348.57,668.58 349.84,671.71 351.12,674.65 352.40,677.41 353.68,680.00 354.96,682.42 356.23,684.68 357.51,686.79 358.79,688.75 360.07,690.56 361.35,692.25 362.62,693.80 363.90,695.23 365.18,696.55 366.46,697.77 367.74,698.88 369.01,699.89 370.29,700.82 371.57,701.67 372.85,702.44 374.13,703.14 375.40,703.77 376.68,704.34 377.96,704.86 379.24,705.33 380.52,705.75 381.79,706.12 383.07,706.46 384.35,706.76 385.63,707.03 386.91,707.27 388.18,707.48 389.46,707.67 390.74,707.84 392.02,707.99 393.30,708.12 394.57,708.23 395.85,708.33 397.13,708.42 398.41,708.50 399.69,708.57 400.96,708.63 402.24,708.68 403.52,708.72 404.80,708.76 406.08,708.80 407.35,708.83 408.63,708.85 409.91,708.87 411.19,708.89 412.47,708.91 413.74,708.92 415.02,708.93 416.30,708.94 417.58,708.95 418.86,708.96 420.13,708.97 421.41,708.97 422.69,708.98 423.97,708.98 425.25,708.98 426.52,708.99 427.80,708.99 429.08,708.99 430.36,708.99 431.64,708.99 432.91,708.99 434.19,709.00 435.47,709.00 436.75,709.00 438.03,709.00 439.30,709.00 440.58,709.00 441.86,709.00 443.14,709.00 444.42,709.00 445.69,709.00 446.97,709.00 448.25,709.00 449.53,709.00 450.81,709.00 452.08,709.00 453.36,709.00 454.64,709.00 455.92,709.00 457.20,709.00 458.47,709.00 459.75,709.00 461.03,709.00 462.31,709.00 463.59,709.00 464.86,709.00 466.14,709.00 467.42,709.00 468.70,709.00 469.98,709.00 471.25,709.00 472.53,709.00 473.81,709.00 475.09,709.00 476.37,709.00 477.64,709.00 478.92,709.00 480.20,709.00 481.48,709.00 482.76,709.00 484.03,709.00 485.31,709.00 486.59,709.00 487.87,709.00 489.15,709.00 490.42,709.00 491.70,709.00 492.98,709.00 494.26,709.00 495.54,709.00 496.81,709.00 498.09,709.00 499.37,709.00 500.65,709.00 501.93,709.00 503.20,709.00 504.48,709.00 505.76,709.00 507.04,709.00 508.32,709.00 509.59,709.00 510.87,709.00 512.15,709.00 513.43,709.00 514.71,709.00 515.98,709.00 517.26,709.00 518.54,709.00" fill="none" stroke="#111" stroke-width="1.8"/>
<polyline points="58.46,709.00 59.74,709.00 61.02,709.00 62.29,709.00 63.57,709.00 64.85,709.00 66.13,709.00 67.41,709.00 68.68,709.00 69.96,709.00 71.24,709.00 72.52,709.00 73.80,709.00 75.07,709.00 76.35,709.00 77.63,709.00 78.91,709.00 80.19,709.00 81.46,709.00 82.74,709.00 84.02,709.00 85.30,709.00 86.58,709.00 87.85,709.00 89.13,709.00 90.41,709.00 91.69,708.99 92.97,708.99 94.24,708.99 95.52,708.99 96.80,708.99 98.08,708.99 99.36,708.99 100.63,708.99 101.91,708.98 103.19,708.98 104.47,708.98 105.75,708.98 107.02,708.97 108.30,708.97 109.58,708.97 110.86,708.96 112.14,708.96 113.41,708.95 114.69,708.95 115.97,708.94 117.25,708.93 118.53,708.92 119.80,708.91 121.08,708.90 122.36,708.89 123.64,708.88 124.92,708.86 126.19,708.85 127.47,708.83 128.75,708.81 130.03,708.79 131.31,708.76 132.58,708.73 133.86,708.70 135.14,708.67 136.42,708.63 137.70,708.59 138.97,708.55 140.25,708.50 141.53,708.44 142.81,708.38 144.09,708.32 145.36,708.25 146.64,708.17 147.92,708.08 149.20,707.99 150.48,707.88 151.75,707.77 153.03,707.65 154.31,707.52 155.59,707.37 156.87,707.22 158.14,707.04 159.42,706.86 160.70,706.66 161.98,706.44 163.26,706.21 164.53,705.95 165.81,705.68 167.09,705.39 168.37,705.07 169.65,704.73 170.92,704.36 172.20,703.97 173.48,703.54 174.76,703.09 176.04,702.60 177.31,702.09 178.59,701.53 179.87,700.94 181.15,700.31 182.43,699.64 183.70,698.93 184.98,698.17 186.26,697.36 187.54,696.51 188.82,695.60 190.09,694.64 191.37,693.63 192.65,692.56 193.93,691.43 195.21,690.24 196.48,688.99 197.76,687.68 199.04,686.29 200.32,684.84 201.60,683.32 202.87,681.73 204.15,680.07 205.43,678.33 206.71,676.51 207.99,674.62 209.26,672.65 210.54,670.60 211.82,668.48 213.10,666.27 214.38,663.99 215.65,661.62 216.93,659.17 218.21,656.65 219.49,654.04 220.77,651.36 222.04,648.60 223.32,645.76 224.60,642.85 225.88,639.87 227.16,636.81 228.43,633.69 229.71,630.51 230.99,627.26 232.27,623.95 233.55,620.59 234.82,617.18 236.10,613.72 237.38,610.22 238.66,606.68 239.94,603.11 241.21,599.51 242.49,595.89 243.77,592.26 245.05,588.61 246.33,584.96 247.60,581.32 248.88,577.68 250.16,574.07 251.44,570.47 252.72,566.91 253.99,563.38 255.27,559.90 256.55,556.48 257.83,553.11 259.11,549.81 260.38,546.59 261.66,543.45 262.94,540.40 264.22,537.44 265.50,534.59 266.77,531.85 268.05,529.22 269.33,526.72 270.61,524.35 271.89,522.12 273.16,520.03 274.44,518.08 275.72,516.28 277.00,514.65 278.28,513.17 279.55,511.86 280.83,510.71 282.11,509.74 283.39,508.94 284.67,508.31 285.94,507.86 287.22,507.59 288.50,507.50 289.78,507.59 291.06,507.86 292.33,508.31 293.61,508.94 294.89,509.74 296.17,510.71 297.45,511.86 298.72,513.17 300.00,514.65 301.28,516.28 302.56,518.08 303.84,520.03 305.11,522.12 306.39,524.35 307.67,526.72 308.95,529.22 310.23,531.85 311.50,534.59 312.78,537.44 314.06,540.40 315.34,543.45 316.62,546.59 317.89,549.81 319.17,553.11 320.45,556.48 321.73,559.90 323.01,563.38 324.28,566.91 325.56,570.47 326.84,574.07 328.12,577.68 329.40,581.32 330.67,584.96 331.95,588.61 333.23,592.26 334.51,595.89 335.79,599.51 337.06,603.11 338.34,606.68 339.62,610.22 340.90,613.72 342.18,617.18 343.45,620.59 344.73,623.95 346.01,627.26 347.29,630.51 348.57,633.69 349.84,636.81 351.12,639.87 352.40,642.85 353.68,645.76 354.96,648.60 356.23,651.36 357.51,654.04 358.79,656.65 360.07,659.17 361.35,661.62 362.62,663.99 363.90,666.27 365.18,668.48 366.46,670.60 367.74,672.65 369.01,674.62 370.29,676.51 371.57,678.33 372.85,680.07 374.13,681.73 375.40,683.32 376.68,684.84 377.96,686.29 379.24,687.68 380.52,688.99 381.79,690.24 383.07,691.43 384.35,692.56 385.63,693.63 386.91,694.64 388.18,695.60 389.46,696.51 390.74,697.36 392.02,698.17 393.30,698.93 394.57,699.64 395.85,700.31 397.13,700.94 398.41,701.53 399.69,702.09 400.96,702.60 402.24,703.09 403.52,703.54 404.80,703.97 406.08,704.36 407.35,704.73 408.63,705.07 409.91,705.39 411.19,705.68 412.47,705.95 413.74,706.21 415.02,706.44 416.30,706.66 417.58,706.86 418.86,707.04 420.13,707.22 421.41,707.37 422.69,707.52 423.97,707.65 425.25,707.77 426.52,707.88 427.80,707.99 429.08,708.08 430.36,708.17 431.64,708.25 432.91,708.32 434.19,708.38 435.47,708.44 436.75,708.50 438.03,708.55 439.30,708.59 440.58,708.63 441.86,708.67 443.14,708.70 444.42,708.73 445.69,708.76 446.97,708.79 448.25,708.81 449.53,708.83 450.81,708.85 452.08,708.86 453.36,708.88 454.64,708.89 455.92,708.90 457.20,708.91 458.47,708.92 459.75,708.93 461.03,708.94 462.31,708.95 463.59,708.95 464.86,708.96 466.14,708.96 467.42,708.97 468.70,708.97 469.98,708.97 471.25,708.98 472.53,708.98 473.81,708.98 475.09,708.98 476.37,708.99 477.64,708.99 478.92,708.99 480.20,708.99 481.48,708.99 482.76,708.99 484.03,708.99 485.31,708.99 486.59,709.00 487.87,709.00 489.15,709.00 490.42,709.00 491.70,709.00 492.98,709.00 494.26,709.00 495.54,709.00 496.81,709.00 498.09,709.00 499.37,709.00 500.65,709.00 501.93,709.00 503.20,709.00 504.48,709.00 505.76,709.00 507.04,709.00 508.32,709.00 509.59,709.00 510.87,709.00 512.15,709.00 513.43,709.00 514.71,709.00 515.98,709.00 517.26,709.00 518.54,709.00" fill="none" stroke="#e0161d" stroke-width="1.8"/>
<rect x="58" y="397" width="459.5" height="312" fill="none" stroke="#2a2a2a" stroke-width="1.6"/>
<line x1="58" y1="709.00" x2="63" y2="709.00" stroke="#222" stroke-width="1.3"/>
<text x="52.5" y="714.80" text-anchor="end" font-size="16.5">0</text>
<line x1="58" y1="664.50" x2="61" y2="664.50" stroke="#222" stroke-width="1.3"/>
<line x1="58" y1="620.00" x2="63" y2="620.00" stroke="#222" stroke-width="1.3"/>
<text x="52.5" y="625.80" text-anchor="end" font-size="16.5">50</text>
<line x1="58" y1="575.50" x2="61" y2="575.50" stroke="#222" stroke-width="1.3"/>
<line x1="58" y1="531.00" x2="63" y2="531.00" stroke="#222" stroke-width="1.3"/>
<text x="52.5" y="536.80" text-anchor="end" font-size="16.5">100</text>
<line x1="58" y1="486.50" x2="61" y2="486.50" stroke="#222" stroke-width="1.3"/>
<line x1="58" y1="442.00" x2="63" y2="442.00" stroke="#222" stroke-width="1.3"/>
<text x="52.5" y="447.80" text-anchor="end" font-size="16.5">150</text>
<line x1="64.85" y1="709" x2="64.85" y2="712" stroke="#222" stroke-width="1.3"/>
<line x1="96.80" y1="709" x2="96.80" y2="714" stroke="#222" stroke-width="1.3"/>
<text x="96.80" y="730" text-anchor="middle" font-size="16.5">-1,5</text>
<line x1="128.75" y1="709" x2="128.75" y2="712" stroke="#222" stroke-width="1.3"/>
<line x1="160.70" y1="709" x2="160.70" y2="714" stroke="#222" stroke-width="1.3"/>
<text x="160.70" y="730" text-anchor="middle" font-size="16.5">-1,0</text>
<line x1="192.65" y1="709" x2="192.65" y2="712" stroke="#222" stroke-width="1.3"/>
<line x1="224.60" y1="709" x2="224.60" y2="714" stroke="#222" stroke-width="1.3"/>
<text x="224.60" y="730" text-anchor="middle" font-size="16.5">-0,5</text>
<line x1="256.55" y1="709" x2="256.55" y2="712" stroke="#222" stroke-width="1.3"/>
<line x1="288.50" y1="709" x2="288.50" y2="714" stroke="#222" stroke-width="1.3"/>
<text x="288.50" y="730" text-anchor="middle" font-size="16.5">0,0</text>
<line x1="320.45" y1="709" x2="320.45" y2="712" stroke="#222" stroke-width="1.3"/>
<line x1="352.40" y1="709" x2="352.40" y2="714" stroke="#222" stroke-width="1.3"/>
<text x="352.40" y="730" text-anchor="middle" font-size="16.5">0,5</text>
<line x1="384.35" y1="709" x2="384.35" y2="712" stroke="#222" stroke-width="1.3"/>
<line x1="416.30" y1="709" x2="416.30" y2="714" stroke="#222" stroke-width="1.3"/>
<text x="416.30" y="730" text-anchor="middle" font-size="16.5">1,0</text>
<line x1="448.25" y1="709" x2="448.25" y2="712" stroke="#222" stroke-width="1.3"/>
<line x1="480.20" y1="709" x2="480.20" y2="714" stroke="#222" stroke-width="1.3"/>
<text x="480.20" y="730" text-anchor="middle" font-size="16.5">1,5</text>
<line x1="512.15" y1="709" x2="512.15" y2="712" stroke="#222" stroke-width="1.3"/>
<text x="289" y="750" text-anchor="middle" font-size="19.5">Difference from Average Wavelength (nm)</text>
<text transform="translate(18.3,552.5) rotate(-90)" text-anchor="middle" font-size="21.5">Count</text>
<text x="67.8" y="416.5" font-size="15" font-weight="bold">Fabricated Array</text>
<rect x="193.5" y="402.3" width="36" height="17.7" fill="url(#hk)" stroke="#1a1a1a" stroke-width="1"/>
<text x="67.8" y="434" font-size="15">Average Wavelength:</text>
<text x="67.8" y="452.8" font-size="15">1056,49 nm</text>
<text x="67.8" y="471.5" font-size="15">Standard Deviation:</text>
<text x="67.8" y="489.5" font-size="15">0,23 nm (261,5&#956;eV)</text>
<text x="472.5" y="416.5" text-anchor="end" font-size="14.8" font-weight="bold" fill="#e0161d">Unprocessed Sample Region</text>
<rect x="477.4" y="402.3" width="36.8" height="17.7" fill="url(#hr)" stroke="#e0161d" stroke-width="1"/>
<text x="360" y="434" font-size="15">Average Wavelength:</text>
<text x="360" y="452.8" font-size="15">1057,39 nm</text>
<text x="360" y="471.5" font-size="15">Standard Deviation:</text>
<text x="360" y="489.5" font-size="15">0,32 nm (351,83&#956;eV)</text>
<text x="63.8" y="686" font-size="15">Binwidth = 0,1nm</text>
</g>
<g id="pc">
<line x1="255.40" y1="777" x2="255.40" y2="1113" stroke="#6a6a6a" stroke-width="1.1"/>
<line x1="308.96" y1="777" x2="308.96" y2="1113" stroke="#6a6a6a" stroke-width="1.1"/>
<polyline points="103.50,1048.12 107.17,1035.70 110.84,1024.21 114.51,1013.57 118.18,1003.71 121.84,994.55 125.51,986.03 129.18,978.11 132.85,970.71 136.52,963.81 140.19,957.37 143.86,951.34 147.53,945.69 151.20,940.39 154.87,935.42 158.53,930.75 162.20,926.36 165.87,922.23 169.54,918.34 173.21,914.67 176.88,911.21 180.55,907.94 184.22,904.85 187.89,901.92 191.56,899.15 195.22,896.53 198.89,894.04 202.56,891.68 206.23,889.44 209.90,887.32 213.57,885.29 217.24,883.37 220.91,881.54 224.58,879.79 228.25,878.13 231.91,876.55 235.58,875.04 239.25,873.59 242.92,872.21 246.59,870.90 250.26,869.64 253.93,868.43 257.60,867.28 261.27,866.18 264.94,865.12 268.61,864.11 272.27,863.14 275.94,862.20 279.61,861.31 283.28,860.45 286.95,859.63 290.62,858.84 294.29,858.07 297.96,857.34 301.63,856.64 305.30,855.96 308.96,855.31 312.63,854.68 316.30,854.08 319.97,853.49 323.64,852.93 327.31,852.39 330.98,851.87 334.65,851.36 338.32,850.88 341.99,850.41 345.65,849.95 349.32,849.51 352.99,849.09 356.66,848.68 360.33,848.28 364.00,847.90 367.67,847.53 371.34,847.17 375.01,846.82 378.68,846.49 382.34,846.16 386.01,845.85 389.68,845.54 393.35,845.24 397.02,844.96 400.69,844.68 404.36,844.41 408.03,844.15 411.70,843.89 415.37,843.64 419.03,843.41 422.70,843.17 426.37,842.95 430.04,842.73 433.71,842.51 437.38,842.31 441.05,842.10 444.72,841.91 448.39,841.72 452.06,841.53 455.72,841.35 459.39,841.18 463.06,841.01 466.73,840.84" fill="none" stroke="#e0161d" stroke-width="1.8"/>
<g fill="#ec3a44" stroke="#b3101a" stroke-width="0.7">
<circle cx="103.50" cy="1048.12" r="1.75"/>
<circle cx="107.17" cy="1035.70" r="1.75"/>
<circle cx="110.84" cy="1024.21" r="1.75"/>
<circle cx="114.51" cy="1013.57" r="1.75"/>
<circle cx="118.18" cy="1003.71" r="1.75"/>
<circle cx="121.84" cy="994.55" r="1.75"/>
<circle cx="125.51" cy="986.03" r="1.75"/>
<circle cx="129.18" cy="978.11" r="1.75"/>
<circle cx="132.85" cy="970.71" r="1.75"/>
<circle cx="136.52" cy="963.81" r="1.75"/>
<circle cx="140.19" cy="957.37" r="1.75"/>
<circle cx="143.86" cy="951.34" r="1.75"/>
<circle cx="147.53" cy="945.69" r="1.75"/>
<circle cx="151.20" cy="940.39" r="1.75"/>
<circle cx="154.87" cy="935.42" r="1.75"/>
<circle cx="158.53" cy="930.75" r="1.75"/>
<circle cx="162.20" cy="926.36" r="1.75"/>
<circle cx="165.87" cy="922.23" r="1.75"/>
<circle cx="169.54" cy="918.34" r="1.75"/>
<circle cx="173.21" cy="914.67" r="1.75"/>
<circle cx="176.88" cy="911.21" r="1.75"/>
<circle cx="180.55" cy="907.94" r="1.75"/>
<circle cx="184.22" cy="904.85" r="1.75"/>
<circle cx="187.89" cy="901.92" r="1.75"/>
<circle cx="191.56" cy="899.15" r="1.75"/>
<circle cx="195.22" cy="896.53" r="1.75"/>
<circle cx="198.89" cy="894.04" r="1.75"/>
<circle cx="202.56" cy="891.68" r="1.75"/>
<circle cx="206.23" cy="889.44" r="1.75"/>
<circle cx="209.90" cy="887.32" r="1.75"/>
<circle cx="213.57" cy="885.29" r="1.75"/>
<circle cx="217.24" cy="883.37" r="1.75"/>
<circle cx="220.91" cy="881.54" r="1.75"/>
<circle cx="224.58" cy="879.79" r="1.75"/>
<circle cx="228.25" cy="878.13" r="1.75"/>
<circle cx="231.91" cy="876.55" r="1.75"/>
<circle cx="235.58" cy="875.04" r="1.75"/>
<circle cx="239.25" cy="873.59" r="1.75"/>
<circle cx="242.92" cy="872.21" r="1.75"/>
<circle cx="246.59" cy="870.90" r="1.75"/>
<circle cx="250.26" cy="869.64" r="1.75"/>
<circle cx="253.93" cy="868.43" r="1.75"/>
<circle cx="257.60" cy="867.28" r="1.75"/>
<circle cx="261.27" cy="866.18" r="1.75"/>
<circle cx="264.94" cy="865.12" r="1.75"/>
<circle cx="268.61" cy="864.11" r="1.75"/>
<circle cx="272.27" cy="863.14" r="1.75"/>
<circle cx="275.94" cy="862.20" r="1.75"/>
<circle cx="279.61" cy="861.31" r="1.75"/>
<circle cx="283.28" cy="860.45" r="1.75"/>
<circle cx="286.95" cy="859.63" r="1.75"/>
<circle cx="290.62" cy="858.84" r="1.75"/>
<circle cx="294.29" cy="858.07" r="1.75"/>
<circle cx="297.96" cy="857.34" r="1.75"/>
<circle cx="301.63" cy="856.64" r="1.75"/>
<circle cx="305.30" cy="855.96" r="1.75"/>
<circle cx="308.96" cy="855.31" r="1.75"/>
<circle cx="312.63" cy="854.68" r="1.75"/>
<circle cx="316.30" cy="854.08" r="1.75"/>
<circle cx="319.97" cy="853.49" r="1.75"/>
<circle cx="323.64" cy="852.93" r="1.75"/>
<circle cx="327.31" cy="852.39" r="1.75"/>
<circle cx="330.98" cy="851.87" r="1.75"/>
<circle cx="334.65" cy="851.36" r="1.75"/>
<circle cx="338.32" cy="850.88" r="1.75"/>
<circle cx="341.99" cy="850.41" r="1.75"/>
<circle cx="345.65" cy="849.95" r="1.75"/>
<circle cx="349.32" cy="849.51" r="1.75"/>
<circle cx="352.99" cy="849.09" r="1.75"/>
<circle cx="356.66" cy="848.68" r="1.75"/>
<circle cx="360.33" cy="848.28" r="1.75"/>
<circle cx="364.00" cy="847.90" r="1.75"/>
<circle cx="367.67" cy="847.53" r="1.75"/>
<circle cx="371.34" cy="847.17" r="1.75"/>
<circle cx="375.01" cy="846.82" r="1.75"/>
<circle cx="378.68" cy="846.49" r="1.75"/>
<circle cx="382.34" cy="846.16" r="1.75"/>
<circle cx="386.01" cy="845.85" r="1.75"/>
<circle cx="389.68" cy="845.54" r="1.75"/>
<circle cx="393.35" cy="845.24" r="1.75"/>
<circle cx="397.02" cy="844.96" r="1.75"/>
<circle cx="400.69" cy="844.68" r="1.75"/>
<circle cx="404.36" cy="844.41" r="1.75"/>
<circle cx="408.03" cy="844.15" r="1.75"/>
<circle cx="411.70" cy="843.89" r="1.75"/>
<circle cx="415.37" cy="843.64" r="1.75"/>
<circle cx="419.03" cy="843.41" r="1.75"/>
<circle cx="422.70" cy="843.17" r="1.75"/>
<circle cx="426.37" cy="842.95" r="1.75"/>
<circle cx="430.04" cy="842.73" r="1.75"/>
<circle cx="433.71" cy="842.51" r="1.75"/>
<circle cx="437.38" cy="842.31" r="1.75"/>
<circle cx="441.05" cy="842.10" r="1.75"/>
<circle cx="444.72" cy="841.91" r="1.75"/>
<circle cx="448.39" cy="841.72" r="1.75"/>
<circle cx="452.06" cy="841.53" r="1.75"/>
<circle cx="455.72" cy="841.35" r="1.75"/>
<circle cx="459.39" cy="841.18" r="1.75"/>
<circle cx="463.06" cy="841.01" r="1.75"/>
<circle cx="466.73" cy="840.84" r="1.75"/>
</g>
<rect x="57.5" y="777" width="458.5" height="336" fill="none" stroke="#1a1a1a" stroke-width="1.6"/>
<line x1="57.5" y1="1101.98" x2="64.5" y2="1101.98" stroke="#1a1a1a" stroke-width="1.3"/>
<text x="50.5" y="1108.18" text-anchor="end" font-size="17.5">-12</text>
<line x1="57.5" y1="1079.54" x2="61.5" y2="1079.54" stroke="#1a1a1a" stroke-width="1.3"/>
<text x="50.5" y="1085.74" text-anchor="end" font-size="17.5">-11</text>
<line x1="57.5" y1="1057.10" x2="64.5" y2="1057.10" stroke="#1a1a1a" stroke-width="1.3"/>
<text x="50.5" y="1063.30" text-anchor="end" font-size="17.5">-10</text>
<line x1="57.5" y1="1034.66" x2="61.5" y2="1034.66" stroke="#1a1a1a" stroke-width="1.3"/>
<text x="50.5" y="1040.86" text-anchor="end" font-size="17.5">-9</text>
<line x1="57.5" y1="1012.22" x2="64.5" y2="1012.22" stroke="#1a1a1a" stroke-width="1.3"/>
<text x="50.5" y="1018.42" text-anchor="end" font-size="17.5">-8</text>
<line x1="57.5" y1="989.78" x2="61.5" y2="989.78" stroke="#1a1a1a" stroke-width="1.3"/>
<text x="50.5" y="995.98" text-anchor="end" font-size="17.5">-7</text>
<line x1="57.5" y1="967.34" x2="64.5" y2="967.34" stroke="#1a1a1a" stroke-width="1.3"/>
<text x="50.5" y="973.54" text-anchor="end" font-size="17.5">-6</text>
<line x1="57.5" y1="944.90" x2="61.5" y2="944.90" stroke="#1a1a1a" stroke-width="1.3"/>
<text x="50.5" y="951.10" text-anchor="end" font-size="17.5">-5</text>
<line x1="57.5" y1="922.46" x2="64.5" y2="922.46" stroke="#1a1a1a" stroke-width="1.3"/>
<text x="50.5" y="928.66" text-anchor="end" font-size="17.5">-4</text>
<line x1="57.5" y1="900.02" x2="61.5" y2="900.02" stroke="#1a1a1a" stroke-width="1.3"/>
<text x="50.5" y="906.22" text-anchor="end" font-size="17.5">-3</text>
<line x1="57.5" y1="877.58" x2="64.5" y2="877.58" stroke="#1a1a1a" stroke-width="1.3"/>
<text x="50.5" y="883.78" text-anchor="end" font-size="17.5">-2</text>
<line x1="57.5" y1="855.14" x2="61.5" y2="855.14" stroke="#1a1a1a" stroke-width="1.3"/>
<text x="50.5" y="861.34" text-anchor="end" font-size="17.5">-1</text>
<line x1="57.5" y1="832.70" x2="64.5" y2="832.70" stroke="#1a1a1a" stroke-width="1.3"/>
<text x="50.5" y="838.90" text-anchor="end" font-size="17.5">0</text>
<line x1="57.5" y1="810.26" x2="61.5" y2="810.26" stroke="#1a1a1a" stroke-width="1.3"/>
<text x="50.5" y="816.46" text-anchor="end" font-size="17.5">1</text>
<line x1="57.5" y1="787.82" x2="64.5" y2="787.82" stroke="#1a1a1a" stroke-width="1.3"/>
<text x="50.5" y="794.02" text-anchor="end" font-size="17.5">2</text>
<line x1="103.50" y1="1113" x2="103.50" y2="1106" stroke="#1a1a1a" stroke-width="1.3"/>
<text x="103.50" y="1134.6" text-anchor="middle" font-size="17.5">2000</text>
<line x1="195.22" y1="1113" x2="195.22" y2="1106" stroke="#1a1a1a" stroke-width="1.3"/>
<text x="195.22" y="1134.6" text-anchor="middle" font-size="17.5">3000</text>
<line x1="286.95" y1="1113" x2="286.95" y2="1106" stroke="#1a1a1a" stroke-width="1.3"/>
<text x="286.95" y="1134.6" text-anchor="middle" font-size="17.5">4000</text>
<line x1="378.68" y1="1113" x2="378.68" y2="1106" stroke="#1a1a1a" stroke-width="1.3"/>
<text x="378.68" y="1134.6" text-anchor="middle" font-size="17.5">5000</text>
<line x1="470.40" y1="1113" x2="470.40" y2="1106" stroke="#1a1a1a" stroke-width="1.3"/>
<text x="470.40" y="1134.6" text-anchor="middle" font-size="17.5">6000</text>
<line x1="211.7" y1="896.2" x2="248" y2="896.2" stroke="#111" stroke-width="1.5"/>
<polygon points="254.5,896.2 246,892.8 246,899.6" fill="#111"/>
<line x1="347" y1="896.2" x2="315" y2="896.2" stroke="#111" stroke-width="1.5"/>
<polygon points="308.8,896.2 317.3,892.8 317.3,899.6" fill="#111"/>
<text x="351.5" y="880" font-size="16">Used Diameter</text>
<text x="351.5" y="903.5" font-size="16">Window in the</text>
<text x="351.5" y="928.5" font-size="16">presented Array</text>
<text x="335.5" y="951" font-size="16">(3656 nm - 4240nm)</text>
<line x1="329" y1="1046.3" x2="367.5" y2="1046.3" stroke="#e0161d" stroke-width="2"/>
<circle cx="348.2" cy="1046.3" r="1.5" fill="#e0161d" stroke="#b00" stroke-width="0.5"/>
<text x="372.3" y="1052.4" font-size="19.3">Slope dE<tspan font-size="14.5" font-weight="bold" dy="6" dx="0.5">c</tspan><tspan dy="-6" dx="1">/dd</tspan><tspan font-size="14.5" font-weight="bold" dy="6" dx="0.5">c</tspan></text>
<text x="330.5" y="1074.5" font-size="19">for <tspan font-family="Liberation Serif, serif" font-size="23">&#945;</tspan><tspan font-size="12" dy="6">r</tspan><tspan dy="-6"> = 0.95</tspan></text>
<text x="184.5" y="1155.8" font-size="18.4">d<tspan font-size="13" font-weight="bold" dy="5">c</tspan><tspan dy="-5"> = Pillar Diameter (nm)</tspan></text>
<text transform="translate(18.5,1015.6) rotate(-90)" font-size="19">dE<tspan font-size="13" font-weight="bold" dy="5">c</tspan><tspan dy="-5">/dd</tspan><tspan font-size="13" font-weight="bold" dy="5">c</tspan><tspan dy="-5"> (&#956;eV/nm)</tspan></text>
</g>
</svg></body></html>
